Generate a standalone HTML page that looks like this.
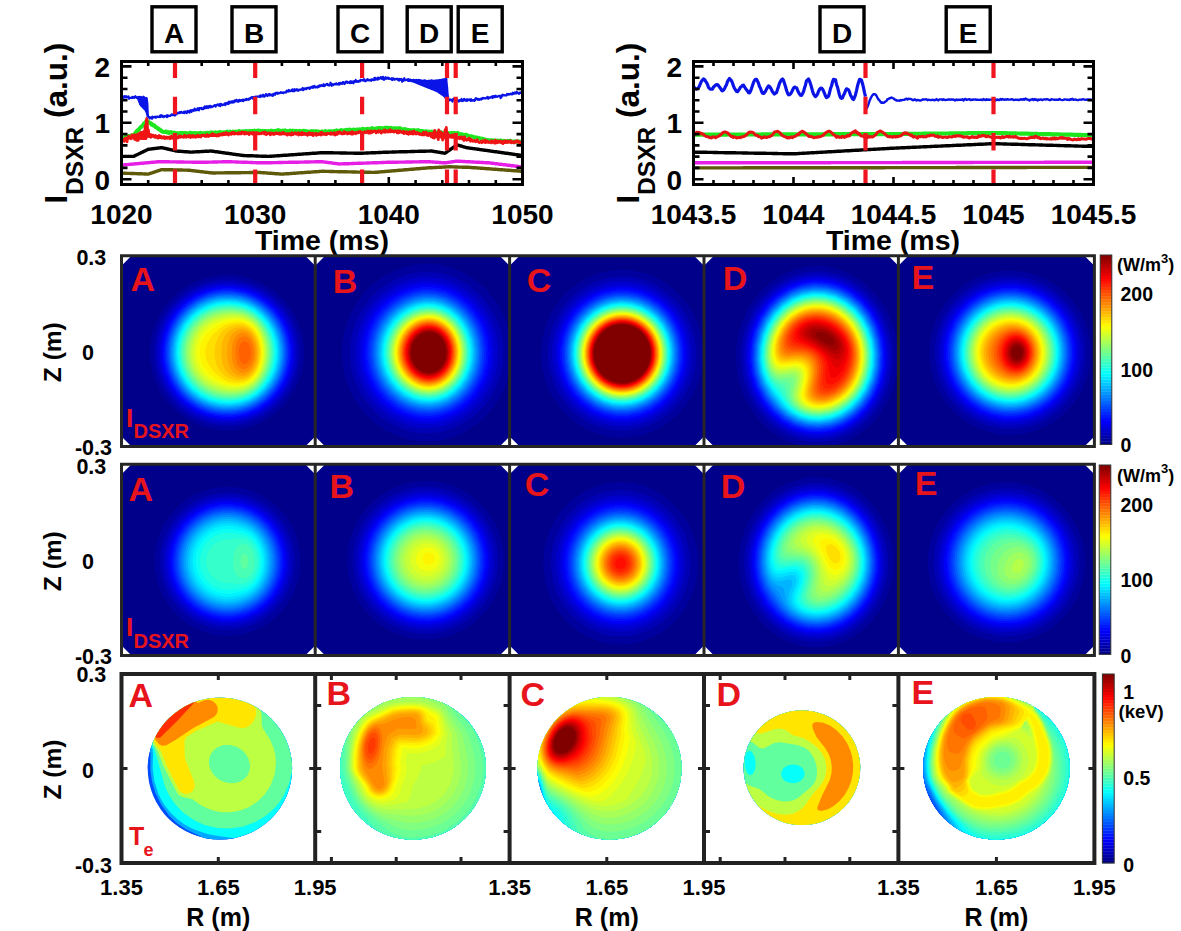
<!DOCTYPE html><html><head><meta charset="utf-8"><style>html,body{margin:0;padding:0;background:#fff;overflow:hidden}svg{display:block}text{font-family:"Liberation Sans",sans-serif;font-weight:bold}</style></head><body>
<svg width="1181" height="931" viewBox="0 0 1181 931">
<defs><clipPath id="c1"><rect x="123" y="63" width="398" height="120"/></clipPath><clipPath id="c2"><rect x="695" y="63" width="397" height="120"/></clipPath></defs>
<rect width="1181" height="931" fill="#fff"/>
<g clip-path="url(#c1)">
<polyline points="121.5,173.2 122.2,173.2 122.8,173.3 123.5,173.3 124.2,173.3 124.8,173.3 125.5,173.3 126.2,173.3 126.8,173.4 127.5,173.4 128.2,173.4 128.9,173.4 129.5,173.4 130.2,173.4 130.9,173.5 131.5,173.5 132.2,173.5 132.9,173.5 133.5,173.5 134.2,173.5 134.9,173.6 135.5,173.6 136.2,173.6 136.9,173.6 137.5,173.7 138.2,173.7 138.9,173.7 139.5,173.8 140.2,173.8 140.9,173.8 141.5,173.8 142.2,173.9 142.9,173.9 143.6,173.9 144.2,174.0 144.9,174.0 145.6,174.0 146.2,174.0 146.9,174.1 147.6,174.1 148.2,174.1 148.9,173.9 149.6,173.7 150.2,173.4 150.9,173.2 151.6,173.0 152.2,172.8 152.9,172.5 153.6,172.3 154.2,172.1 154.9,171.9 155.6,171.6 156.3,171.4 156.9,171.2 157.6,171.0 158.3,170.7 158.9,170.5 159.6,170.3 160.3,170.1 160.9,169.8 161.6,169.6 162.3,169.6 162.9,169.6 163.6,169.7 164.3,169.7 164.9,169.7 165.6,169.7 166.3,169.7 166.9,169.7 167.6,169.7 168.3,169.8 169.0,169.8 169.6,169.8 170.3,169.8 171.0,169.8 171.6,169.8 172.3,169.8 173.0,169.9 173.6,169.9 174.3,169.9 175.0,169.9 175.6,169.9 176.3,169.9 177.0,169.9 177.6,170.0 178.3,170.0 179.0,170.0 179.6,170.0 180.3,170.0 181.0,170.0 181.6,170.0 182.3,170.0 183.0,170.1 183.7,170.1 184.3,170.1 185.0,170.1 185.7,170.1 186.3,170.1 187.0,170.1 187.7,170.2 188.3,170.2 189.0,170.3 189.7,170.3 190.3,170.4 191.0,170.5 191.7,170.6 192.3,170.6 193.0,170.7 193.7,170.8 194.3,170.9 195.0,171.0 195.7,171.0 196.4,171.1 197.0,171.2 197.7,171.3 198.4,171.4 199.0,171.4 199.7,171.5 200.4,171.6 201.0,171.7 201.7,171.7 202.4,171.8 203.0,171.9 203.7,172.0 204.4,172.1 205.0,172.1 205.7,172.2 206.4,172.3 207.0,172.4 207.7,172.4 208.4,172.5 209.1,172.6 209.7,172.7 210.4,172.8 211.1,172.8 211.7,172.9 212.4,173.0 213.1,173.0 213.7,173.0 214.4,173.0 215.1,173.0 215.7,173.0 216.4,172.9 217.1,172.9 217.7,172.9 218.4,172.9 219.1,172.9 219.7,172.9 220.4,172.9 221.1,172.9 221.7,172.9 222.4,172.9 223.1,172.9 223.8,172.9 224.4,172.9 225.1,172.8 225.8,172.8 226.4,172.8 227.1,172.8 227.8,172.8 228.4,172.8 229.1,172.8 229.8,172.8 230.4,172.8 231.1,172.8 231.8,172.8 232.4,172.8 233.1,172.7 233.8,172.7 234.4,172.7 235.1,172.7 235.8,172.7 236.5,172.7 237.1,172.7 237.8,172.7 238.5,172.7 239.1,172.7 239.8,172.7 240.5,172.7 241.1,172.6 241.8,172.6 242.5,172.6 243.1,172.6 243.8,172.6 244.5,172.6 245.1,172.6 245.8,172.6 246.5,172.6 247.1,172.6 247.8,172.6 248.5,172.6 249.2,172.6 249.8,172.5 250.5,172.5 251.2,172.5 251.8,172.5 252.5,172.5 253.2,172.5 253.8,172.5 254.5,172.5 255.2,172.5 255.8,172.5 256.5,172.5 257.2,172.5 257.8,172.4 258.5,172.4 259.2,172.4 259.8,172.5 260.5,172.5 261.2,172.6 261.8,172.6 262.5,172.7 263.2,172.7 263.9,172.8 264.5,172.8 265.2,172.9 265.9,172.9 266.5,173.0 267.2,173.0 267.9,173.1 268.5,173.1 269.2,173.2 269.9,173.2 270.5,173.3 271.2,173.3 271.9,173.4 272.5,173.4 273.2,173.5 273.9,173.5 274.5,173.6 275.2,173.6 275.9,173.7 276.6,173.7 277.2,173.8 277.9,173.8 278.6,173.9 279.2,173.9 279.9,174.0 280.6,174.0 281.2,174.1 281.9,174.1 282.6,174.1 283.2,174.0 283.9,174.0 284.6,173.9 285.2,173.9 285.9,173.8 286.6,173.8 287.2,173.7 287.9,173.7 288.6,173.7 289.3,173.6 289.9,173.6 290.6,173.5 291.3,173.5 291.9,173.4 292.6,173.4 293.3,173.3 293.9,173.3 294.6,173.2 295.3,173.2 295.9,173.1 296.6,173.1 297.3,173.0 297.9,173.0 298.6,172.9 299.3,172.9 299.9,172.9 300.6,172.8 301.3,172.8 301.9,172.7 302.6,172.7 303.3,172.6 304.0,172.6 304.6,172.5 305.3,172.5 306.0,172.4 306.6,172.4 307.3,172.3 308.0,172.3 308.6,172.2 309.3,172.2 310.0,172.2 310.6,172.1 311.3,172.1 312.0,172.0 312.6,172.0 313.3,171.9 314.0,171.9 314.6,171.8 315.3,171.8 316.0,171.7 316.7,171.7 317.3,171.6 318.0,171.6 318.7,171.5 319.3,171.5 320.0,171.4 320.7,171.4 321.3,171.4 322.0,171.3 322.7,171.3 323.3,171.3 324.0,171.3 324.7,171.4 325.3,171.4 326.0,171.4 326.7,171.4 327.3,171.4 328.0,171.4 328.7,171.4 329.4,171.5 330.0,171.5 330.7,171.5 331.4,171.5 332.0,171.5 332.7,171.5 333.4,171.5 334.0,171.6 334.7,171.6 335.4,171.6 336.0,171.6 336.7,171.6 337.4,171.6 338.0,171.7 338.7,171.7 339.4,171.7 340.0,171.7 340.7,171.7 341.4,171.7 342.0,171.7 342.7,171.8 343.4,171.8 344.1,171.8 344.7,171.8 345.4,171.8 346.1,171.8 346.7,171.8 347.4,171.9 348.1,171.9 348.7,171.9 349.4,171.9 350.1,171.9 350.7,171.9 351.4,171.9 352.1,172.0 352.7,172.0 353.4,172.0 354.1,172.0 354.7,172.0 355.4,172.0 356.1,172.0 356.8,172.1 357.4,172.1 358.1,172.1 358.8,172.1 359.4,172.1 360.1,172.1 360.8,172.1 361.4,172.2 362.1,172.2 362.8,172.2 363.4,172.2 364.1,172.2 364.8,172.2 365.4,172.2 366.1,172.3 366.8,172.3 367.4,172.3 368.1,172.3 368.8,172.3 369.5,172.3 370.1,172.3 370.8,172.4 371.5,172.4 372.1,172.4 372.8,172.4 373.5,172.4 374.1,172.4 374.8,172.4 375.5,172.3 376.1,172.3 376.8,172.2 377.5,172.2 378.1,172.1 378.8,172.0 379.5,172.0 380.1,171.9 380.8,171.9 381.5,171.8 382.1,171.8 382.8,171.7 383.5,171.6 384.2,171.6 384.8,171.5 385.5,171.5 386.2,171.4 386.8,171.4 387.5,171.3 388.2,171.2 388.8,171.2 389.5,171.1 390.2,171.1 390.8,171.0 391.5,171.0 392.2,170.9 392.8,170.9 393.5,170.8 394.2,170.7 394.8,170.7 395.5,170.6 396.2,170.6 396.9,170.5 397.5,170.5 398.2,170.4 398.9,170.3 399.5,170.3 400.2,170.2 400.9,170.2 401.5,170.1 402.2,170.1 402.9,170.0 403.5,170.0 404.2,169.9 404.9,169.8 405.5,169.8 406.2,169.7 406.9,169.7 407.5,169.6 408.2,169.6 408.9,169.5 409.6,169.4 410.2,169.4 410.9,169.3 411.6,169.3 412.2,169.2 412.9,169.2 413.6,169.1 414.2,169.0 414.9,169.0 415.6,168.9 416.2,168.9 416.9,168.8 417.6,168.8 418.2,168.7 418.9,168.7 419.6,168.6 420.2,168.5 420.9,168.5 421.6,168.4 422.2,168.4 422.9,168.3 423.6,168.3 424.3,168.2 424.9,168.1 425.6,168.1 426.3,168.0 426.9,168.0 427.6,167.9 428.3,167.9 428.9,167.8 429.6,167.8 430.3,167.8 430.9,167.7 431.6,167.7 432.3,167.7 432.9,167.6 433.6,167.6 434.3,167.6 434.9,167.5 435.6,167.5 436.3,167.5 437.0,167.4 437.6,167.4 438.3,167.4 439.0,167.3 439.6,167.3 440.3,167.3 441.0,167.2 441.6,167.2 442.3,167.1 443.0,167.1 443.6,167.1 444.3,167.0 445.0,167.0 445.6,167.0 446.3,166.9 447.0,166.9 447.6,166.9 448.3,166.8 449.0,166.8 449.7,166.8 450.3,166.8 451.0,166.8 451.7,166.9 452.3,166.9 453.0,166.9 453.7,166.9 454.3,166.9 455.0,167.0 455.7,167.0 456.3,167.0 457.0,167.0 457.7,167.0 458.3,167.1 459.0,167.1 459.7,167.1 460.3,167.1 461.0,167.1 461.7,167.1 462.3,167.2 463.0,167.2 463.7,167.2 464.4,167.2 465.0,167.2 465.7,167.3 466.4,167.3 467.0,167.3 467.7,167.3 468.4,167.3 469.0,167.4 469.7,167.4 470.4,167.5 471.0,167.5 471.7,167.6 472.4,167.6 473.0,167.7 473.7,167.7 474.4,167.8 475.0,167.8 475.7,167.8 476.4,167.9 477.1,167.9 477.7,168.0 478.4,168.0 479.1,168.1 479.7,168.1 480.4,168.2 481.1,168.2 481.7,168.3 482.4,168.3 483.1,168.4 483.7,168.4 484.4,168.5 485.1,168.5 485.7,168.6 486.4,168.6 487.1,168.7 487.7,168.7 488.4,168.8 489.1,168.8 489.8,168.9 490.4,168.9 491.1,169.0 491.8,169.0 492.4,169.1 493.1,169.1 493.8,169.2 494.4,169.2 495.1,169.3 495.8,169.3 496.4,169.4 497.1,169.4 497.8,169.5 498.4,169.5 499.1,169.6 499.8,169.6 500.4,169.7 501.1,169.7 501.8,169.8 502.4,169.8 503.1,169.9 503.8,169.9 504.5,170.0 505.1,170.0 505.8,170.1 506.5,170.1 507.1,170.2 507.8,170.2 508.5,170.3 509.1,170.3 509.8,170.4 510.5,170.4 511.1,170.5 511.8,170.5 512.5,170.6 513.1,170.6 513.8,170.7 514.5,170.7 515.1,170.8 515.8,170.8 516.5,170.9 517.2,170.9 517.8,171.0 518.5,171.0 519.2,171.1 519.8,171.1 520.5,171.2 521.2,171.2 521.8,171.3 522.5,171.3" fill="none" stroke="#5f5a0a" stroke-width="3.4" stroke-linejoin="round" />
<polyline points="121.5,165.1 122.2,165.0 122.8,165.0 123.5,164.9 124.2,164.9 124.8,164.8 125.5,164.7 126.2,164.7 126.8,164.6 127.5,164.6 128.2,164.5 128.9,164.4 129.5,164.4 130.2,164.3 130.9,164.3 131.5,164.2 132.2,164.1 132.9,164.1 133.5,164.0 134.2,164.0 134.9,163.9 135.5,163.8 136.2,163.8 136.9,163.7 137.5,163.6 138.2,163.6 138.9,163.5 139.5,163.5 140.2,163.4 140.9,163.3 141.5,163.3 142.2,163.2 142.9,163.2 143.6,163.1 144.2,163.0 144.9,163.0 145.6,162.9 146.2,162.9 146.9,162.8 147.6,162.7 148.2,162.7 148.9,162.6 149.6,162.6 150.2,162.5 150.9,162.4 151.6,162.4 152.2,162.3 152.9,162.3 153.6,162.2 154.2,162.1 154.9,162.1 155.6,162.0 156.3,162.0 156.9,161.9 157.6,161.8 158.3,161.8 158.9,161.7 159.6,161.7 160.3,161.7 160.9,161.7 161.6,161.8 162.3,161.8 162.9,161.8 163.6,161.8 164.3,161.8 164.9,161.8 165.6,161.8 166.3,161.8 166.9,161.8 167.6,161.8 168.3,161.8 169.0,161.8 169.6,161.9 170.3,161.9 171.0,161.9 171.6,161.9 172.3,161.9 173.0,161.9 173.6,161.9 174.3,161.9 175.0,161.9 175.6,161.9 176.3,161.9 177.0,162.0 177.6,162.0 178.3,162.0 179.0,162.0 179.6,162.0 180.3,162.0 181.0,162.0 181.6,162.0 182.3,162.0 183.0,162.0 183.7,162.0 184.3,162.1 185.0,162.1 185.7,162.1 186.3,162.1 187.0,162.1 187.7,162.1 188.3,162.1 189.0,162.1 189.7,162.1 190.3,162.1 191.0,162.1 191.7,162.1 192.3,162.2 193.0,162.2 193.7,162.2 194.3,162.2 195.0,162.2 195.7,162.2 196.4,162.2 197.0,162.2 197.7,162.2 198.4,162.2 199.0,162.2 199.7,162.3 200.4,162.3 201.0,162.3 201.7,162.3 202.4,162.3 203.0,162.3 203.7,162.2 204.4,162.2 205.0,162.2 205.7,162.2 206.4,162.2 207.0,162.2 207.7,162.2 208.4,162.1 209.1,162.1 209.7,162.1 210.4,162.1 211.1,162.1 211.7,162.1 212.4,162.1 213.1,162.0 213.7,162.0 214.4,162.0 215.1,162.0 215.7,162.0 216.4,162.0 217.1,162.0 217.7,161.9 218.4,161.9 219.1,161.9 219.7,161.9 220.4,161.9 221.1,161.9 221.7,161.9 222.4,161.8 223.1,161.8 223.8,161.8 224.4,161.8 225.1,161.8 225.8,161.8 226.4,161.8 227.1,161.7 227.8,161.7 228.4,161.7 229.1,161.7 229.8,161.8 230.4,161.8 231.1,161.8 231.8,161.8 232.4,161.9 233.1,161.9 233.8,161.9 234.4,161.9 235.1,161.9 235.8,162.0 236.5,162.0 237.1,162.0 237.8,162.0 238.5,162.1 239.1,162.1 239.8,162.1 240.5,162.1 241.1,162.1 241.8,162.2 242.5,162.2 243.1,162.2 243.8,162.2 244.5,162.3 245.1,162.3 245.8,162.3 246.5,162.3 247.1,162.3 247.8,162.4 248.5,162.4 249.2,162.4 249.8,162.4 250.5,162.5 251.2,162.5 251.8,162.5 252.5,162.5 253.2,162.6 253.8,162.6 254.5,162.6 255.2,162.6 255.8,162.6 256.5,162.7 257.2,162.7 257.8,162.7 258.5,162.7 259.2,162.8 259.8,162.8 260.5,162.8 261.2,162.8 261.8,162.8 262.5,162.8 263.2,162.8 263.9,162.8 264.5,162.8 265.2,162.8 265.9,162.8 266.5,162.8 267.2,162.7 267.9,162.7 268.5,162.7 269.2,162.7 269.9,162.7 270.5,162.7 271.2,162.7 271.9,162.7 272.5,162.6 273.2,162.6 273.9,162.6 274.5,162.6 275.2,162.6 275.9,162.6 276.6,162.6 277.2,162.6 277.9,162.5 278.6,162.5 279.2,162.5 279.9,162.5 280.6,162.5 281.2,162.5 281.9,162.5 282.6,162.5 283.2,162.4 283.9,162.4 284.6,162.4 285.2,162.4 285.9,162.4 286.6,162.4 287.2,162.4 287.9,162.4 288.6,162.3 289.3,162.3 289.9,162.3 290.6,162.3 291.3,162.3 291.9,162.3 292.6,162.3 293.3,162.3 293.9,162.2 294.6,162.2 295.3,162.2 295.9,162.2 296.6,162.2 297.3,162.2 297.9,162.2 298.6,162.2 299.3,162.1 299.9,162.1 300.6,162.1 301.3,162.1 301.9,162.1 302.6,162.1 303.3,162.1 304.0,162.1 304.6,162.0 305.3,162.0 306.0,162.0 306.6,162.0 307.3,162.0 308.0,162.0 308.6,162.0 309.3,162.0 310.0,161.9 310.6,161.9 311.3,161.9 312.0,161.9 312.6,161.9 313.3,161.9 314.0,161.9 314.6,161.9 315.3,161.8 316.0,161.8 316.7,161.8 317.3,161.8 318.0,161.8 318.7,161.8 319.3,161.8 320.0,161.8 320.7,161.7 321.3,161.7 322.0,161.7 322.7,161.8 323.3,161.9 324.0,162.0 324.7,162.1 325.3,162.1 326.0,162.2 326.7,162.3 327.3,162.4 328.0,162.5 328.7,162.6 329.4,162.7 330.0,162.8 330.7,162.8 331.4,162.9 332.0,163.0 332.7,163.1 333.4,163.2 334.0,163.3 334.7,163.4 335.4,163.5 336.0,163.5 336.7,163.6 337.4,163.7 338.0,163.8 338.7,163.9 339.4,164.0 340.0,163.9 340.7,163.9 341.4,163.9 342.0,163.9 342.7,163.9 343.4,163.8 344.1,163.8 344.7,163.8 345.4,163.8 346.1,163.7 346.7,163.7 347.4,163.7 348.1,163.7 348.7,163.7 349.4,163.6 350.1,163.6 350.7,163.6 351.4,163.6 352.1,163.5 352.7,163.5 353.4,163.5 354.1,163.5 354.7,163.4 355.4,163.4 356.1,163.4 356.8,163.4 357.4,163.4 358.1,163.3 358.8,163.3 359.4,163.3 360.1,163.3 360.8,163.2 361.4,163.2 362.1,163.2 362.8,163.2 363.4,163.1 364.1,163.1 364.8,163.1 365.4,163.1 366.1,163.1 366.8,163.0 367.4,163.0 368.1,163.0 368.8,163.0 369.5,162.9 370.1,162.9 370.8,162.9 371.5,162.9 372.1,162.9 372.8,162.8 373.5,162.8 374.1,162.8 374.8,162.8 375.5,162.7 376.1,162.7 376.8,162.7 377.5,162.7 378.1,162.6 378.8,162.6 379.5,162.6 380.1,162.6 380.8,162.6 381.5,162.5 382.1,162.5 382.8,162.5 383.5,162.5 384.2,162.4 384.8,162.4 385.5,162.4 386.2,162.4 386.8,162.3 387.5,162.3 388.2,162.3 388.8,162.3 389.5,162.3 390.2,162.3 390.8,162.3 391.5,162.2 392.2,162.2 392.8,162.2 393.5,162.2 394.2,162.2 394.8,162.2 395.5,162.2 396.2,162.2 396.9,162.2 397.5,162.2 398.2,162.1 398.9,162.1 399.5,162.1 400.2,162.1 400.9,162.1 401.5,162.1 402.2,162.1 402.9,162.1 403.5,162.1 404.2,162.1 404.9,162.1 405.5,162.0 406.2,162.0 406.9,162.0 407.5,162.0 408.2,162.0 408.9,162.0 409.6,162.0 410.2,162.0 410.9,162.0 411.6,162.0 412.2,162.0 412.9,161.9 413.6,161.9 414.2,161.9 414.9,161.9 415.6,161.9 416.2,161.9 416.9,161.9 417.6,161.9 418.2,161.9 418.9,161.9 419.6,161.8 420.2,161.8 420.9,161.8 421.6,161.8 422.2,161.8 422.9,161.8 423.6,161.8 424.3,161.8 424.9,161.8 425.6,161.8 426.3,161.8 426.9,161.7 427.6,161.7 428.3,161.7 428.9,161.7 429.6,161.8 430.3,161.8 430.9,161.9 431.6,161.9 432.3,162.0 432.9,162.0 433.6,162.0 434.3,162.1 434.9,162.1 435.6,162.2 436.3,162.2 437.0,162.3 437.6,162.3 438.3,162.4 439.0,162.4 439.6,162.5 440.3,162.5 441.0,162.6 441.6,162.6 442.3,162.7 443.0,162.7 443.6,162.7 444.3,162.8 445.0,162.8 445.6,162.8 446.3,162.7 447.0,162.6 447.6,162.5 448.3,162.4 449.0,162.3 449.7,162.2 450.3,162.1 451.0,162.0 451.7,161.9 452.3,161.8 453.0,161.7 453.7,161.6 454.3,161.5 455.0,161.4 455.7,161.3 456.3,161.2 457.0,161.2 457.7,161.2 458.3,161.2 459.0,161.3 459.7,161.3 460.3,161.3 461.0,161.4 461.7,161.4 462.3,161.4 463.0,161.5 463.7,161.5 464.4,161.5 465.0,161.6 465.7,161.6 466.4,161.6 467.0,161.7 467.7,161.7 468.4,161.8 469.0,161.8 469.7,161.8 470.4,161.9 471.0,161.9 471.7,161.9 472.4,162.0 473.0,162.0 473.7,162.0 474.4,162.1 475.0,162.1 475.7,162.1 476.4,162.2 477.1,162.2 477.7,162.2 478.4,162.3 479.1,162.3 479.7,162.4 480.4,162.4 481.1,162.4 481.7,162.5 482.4,162.5 483.1,162.5 483.7,162.6 484.4,162.6 485.1,162.6 485.7,162.7 486.4,162.7 487.1,162.7 487.7,162.8 488.4,162.8 489.1,162.8 489.8,162.9 490.4,163.0 491.1,163.1 491.8,163.2 492.4,163.3 493.1,163.3 493.8,163.4 494.4,163.5 495.1,163.6 495.8,163.7 496.4,163.8 497.1,163.8 497.8,163.9 498.4,164.0 499.1,164.1 499.8,164.2 500.4,164.3 501.1,164.3 501.8,164.4 502.4,164.5 503.1,164.6 503.8,164.7 504.5,164.8 505.1,164.8 505.8,164.9 506.5,165.0 507.1,165.1 507.8,165.2 508.5,165.3 509.1,165.3 509.8,165.4 510.5,165.5 511.1,165.6 511.8,165.7 512.5,165.8 513.1,165.8 513.8,165.9 514.5,166.0 515.1,166.1 515.8,166.2 516.5,166.3 517.2,166.3 517.8,166.4 518.5,166.5 519.2,166.6 519.8,166.7 520.5,166.8 521.2,166.9 521.8,166.9 522.5,167.0" fill="none" stroke="#e61ee6" stroke-width="3.4" stroke-linejoin="round" />
<polyline points="121.5,156.4 122.2,156.4 122.8,156.4 123.5,156.4 124.2,156.4 124.8,156.4 125.5,156.4 126.2,156.4 126.8,156.4 127.5,156.4 128.2,156.4 128.9,156.4 129.5,156.4 130.2,156.4 130.9,156.4 131.5,156.4 132.2,156.4 132.9,156.4 133.5,156.4 134.2,156.1 134.9,155.8 135.5,155.4 136.2,155.1 136.9,154.8 137.5,154.5 138.2,154.2 138.9,153.8 139.5,153.5 140.2,153.2 140.9,152.9 141.5,152.5 142.2,152.2 142.9,151.9 143.6,151.6 144.2,151.2 144.9,150.9 145.6,150.6 146.2,150.3 146.9,150.0 147.6,149.6 148.2,149.3 148.9,149.2 149.6,149.1 150.2,149.1 150.9,149.0 151.6,148.9 152.2,148.8 152.9,148.7 153.6,148.6 154.2,148.5 154.9,148.5 155.6,148.4 156.3,148.3 156.9,148.2 157.6,148.1 158.3,148.0 158.9,148.0 159.6,147.9 160.3,147.8 160.9,147.7 161.6,147.6 162.3,147.8 162.9,147.9 163.6,148.1 164.3,148.2 164.9,148.4 165.6,148.5 166.3,148.7 166.9,148.8 167.6,149.0 168.3,149.2 169.0,149.3 169.6,149.5 170.3,149.6 171.0,149.8 171.6,149.9 172.3,150.1 173.0,150.2 173.6,150.4 174.3,150.5 175.0,150.7 175.6,150.8 176.3,151.0 177.0,151.1 177.6,151.1 178.3,151.2 179.0,151.2 179.6,151.3 180.3,151.3 181.0,151.4 181.6,151.4 182.3,151.5 183.0,151.5 183.7,151.6 184.3,151.6 185.0,151.7 185.7,151.7 186.3,151.8 187.0,151.8 187.7,151.9 188.3,151.9 189.0,152.0 189.7,152.0 190.3,152.1 191.0,152.1 191.7,152.1 192.3,152.1 193.0,152.0 193.7,152.0 194.3,151.9 195.0,151.9 195.7,151.9 196.4,151.8 197.0,151.8 197.7,151.8 198.4,151.7 199.0,151.7 199.7,151.6 200.4,151.6 201.0,151.6 201.7,151.5 202.4,151.5 203.0,151.5 203.7,151.4 204.4,151.4 205.0,151.3 205.7,151.3 206.4,151.3 207.0,151.2 207.7,151.2 208.4,151.2 209.1,151.1 209.7,151.1 210.4,151.0 211.1,151.0 211.7,151.1 212.4,151.2 213.1,151.3 213.7,151.4 214.4,151.5 215.1,151.6 215.7,151.7 216.4,151.8 217.1,151.8 217.7,151.9 218.4,152.0 219.1,152.1 219.7,152.2 220.4,152.3 221.1,152.4 221.7,152.5 222.4,152.6 223.1,152.7 223.8,152.8 224.4,152.9 225.1,153.0 225.8,153.1 226.4,153.2 227.1,153.3 227.8,153.3 228.4,153.4 229.1,153.5 229.8,153.6 230.4,153.7 231.1,153.8 231.8,153.9 232.4,154.0 233.1,154.1 233.8,154.2 234.4,154.3 235.1,154.4 235.8,154.5 236.5,154.6 237.1,154.7 237.8,154.8 238.5,154.9 239.1,154.9 239.8,155.0 240.5,155.1 241.1,155.2 241.8,155.3 242.5,155.4 243.1,155.5 243.8,155.5 244.5,155.6 245.1,155.6 245.8,155.6 246.5,155.6 247.1,155.7 247.8,155.7 248.5,155.7 249.2,155.7 249.8,155.7 250.5,155.8 251.2,155.8 251.8,155.8 252.5,155.8 253.2,155.9 253.8,155.9 254.5,155.9 255.2,155.9 255.8,156.0 256.5,156.0 257.2,156.0 257.8,156.0 258.5,156.1 259.2,156.1 259.8,156.1 260.5,156.1 261.2,156.2 261.8,156.2 262.5,156.2 263.2,156.2 263.9,156.2 264.5,156.3 265.2,156.3 265.9,156.3 266.5,156.3 267.2,156.4 267.9,156.4 268.5,156.4 269.2,156.4 269.9,156.3 270.5,156.3 271.2,156.2 271.9,156.2 272.5,156.1 273.2,156.1 273.9,156.0 274.5,156.0 275.2,155.9 275.9,155.9 276.6,155.9 277.2,155.8 277.9,155.8 278.6,155.7 279.2,155.7 279.9,155.6 280.6,155.6 281.2,155.5 281.9,155.5 282.6,155.4 283.2,155.4 283.9,155.3 284.6,155.3 285.2,155.3 285.9,155.2 286.6,155.2 287.2,155.1 287.9,155.1 288.6,155.0 289.3,155.0 289.9,154.9 290.6,154.9 291.3,154.8 291.9,154.8 292.6,154.7 293.3,154.7 293.9,154.6 294.6,154.6 295.3,154.6 295.9,154.5 296.6,154.5 297.3,154.4 297.9,154.4 298.6,154.3 299.3,154.3 299.9,154.2 300.6,154.2 301.3,154.1 301.9,154.1 302.6,154.0 303.3,154.0 304.0,153.9 304.6,153.9 305.3,153.9 306.0,153.8 306.6,153.8 307.3,153.7 308.0,153.7 308.6,153.6 309.3,153.6 310.0,153.5 310.6,153.5 311.3,153.4 312.0,153.4 312.6,153.3 313.3,153.3 314.0,153.3 314.6,153.2 315.3,153.2 316.0,153.1 316.7,153.1 317.3,153.0 318.0,153.0 318.7,152.9 319.3,152.9 320.0,152.8 320.7,152.8 321.3,152.7 322.0,152.7 322.7,152.7 323.3,152.7 324.0,152.7 324.7,152.7 325.3,152.7 326.0,152.8 326.7,152.8 327.3,152.8 328.0,152.8 328.7,152.8 329.4,152.8 330.0,152.8 330.7,152.8 331.4,152.8 332.0,152.8 332.7,152.8 333.4,152.9 334.0,152.9 334.7,152.9 335.4,152.9 336.0,152.9 336.7,152.9 337.4,152.9 338.0,152.9 338.7,152.9 339.4,152.9 340.0,153.0 340.7,153.0 341.4,153.0 342.0,153.0 342.7,153.0 343.4,153.0 344.1,153.0 344.7,153.0 345.4,153.0 346.1,153.0 346.7,153.1 347.4,153.1 348.1,153.1 348.7,153.1 349.4,153.1 350.1,153.1 350.7,153.1 351.4,153.1 352.1,153.1 352.7,153.1 353.4,153.1 354.1,153.2 354.7,153.2 355.4,153.2 356.1,153.2 356.8,153.2 357.4,153.2 358.1,153.2 358.8,153.2 359.4,153.2 360.1,153.2 360.8,153.3 361.4,153.2 362.1,153.2 362.8,153.2 363.4,153.1 364.1,153.1 364.8,153.1 365.4,153.1 366.1,153.0 366.8,153.0 367.4,153.0 368.1,153.0 368.8,152.9 369.5,152.9 370.1,152.9 370.8,152.9 371.5,152.8 372.1,152.8 372.8,152.8 373.5,152.7 374.1,152.7 374.8,152.7 375.5,152.7 376.1,152.6 376.8,152.6 377.5,152.6 378.1,152.6 378.8,152.5 379.5,152.5 380.1,152.5 380.8,152.5 381.5,152.4 382.1,152.4 382.8,152.4 383.5,152.3 384.2,152.3 384.8,152.3 385.5,152.3 386.2,152.2 386.8,152.2 387.5,152.2 388.2,152.2 388.8,152.1 389.5,152.1 390.2,152.1 390.8,152.1 391.5,152.1 392.2,152.0 392.8,152.0 393.5,152.0 394.2,152.0 394.8,152.0 395.5,152.0 396.2,151.9 396.9,151.9 397.5,151.9 398.2,151.9 398.9,151.9 399.5,151.8 400.2,151.8 400.9,151.8 401.5,151.8 402.2,151.8 402.9,151.8 403.5,151.7 404.2,151.7 404.9,151.7 405.5,151.7 406.2,151.7 406.9,151.7 407.5,151.6 408.2,151.6 408.9,151.6 409.6,151.6 410.2,151.6 410.9,151.5 411.6,151.5 412.2,151.5 412.9,151.5 413.6,151.5 414.2,151.5 414.9,151.4 415.6,151.4 416.2,151.4 416.9,151.4 417.6,151.4 418.2,151.4 418.9,151.3 419.6,151.3 420.2,151.3 420.9,151.3 421.6,151.3 422.2,151.2 422.9,151.2 423.6,151.2 424.3,151.2 424.9,151.2 425.6,151.2 426.3,151.1 426.9,151.1 427.6,151.1 428.3,151.1 428.9,151.1 429.6,151.1 430.3,151.0 430.9,151.0 431.6,151.0 432.3,151.1 432.9,151.2 433.6,151.3 434.3,151.5 434.9,151.6 435.6,151.7 436.3,151.8 437.0,151.9 437.6,152.0 438.3,152.1 439.0,152.2 439.6,152.4 440.3,152.5 441.0,152.6 441.6,152.7 442.3,152.8 443.0,152.9 443.6,153.0 444.3,153.1 445.0,153.3 445.6,152.8 446.3,152.3 447.0,151.8 447.6,151.4 448.3,150.9 449.0,150.4 449.7,150.0 450.3,149.5 451.0,149.0 451.7,148.6 452.3,148.1 453.0,147.6 453.7,147.1 454.3,146.7 455.0,146.2 455.7,145.7 456.3,145.3 457.0,144.8 457.7,145.0 458.3,145.2 459.0,145.4 459.7,145.6 460.3,145.8 461.0,146.0 461.7,146.2 462.3,146.4 463.0,146.6 463.7,146.8 464.4,147.0 465.0,147.2 465.7,147.4 466.4,147.6 467.0,147.7 467.7,147.8 468.4,147.9 469.0,148.0 469.7,148.1 470.4,148.2 471.0,148.3 471.7,148.4 472.4,148.5 473.0,148.6 473.7,148.6 474.4,148.7 475.0,148.8 475.7,148.9 476.4,149.0 477.1,149.1 477.7,149.2 478.4,149.3 479.1,149.4 479.7,149.5 480.4,149.6 481.1,149.7 481.7,149.8 482.4,149.9 483.1,150.0 483.7,150.1 484.4,150.2 485.1,150.2 485.7,150.3 486.4,150.4 487.1,150.5 487.7,150.6 488.4,150.7 489.1,150.8 489.8,150.9 490.4,151.0 491.1,151.1 491.8,151.2 492.4,151.3 493.1,151.4 493.8,151.5 494.4,151.6 495.1,151.7 495.8,151.8 496.4,151.8 497.1,151.9 497.8,152.0 498.4,152.1 499.1,152.2 499.8,152.3 500.4,152.4 501.1,152.5 501.8,152.6 502.4,152.7 503.1,152.8 503.8,152.9 504.5,153.0 505.1,153.1 505.8,153.2 506.5,153.3 507.1,153.3 507.8,153.4 508.5,153.5 509.1,153.6 509.8,153.7 510.5,153.8 511.1,153.9 511.8,154.0 512.5,154.1 513.1,154.2 513.8,154.3 514.5,154.4 515.1,154.5 515.8,154.6 516.5,154.7 517.2,154.8 517.8,154.9 518.5,154.9 519.2,155.0 519.8,155.1 520.5,155.2 521.2,155.3 521.8,155.4 522.5,155.5" fill="none" stroke="#000" stroke-width="3.4" stroke-linejoin="round" />
<polyline points="121.5,137.7 122.2,137.4 122.8,137.5 123.5,137.6 124.2,137.3 124.8,137.3 125.5,136.8 126.2,136.2 126.8,136.7 127.5,136.6 128.2,136.1 128.9,136.0 129.5,135.9 130.2,136.1 130.9,135.7 131.5,135.3 132.2,135.8 132.9,135.4 133.5,135.2 134.2,134.3 134.9,133.8 135.5,132.5 136.2,132.2 136.9,131.0 137.5,130.4 138.2,129.8 138.9,129.9 139.5,128.5 140.2,127.7 140.9,127.0 141.5,126.8 142.2,125.8 142.9,125.3 143.6,124.5 144.2,123.2 144.9,123.2 145.6,122.2 146.2,121.2 146.9,121.0 147.6,121.3 148.2,121.7 148.9,122.2 149.6,123.1 150.2,123.1 150.9,123.2 151.6,124.6 152.2,124.3 152.9,125.0 153.6,125.7 154.2,125.3 154.9,126.2 155.6,127.3 156.3,127.3 156.9,127.6 157.6,128.4 158.3,128.5 158.9,129.3 159.6,129.5 160.3,129.7 160.9,130.9 161.6,131.0 162.3,131.7 162.9,131.5 163.6,132.1 164.3,131.9 164.9,131.9 165.6,131.6 166.3,131.6 166.9,132.5 167.6,132.4 168.3,132.0 169.0,133.0 169.6,132.6 170.3,132.5 171.0,132.1 171.6,132.4 172.3,132.8 173.0,132.9 173.6,133.0 174.3,132.5 175.0,133.2 175.6,133.3 176.3,133.1 177.0,133.3 177.6,133.3 178.3,133.6 179.0,133.2 179.6,133.4 180.3,132.8 181.0,133.0 181.6,133.2 182.3,133.0 183.0,133.3 183.7,132.9 184.3,133.2 185.0,133.0 185.7,133.7 186.3,133.1 187.0,133.8 187.7,133.9 188.3,133.3 189.0,133.5 189.7,133.2 190.3,132.5 191.0,133.5 191.7,133.4 192.3,133.2 193.0,133.1 193.7,133.3 194.3,133.3 195.0,133.0 195.7,133.1 196.4,133.6 197.0,133.3 197.7,133.2 198.4,133.6 199.0,133.1 199.7,133.5 200.4,132.9 201.0,133.2 201.7,133.2 202.4,133.4 203.0,133.3 203.7,133.9 204.4,133.6 205.0,133.0 205.7,133.8 206.4,132.8 207.0,133.6 207.7,132.8 208.4,133.3 209.1,132.7 209.7,132.9 210.4,133.4 211.1,132.4 211.7,132.3 212.4,132.8 213.1,132.8 213.7,132.8 214.4,133.0 215.1,132.3 215.7,132.8 216.4,132.6 217.1,132.8 217.7,132.7 218.4,132.9 219.1,132.0 219.7,132.5 220.4,132.1 221.1,132.4 221.7,132.6 222.4,132.4 223.1,132.5 223.8,132.2 224.4,132.3 225.1,132.3 225.8,132.6 226.4,132.4 227.1,131.5 227.8,132.3 228.4,132.4 229.1,131.9 229.8,131.5 230.4,132.4 231.1,131.9 231.8,132.1 232.4,132.4 233.1,131.5 233.8,131.8 234.4,131.7 235.1,131.9 235.8,131.5 236.5,131.8 237.1,131.6 237.8,131.9 238.5,131.9 239.1,131.0 239.8,131.6 240.5,131.4 241.1,131.5 241.8,131.6 242.5,131.6 243.1,131.2 243.8,131.5 244.5,131.4 245.1,131.4 245.8,131.0 246.5,131.1 247.1,131.2 247.8,131.5 248.5,131.8 249.2,131.0 249.8,131.0 250.5,131.3 251.2,131.1 251.8,131.0 252.5,131.0 253.2,130.9 253.8,131.4 254.5,130.7 255.2,131.6 255.8,130.9 256.5,131.0 257.2,130.9 257.8,130.5 258.5,130.6 259.2,131.5 259.8,131.7 260.5,130.8 261.2,131.4 261.8,131.1 262.5,130.8 263.2,131.6 263.9,131.7 264.5,130.9 265.2,131.0 265.9,131.1 266.5,131.0 267.2,131.3 267.9,131.5 268.5,131.0 269.2,131.3 269.9,131.5 270.5,130.7 271.2,130.9 271.9,130.7 272.5,131.2 273.2,131.1 273.9,131.2 274.5,131.1 275.2,130.8 275.9,131.1 276.6,130.7 277.2,130.7 277.9,130.1 278.6,131.2 279.2,130.4 279.9,130.8 280.6,130.7 281.2,131.2 281.9,130.9 282.6,130.5 283.2,130.8 283.9,130.7 284.6,130.9 285.2,130.4 285.9,130.8 286.6,131.6 287.2,131.1 287.9,131.5 288.6,132.0 289.3,131.1 289.9,130.5 290.6,130.9 291.3,131.4 291.9,131.3 292.6,130.6 293.3,131.0 293.9,131.0 294.6,131.1 295.3,131.1 295.9,130.8 296.6,130.9 297.3,131.1 297.9,131.5 298.6,131.0 299.3,131.4 299.9,130.8 300.6,131.7 301.3,131.3 301.9,131.3 302.6,131.7 303.3,130.7 304.0,130.8 304.6,131.5 305.3,131.1 306.0,131.2 306.6,132.3 307.3,131.3 308.0,131.4 308.6,131.4 309.3,131.8 310.0,131.6 310.6,131.6 311.3,131.1 312.0,131.4 312.6,131.6 313.3,131.1 314.0,131.8 314.6,131.7 315.3,132.3 316.0,131.1 316.7,131.3 317.3,131.4 318.0,131.5 318.7,131.7 319.3,131.7 320.0,131.9 320.7,131.9 321.3,131.8 322.0,131.3 322.7,131.6 323.3,131.8 324.0,131.9 324.7,131.9 325.3,131.1 326.0,131.4 326.7,131.5 327.3,131.6 328.0,131.8 328.7,131.4 329.4,131.1 330.0,131.5 330.7,131.4 331.4,131.3 332.0,131.2 332.7,131.7 333.4,131.2 334.0,131.4 334.7,130.8 335.4,131.3 336.0,130.8 336.7,130.4 337.4,131.0 338.0,131.1 338.7,130.8 339.4,130.8 340.0,131.1 340.7,130.5 341.4,130.0 342.0,130.7 342.7,130.6 343.4,130.9 344.1,130.4 344.7,130.9 345.4,130.8 346.1,129.9 346.7,130.6 347.4,129.9 348.1,129.7 348.7,130.1 349.4,130.0 350.1,129.5 350.7,130.2 351.4,130.3 352.1,130.5 352.7,130.0 353.4,129.4 354.1,129.6 354.7,130.2 355.4,130.1 356.1,129.9 356.8,129.6 357.4,129.8 358.1,129.6 358.8,129.5 359.4,129.7 360.1,129.5 360.8,129.4 361.4,129.5 362.1,129.2 362.8,128.7 363.4,129.1 364.1,129.3 364.8,129.8 365.4,129.1 366.1,129.8 366.8,129.6 367.4,128.8 368.1,128.8 368.8,129.1 369.5,129.5 370.1,129.0 370.8,129.1 371.5,128.6 372.1,128.0 372.8,128.7 373.5,129.0 374.1,129.1 374.8,128.7 375.5,128.7 376.1,129.0 376.8,128.5 377.5,128.9 378.1,128.1 378.8,128.0 379.5,128.0 380.1,128.5 380.8,128.1 381.5,128.3 382.1,128.3 382.8,128.3 383.5,128.6 384.2,128.6 384.8,127.8 385.5,128.1 386.2,127.9 386.8,127.6 387.5,128.5 388.2,128.2 388.8,127.9 389.5,127.9 390.2,128.3 390.8,127.8 391.5,128.2 392.2,128.7 392.8,128.7 393.5,128.2 394.2,128.3 394.8,129.2 395.5,128.2 396.2,128.5 396.9,128.3 397.5,128.9 398.2,129.0 398.9,129.3 399.5,128.1 400.2,129.1 400.9,128.6 401.5,129.4 402.2,129.2 402.9,129.9 403.5,129.5 404.2,129.1 404.9,129.9 405.5,129.2 406.2,129.5 406.9,130.0 407.5,129.9 408.2,130.0 408.9,129.9 409.6,130.1 410.2,130.3 410.9,130.2 411.6,130.5 412.2,130.6 412.9,130.3 413.6,130.0 414.2,130.9 414.9,130.4 415.6,130.7 416.2,130.9 416.9,130.3 417.6,130.9 418.2,130.2 418.9,131.1 419.6,130.7 420.2,131.0 420.9,131.2 421.6,130.9 422.2,131.2 422.9,131.0 423.6,131.3 424.3,131.7 424.9,131.4 425.6,131.4 426.3,131.2 426.9,131.9 427.6,131.6 428.3,132.3 428.9,131.5 429.6,132.2 430.3,132.5 430.9,131.9 431.6,131.6 432.3,132.6 432.9,132.5 433.6,132.4 434.3,132.6 434.9,132.2 435.6,132.6 436.3,132.7 437.0,132.3 437.6,132.8 438.3,132.5 439.0,133.0 439.6,133.1 440.3,133.4 441.0,132.2 441.6,133.0 442.3,132.9 443.0,133.1 443.6,133.1 444.3,133.2 445.0,132.6 445.6,133.6 446.3,133.8 447.0,133.6 447.6,133.7 448.3,133.0 449.0,133.0 449.7,133.6 450.3,133.7 451.0,133.4 451.7,132.8 452.3,134.2 453.0,133.1 453.7,133.6 454.3,132.9 455.0,133.6 455.7,133.3 456.3,133.7 457.0,133.6 457.7,132.9 458.3,133.3 459.0,133.8 459.7,134.1 460.3,134.6 461.0,134.2 461.7,134.3 462.3,134.4 463.0,134.6 463.7,135.1 464.4,134.9 465.0,135.0 465.7,134.7 466.4,134.7 467.0,135.5 467.7,135.8 468.4,135.8 469.0,136.1 469.7,136.3 470.4,136.2 471.0,136.7 471.7,136.3 472.4,136.6 473.0,136.7 473.7,137.0 474.4,137.3 475.0,137.5 475.7,137.4 476.4,137.7 477.1,137.6 477.7,137.8 478.4,138.4 479.1,138.1 479.7,138.7 480.4,138.6 481.1,138.6 481.7,139.4 482.4,138.8 483.1,138.9 483.7,139.2 484.4,139.4 485.1,139.5 485.7,139.9 486.4,139.8 487.1,140.0 487.7,140.0 488.4,140.5 489.1,140.2 489.8,140.3 490.4,140.4 491.1,140.5 491.8,140.2 492.4,141.0 493.1,140.3 493.8,140.4 494.4,140.5 495.1,140.5 495.8,140.8 496.4,140.7 497.1,140.5 497.8,140.6 498.4,140.7 499.1,141.3 499.8,140.6 500.4,140.5 501.1,140.6 501.8,140.8 502.4,141.5 503.1,140.7 503.8,141.1 504.5,141.9 505.1,141.0 505.8,141.6 506.5,141.6 507.1,141.4 507.8,140.8 508.5,141.4 509.1,141.2 509.8,140.7 510.5,140.8 511.1,141.4 511.8,141.5 512.5,141.9 513.1,141.7 513.8,141.4 514.5,141.4 515.1,141.6 515.8,141.3 516.5,141.9 517.2,141.7 517.8,141.5 518.5,141.6 519.2,141.4 519.8,141.7 520.5,142.0 521.2,141.8 521.8,142.3 522.5,142.5" fill="none" stroke="#1ee61e" stroke-width="4" stroke-linejoin="round" />
<polyline points="121.5,139.3 121.9,139.7 122.3,139.4 122.7,140.8 123.1,139.7 123.5,139.9 123.9,140.1 124.3,141.3 124.7,139.5 125.1,138.2 125.5,138.7 125.9,139.6 126.3,138.9 126.7,138.0 127.1,141.9 127.5,138.9 127.9,138.0 128.3,137.7 128.7,136.3 129.1,136.9 129.5,137.9 129.9,137.9 130.3,137.1 130.7,138.9 131.1,138.2 131.5,136.6 131.9,134.9 132.3,138.1 132.7,137.9 133.1,137.4 133.5,135.4 133.9,137.7 134.3,134.8 134.7,139.3 135.1,137.8 135.5,137.7 135.9,135.5 136.3,134.7 136.7,140.4 137.1,139.0 137.5,135.9 137.9,138.3 138.3,140.4 138.7,133.6 139.1,134.9 139.5,134.8 139.9,137.4 140.3,132.9 140.7,136.5 141.1,132.3 141.5,138.5 142.0,138.3 142.4,134.7 142.8,137.6 143.2,132.7 143.6,133.9 144.0,137.7 144.4,133.2 144.8,133.2 145.2,126.0 145.6,129.5 146.0,126.8 146.4,120.5 146.8,118.5 147.2,122.1 147.6,130.6 148.0,132.1 148.4,130.0 148.8,134.7 149.2,136.7 149.6,134.7 150.0,134.3 150.4,136.3 150.8,137.3 151.2,137.0 151.6,134.8 152.0,136.5 152.4,135.9 152.8,135.7 153.2,135.3 153.6,136.4 154.0,135.7 154.4,137.1 154.8,136.6 155.2,137.3 155.6,135.5 156.0,136.6 156.4,137.3 156.8,137.0 157.2,137.0 157.6,136.4 158.0,138.2 158.4,137.8 158.8,137.4 159.2,135.5 159.6,136.7 160.0,137.5 160.4,137.0 160.8,136.3 161.2,137.8 161.6,138.0 162.0,137.0 162.4,137.4 162.8,137.3 163.2,138.0 163.6,136.6 164.0,136.7 164.4,137.3 164.8,137.2 165.2,138.7 165.6,137.2 166.0,137.6 166.4,137.3 166.8,137.1 167.2,137.7 167.6,138.4 168.0,137.2 168.4,137.8 168.8,137.6 169.2,137.7 169.6,137.6 170.0,138.7 170.4,136.6 170.8,137.2 171.2,136.7 171.6,136.1 172.0,137.2 172.4,138.3 172.8,137.7 173.2,137.9 173.6,137.5 174.0,137.1 174.4,138.3 174.8,136.9 175.2,138.0 175.6,136.9 176.0,137.1 176.4,137.2 176.8,137.1 177.2,137.3 177.6,137.3 178.0,137.9 178.4,137.0 178.8,135.9 179.2,135.8 179.6,136.1 180.0,136.5 180.4,137.2 180.8,136.0 181.2,136.8 181.6,136.8 182.1,136.9 182.5,136.7 182.9,137.0 183.3,136.8 183.7,137.3 184.1,136.9 184.5,135.3 184.9,136.7 185.3,136.8 185.7,136.3 186.1,136.2 186.5,137.2 186.9,136.7 187.3,136.0 187.7,136.3 188.1,136.4 188.5,135.6 188.9,136.8 189.3,136.4 189.7,136.7 190.1,135.5 190.5,137.5 190.9,136.7 191.3,136.6 191.7,135.9 192.1,135.9 192.5,135.5 192.9,137.2 193.3,135.8 193.7,136.4 194.1,136.6 194.5,135.9 194.9,136.7 195.3,137.3 195.7,136.3 196.1,137.0 196.5,136.5 196.9,135.8 197.3,135.9 197.7,135.1 198.1,136.1 198.5,136.9 198.9,136.4 199.3,136.5 199.7,136.6 200.1,135.7 200.5,136.3 200.9,137.0 201.3,135.4 201.7,135.9 202.1,135.6 202.5,135.7 202.9,135.4 203.3,135.7 203.7,135.0 204.1,135.4 204.5,135.4 204.9,135.4 205.3,136.5 205.7,135.7 206.1,135.7 206.5,135.4 206.9,136.3 207.3,134.5 207.7,135.4 208.1,136.1 208.5,136.4 208.9,135.5 209.3,135.4 209.7,135.7 210.1,135.2 210.5,135.6 210.9,134.9 211.3,135.6 211.7,135.2 212.1,134.6 212.5,133.6 212.9,135.7 213.3,135.3 213.7,135.5 214.1,134.5 214.5,135.6 214.9,135.2 215.3,134.9 215.7,135.5 216.1,135.4 216.5,135.1 216.9,136.0 217.3,135.6 217.7,135.0 218.1,134.6 218.5,134.8 218.9,135.7 219.3,134.9 219.7,134.1 220.1,134.2 220.5,134.6 220.9,135.0 221.3,134.1 221.7,134.8 222.2,135.1 222.6,134.9 223.0,133.5 223.4,134.2 223.8,133.6 224.2,134.6 224.6,133.7 225.0,134.6 225.4,134.3 225.8,132.7 226.2,133.7 226.6,134.4 227.0,134.1 227.4,133.9 227.8,133.3 228.2,134.3 228.6,135.0 229.0,134.1 229.4,133.9 229.8,133.8 230.2,133.1 230.6,133.6 231.0,133.3 231.4,134.4 231.8,133.2 232.2,132.5 232.6,133.2 233.0,133.5 233.4,133.5 233.8,132.5 234.2,134.1 234.6,133.6 235.0,133.3 235.4,133.1 235.8,133.7 236.2,133.3 236.6,133.6 237.0,133.3 237.4,133.4 237.8,134.0 238.2,133.3 238.6,132.7 239.0,133.8 239.4,133.4 239.8,132.8 240.2,133.9 240.6,133.1 241.0,133.9 241.4,132.6 241.8,131.9 242.2,132.1 242.6,133.4 243.0,132.8 243.4,133.2 243.8,133.2 244.2,132.4 244.6,134.1 245.0,132.7 245.4,133.3 245.8,132.5 246.2,133.2 246.6,133.7 247.0,133.1 247.4,132.9 247.8,133.3 248.2,133.0 248.6,133.6 249.0,134.6 249.4,132.8 249.8,132.9 250.2,133.3 250.6,133.3 251.0,132.7 251.4,133.6 251.8,133.8 252.2,133.5 252.6,132.7 253.0,134.2 253.4,132.7 253.8,133.8 254.2,134.1 254.6,132.6 255.0,133.5 255.4,134.2 255.8,133.6 256.2,132.8 256.6,132.7 257.0,133.7 257.4,133.2 257.8,133.0 258.2,133.8 258.6,133.2 259.0,133.5 259.4,133.8 259.8,133.7 260.2,133.4 260.6,133.4 261.0,133.8 261.4,133.7 261.8,132.8 262.3,133.3 262.7,132.9 263.1,132.7 263.5,133.1 263.9,132.1 264.3,134.0 264.7,133.0 265.1,133.7 265.5,132.4 265.9,132.5 266.3,134.7 266.7,134.1 267.1,133.1 267.5,133.0 267.9,133.1 268.3,133.6 268.7,133.3 269.1,133.1 269.5,133.6 269.9,132.9 270.3,134.9 270.7,133.2 271.1,134.2 271.5,133.0 271.9,133.7 272.3,134.1 272.7,133.3 273.1,134.1 273.5,134.1 273.9,134.5 274.3,133.6 274.7,133.3 275.1,133.0 275.5,133.7 275.9,133.0 276.3,133.6 276.7,133.7 277.1,133.3 277.5,133.0 277.9,133.8 278.3,133.8 278.7,133.7 279.1,133.6 279.5,134.2 279.9,133.0 280.3,133.9 280.7,133.4 281.1,134.2 281.5,133.4 281.9,133.4 282.3,133.9 282.7,132.4 283.1,133.5 283.5,132.6 283.9,133.1 284.3,134.1 284.7,133.9 285.1,133.4 285.5,133.7 285.9,133.7 286.3,133.9 286.7,134.8 287.1,133.9 287.5,135.1 287.9,133.5 288.3,134.2 288.7,134.2 289.1,133.9 289.5,133.6 289.9,134.6 290.3,134.8 290.7,134.4 291.1,135.0 291.5,134.4 291.9,132.8 292.3,134.4 292.7,133.4 293.1,134.6 293.5,133.6 293.9,134.0 294.3,133.8 294.7,133.4 295.1,132.7 295.5,133.7 295.9,133.7 296.3,134.4 296.7,133.5 297.1,134.0 297.5,133.3 297.9,133.9 298.3,132.8 298.7,135.1 299.1,134.0 299.5,133.3 299.9,134.1 300.3,134.4 300.7,134.0 301.1,134.7 301.5,133.8 301.9,132.4 302.4,133.2 302.8,134.6 303.2,134.4 303.6,134.1 304.0,133.3 304.4,134.4 304.8,134.3 305.2,133.4 305.6,133.4 306.0,134.2 306.4,134.6 306.8,134.9 307.2,134.4 307.6,135.3 308.0,133.5 308.4,134.3 308.8,133.6 309.2,132.8 309.6,133.2 310.0,134.7 310.4,133.4 310.8,133.2 311.2,134.4 311.6,134.6 312.0,134.0 312.4,135.0 312.8,133.1 313.2,135.5 313.6,134.7 314.0,134.2 314.4,134.1 314.8,133.9 315.2,133.8 315.6,134.1 316.0,133.3 316.4,135.4 316.8,134.0 317.2,134.5 317.6,134.0 318.0,133.9 318.4,134.6 318.8,134.5 319.2,133.6 319.6,133.8 320.0,134.5 320.4,132.8 320.8,132.6 321.2,135.0 321.6,133.9 322.0,132.5 322.4,133.6 322.8,133.9 323.2,134.2 323.6,134.4 324.0,134.1 324.4,134.3 324.8,133.5 325.2,134.2 325.6,134.2 326.0,134.7 326.4,133.9 326.8,134.4 327.2,134.0 327.6,133.2 328.0,133.6 328.4,133.5 328.8,133.6 329.2,133.7 329.6,133.8 330.0,133.9 330.4,133.2 330.8,134.4 331.2,132.8 331.6,133.6 332.0,134.1 332.4,133.9 332.8,134.0 333.2,133.5 333.6,134.0 334.0,132.8 334.4,134.0 334.8,135.0 335.2,134.0 335.6,134.8 336.0,133.5 336.4,132.8 336.8,133.0 337.2,134.3 337.6,133.9 338.0,132.3 338.4,133.2 338.8,133.4 339.2,132.7 339.6,131.7 340.0,132.5 340.4,133.2 340.8,133.0 341.2,132.9 341.6,133.6 342.0,133.9 342.5,133.2 342.9,133.8 343.3,133.2 343.7,133.1 344.1,131.6 344.5,133.7 344.9,133.2 345.3,133.2 345.7,132.8 346.1,132.4 346.5,133.3 346.9,133.5 347.3,134.0 347.7,133.6 348.1,132.6 348.5,132.9 348.9,133.6 349.3,133.1 349.7,132.9 350.1,132.5 350.5,133.2 350.9,133.0 351.3,134.0 351.7,133.5 352.1,131.7 352.5,134.2 352.9,133.0 353.3,132.6 353.7,133.0 354.1,133.2 354.5,132.7 354.9,132.7 355.3,132.7 355.7,133.8 356.1,132.7 356.5,133.1 356.9,132.9 357.3,132.4 357.7,132.1 358.1,131.9 358.5,132.8 358.9,131.9 359.3,131.7 359.7,131.7 360.1,131.5 360.5,132.5 360.9,132.5 361.3,131.9 361.7,133.3 362.1,132.2 362.5,132.7 362.9,132.6 363.3,133.4 363.7,132.9 364.1,132.3 364.5,131.7 364.9,131.6 365.3,132.3 365.7,132.3 366.1,132.7 366.5,131.9 366.9,132.3 367.3,131.7 367.7,131.0 368.1,132.1 368.5,133.1 368.9,132.6 369.3,133.0 369.7,132.8 370.1,131.2 370.5,131.8 370.9,133.0 371.3,131.5 371.7,131.1 372.1,132.2 372.5,132.3 372.9,132.1 373.3,131.7 373.7,131.4 374.1,131.1 374.5,131.0 374.9,131.0 375.3,130.9 375.7,131.3 376.1,132.8 376.5,131.8 376.9,131.5 377.3,131.9 377.7,131.1 378.1,131.9 378.5,132.3 378.9,130.7 379.3,131.2 379.7,131.4 380.1,131.0 380.5,130.9 380.9,131.3 381.3,133.1 381.7,132.0 382.1,131.8 382.6,132.1 383.0,131.3 383.4,130.7 383.8,131.7 384.2,132.2 384.6,130.0 385.0,131.7 385.4,132.2 385.8,131.2 386.2,131.0 386.6,131.8 387.0,130.8 387.4,131.6 387.8,131.9 388.2,131.2 388.6,130.8 389.0,131.8 389.4,131.2 389.8,131.5 390.2,129.6 390.6,131.9 391.0,130.6 391.4,131.6 391.8,131.6 392.2,131.1 392.6,131.0 393.0,130.8 393.4,131.4 393.8,132.1 394.2,132.1 394.6,131.4 395.0,131.4 395.4,130.9 395.8,131.5 396.2,131.1 396.6,130.9 397.0,131.8 397.4,132.9 397.8,132.7 398.2,132.9 398.6,131.0 399.0,132.6 399.4,131.2 399.8,131.7 400.2,131.0 400.6,131.5 401.0,132.2 401.4,132.3 401.8,132.2 402.2,132.1 402.6,132.6 403.0,132.3 403.4,131.3 403.8,133.5 404.2,132.2 404.6,133.0 405.0,132.3 405.4,131.9 405.8,132.5 406.2,132.0 406.6,133.6 407.0,131.8 407.4,133.0 407.8,132.2 408.2,132.5 408.6,134.4 409.0,133.2 409.4,132.6 409.8,131.7 410.2,132.6 410.6,132.7 411.0,133.8 411.4,131.9 411.8,131.7 412.2,132.9 412.6,133.1 413.0,134.1 413.4,132.4 413.8,131.2 414.2,132.6 414.6,132.3 415.0,132.8 415.4,133.8 415.8,132.3 416.2,134.0 416.6,133.4 417.0,133.1 417.4,132.7 417.8,133.0 418.2,133.1 418.6,133.9 419.0,134.3 419.4,133.4 419.8,133.9 420.2,134.4 420.6,134.4 421.0,133.9 421.4,134.8 421.8,134.5 422.2,134.7 422.7,133.5 423.1,133.4 423.5,132.2 423.9,134.9 424.3,134.3 424.7,133.0 425.1,134.0 425.5,134.1 425.9,132.2 426.3,134.2 426.7,135.1 427.1,135.3 427.5,133.6 427.9,133.7 428.3,135.6 428.7,135.2 429.1,133.5 429.5,133.4 429.9,135.0 430.3,133.4 430.7,133.5 431.1,136.7 431.5,134.8 431.9,133.8 432.3,135.2 432.7,137.6 433.1,134.9 433.5,133.4 433.9,132.1 434.3,138.1 434.7,130.4 435.1,136.5 435.5,133.1 435.9,132.7 436.3,133.1 436.7,134.6 437.1,136.9 437.5,133.8 437.9,136.2 438.3,139.6 438.7,129.8 439.1,133.7 439.5,131.7 439.9,136.9 440.3,132.3 440.7,132.1 441.1,132.2 441.5,135.3 441.9,137.8 442.3,135.7 442.7,140.0 443.1,139.0 443.5,135.3 443.9,137.6 444.3,135.8 444.7,135.3 445.1,129.8 445.5,129.6 445.9,130.9 446.3,127.4 446.7,132.5 447.1,133.3 447.5,132.9 447.9,137.0 448.3,136.2 448.7,137.2 449.1,136.1 449.5,135.1 449.9,136.8 450.3,136.2 450.7,137.0 451.1,137.2 451.5,137.3 451.9,135.6 452.3,135.0 452.7,136.4 453.1,137.2 453.5,136.3 453.9,137.1 454.3,136.4 454.7,136.8 455.1,136.8 455.5,136.7 455.9,137.5 456.3,137.5 456.7,138.4 457.1,137.6 457.5,138.3 457.9,137.5 458.3,138.1 458.7,137.5 459.1,137.3 459.5,138.7 459.9,138.3 460.3,138.5 460.7,137.5 461.1,136.9 461.5,137.6 461.9,138.5 462.3,137.3 462.8,139.4 463.2,137.5 463.6,139.0 464.0,140.5 464.4,137.0 464.8,137.8 465.2,139.6 465.6,138.9 466.0,139.2 466.4,139.1 466.8,140.2 467.2,139.8 467.6,139.1 468.0,139.4 468.4,138.8 468.8,139.6 469.2,138.2 469.6,140.3 470.0,139.8 470.4,141.2 470.8,140.9 471.2,139.3 471.6,140.9 472.0,140.0 472.4,140.5 472.8,141.2 473.2,140.8 473.6,141.0 474.0,141.1 474.4,140.4 474.8,140.5 475.2,141.4 475.6,141.7 476.0,141.0 476.4,141.3 476.8,140.7 477.2,139.8 477.6,141.0 478.0,141.6 478.4,141.8 478.8,142.3 479.2,142.4 479.6,142.6 480.0,142.2 480.4,142.2 480.8,141.5 481.2,142.2 481.6,142.1 482.0,142.7 482.4,140.9 482.8,141.7 483.2,140.9 483.6,141.5 484.0,141.0 484.4,142.1 484.8,141.5 485.2,140.3 485.6,142.7 486.0,141.2 486.4,140.9 486.8,141.7 487.2,141.5 487.6,141.2 488.0,142.4 488.4,141.7 488.8,142.5 489.2,142.4 489.6,142.4 490.0,142.1 490.4,141.9 490.8,141.7 491.2,142.9 491.6,140.7 492.0,141.3 492.4,141.5 492.8,142.2 493.2,142.0 493.6,141.6 494.0,141.7 494.4,143.0 494.8,141.5 495.2,140.2 495.6,143.1 496.0,141.4 496.4,141.7 496.8,142.0 497.2,141.1 497.6,142.7 498.0,141.9 498.4,141.1 498.8,142.1 499.2,142.2 499.6,141.9 500.0,142.2 500.4,141.0 500.8,142.5 501.2,141.4 501.6,142.7 502.0,141.6 502.4,142.0 502.9,143.6 503.3,142.0 503.7,142.6 504.1,142.2 504.5,141.0 504.9,142.7 505.3,142.6 505.7,141.1 506.1,141.9 506.5,141.0 506.9,141.8 507.3,142.5 507.7,142.0 508.1,141.2 508.5,141.4 508.9,142.0 509.3,141.9 509.7,142.0 510.1,142.3 510.5,140.8 510.9,142.0 511.3,142.7 511.7,142.3 512.1,141.5 512.5,141.6 512.9,142.1 513.3,142.4 513.7,142.0 514.1,143.0 514.5,142.7 514.9,141.5 515.3,142.3 515.7,141.8 516.1,141.3 516.5,141.6 516.9,142.0 517.3,140.7 517.7,141.6 518.1,142.2 518.5,141.5 518.9,141.7 519.3,142.5 519.7,141.9 520.1,142.1 520.5,143.1 520.9,142.1 521.3,142.1 521.7,142.2 522.1,142.9 522.5,142.2" fill="none" stroke="#f01414" stroke-width="2.8" stroke-linejoin="round" />
<polyline points="427.6,133.5 427.9,134.7 428.1,133.5 428.4,134.8 428.7,133.5 428.9,134.9 429.2,133.5 429.5,135.0 429.7,133.5 430.0,135.2 430.3,133.4 430.5,135.3 430.8,133.4 431.1,135.4 431.3,133.4 431.6,135.5 431.9,133.4 432.1,135.6 432.4,133.4 432.7,135.7 432.9,133.4 433.2,135.8 433.5,133.3 433.7,135.9 434.0,133.3 434.3,136.1 434.5,133.3 434.8,136.2 435.1,133.3 435.3,136.3 435.6,133.3 435.9,136.4 436.2,133.3 436.4,136.5 436.7,133.2 437.0,136.6 437.2,133.2 437.5,136.7 437.8,133.3 438.0,136.8 438.3,133.3 438.6,136.9 438.8,133.3 439.1,137.0 439.4,133.3 439.6,137.0 439.9,133.3 440.2,137.1 440.4,133.3 440.7,137.2 441.0,133.3 441.2,137.3 441.5,133.3 441.8,137.4 442.0,133.3 442.3,137.5 442.6,133.3 442.8,137.6 443.1,133.4 443.4,137.6 443.6,133.4 443.9,137.7 444.2,133.4 444.4,137.8 444.7,133.4 445.0,137.9 445.2,133.5 445.5,137.7 445.8,133.8 446.0,137.6 446.3,134.1 446.6,137.4 446.8,134.3 447.1,137.1 447.4,134.5" fill="none" stroke="#f01414" stroke-width="1.6" stroke-linejoin="round" />
<polyline points="134.9,136.3 135.1,138.6 135.4,136.0 135.7,138.6 135.9,135.7 136.2,138.7 136.5,135.3 136.7,138.7 137.0,135.0 137.3,138.7 137.5,134.7 137.8,138.8 138.1,134.4 138.3,138.8 138.6,134.0 138.9,138.8 139.1,133.7 139.4,138.8 139.7,133.4 139.9,138.9 140.2,133.0 140.5,138.9 140.7,132.7 141.0,138.9 141.3,132.4 141.5,139.0 141.8,132.0 142.1,139.0 142.4,131.7 142.6,139.1 142.9,131.3 143.2,139.1 143.4,131.0 143.7,139.1 144.0,130.7 144.2,139.2 144.5,130.3 144.8,139.2 145.0,130.0 145.3,139.3 145.6,129.6 145.8,139.3 146.1,129.3 146.4,139.1 146.6,129.8 146.9,138.0 147.2,130.6 147.4,137.1 147.7,131.5 148.0,136.2" fill="none" stroke="#f01414" stroke-width="1.6" stroke-linejoin="round" />
<polyline points="121.5,96.9 122.0,96.8 122.6,97.7 123.1,96.5 123.6,97.8 124.2,97.1 124.7,96.1 125.2,97.5 125.8,97.4 126.3,96.3 126.8,97.3 127.4,97.3 127.9,96.9 128.5,96.4 129.0,98.7 129.5,97.7 130.1,97.9 130.6,97.9 131.1,97.8 131.7,97.8 132.2,97.0 132.7,97.9 133.3,97.2 133.8,97.0 134.3,97.8 134.9,97.2 135.4,96.2 135.9,97.1 136.5,97.8 137.0,97.4 137.5,98.1 138.1,97.3 138.6,97.0 139.1,98.2 139.7,97.8 140.2,97.0 140.7,98.2 141.3,97.7 141.8,98.6 142.4,98.6 142.9,98.4 143.4,96.7 144.0,98.5 144.5,98.6 145.0,98.7 145.6,98.5 146.1,98.0 146.6,98.4 147.2,102.6 147.7,114.8 148.2,116.7 148.8,117.4 149.3,117.2 149.8,118.5 150.4,117.5 150.9,117.4 151.4,117.5 152.0,118.7 152.5,116.6 153.0,117.4 153.6,117.4 154.1,117.2 154.6,117.1 155.2,116.6 155.7,117.7 156.3,117.4 156.8,116.5 157.3,116.6 157.9,116.9 158.4,116.9 158.9,117.1 159.5,116.5 160.0,115.6 160.5,117.0 161.1,115.2 161.6,115.6 162.1,116.5 162.7,115.6 163.2,117.0 163.7,117.1 164.3,116.8 164.8,116.1 165.3,116.0 165.9,116.1 166.4,115.6 166.9,117.1 167.5,115.2 168.0,116.5 168.6,115.9 169.1,115.6 169.6,116.0 170.2,116.0 170.7,115.6 171.2,114.9 171.8,114.3 172.3,114.3 172.8,115.2 173.4,114.9 173.9,114.9 174.4,113.9 175.0,115.5 175.5,113.1 176.0,114.2 176.6,114.3 177.1,113.4 177.6,112.8 178.2,113.2 178.7,112.6 179.2,113.1 179.8,112.2 180.3,112.1 180.8,112.9 181.4,111.8 181.9,112.5 182.5,112.5 183.0,113.0 183.5,112.5 184.1,111.7 184.6,113.0 185.1,111.5 185.7,111.6 186.2,111.6 186.7,113.1 187.3,111.6 187.8,111.0 188.3,111.8 188.9,111.1 189.4,112.7 189.9,110.5 190.5,111.3 191.0,110.2 191.5,111.9 192.1,110.1 192.6,110.6 193.1,109.8 193.7,110.8 194.2,110.5 194.7,108.5 195.3,110.4 195.8,110.2 196.4,109.8 196.9,110.2 197.4,108.6 198.0,108.1 198.5,109.7 199.0,110.3 199.6,108.2 200.1,108.1 200.6,108.2 201.2,107.9 201.7,109.1 202.2,108.5 202.8,109.2 203.3,109.2 203.8,107.4 204.4,108.4 204.9,106.3 205.4,107.7 206.0,108.1 206.5,107.0 207.0,106.2 207.6,107.0 208.1,108.0 208.7,106.8 209.2,106.0 209.7,107.2 210.3,107.3 210.8,106.0 211.3,106.4 211.9,107.2 212.4,106.6 212.9,106.7 213.5,105.9 214.0,105.9 214.5,105.1 215.1,105.3 215.6,106.7 216.1,105.3 216.7,104.8 217.2,105.0 217.7,104.5 218.3,105.5 218.8,105.6 219.3,104.2 219.9,105.5 220.4,106.1 220.9,103.8 221.5,104.9 222.0,104.5 222.6,105.1 223.1,105.0 223.6,104.8 224.2,104.1 224.7,103.5 225.2,105.2 225.8,103.0 226.3,104.2 226.8,104.0 227.4,102.7 227.9,103.1 228.4,104.0 229.0,101.6 229.5,103.3 230.0,102.5 230.6,102.4 231.1,101.5 231.6,102.6 232.2,101.5 232.7,102.6 233.2,101.2 233.8,102.4 234.3,102.0 234.8,100.4 235.4,101.3 235.9,101.3 236.5,99.8 237.0,101.0 237.5,101.6 238.1,100.5 238.6,101.7 239.1,100.0 239.7,99.8 240.2,100.9 240.7,100.8 241.3,100.2 241.8,100.2 242.3,100.8 242.9,99.6 243.4,101.2 243.9,100.0 244.5,99.9 245.0,99.7 245.5,99.2 246.1,100.1 246.6,98.8 247.1,99.2 247.7,99.4 248.2,99.8 248.8,99.6 249.3,98.4 249.8,99.2 250.4,98.4 250.9,97.6 251.4,97.5 252.0,97.0 252.5,98.2 253.0,98.6 253.6,97.1 254.1,97.4 254.6,96.8 255.2,97.5 255.7,96.6 256.2,96.7 256.8,96.7 257.3,96.7 257.8,96.7 258.4,96.7 258.9,96.6 259.4,96.0 260.0,97.0 260.5,95.3 261.0,96.5 261.6,95.7 262.1,96.3 262.7,96.3 263.2,94.7 263.7,96.2 264.3,96.7 264.8,96.2 265.3,95.9 265.9,94.1 266.4,95.3 266.9,94.7 267.5,96.0 268.0,94.9 268.5,94.6 269.1,93.8 269.6,95.4 270.1,94.4 270.7,94.5 271.2,95.3 271.7,94.5 272.3,94.6 272.8,95.9 273.3,93.8 273.9,93.8 274.4,94.3 274.9,94.9 275.5,92.8 276.0,93.6 276.6,93.0 277.1,92.6 277.6,93.8 278.2,92.8 278.7,93.4 279.2,93.2 279.8,93.1 280.3,93.0 280.8,92.1 281.4,92.7 281.9,92.8 282.4,92.8 283.0,92.3 283.5,93.0 284.0,92.7 284.6,92.3 285.1,92.5 285.6,92.1 286.2,92.4 286.7,90.5 287.2,90.9 287.8,91.4 288.3,91.6 288.9,90.0 289.4,91.2 289.9,91.3 290.5,91.0 291.0,90.9 291.5,90.0 292.1,90.9 292.6,89.4 293.1,91.3 293.7,90.1 294.2,91.2 294.7,89.2 295.3,90.6 295.8,90.3 296.3,89.5 296.9,89.2 297.4,90.7 297.9,90.1 298.5,90.7 299.0,89.6 299.5,89.6 300.1,89.7 300.6,89.8 301.1,89.5 301.7,89.7 302.2,88.7 302.8,88.0 303.3,90.2 303.8,88.9 304.4,89.0 304.9,88.3 305.4,89.2 306.0,88.5 306.5,89.0 307.0,87.8 307.6,88.1 308.1,88.2 308.6,87.7 309.2,88.0 309.7,88.8 310.2,87.3 310.8,87.4 311.3,87.6 311.8,86.7 312.4,86.5 312.9,87.9 313.4,87.6 314.0,86.0 314.5,85.9 315.0,87.3 315.6,87.5 316.1,87.1 316.7,86.9 317.2,87.5 317.7,86.3 318.3,87.1 318.8,87.0 319.3,85.4 319.9,86.4 320.4,85.9 320.9,85.3 321.5,85.1 322.0,85.8 322.5,85.5 323.1,86.0 323.6,84.2 324.1,84.9 324.7,86.0 325.2,85.2 325.7,84.6 326.3,84.7 326.8,83.8 327.3,84.0 327.9,85.2 328.4,84.9 329.0,85.6 329.5,84.5 330.0,84.5 330.6,82.7 331.1,84.4 331.6,85.8 332.2,84.8 332.7,84.2 333.2,85.1 333.8,84.7 334.3,84.3 334.8,83.8 335.4,84.1 335.9,84.5 336.4,83.3 337.0,84.1 337.5,84.0 338.0,84.6 338.6,84.1 339.1,83.0 339.6,84.5 340.2,83.4 340.7,82.8 341.2,83.5 341.8,83.0 342.3,83.9 342.9,82.1 343.4,82.2 343.9,82.7 344.5,84.0 345.0,83.5 345.5,82.0 346.1,81.5 346.6,82.4 347.1,81.7 347.7,82.9 348.2,82.5 348.7,82.3 349.3,82.0 349.8,83.2 350.3,81.5 350.9,81.2 351.4,82.8 351.9,82.8 352.5,81.6 353.0,82.2 353.5,83.3 354.1,81.1 354.6,81.5 355.1,81.9 355.7,80.0 356.2,81.3 356.8,81.8 357.3,81.2 357.8,81.9 358.4,81.7 358.9,80.8 359.4,81.4 360.0,81.3 360.5,79.8 361.0,80.2 361.6,80.2 362.1,80.3 362.6,80.3 363.2,79.6 363.7,80.5 364.2,79.2 364.8,81.0 365.3,80.5 365.8,81.2 366.4,80.4 366.9,79.8 367.4,79.1 368.0,80.4 368.5,79.9 369.1,80.1 369.6,80.3 370.1,80.5 370.7,79.6 371.2,80.8 371.7,79.4 372.3,79.4 372.8,79.8 373.3,80.0 373.9,80.2 374.4,77.9 374.9,80.0 375.5,78.0 376.0,78.6 376.5,79.2 377.1,79.6 377.6,78.1 378.1,77.6 378.7,79.3 379.2,78.8 379.7,77.8 380.3,78.2 380.8,77.1 381.3,78.7 381.9,77.9 382.4,79.1 383.0,76.9 383.5,78.8 384.0,79.9 384.6,78.5 385.1,78.6 385.6,77.2 386.2,78.8 386.7,78.6 387.2,78.2 387.8,77.6 388.3,78.8 388.8,78.0 389.4,78.4 389.9,79.0 390.4,78.8 391.0,78.9 391.5,79.6 392.0,78.2 392.6,80.0 393.1,78.3 393.6,78.5 394.2,79.2 394.7,79.7 395.2,79.4 395.8,79.0 396.3,78.8 396.9,79.2 397.4,78.7 397.9,79.8 398.5,79.3 399.0,80.6 399.5,79.0 400.1,79.5 400.6,79.9 401.1,78.9 401.7,79.2 402.2,81.7 402.7,79.8 403.3,80.8 403.8,79.2 404.3,78.2 404.9,80.3 405.4,79.9 405.9,80.2 406.5,79.8 407.0,79.7 407.5,79.3 408.1,80.9 408.6,79.2 409.2,80.9 409.7,80.1 410.2,79.6 410.8,79.9 411.3,81.1 411.8,81.0 412.4,80.8 412.9,80.6 413.4,79.8 414.0,81.5 414.5,80.4 415.0,80.3 415.6,80.4 416.1,80.5 416.6,79.8 417.2,80.6 417.7,80.3 418.2,80.6 418.8,79.8 419.3,82.3 419.8,80.2 420.4,81.3 420.9,81.4 421.4,81.9 422.0,82.5 422.5,81.5 423.1,81.8 423.6,81.0 424.1,82.4 424.7,80.5 425.2,81.3 425.7,81.7 426.3,82.0 426.8,82.1 427.3,82.4 427.9,82.0 428.4,81.6 428.9,81.7 429.5,82.6 430.0,81.8 430.5,82.2 431.1,81.5 431.6,80.4 432.1,81.2 432.7,81.8 433.2,82.7 433.7,82.6 434.3,82.8 434.8,81.1 435.3,82.1 435.9,81.6 436.4,82.0 437.0,81.6 437.5,80.7 438.0,82.1 438.6,81.9 439.1,82.2 439.6,81.0 440.2,82.3 440.7,82.4 441.2,82.6 441.8,82.6 442.3,81.3 442.8,79.9 443.4,82.3 443.9,81.0 444.4,81.5 445.0,82.4 445.5,81.8 446.0,81.8 446.6,84.5 447.1,87.5 447.6,95.0 448.2,98.2 448.7,99.5 449.3,100.3 449.8,99.9 450.3,99.5 450.9,100.1 451.4,100.0 451.9,99.8 452.5,101.6 453.0,99.2 453.5,98.7 454.1,99.6 454.6,99.6 455.1,101.2 455.7,100.3 456.2,100.8 456.7,100.6 457.3,99.6 457.8,100.8 458.3,100.3 458.9,101.5 459.4,100.3 459.9,100.2 460.5,100.7 461.0,100.7 461.5,99.0 462.1,101.1 462.6,101.0 463.2,100.8 463.7,99.4 464.2,98.8 464.8,100.0 465.3,100.7 465.8,100.5 466.4,99.5 466.9,100.9 467.4,99.3 468.0,99.3 468.5,100.2 469.0,99.8 469.6,99.7 470.1,99.2 470.6,101.0 471.2,99.4 471.7,100.5 472.2,100.7 472.8,100.0 473.3,100.1 473.8,100.6 474.4,100.9 474.9,100.4 475.4,98.7 476.0,98.2 476.5,99.1 477.1,98.6 477.6,99.7 478.1,99.3 478.7,99.0 479.2,99.8 479.7,99.7 480.3,98.8 480.8,99.0 481.3,99.5 481.9,98.4 482.4,98.8 482.9,97.8 483.5,98.4 484.0,98.5 484.5,98.2 485.1,98.3 485.6,98.5 486.1,98.3 486.7,97.4 487.2,97.4 487.7,96.9 488.3,98.8 488.8,97.8 489.4,97.8 489.9,97.3 490.4,97.6 491.0,97.6 491.5,96.6 492.0,97.0 492.6,97.8 493.1,96.0 493.6,96.2 494.2,97.1 494.7,96.1 495.2,97.1 495.8,95.7 496.3,96.6 496.8,96.9 497.4,96.5 497.9,96.7 498.4,96.0 499.0,95.9 499.5,95.9 500.0,96.2 500.6,98.2 501.1,95.6 501.6,96.9 502.2,95.3 502.7,94.7 503.3,95.2 503.8,95.5 504.3,95.3 504.9,95.2 505.4,95.4 505.9,95.3 506.5,95.5 507.0,94.0 507.5,94.7 508.1,93.9 508.6,94.7 509.1,94.4 509.7,94.5 510.2,93.9 510.7,93.6 511.3,93.9 511.8,94.5 512.3,94.5 512.9,92.7 513.4,93.9 513.9,93.9 514.5,92.6 515.0,92.8 515.5,93.1 516.1,93.6 516.6,91.7 517.2,92.9 517.7,92.7 518.2,93.1 518.8,93.9 519.3,93.7 519.8,92.5 520.4,92.4 520.9,92.8 521.4,93.3 522.0,93.4 522.5,92.6" fill="none" stroke="#0a14e6" stroke-width="2.2" stroke-linejoin="round" />
<polyline points="137.5,96.9 137.8,98.7 138.1,96.9 138.3,100.0 138.6,96.9 138.9,101.4 139.1,97.0 139.4,102.7 139.7,97.0 139.9,104.1 140.2,97.1 140.5,105.0 140.7,97.1 141.0,105.6 141.3,97.2 141.5,106.2 141.8,97.2 142.1,106.7 142.4,97.3 142.6,107.3 142.9,97.3 143.2,107.9 143.4,97.4 143.7,108.4 144.0,97.4 144.2,109.0 144.5,97.5 144.8,109.5 145.0,97.8 145.3,110.1 145.6,98.0 145.8,111.2 146.1,98.2 146.4,112.8 146.6,98.4 146.9,114.3 147.2,102.9 147.4,117.0" fill="none" stroke="#0a14e6" stroke-width="1.8" stroke-linejoin="round" />
<polyline points="410.2,79.9 410.5,80.6 410.8,80.0 411.0,80.8 411.3,80.0 411.6,81.0 411.8,80.0 412.1,81.3 412.4,80.0 412.6,81.5 412.9,80.1 413.2,81.7 413.4,80.1 413.7,81.9 414.0,80.1 414.2,82.1 414.5,80.2 414.8,82.3 415.0,80.2 415.3,82.5 415.6,80.2 415.8,82.8 416.1,80.2 416.4,83.0 416.6,80.3 416.9,83.2 417.2,80.3 417.4,83.4 417.7,80.3 418.0,83.6 418.2,80.3 418.5,83.8 418.8,80.4 419.0,84.0 419.3,80.4 419.6,84.3 419.8,80.4 420.1,84.5 420.4,80.4 420.6,84.7 420.9,80.5 421.2,84.9 421.4,80.5 421.7,85.1 422.0,80.5 422.2,85.3 422.5,80.6 422.8,85.5 423.1,80.6 423.3,85.8 423.6,80.6 423.9,86.0 424.1,80.6 424.4,86.2 424.7,80.7 424.9,86.4 425.2,80.7 425.5,86.6 425.7,80.7 426.0,86.8 426.3,80.7 426.5,87.1 426.8,80.8 427.1,87.3 427.3,80.8 427.6,87.5 427.9,80.8 428.1,87.7 428.4,80.7 428.7,87.9 428.9,80.7 429.2,88.1 429.5,80.7 429.7,88.3 430.0,80.7 430.3,88.5 430.5,80.7 430.8,88.8 431.1,80.7 431.3,89.0 431.6,80.7 431.9,89.2 432.1,80.6 432.4,89.4 432.7,80.6 432.9,89.6 433.2,80.6 433.5,89.8 433.7,80.6 434.0,90.0 434.3,80.6 434.5,90.3 434.8,80.6 435.1,90.5 435.3,80.5 435.6,90.7 435.9,80.5 436.2,90.9 436.4,80.5 436.7,91.1 437.0,80.5 437.2,91.4 437.5,80.4 437.8,91.8 438.0,80.3 438.3,92.1 438.6,80.2 438.8,92.5 439.1,80.1 439.4,92.9 439.6,80.0 439.9,93.2 440.2,79.9 440.4,93.6 440.7,79.8 441.0,94.0 441.2,79.7 441.5,94.4 441.8,79.6 442.0,94.7 442.3,79.5 442.6,95.1 442.8,79.4 443.1,95.5 443.4,79.3 443.6,95.8 443.9,79.2 444.2,96.2 444.4,79.1 444.7,96.9 445.0,79.0 445.2,97.8 445.5,79.0 445.8,98.7 446.0,78.9 446.3,99.5 446.6,78.8 446.8,100.4" fill="none" stroke="#0a14e6" stroke-width="1.8" stroke-linejoin="round" />
</g>
<path d="M121.5 61.5v7.5M121.5 184.5v-7.5M148.2 61.5v4.5M148.2 184.5v-4.5M175.0 61.5v4.5M175.0 184.5v-4.5M201.7 61.5v4.5M201.7 184.5v-4.5M228.4 61.5v4.5M228.4 184.5v-4.5M255.2 61.5v7.5M255.2 184.5v-7.5M281.9 61.5v4.5M281.9 184.5v-4.5M308.6 61.5v4.5M308.6 184.5v-4.5M335.4 61.5v4.5M335.4 184.5v-4.5M362.1 61.5v4.5M362.1 184.5v-4.5M388.8 61.5v7.5M388.8 184.5v-7.5M415.6 61.5v4.5M415.6 184.5v-4.5M442.3 61.5v4.5M442.3 184.5v-4.5M469.0 61.5v4.5M469.0 184.5v-4.5M495.8 61.5v4.5M495.8 184.5v-4.5M522.5 61.5v7.5M522.5 184.5v-7.5M121.5 179.2h10M522.5 179.2h-10M121.5 167.9h6M522.5 167.9h-6M121.5 156.6h6M522.5 156.6h-6M121.5 145.4h6M522.5 145.4h-6M121.5 134.1h6M522.5 134.1h-6M121.5 122.8h10M522.5 122.8h-10M121.5 111.5h6M522.5 111.5h-6M121.5 100.2h6M522.5 100.2h-6M121.5 89.0h6M522.5 89.0h-6M121.5 77.7h6M522.5 77.7h-6M121.5 66.4h10M522.5 66.4h-10" stroke="#000" stroke-width="2.6" fill="none"/>
<path d="M175.0 60.5V184.0" stroke="#f0141e" stroke-width="4.2" stroke-dasharray="17.5 18.8" fill="none"/>
<path d="M255.2 60.5V184.0" stroke="#f0141e" stroke-width="4.2" stroke-dasharray="17.5 18.8" fill="none"/>
<path d="M362.1 60.5V184.0" stroke="#f0141e" stroke-width="4.2" stroke-dasharray="17.5 18.8" fill="none"/>
<path d="M447.0 60.5V184.0" stroke="#f0141e" stroke-width="4.2" stroke-dasharray="17.5 18.8" fill="none"/>
<path d="M455.7 60.5V184.0" stroke="#f0141e" stroke-width="4.2" stroke-dasharray="17.5 18.8" fill="none"/>
<rect x="121.5" y="61.5" width="401.0" height="123.0" fill="none" stroke="#000" stroke-width="3"/>
<text x="121.5" y="224" font-size="28" text-anchor="middle" fill="#000" >1020</text>
<text x="255.2" y="224" font-size="28" text-anchor="middle" fill="#000" >1030</text>
<text x="388.8" y="224" font-size="28" text-anchor="middle" fill="#000" >1040</text>
<text x="522.5" y="224" font-size="28" text-anchor="middle" fill="#000" >1050</text>
<text x="110" y="189.7" font-size="28" text-anchor="end" fill="#000" >0</text>
<text x="110" y="133.3" font-size="28" text-anchor="end" fill="#000" >1</text>
<text x="110" y="76.9" font-size="28" text-anchor="end" fill="#000" >2</text>
<text x="322" y="250" font-size="28.5" text-anchor="middle" fill="#000" >Time (ms)</text>
<g transform="translate(66.5 203.5) rotate(-90)"><text x="0" y="0" font-size="31">I<tspan font-size="24.5" dy="16.5">DSXR</tspan><tspan font-size="31.5" dy="-16.5"> (a.u.)</tspan></text></g>
<rect x="152.0" y="6.8" width="44" height="45" fill="none" stroke="#000" stroke-width="3.4"/>
<text x="174" y="42.5" font-size="28" text-anchor="middle" fill="#000" >A</text>
<rect x="232.0" y="6.8" width="44" height="45" fill="none" stroke="#000" stroke-width="3.4"/>
<text x="254" y="42.5" font-size="28" text-anchor="middle" fill="#000" >B</text>
<rect x="338.0" y="6.8" width="44" height="45" fill="none" stroke="#000" stroke-width="3.4"/>
<text x="360" y="42.5" font-size="28" text-anchor="middle" fill="#000" >C</text>
<rect x="407.2" y="6.8" width="44" height="45" fill="none" stroke="#000" stroke-width="3.4"/>
<text x="429.2" y="42.5" font-size="28" text-anchor="middle" fill="#000" >D</text>
<rect x="458.2" y="6.8" width="44" height="45" fill="none" stroke="#000" stroke-width="3.4"/>
<text x="480.2" y="42.5" font-size="28" text-anchor="middle" fill="#000" >E</text>
<g clip-path="url(#c2)">
<polyline points="693.5,167.9 694.5,167.9 695.5,167.9 696.5,167.9 697.5,167.9 698.5,167.9 699.5,167.9 700.5,167.9 701.5,167.9 702.5,167.9 703.5,167.9 704.5,167.9 705.5,167.9 706.5,167.9 707.5,167.9 708.5,167.9 709.5,167.9 710.5,167.9 711.5,167.9 712.5,167.9 713.5,167.9 714.5,167.9 715.5,167.9 716.5,167.9 717.5,167.9 718.5,167.9 719.5,167.9 720.5,167.9 721.5,167.9 722.5,167.9 723.5,167.9 724.5,167.9 725.5,167.9 726.5,167.9 727.5,167.9 728.5,167.9 729.5,167.9 730.5,167.9 731.5,167.9 732.5,167.9 733.5,167.9 734.5,167.9 735.5,167.9 736.5,167.9 737.5,167.9 738.5,167.9 739.5,167.9 740.5,167.9 741.5,167.9 742.5,167.9 743.5,167.8 744.5,167.8 745.5,167.8 746.5,167.8 747.5,167.8 748.5,167.8 749.5,167.8 750.5,167.8 751.5,167.8 752.5,167.8 753.5,167.8 754.5,167.8 755.5,167.8 756.5,167.8 757.5,167.8 758.5,167.8 759.5,167.8 760.5,167.8 761.5,167.8 762.5,167.8 763.5,167.8 764.5,167.8 765.5,167.8 766.5,167.8 767.5,167.8 768.5,167.8 769.5,167.8 770.5,167.8 771.5,167.8 772.5,167.8 773.5,167.8 774.5,167.8 775.5,167.8 776.5,167.8 777.5,167.8 778.5,167.8 779.5,167.8 780.5,167.8 781.5,167.8 782.5,167.8 783.5,167.8 784.5,167.8 785.5,167.8 786.5,167.8 787.5,167.8 788.5,167.8 789.5,167.8 790.5,167.8 791.5,167.8 792.5,167.8 793.5,167.8 794.5,167.8 795.5,167.8 796.5,167.8 797.5,167.8 798.5,167.8 799.5,167.8 800.5,167.8 801.5,167.8 802.5,167.8 803.5,167.8 804.5,167.8 805.5,167.8 806.5,167.8 807.5,167.8 808.5,167.8 809.5,167.8 810.5,167.8 811.5,167.8 812.5,167.8 813.5,167.8 814.5,167.7 815.5,167.7 816.5,167.7 817.5,167.7 818.5,167.7 819.5,167.7 820.5,167.7 821.5,167.7 822.5,167.7 823.5,167.7 824.5,167.7 825.5,167.7 826.5,167.7 827.5,167.7 828.5,167.7 829.5,167.7 830.5,167.7 831.5,167.7 832.5,167.7 833.5,167.7 834.5,167.7 835.5,167.7 836.5,167.7 837.5,167.7 838.5,167.7 839.5,167.7 840.5,167.7 841.5,167.7 842.5,167.7 843.5,167.7 844.5,167.7 845.5,167.7 846.5,167.7 847.5,167.7 848.5,167.7 849.5,167.7 850.5,167.7 851.5,167.7 852.5,167.7 853.5,167.7 854.5,167.7 855.5,167.7 856.5,167.7 857.5,167.7 858.5,167.7 859.5,167.7 860.5,167.7 861.5,167.7 862.5,167.7 863.5,167.7 864.5,167.7 865.5,167.7 866.5,167.7 867.5,167.7 868.5,167.7 869.5,167.7 870.5,167.7 871.5,167.7 872.5,167.7 873.5,167.7 874.5,167.7 875.5,167.7 876.5,167.7 877.5,167.7 878.5,167.7 879.5,167.7 880.5,167.7 881.5,167.7 882.5,167.7 883.5,167.7 884.5,167.7 885.5,167.6 886.5,167.6 887.5,167.6 888.5,167.6 889.5,167.6 890.5,167.6 891.5,167.6 892.5,167.6 893.5,167.6 894.5,167.6 895.5,167.6 896.5,167.6 897.5,167.6 898.5,167.6 899.5,167.6 900.5,167.6 901.5,167.6 902.5,167.6 903.5,167.6 904.5,167.6 905.5,167.6 906.5,167.6 907.5,167.6 908.5,167.6 909.5,167.6 910.5,167.6 911.5,167.6 912.5,167.6 913.5,167.6 914.5,167.6 915.5,167.6 916.5,167.6 917.5,167.6 918.5,167.6 919.5,167.6 920.5,167.6 921.5,167.6 922.5,167.6 923.5,167.6 924.5,167.6 925.5,167.6 926.5,167.6 927.5,167.6 928.5,167.6 929.5,167.6 930.5,167.6 931.5,167.6 932.5,167.6 933.5,167.6 934.5,167.6 935.5,167.6 936.5,167.6 937.5,167.6 938.5,167.6 939.5,167.6 940.5,167.6 941.5,167.6 942.5,167.6 943.5,167.6 944.5,167.6 945.5,167.6 946.5,167.6 947.5,167.6 948.5,167.6 949.5,167.6 950.5,167.6 951.5,167.6 952.5,167.6 953.5,167.6 954.5,167.6 955.5,167.6 956.5,167.5 957.5,167.5 958.5,167.5 959.5,167.5 960.5,167.5 961.5,167.5 962.5,167.5 963.5,167.5 964.5,167.5 965.5,167.5 966.5,167.5 967.5,167.5 968.5,167.5 969.5,167.5 970.5,167.5 971.5,167.5 972.5,167.5 973.5,167.5 974.5,167.5 975.5,167.5 976.5,167.5 977.5,167.5 978.5,167.5 979.5,167.5 980.5,167.5 981.5,167.5 982.5,167.5 983.5,167.5 984.5,167.5 985.5,167.5 986.5,167.5 987.5,167.5 988.5,167.5 989.5,167.5 990.5,167.5 991.5,167.5 992.5,167.5 993.5,167.5 994.5,167.5 995.5,167.5 996.5,167.5 997.5,167.5 998.5,167.5 999.5,167.5 1000.5,167.5 1001.5,167.5 1002.5,167.5 1003.5,167.5 1004.5,167.5 1005.5,167.5 1006.5,167.5 1007.5,167.5 1008.5,167.5 1009.5,167.5 1010.5,167.5 1011.5,167.5 1012.5,167.5 1013.5,167.5 1014.5,167.5 1015.5,167.5 1016.5,167.5 1017.5,167.5 1018.5,167.5 1019.5,167.5 1020.5,167.5 1021.5,167.5 1022.5,167.5 1023.5,167.5 1024.5,167.5 1025.5,167.5 1026.5,167.5 1027.5,167.4 1028.5,167.4 1029.5,167.4 1030.5,167.4 1031.5,167.4 1032.5,167.4 1033.5,167.4 1034.5,167.4 1035.5,167.4 1036.5,167.4 1037.5,167.4 1038.5,167.4 1039.5,167.4 1040.5,167.4 1041.5,167.4 1042.5,167.4 1043.5,167.4 1044.5,167.4 1045.5,167.4 1046.5,167.4 1047.5,167.4 1048.5,167.4 1049.5,167.4 1050.5,167.4 1051.5,167.4 1052.5,167.4 1053.5,167.4 1054.5,167.4 1055.5,167.4 1056.5,167.4 1057.5,167.4 1058.5,167.4 1059.5,167.4 1060.5,167.4 1061.5,167.4 1062.5,167.4 1063.5,167.4 1064.5,167.4 1065.5,167.4 1066.5,167.4 1067.5,167.4 1068.5,167.4 1069.5,167.4 1070.5,167.4 1071.5,167.4 1072.5,167.4 1073.5,167.4 1074.5,167.4 1075.5,167.4 1076.5,167.4 1077.5,167.4 1078.5,167.4 1079.5,167.4 1080.5,167.4 1081.5,167.4 1082.5,167.4 1083.5,167.4 1084.5,167.4 1085.5,167.4 1086.5,167.4 1087.5,167.4 1088.5,167.4 1089.5,167.4 1090.5,167.4 1091.5,167.4 1092.5,167.4 1093.5,167.4" fill="none" stroke="#5f5a0a" stroke-width="3.4" stroke-linejoin="round" />
<polyline points="693.5,162.8 694.5,162.8 695.5,162.8 696.5,162.8 697.5,162.8 698.5,162.8 699.5,162.8 700.5,162.8 701.5,162.8 702.5,162.8 703.5,162.8 704.5,162.8 705.5,162.8 706.5,162.8 707.5,162.8 708.5,162.8 709.5,162.8 710.5,162.8 711.5,162.8 712.5,162.8 713.5,162.8 714.5,162.8 715.5,162.8 716.5,162.8 717.5,162.8 718.5,162.8 719.5,162.8 720.5,162.8 721.5,162.8 722.5,162.8 723.5,162.8 724.5,162.8 725.5,162.8 726.5,162.8 727.5,162.8 728.5,162.8 729.5,162.8 730.5,162.8 731.5,162.8 732.5,162.8 733.5,162.8 734.5,162.8 735.5,162.8 736.5,162.8 737.5,162.8 738.5,162.8 739.5,162.8 740.5,162.8 741.5,162.8 742.5,162.8 743.5,162.8 744.5,162.8 745.5,162.8 746.5,162.8 747.5,162.8 748.5,162.8 749.5,162.8 750.5,162.8 751.5,162.8 752.5,162.8 753.5,162.8 754.5,162.8 755.5,162.8 756.5,162.8 757.5,162.8 758.5,162.8 759.5,162.8 760.5,162.7 761.5,162.7 762.5,162.7 763.5,162.7 764.5,162.7 765.5,162.7 766.5,162.7 767.5,162.7 768.5,162.7 769.5,162.7 770.5,162.7 771.5,162.7 772.5,162.7 773.5,162.7 774.5,162.7 775.5,162.7 776.5,162.7 777.5,162.7 778.5,162.7 779.5,162.7 780.5,162.7 781.5,162.7 782.5,162.7 783.5,162.7 784.5,162.7 785.5,162.7 786.5,162.7 787.5,162.7 788.5,162.7 789.5,162.7 790.5,162.7 791.5,162.7 792.5,162.7 793.5,162.7 794.5,162.7 795.5,162.7 796.5,162.7 797.5,162.7 798.5,162.7 799.5,162.7 800.5,162.7 801.5,162.7 802.5,162.7 803.5,162.7 804.5,162.7 805.5,162.7 806.5,162.7 807.5,162.7 808.5,162.7 809.5,162.7 810.5,162.7 811.5,162.7 812.5,162.7 813.5,162.7 814.5,162.7 815.5,162.7 816.5,162.7 817.5,162.7 818.5,162.7 819.5,162.7 820.5,162.7 821.5,162.7 822.5,162.7 823.5,162.7 824.5,162.7 825.5,162.7 826.5,162.7 827.5,162.7 828.5,162.7 829.5,162.7 830.5,162.7 831.5,162.6 832.5,162.6 833.5,162.6 834.5,162.6 835.5,162.6 836.5,162.6 837.5,162.6 838.5,162.6 839.5,162.6 840.5,162.6 841.5,162.6 842.5,162.6 843.5,162.6 844.5,162.6 845.5,162.6 846.5,162.6 847.5,162.6 848.5,162.6 849.5,162.6 850.5,162.6 851.5,162.6 852.5,162.6 853.5,162.6 854.5,162.6 855.5,162.6 856.5,162.6 857.5,162.6 858.5,162.6 859.5,162.6 860.5,162.6 861.5,162.6 862.5,162.6 863.5,162.6 864.5,162.6 865.5,162.6 866.5,162.6 867.5,162.6 868.5,162.6 869.5,162.6 870.5,162.6 871.5,162.6 872.5,162.6 873.5,162.6 874.5,162.6 875.5,162.6 876.5,162.6 877.5,162.6 878.5,162.6 879.5,162.6 880.5,162.6 881.5,162.6 882.5,162.6 883.5,162.6 884.5,162.6 885.5,162.6 886.5,162.6 887.5,162.6 888.5,162.6 889.5,162.6 890.5,162.6 891.5,162.6 892.5,162.6 893.5,162.6 894.5,162.6 895.5,162.6 896.5,162.6 897.5,162.6 898.5,162.6 899.5,162.6 900.5,162.6 901.5,162.6 902.5,162.5 903.5,162.5 904.5,162.5 905.5,162.5 906.5,162.5 907.5,162.5 908.5,162.5 909.5,162.5 910.5,162.5 911.5,162.5 912.5,162.5 913.5,162.5 914.5,162.5 915.5,162.5 916.5,162.5 917.5,162.5 918.5,162.5 919.5,162.5 920.5,162.5 921.5,162.5 922.5,162.5 923.5,162.5 924.5,162.5 925.5,162.5 926.5,162.5 927.5,162.5 928.5,162.5 929.5,162.5 930.5,162.5 931.5,162.5 932.5,162.5 933.5,162.5 934.5,162.5 935.5,162.5 936.5,162.5 937.5,162.5 938.5,162.5 939.5,162.5 940.5,162.5 941.5,162.5 942.5,162.5 943.5,162.5 944.5,162.5 945.5,162.5 946.5,162.5 947.5,162.5 948.5,162.5 949.5,162.5 950.5,162.5 951.5,162.5 952.5,162.5 953.5,162.5 954.5,162.5 955.5,162.5 956.5,162.5 957.5,162.5 958.5,162.5 959.5,162.5 960.5,162.5 961.5,162.5 962.5,162.5 963.5,162.5 964.5,162.5 965.5,162.5 966.5,162.5 967.5,162.5 968.5,162.5 969.5,162.5 970.5,162.5 971.5,162.5 972.5,162.5 973.5,162.4 974.5,162.4 975.5,162.4 976.5,162.4 977.5,162.4 978.5,162.4 979.5,162.4 980.5,162.4 981.5,162.4 982.5,162.4 983.5,162.4 984.5,162.4 985.5,162.4 986.5,162.4 987.5,162.4 988.5,162.4 989.5,162.4 990.5,162.4 991.5,162.4 992.5,162.4 993.5,162.4 994.5,162.4 995.5,162.4 996.5,162.4 997.5,162.4 998.5,162.4 999.5,162.4 1000.5,162.4 1001.5,162.4 1002.5,162.4 1003.5,162.4 1004.5,162.4 1005.5,162.4 1006.5,162.4 1007.5,162.4 1008.5,162.4 1009.5,162.4 1010.5,162.4 1011.5,162.4 1012.5,162.4 1013.5,162.4 1014.5,162.4 1015.5,162.4 1016.5,162.4 1017.5,162.4 1018.5,162.4 1019.5,162.4 1020.5,162.4 1021.5,162.4 1022.5,162.4 1023.5,162.4 1024.5,162.4 1025.5,162.4 1026.5,162.4 1027.5,162.4 1028.5,162.4 1029.5,162.4 1030.5,162.4 1031.5,162.4 1032.5,162.4 1033.5,162.4 1034.5,162.4 1035.5,162.4 1036.5,162.4 1037.5,162.4 1038.5,162.4 1039.5,162.4 1040.5,162.4 1041.5,162.4 1042.5,162.4 1043.5,162.4 1044.5,162.3 1045.5,162.3 1046.5,162.3 1047.5,162.3 1048.5,162.3 1049.5,162.3 1050.5,162.3 1051.5,162.3 1052.5,162.3 1053.5,162.3 1054.5,162.3 1055.5,162.3 1056.5,162.3 1057.5,162.3 1058.5,162.3 1059.5,162.3 1060.5,162.3 1061.5,162.3 1062.5,162.3 1063.5,162.3 1064.5,162.3 1065.5,162.3 1066.5,162.3 1067.5,162.3 1068.5,162.3 1069.5,162.3 1070.5,162.3 1071.5,162.3 1072.5,162.3 1073.5,162.3 1074.5,162.3 1075.5,162.3 1076.5,162.3 1077.5,162.3 1078.5,162.3 1079.5,162.3 1080.5,162.3 1081.5,162.3 1082.5,162.3 1083.5,162.3 1084.5,162.3 1085.5,162.3 1086.5,162.3 1087.5,162.3 1088.5,162.3 1089.5,162.3 1090.5,162.3 1091.5,162.3 1092.5,162.3 1093.5,162.3" fill="none" stroke="#e61ee6" stroke-width="3.4" stroke-linejoin="round" />
<polyline points="693.5,152.1 694.5,152.1 695.5,152.2 696.5,152.2 697.5,152.2 698.5,152.2 699.5,152.2 700.5,152.2 701.5,152.3 702.5,152.3 703.5,152.3 704.5,152.3 705.5,152.3 706.5,152.3 707.5,152.4 708.5,152.4 709.5,152.4 710.5,152.4 711.5,152.4 712.5,152.4 713.5,152.5 714.5,152.5 715.5,152.5 716.5,152.5 717.5,152.5 718.5,152.6 719.5,152.6 720.5,152.6 721.5,152.6 722.5,152.6 723.5,152.6 724.5,152.7 725.5,152.7 726.5,152.7 727.5,152.7 728.5,152.7 729.5,152.7 730.5,152.8 731.5,152.8 732.5,152.8 733.5,152.8 734.5,152.8 735.5,152.8 736.5,152.9 737.5,152.9 738.5,152.9 739.5,152.9 740.5,152.9 741.5,152.9 742.5,153.0 743.5,153.0 744.5,153.0 745.5,153.0 746.5,153.0 747.5,153.0 748.5,153.1 749.5,153.1 750.5,153.1 751.5,153.1 752.5,153.1 753.5,153.1 754.5,153.2 755.5,153.2 756.5,153.2 757.5,153.2 758.5,153.2 759.5,153.2 760.5,153.3 761.5,153.3 762.5,153.3 763.5,153.3 764.5,153.3 765.5,153.3 766.5,153.4 767.5,153.4 768.5,153.4 769.5,153.4 770.5,153.4 771.5,153.4 772.5,153.5 773.5,153.5 774.5,153.5 775.5,153.5 776.5,153.5 777.5,153.5 778.5,153.6 779.5,153.6 780.5,153.6 781.5,153.6 782.5,153.6 783.5,153.7 784.5,153.7 785.5,153.7 786.5,153.7 787.5,153.7 788.5,153.7 789.5,153.8 790.5,153.8 791.5,153.8 792.5,153.8 793.5,153.8 794.5,153.8 795.5,153.7 796.5,153.7 797.5,153.6 798.5,153.5 799.5,153.5 800.5,153.4 801.5,153.4 802.5,153.3 803.5,153.3 804.5,153.2 805.5,153.1 806.5,153.1 807.5,153.0 808.5,153.0 809.5,152.9 810.5,152.9 811.5,152.8 812.5,152.7 813.5,152.7 814.5,152.6 815.5,152.6 816.5,152.5 817.5,152.5 818.5,152.4 819.5,152.4 820.5,152.3 821.5,152.2 822.5,152.2 823.5,152.1 824.5,152.1 825.5,152.0 826.5,152.0 827.5,151.9 828.5,151.8 829.5,151.8 830.5,151.7 831.5,151.7 832.5,151.6 833.5,151.6 834.5,151.5 835.5,151.5 836.5,151.4 837.5,151.3 838.5,151.3 839.5,151.2 840.5,151.2 841.5,151.1 842.5,151.1 843.5,151.0 844.5,150.9 845.5,150.9 846.5,150.8 847.5,150.8 848.5,150.7 849.5,150.7 850.5,150.6 851.5,150.5 852.5,150.5 853.5,150.4 854.5,150.4 855.5,150.3 856.5,150.3 857.5,150.2 858.5,150.2 859.5,150.1 860.5,150.0 861.5,150.0 862.5,149.9 863.5,149.9 864.5,149.8 865.5,149.8 866.5,149.7 867.5,149.6 868.5,149.6 869.5,149.5 870.5,149.5 871.5,149.4 872.5,149.4 873.5,149.3 874.5,149.3 875.5,149.2 876.5,149.1 877.5,149.1 878.5,149.0 879.5,149.0 880.5,148.9 881.5,148.9 882.5,148.8 883.5,148.7 884.5,148.7 885.5,148.6 886.5,148.6 887.5,148.5 888.5,148.5 889.5,148.4 890.5,148.3 891.5,148.3 892.5,148.2 893.5,148.2 894.5,148.1 895.5,148.1 896.5,148.0 897.5,148.0 898.5,148.0 899.5,147.9 900.5,147.9 901.5,147.8 902.5,147.8 903.5,147.7 904.5,147.7 905.5,147.6 906.5,147.6 907.5,147.5 908.5,147.5 909.5,147.5 910.5,147.4 911.5,147.4 912.5,147.3 913.5,147.3 914.5,147.2 915.5,147.2 916.5,147.1 917.5,147.1 918.5,147.1 919.5,147.0 920.5,147.0 921.5,146.9 922.5,146.9 923.5,146.8 924.5,146.8 925.5,146.7 926.5,146.7 927.5,146.6 928.5,146.6 929.5,146.6 930.5,146.5 931.5,146.5 932.5,146.4 933.5,146.4 934.5,146.3 935.5,146.3 936.5,146.2 937.5,146.2 938.5,146.1 939.5,146.1 940.5,146.1 941.5,146.0 942.5,146.0 943.5,145.9 944.5,145.9 945.5,145.8 946.5,145.8 947.5,145.7 948.5,145.7 949.5,145.7 950.5,145.6 951.5,145.6 952.5,145.5 953.5,145.5 954.5,145.4 955.5,145.4 956.5,145.3 957.5,145.3 958.5,145.2 959.5,145.2 960.5,145.2 961.5,145.1 962.5,145.1 963.5,145.0 964.5,145.0 965.5,144.9 966.5,144.9 967.5,144.8 968.5,144.8 969.5,144.8 970.5,144.7 971.5,144.7 972.5,144.6 973.5,144.6 974.5,144.5 975.5,144.5 976.5,144.4 977.5,144.4 978.5,144.3 979.5,144.3 980.5,144.3 981.5,144.2 982.5,144.2 983.5,144.1 984.5,144.1 985.5,144.0 986.5,144.0 987.5,143.9 988.5,143.9 989.5,143.8 990.5,143.8 991.5,143.8 992.5,143.7 993.5,143.7 994.5,143.7 995.5,143.7 996.5,143.8 997.5,143.8 998.5,143.8 999.5,143.8 1000.5,143.9 1001.5,143.9 1002.5,143.9 1003.5,144.0 1004.5,144.0 1005.5,144.0 1006.5,144.0 1007.5,144.1 1008.5,144.1 1009.5,144.1 1010.5,144.1 1011.5,144.2 1012.5,144.2 1013.5,144.2 1014.5,144.3 1015.5,144.3 1016.5,144.3 1017.5,144.3 1018.5,144.4 1019.5,144.4 1020.5,144.4 1021.5,144.5 1022.5,144.5 1023.5,144.5 1024.5,144.5 1025.5,144.6 1026.5,144.6 1027.5,144.6 1028.5,144.7 1029.5,144.7 1030.5,144.7 1031.5,144.7 1032.5,144.8 1033.5,144.8 1034.5,144.8 1035.5,144.9 1036.5,144.9 1037.5,144.9 1038.5,144.9 1039.5,145.0 1040.5,145.0 1041.5,145.0 1042.5,145.0 1043.5,145.1 1044.5,145.1 1045.5,145.1 1046.5,145.2 1047.5,145.2 1048.5,145.2 1049.5,145.2 1050.5,145.3 1051.5,145.3 1052.5,145.3 1053.5,145.4 1054.5,145.4 1055.5,145.4 1056.5,145.4 1057.5,145.5 1058.5,145.5 1059.5,145.5 1060.5,145.6 1061.5,145.6 1062.5,145.6 1063.5,145.6 1064.5,145.7 1065.5,145.7 1066.5,145.7 1067.5,145.8 1068.5,145.8 1069.5,145.8 1070.5,145.8 1071.5,145.9 1072.5,145.9 1073.5,145.9 1074.5,146.0 1075.5,146.0 1076.5,146.0 1077.5,146.0 1078.5,146.1 1079.5,146.1 1080.5,146.1 1081.5,146.1 1082.5,146.2 1083.5,146.2 1084.5,146.2 1085.5,146.3 1086.5,146.3 1087.5,146.3 1088.5,146.3 1089.5,146.4 1090.5,146.4 1091.5,146.4 1092.5,146.5 1093.5,146.5" fill="none" stroke="#000" stroke-width="3.4" stroke-linejoin="round" />
<polyline points="693.5,134.6 694.5,134.6 695.5,134.6 696.5,134.6 697.5,134.6 698.5,134.6 699.5,134.6 700.5,134.6 701.5,134.6 702.5,134.6 703.5,134.6 704.5,134.6 705.5,134.6 706.5,134.6 707.5,134.6 708.5,134.6 709.5,134.6 710.5,134.6 711.5,134.6 712.5,134.6 713.5,134.6 714.5,134.6 715.5,134.6 716.5,134.6 717.5,134.6 718.5,134.6 719.5,134.6 720.5,134.6 721.5,134.6 722.5,134.6 723.5,134.6 724.5,134.6 725.5,134.6 726.5,134.6 727.5,134.5 728.5,134.5 729.5,134.5 730.5,134.5 731.5,134.5 732.5,134.5 733.5,134.5 734.5,134.5 735.5,134.5 736.5,134.5 737.5,134.5 738.5,134.5 739.5,134.5 740.5,134.5 741.5,134.5 742.5,134.5 743.5,134.5 744.5,134.5 745.5,134.5 746.5,134.5 747.5,134.5 748.5,134.5 749.5,134.5 750.5,134.5 751.5,134.5 752.5,134.5 753.5,134.5 754.5,134.5 755.5,134.5 756.5,134.5 757.5,134.5 758.5,134.5 759.5,134.5 760.5,134.5 761.5,134.5 762.5,134.4 763.5,134.4 764.5,134.4 765.5,134.4 766.5,134.4 767.5,134.4 768.5,134.4 769.5,134.4 770.5,134.4 771.5,134.4 772.5,134.4 773.5,134.4 774.5,134.4 775.5,134.4 776.5,134.4 777.5,134.4 778.5,134.4 779.5,134.4 780.5,134.4 781.5,134.4 782.5,134.4 783.5,134.4 784.5,134.4 785.5,134.4 786.5,134.4 787.5,134.4 788.5,134.4 789.5,134.4 790.5,134.4 791.5,134.4 792.5,134.4 793.5,134.4 794.5,134.4 795.5,134.4 796.5,134.4 797.5,134.4 798.5,134.3 799.5,134.3 800.5,134.3 801.5,134.3 802.5,134.3 803.5,134.3 804.5,134.3 805.5,134.3 806.5,134.3 807.5,134.3 808.5,134.3 809.5,134.3 810.5,134.3 811.5,134.3 812.5,134.3 813.5,134.3 814.5,134.3 815.5,134.3 816.5,134.3 817.5,134.3 818.5,134.3 819.5,134.3 820.5,134.3 821.5,134.3 822.5,134.3 823.5,134.3 824.5,134.3 825.5,134.3 826.5,134.3 827.5,134.3 828.5,134.3 829.5,134.3 830.5,134.3 831.5,134.3 832.5,134.3 833.5,134.2 834.5,134.2 835.5,134.2 836.5,134.2 837.5,134.2 838.5,134.2 839.5,134.2 840.5,134.2 841.5,134.2 842.5,134.2 843.5,134.2 844.5,134.2 845.5,134.2 846.5,134.2 847.5,134.2 848.5,134.2 849.5,134.2 850.5,134.2 851.5,134.2 852.5,134.2 853.5,134.2 854.5,134.2 855.5,134.2 856.5,134.2 857.5,134.2 858.5,134.2 859.5,134.2 860.5,134.2 861.5,134.2 862.5,134.2 863.5,134.2 864.5,134.2 865.5,134.2 866.5,134.2 867.5,134.2 868.5,134.2 869.5,134.1 870.5,134.1 871.5,134.1 872.5,134.1 873.5,134.1 874.5,134.1 875.5,134.1 876.5,134.1 877.5,134.1 878.5,134.1 879.5,134.1 880.5,134.1 881.5,134.1 882.5,134.1 883.5,134.1 884.5,134.1 885.5,134.1 886.5,134.1 887.5,134.1 888.5,134.1 889.5,134.1 890.5,134.1 891.5,134.1 892.5,134.1 893.5,134.1 894.5,134.1 895.5,134.1 896.5,134.0 897.5,134.0 898.5,134.0 899.5,134.0 900.5,134.0 901.5,134.0 902.5,134.0 903.5,134.0 904.5,134.0 905.5,133.9 906.5,133.9 907.5,133.9 908.5,133.9 909.5,133.9 910.5,133.9 911.5,133.9 912.5,133.9 913.5,133.9 914.5,133.8 915.5,133.8 916.5,133.8 917.5,133.8 918.5,133.8 919.5,133.8 920.5,133.8 921.5,133.8 922.5,133.8 923.5,133.7 924.5,133.7 925.5,133.7 926.5,133.7 927.5,133.7 928.5,133.7 929.5,133.7 930.5,133.7 931.5,133.7 932.5,133.6 933.5,133.6 934.5,133.6 935.5,133.6 936.5,133.6 937.5,133.6 938.5,133.6 939.5,133.6 940.5,133.5 941.5,133.5 942.5,133.5 943.5,133.5 944.5,133.5 945.5,133.5 946.5,133.5 947.5,133.5 948.5,133.5 949.5,133.4 950.5,133.4 951.5,133.4 952.5,133.4 953.5,133.4 954.5,133.4 955.5,133.4 956.5,133.4 957.5,133.4 958.5,133.3 959.5,133.3 960.5,133.3 961.5,133.3 962.5,133.3 963.5,133.3 964.5,133.3 965.5,133.3 966.5,133.3 967.5,133.2 968.5,133.2 969.5,133.2 970.5,133.2 971.5,133.2 972.5,133.2 973.5,133.2 974.5,133.2 975.5,133.2 976.5,133.1 977.5,133.1 978.5,133.1 979.5,133.1 980.5,133.1 981.5,133.1 982.5,133.1 983.5,133.1 984.5,133.1 985.5,133.0 986.5,133.0 987.5,133.0 988.5,133.0 989.5,133.0 990.5,133.0 991.5,133.0 992.5,133.0 993.5,133.0 994.5,133.0 995.5,133.0 996.5,133.0 997.5,133.0 998.5,133.1 999.5,133.1 1000.5,133.1 1001.5,133.1 1002.5,133.2 1003.5,133.2 1004.5,133.2 1005.5,133.2 1006.5,133.2 1007.5,133.3 1008.5,133.3 1009.5,133.3 1010.5,133.3 1011.5,133.4 1012.5,133.4 1013.5,133.4 1014.5,133.4 1015.5,133.4 1016.5,133.5 1017.5,133.5 1018.5,133.5 1019.5,133.5 1020.5,133.6 1021.5,133.6 1022.5,133.6 1023.5,133.6 1024.5,133.7 1025.5,133.7 1026.5,133.7 1027.5,133.7 1028.5,133.7 1029.5,133.8 1030.5,133.8 1031.5,133.8 1032.5,133.8 1033.5,133.9 1034.5,133.9 1035.5,133.9 1036.5,133.9 1037.5,133.9 1038.5,134.0 1039.5,134.0 1040.5,134.0 1041.5,134.0 1042.5,134.1 1043.5,134.1 1044.5,134.1 1045.5,134.1 1046.5,134.1 1047.5,134.2 1048.5,134.2 1049.5,134.2 1050.5,134.2 1051.5,134.3 1052.5,134.3 1053.5,134.3 1054.5,134.3 1055.5,134.4 1056.5,134.4 1057.5,134.4 1058.5,134.4 1059.5,134.4 1060.5,134.5 1061.5,134.5 1062.5,134.5 1063.5,134.5 1064.5,134.6 1065.5,134.6 1066.5,134.6 1067.5,134.6 1068.5,134.6 1069.5,134.7 1070.5,134.7 1071.5,134.7 1072.5,134.7 1073.5,134.8 1074.5,134.8 1075.5,134.8 1076.5,134.8 1077.5,134.8 1078.5,134.9 1079.5,134.9 1080.5,134.9 1081.5,134.9 1082.5,135.0 1083.5,135.0 1084.5,135.0 1085.5,135.0 1086.5,135.1 1087.5,135.1 1088.5,135.1 1089.5,135.1 1090.5,135.1 1091.5,135.2 1092.5,135.2 1093.5,135.2" fill="none" stroke="#1ee61e" stroke-width="4.2" stroke-linejoin="round" />
<polyline points="693.5,136.4 694.5,134.7 695.5,133.7 696.5,132.2 697.5,132.2 698.5,132.4 699.5,132.5 700.5,133.8 701.5,133.3 702.5,134.0 703.5,134.4 704.5,135.4 705.5,136.0 706.5,136.6 707.5,136.8 708.5,136.7 709.5,137.7 710.5,137.6 711.5,137.9 712.5,136.8 713.5,136.9 714.5,137.0 715.5,137.7 716.5,137.0 717.5,136.8 718.5,136.2 719.5,135.7 720.5,134.6 721.5,134.1 722.5,132.8 723.5,132.3 724.5,132.1 725.5,132.0 726.5,132.6 727.5,132.8 728.5,134.0 729.5,134.7 730.5,135.8 731.5,136.8 732.5,136.3 733.5,137.4 734.5,136.9 735.5,137.1 736.5,138.0 737.5,137.7 738.5,137.5 739.5,137.6 740.5,137.7 741.5,136.8 742.5,137.0 743.5,136.5 744.5,136.3 745.5,135.4 746.5,135.0 747.5,133.8 748.5,132.7 749.5,132.2 750.5,132.0 751.5,132.3 752.5,132.3 753.5,132.9 754.5,134.0 755.5,135.1 756.5,135.4 757.5,135.2 758.5,136.8 759.5,136.8 760.5,136.9 761.5,138.2 762.5,137.2 763.5,137.5 764.5,136.7 765.5,137.3 766.5,137.5 767.5,137.1 768.5,136.8 769.5,136.7 770.5,136.0 771.5,135.8 772.5,134.6 773.5,133.3 774.5,131.9 775.5,131.8 776.5,131.6 777.5,131.3 778.5,131.9 779.5,132.4 780.5,133.5 781.5,134.8 782.5,135.5 783.5,136.1 784.5,136.5 785.5,136.8 786.5,137.3 787.5,138.0 788.5,137.4 789.5,138.0 790.5,137.1 791.5,137.1 792.5,137.7 793.5,136.7 794.5,136.4 795.5,136.3 796.5,135.2 797.5,134.4 798.5,134.8 799.5,133.0 800.5,132.3 801.5,131.7 802.5,131.2 803.5,132.0 804.5,132.4 805.5,133.3 806.5,134.2 807.5,134.8 808.5,136.1 809.5,136.6 810.5,136.3 811.5,136.8 812.5,136.8 813.5,137.8 814.5,137.4 815.5,137.3 816.5,137.1 817.5,137.3 818.5,136.6 819.5,136.9 820.5,136.6 821.5,136.2 822.5,135.4 823.5,135.2 824.5,133.7 825.5,133.0 826.5,132.3 827.5,131.7 828.5,131.3 829.5,131.2 830.5,131.8 831.5,132.8 832.5,133.5 833.5,134.7 834.5,135.0 835.5,136.1 836.5,137.3 837.5,136.2 838.5,136.9 839.5,137.4 840.5,137.1 841.5,137.4 842.5,136.2 843.5,136.8 844.5,137.5 845.5,136.5 846.5,136.7 847.5,135.4 848.5,136.0 849.5,135.7 850.5,133.9 851.5,133.1 852.5,132.3 853.5,132.4 854.5,131.1 855.5,130.8 856.5,132.8 857.5,132.4 858.5,134.1 859.5,133.8 860.5,135.3 861.5,136.1 862.5,136.0 863.5,136.5 864.5,137.1 865.5,136.6 866.5,137.2 867.5,137.7 868.5,136.1 869.5,137.0 870.5,137.1 871.5,136.5 872.5,137.0 873.5,136.5 874.5,135.6 875.5,134.8 876.5,133.6 877.5,132.2 878.5,132.0 879.5,131.1 880.5,130.9 881.5,131.8 882.5,131.9 883.5,133.2 884.5,133.4 885.5,134.5 886.5,135.4 887.5,136.5 888.5,136.4 889.5,136.9 890.5,136.5 891.5,136.9 892.5,137.2 893.5,136.5 894.5,136.6 895.5,137.1 896.5,136.3 897.5,136.8 898.5,136.5 899.5,136.0 900.5,135.9 901.5,135.2 902.5,134.5 903.5,133.3 904.5,132.8 905.5,133.4 906.5,132.7 907.5,133.7 908.5,134.1 909.5,134.5 910.5,135.4 911.5,135.0 912.5,136.3 913.5,137.1 914.5,136.3 915.5,137.1 916.5,137.1 917.5,138.2 918.5,136.6 919.5,136.7 920.5,136.7 921.5,136.6 922.5,136.3 923.5,137.0 924.5,136.5 925.5,137.0 926.5,136.6 927.5,135.7 928.5,135.7 929.5,136.0 930.5,135.1 931.5,135.2 932.5,135.4 933.5,135.1 934.5,135.7 935.5,136.4 936.5,136.6 937.5,135.8 938.5,137.3 939.5,136.8 940.5,136.8 941.5,136.8 942.5,137.6 943.5,137.3 944.5,137.1 945.5,136.9 946.5,137.4 947.5,137.6 948.5,136.8 949.5,136.7 950.5,136.9 951.5,137.1 952.5,136.6 953.5,136.5 954.5,135.9 955.5,136.5 956.5,135.8 957.5,135.8 958.5,136.1 959.5,135.7 960.5,136.0 961.5,136.4 962.5,136.4 963.5,137.3 964.5,137.0 965.5,136.9 966.5,137.1 967.5,136.8 968.5,137.8 969.5,137.9 970.5,137.2 971.5,137.2 972.5,136.5 973.5,137.1 974.5,137.6 975.5,136.9 976.5,137.5 977.5,137.6 978.5,135.9 979.5,136.5 980.5,136.2 981.5,136.0 982.5,135.3 983.5,135.8 984.5,135.5 985.5,136.5 986.5,136.8 987.5,135.9 988.5,136.2 989.5,136.8 990.5,137.1 991.5,137.2 992.5,137.6 993.5,136.8 994.5,137.2 995.5,137.3 996.5,137.4 997.5,137.1 998.5,137.4 999.5,137.3 1000.5,138.0 1001.5,137.3 1002.5,136.6 1003.5,137.6 1004.5,137.3 1005.5,136.7 1006.5,136.5 1007.5,136.4 1008.5,137.1 1009.5,136.2 1010.5,136.9 1011.5,136.9 1012.5,136.6 1013.5,137.2 1014.5,137.0 1015.5,136.3 1016.5,137.4 1017.5,137.6 1018.5,138.3 1019.5,138.3 1020.5,138.5 1021.5,138.3 1022.5,138.5 1023.5,138.4 1024.5,138.2 1025.5,138.6 1026.5,138.7 1027.5,138.7 1028.5,137.9 1029.5,138.0 1030.5,137.4 1031.5,137.3 1032.5,137.6 1033.5,137.0 1034.5,137.7 1035.5,136.2 1036.5,136.7 1037.5,137.4 1038.5,138.0 1039.5,137.6 1040.5,138.7 1041.5,138.5 1042.5,138.0 1043.5,138.4 1044.5,138.7 1045.5,138.2 1046.5,139.1 1047.5,138.6 1048.5,138.9 1049.5,139.1 1050.5,138.6 1051.5,139.1 1052.5,138.0 1053.5,138.9 1054.5,137.9 1055.5,139.0 1056.5,138.2 1057.5,138.8 1058.5,138.6 1059.5,137.9 1060.5,137.6 1061.5,138.3 1062.5,137.4 1063.5,138.3 1064.5,138.1 1065.5,138.3 1066.5,138.4 1067.5,139.5 1068.5,138.3 1069.5,138.8 1070.5,139.3 1071.5,139.6 1072.5,139.9 1073.5,139.8 1074.5,139.1 1075.5,139.4 1076.5,139.8 1077.5,139.5 1078.5,138.7 1079.5,139.4 1080.5,139.5 1081.5,138.6 1082.5,138.9 1083.5,138.9 1084.5,139.0 1085.5,139.2 1086.5,139.0 1087.5,138.7 1088.5,138.6 1089.5,138.5 1090.5,138.6 1091.5,139.0 1092.5,139.2 1093.5,139.8" fill="none" stroke="#e61414" stroke-width="3.0" stroke-linejoin="round" />
<polyline points="693.5,86.8 694.5,87.6 695.5,88.8 696.5,89.1 697.5,88.6 698.5,87.7 699.5,85.9 700.5,83.4 701.5,81.3 702.5,80.0 703.5,78.9 704.5,79.5 705.5,81.0 706.5,82.6 707.5,84.3 708.5,87.4 709.5,88.4 710.5,89.2 711.5,89.2 712.5,89.2 713.5,87.0 714.5,86.2 715.5,85.2 716.5,84.6 717.5,84.6 718.5,85.7 719.5,87.2 720.5,88.3 721.5,90.2 722.5,90.9 723.5,90.0 724.5,88.7 725.5,86.5 726.5,84.7 727.5,81.6 728.5,79.9 729.5,78.5 730.5,79.8 731.5,80.7 732.5,83.1 733.5,86.2 734.5,88.4 735.5,89.9 736.5,91.5 737.5,91.7 738.5,90.3 739.5,88.8 740.5,87.2 741.5,86.4 742.5,85.4 743.5,85.2 744.5,86.8 745.5,88.5 746.5,89.7 747.5,91.0 748.5,92.7 749.5,92.9 750.5,91.1 751.5,88.6 752.5,85.5 753.5,82.4 754.5,80.4 755.5,79.4 756.5,79.3 757.5,81.1 758.5,83.2 759.5,86.4 760.5,88.3 761.5,91.3 762.5,93.3 763.5,93.5 764.5,92.5 765.5,91.2 766.5,89.1 767.5,87.4 768.5,86.0 769.5,86.5 770.5,87.7 771.5,89.7 772.5,91.7 773.5,93.0 774.5,94.0 775.5,93.3 776.5,92.5 777.5,89.4 778.5,86.5 779.5,83.3 780.5,81.4 781.5,79.7 782.5,79.0 783.5,80.3 784.5,83.4 785.5,86.5 786.5,90.3 787.5,93.0 788.5,94.8 789.5,94.6 790.5,93.9 791.5,92.4 792.5,90.3 793.5,88.1 794.5,87.1 795.5,87.5 796.5,87.7 797.5,90.1 798.5,92.4 799.5,93.9 800.5,95.3 801.5,95.5 802.5,93.8 803.5,91.6 804.5,88.0 805.5,84.9 806.5,80.7 807.5,80.0 808.5,79.0 809.5,81.0 810.5,83.9 811.5,87.3 812.5,90.9 813.5,93.9 814.5,95.5 815.5,96.5 816.5,95.5 817.5,94.1 818.5,91.3 819.5,89.4 820.5,88.3 821.5,88.0 822.5,89.1 823.5,91.0 824.5,93.4 825.5,96.0 826.5,97.5 827.5,97.0 828.5,96.3 829.5,93.0 830.5,88.5 831.5,86.0 832.5,81.9 833.5,79.3 834.5,79.7 835.5,79.8 836.5,84.5 837.5,87.1 838.5,91.2 839.5,95.0 840.5,97.7 841.5,98.3 842.5,97.9 843.5,95.3 844.5,93.4 845.5,90.7 846.5,88.8 847.5,89.2 848.5,89.9 849.5,91.9 850.5,95.1 851.5,96.8 852.5,98.7 853.5,99.5 854.5,97.5 855.5,94.7 856.5,90.6 857.5,86.0 858.5,82.4 859.5,79.4 860.5,79.4 861.5,80.2 862.5,83.7 863.5,87.6 864.5,92.6 865.5,96.6" fill="none" stroke="#0a14e6" stroke-width="3.2" stroke-linejoin="round" />
<polyline points="866.5,108.9 867.5,106.7 868.5,104.1 869.5,101.0 870.5,98.6 871.5,96.7 872.5,95.2 873.5,94.1 874.5,94.2 875.5,94.4 876.5,95.8 877.5,97.9 878.5,99.5 879.5,100.3 880.5,101.8 881.5,102.8 882.5,102.5 883.5,102.9 884.5,102.3 885.5,101.5 886.5,101.0 887.5,99.2 888.5,99.1 889.5,98.3 890.5,98.1 891.5,97.5 892.5,98.0 893.5,98.4 894.5,99.5 895.5,99.6 896.5,100.6 897.5,100.4 898.5,100.6 899.5,100.8 900.5,100.0 901.5,100.4 902.5,100.0 903.5,99.9 904.5,99.7 905.5,99.0 906.5,98.8 907.5,99.5 908.5,98.7 909.5,98.9 910.5,98.9 911.5,99.3 912.5,100.1 913.5,100.2 914.5,99.3 915.5,99.9 916.5,100.5 917.5,99.9 918.5,100.1 919.5,100.5 920.5,100.5 921.5,100.2 922.5,99.5 923.5,99.5 924.5,99.5 925.5,99.4 926.5,99.3 927.5,100.2 928.5,99.7 929.5,99.9 930.5,100.1 931.5,100.0 932.5,99.8 933.5,99.9 934.5,100.3 935.5,99.9 936.5,99.1 937.5,100.1 938.5,100.2 939.5,99.5 940.5,99.4 941.5,99.4 942.5,100.0 943.5,99.3 944.5,99.9 945.5,100.0 946.5,99.9 947.5,99.7 948.5,99.5 949.5,99.5 950.5,99.7 951.5,99.4 952.5,99.7 953.5,99.4 954.5,100.2 955.5,100.2 956.5,99.4 957.5,100.1 958.5,99.8 959.5,99.7 960.5,99.8 961.5,99.8 962.5,99.2 963.5,100.5 964.5,99.4 965.5,98.9 966.5,99.7 967.5,99.7 968.5,99.4 969.5,99.1 970.5,100.1 971.5,99.6 972.5,99.7 973.5,99.5 974.5,99.6 975.5,99.4 976.5,99.8 977.5,99.7 978.5,99.9 979.5,99.9 980.5,99.7 981.5,99.7 982.5,100.1 983.5,99.1 984.5,99.7 985.5,100.1 986.5,99.3 987.5,99.9 988.5,99.5 989.5,99.7 990.5,99.6 991.5,99.6 992.5,99.9 993.5,99.7 994.5,99.0 995.5,100.4 996.5,99.7 997.5,99.5 998.5,100.0 999.5,100.1 1000.5,98.9 1001.5,99.8 1002.5,99.0 1003.5,99.5 1004.5,99.7 1005.5,99.5 1006.5,99.5 1007.5,99.3 1008.5,99.5 1009.5,99.6 1010.5,99.6 1011.5,99.2 1012.5,99.4 1013.5,100.0 1014.5,99.9 1015.5,99.6 1016.5,99.9 1017.5,99.8 1018.5,100.0 1019.5,99.8 1020.5,99.5 1021.5,99.3 1022.5,99.7 1023.5,99.0 1024.5,99.7 1025.5,98.6 1026.5,99.3 1027.5,99.5 1028.5,99.8 1029.5,100.6 1030.5,99.7 1031.5,99.6 1032.5,99.0 1033.5,100.1 1034.5,99.0 1035.5,99.8 1036.5,99.4 1037.5,100.5 1038.5,99.6 1039.5,99.8 1040.5,99.4 1041.5,99.6 1042.5,100.1 1043.5,99.4 1044.5,99.4 1045.5,99.5 1046.5,99.3 1047.5,99.3 1048.5,99.7 1049.5,100.1 1050.5,100.1 1051.5,99.2 1052.5,99.4 1053.5,99.6 1054.5,99.8 1055.5,99.7 1056.5,99.7 1057.5,99.8 1058.5,99.9 1059.5,98.9 1060.5,99.6 1061.5,99.9 1062.5,100.1 1063.5,99.9 1064.5,99.4 1065.5,99.4 1066.5,99.7 1067.5,99.7 1068.5,99.8 1069.5,100.1 1070.5,99.2 1071.5,99.5 1072.5,98.8 1073.5,99.9 1074.5,99.7 1075.5,99.4 1076.5,99.8 1077.5,100.1 1078.5,100.0 1079.5,99.6 1080.5,99.6 1081.5,99.7 1082.5,99.3 1083.5,99.3 1084.5,99.6 1085.5,99.7 1086.5,99.8 1087.5,99.5 1088.5,99.4 1089.5,99.7 1090.5,99.5 1091.5,99.8 1092.5,100.2 1093.5,100.0" fill="none" stroke="#0a14e6" stroke-width="2.4" stroke-linejoin="round" />
</g>
<path d="M693.5 61.5v7.5M693.5 184.5v-7.5M713.5 61.5v4.5M713.5 184.5v-4.5M733.5 61.5v4.5M733.5 184.5v-4.5M753.5 61.5v4.5M753.5 184.5v-4.5M773.5 61.5v4.5M773.5 184.5v-4.5M793.5 61.5v7.5M793.5 184.5v-7.5M813.5 61.5v4.5M813.5 184.5v-4.5M833.5 61.5v4.5M833.5 184.5v-4.5M853.5 61.5v4.5M853.5 184.5v-4.5M873.5 61.5v4.5M873.5 184.5v-4.5M893.5 61.5v7.5M893.5 184.5v-7.5M913.5 61.5v4.5M913.5 184.5v-4.5M933.5 61.5v4.5M933.5 184.5v-4.5M953.5 61.5v4.5M953.5 184.5v-4.5M973.5 61.5v4.5M973.5 184.5v-4.5M993.5 61.5v7.5M993.5 184.5v-7.5M1013.5 61.5v4.5M1013.5 184.5v-4.5M1033.5 61.5v4.5M1033.5 184.5v-4.5M1053.5 61.5v4.5M1053.5 184.5v-4.5M1073.5 61.5v4.5M1073.5 184.5v-4.5M1093.5 61.5v7.5M1093.5 184.5v-7.5M693.5 179.2h10M1093.5 179.2h-10M693.5 167.9h6M1093.5 167.9h-6M693.5 156.6h6M1093.5 156.6h-6M693.5 145.4h6M1093.5 145.4h-6M693.5 134.1h6M1093.5 134.1h-6M693.5 122.8h10M1093.5 122.8h-10M693.5 111.5h6M1093.5 111.5h-6M693.5 100.2h6M1093.5 100.2h-6M693.5 89.0h6M1093.5 89.0h-6M693.5 77.7h6M1093.5 77.7h-6M693.5 66.4h10M1093.5 66.4h-10" stroke="#000" stroke-width="2.6" fill="none"/>
<path d="M865.5 60.5V184.0" stroke="#f0141e" stroke-width="4.2" stroke-dasharray="17.5 18.8" fill="none"/>
<path d="M993.5 60.5V184.0" stroke="#f0141e" stroke-width="4.2" stroke-dasharray="17.5 18.8" fill="none"/>
<rect x="693.5" y="61.5" width="400.0" height="123.0" fill="none" stroke="#000" stroke-width="3"/>
<text x="693.5" y="224" font-size="28" text-anchor="middle" fill="#000" >1043.5</text>
<text x="793.5" y="224" font-size="28" text-anchor="middle" fill="#000" >1044</text>
<text x="893.5" y="224" font-size="28" text-anchor="middle" fill="#000" >1044.5</text>
<text x="993.5" y="224" font-size="28" text-anchor="middle" fill="#000" >1045</text>
<text x="1093.5" y="224" font-size="28" text-anchor="middle" fill="#000" >1045.5</text>
<text x="682" y="189.7" font-size="28" text-anchor="end" fill="#000" >0</text>
<text x="682" y="133.3" font-size="28" text-anchor="end" fill="#000" >1</text>
<text x="682" y="76.9" font-size="28" text-anchor="end" fill="#000" >2</text>
<text x="893" y="250" font-size="28.5" text-anchor="middle" fill="#000" >Time (ms)</text>
<g transform="translate(638.5 203.5) rotate(-90)"><text x="0" y="0" font-size="31">I<tspan font-size="24.5" dy="16.5">DSXR</tspan><tspan font-size="31.5" dy="-16.5"> (a.u.)</tspan></text></g>
<rect x="820.0" y="6.8" width="44" height="45" fill="none" stroke="#000" stroke-width="3.4"/>
<text x="842" y="42.5" font-size="28" text-anchor="middle" fill="#000" >D</text>
<rect x="946.2" y="6.8" width="44" height="45" fill="none" stroke="#000" stroke-width="3.4"/>
<text x="968.2" y="42.5" font-size="28" text-anchor="middle" fill="#000" >E</text>
<defs><filter id="bl" x="-5%" y="-5%" width="110%" height="110%"><feGaussianBlur stdDeviation="0.6"/></filter><clipPath id="cp00"><path d="M131.5 255.7L305.2 255.7L315.2 265.7L315.2 436.5L305.2 446.5L131.5 446.5L121.5 436.5L121.5 265.7z"/></clipPath><clipPath id="cp01"><path d="M325.2 255.7L499.6 255.7L509.6 265.7L509.6 436.5L499.6 446.5L325.2 446.5L315.2 436.5L315.2 265.7z"/></clipPath><clipPath id="cp02"><path d="M519.6 255.7L694.0 255.7L704.0 265.7L704.0 436.5L694.0 446.5L519.6 446.5L509.6 436.5L509.6 265.7z"/></clipPath><clipPath id="cp03"><path d="M714.0 255.7L888.4 255.7L898.4 265.7L898.4 436.5L888.4 446.5L714.0 446.5L704.0 436.5L704.0 265.7z"/></clipPath><clipPath id="cp04"><path d="M908.4 255.7L1084.4 255.7L1094.4 265.7L1094.4 436.5L1084.4 446.5L908.4 446.5L898.4 436.5L898.4 265.7z"/></clipPath><clipPath id="cp10"><path d="M131.5 464.3L305.2 464.3L315.2 474.3L315.2 645.6L305.2 655.6L131.5 655.6L121.5 645.6L121.5 474.3z"/></clipPath><clipPath id="cp11"><path d="M325.2 464.3L499.6 464.3L509.6 474.3L509.6 645.6L499.6 655.6L325.2 655.6L315.2 645.6L315.2 474.3z"/></clipPath><clipPath id="cp12"><path d="M519.6 464.3L694.0 464.3L704.0 474.3L704.0 645.6L694.0 655.6L519.6 655.6L509.6 645.6L509.6 474.3z"/></clipPath><clipPath id="cp13"><path d="M714.0 464.3L888.4 464.3L898.4 474.3L898.4 645.6L888.4 655.6L714.0 655.6L704.0 645.6L704.0 474.3z"/></clipPath><clipPath id="cp14"><path d="M908.4 464.3L1084.4 464.3L1094.4 474.3L1094.4 645.6L1084.4 655.6L908.4 655.6L898.4 645.6L898.4 474.3z"/></clipPath><clipPath id="ct0"><ellipse cx="219.9" cy="768.6" rx="72.2" ry="70.9"/></clipPath><clipPath id="ct1"><ellipse cx="413.0" cy="768.3" rx="72.9" ry="71.4"/></clipPath><clipPath id="ct2"><ellipse cx="609.5" cy="768.3" rx="72" ry="71.4"/></clipPath><clipPath id="ct3"><ellipse cx="801.9" cy="767.8" rx="58.3" ry="57.3"/></clipPath><clipPath id="ct4"><ellipse cx="996.4" cy="768.3" rx="73.4" ry="71.4"/></clipPath></defs>
<g clip-path="url(#cp00)">
<g filter="url(#bl)">
<rect x="118.5" y="252.7" width="199.7" height="196.8" fill="#00008a"/>
<path fill="#00009f" fill-rule="evenodd" d="M218.3 275.5l7 -.5l8 .2l7 .9l8 1.9l7 2.4l8 3.7l12 8l6 5.4l4.6 5.2l4.6 5.9l4.2 7l3.3 7l2.6 7l2 8l1 7l.4 7l-.3 8l-1.1 8l-1.7 7l-2.4 7l-3.7 8l-7.9 11.9l-5.3 6l-5.3 5l-6 4.5l-6 3.7l-7 3.5l-7 2.6l-8 2.1l-7 1.1l-8 .4l-8 -.4l-6.9 -1l-8 -2l-8 -3l-6 -2.9l-12 -8.1l-10.5 -10.5l-5.2 -6.9l-3.5 -6l-3.3 -7l-2.8 -8l-2.7 -14l-.4 -7l.3 -8l.9 -7l1.9 -8l2.9 -8l2.7 -6l4.2 -7l4.3 -6l10.2 -10.4l7 -5.3l6 -3.6l7 -3.4l7 -2.5z"/>
<path fill="#0000b5" fill-rule="evenodd" d="M220.3 279.5l14 .1l14 2.8l13 5.5l6 3.6l6 4.4l5.1 4.8l5.4 5.9l7.8 12l5.2 13l1.9 8l.9 7l-.2 14l-2.9 14l-5.4 13l-3.5 6l-4.5 5.9l-4.8 5.4l-6 5.4l-12 7.8l-13 5.2l-7 1.7l-7 .9l-14 -.1l-13.9 -2.9l-13 -5.5l-6 -3.7l-6 -4.5l-9.5 -9.7l-8 -11.9l-3.3 -7l-2.5 -7l-2.6 -14l0 -14l2.7 -14l2.5 -7l3.3 -7l3.6 -6l4.4 -6l4.6 -4.9l5.8 -5.3l6 -4.4l6 -3.5l13 -5.3z"/>
<path fill="#0000ca" fill-rule="evenodd" d="M219.3 282.5l7 -.4l7 .3l7 .9l7 1.8l12 4.9l6 3.6l6 4.4l9.6 9.6l4.4 6l3.6 6l4.9 12l1.8 7l1.1 7l0 14l-1 7l-1.8 7l-5.5 13l-7.3 11l-9.8 9.8l-11 7.4l-12 5.2l-7 1.8l-7 1.2l-14 0l-6.9 -1l-7 -1.8l-12 -5l-6 -3.6l-6 -4.4l-9.5 -9.6l-4.4 -6l-3.5 -6l-5.2 -13l-2.5 -13l-.1 -13l1 -7l1.7 -7l5.2 -13l3.6 -6l4.4 -6l9.3 -9.4l6 -4.4l6 -3.6l12 -5z"/>
<path fill="#0000df" fill-rule="evenodd" d="M221.3 284.6l13 .1l13 2.8l7 2.6l6 3l10.6 7.6l9.5 9.9l7 11l2.6 6l2.4 7l2.2 13l-.3 13l-2.8 13l-2.6 7l-3 6l-7.6 10.8l-10 9.5l-11 7l-7 3l-6 1.9l-12 2.1l-13 -.3l-12.9 -2.8l-12 -5.2l-11 -7.6l-9.2 -9.4l-7.2 -11l-3.1 -7l-2 -6l-2.4 -13l.1 -13l2.6 -13l2.6 -7l2.9 -6l7.5 -11l9.2 -9.1l11 -7.3l6 -2.8l7 -2.4z"/>
<path fill="#0000f4" fill-rule="evenodd" d="M220.3 286.6l13 0l13 2.5l12 5.1l10.9 7.5l8.8 8.9l7.2 11l4.9 12l2.5 13l-.1 13l-2.6 13l-5.1 12l-6.6 10l-8.9 9.1l-11 7.5l-12 5.1l-13 2.5l-13 0l-12.9 -2.7l-12 -5.1l-10 -6.8l-9 -8.9l-7.2 -10.7l-5 -12l-2.7 -13l-.1 -13l2.5 -13l4.9 -12l7.2 -11l8.8 -8.9l10.6 -7.3l12 -5.1z"/>
<path fill="#000bff" fill-rule="evenodd" d="M218.3 288.6l13 -.5l12 2l12 4.4l11 7l9.5 9.1l6.9 10l5.3 12l2.7 12l.3 13l-2 12l-4.6 12l-6.8 11l-9.3 9.7l-10 7l-11 4.9l-12 2.7l-13 .4l-11.9 -2.1l-12 -4.6l-11 -7l-9 -8.6l-7.3 -10.4l-5.2 -12l-2.6 -12l-.3 -13l2.1 -12l4.6 -12l6.1 -10l8.6 -9.3l10 -7.4l12 -5.5z"/>
<path fill="#0020ff" fill-rule="evenodd" d="M223.3 289.6l13 .6l12 3l11 5.3l9.5 7.1l8.2 9l6.6 11l4.2 12l1.8 12l-.7 13l-3.1 12l-5.3 11l-7.2 9.7l-9.1 8.2l-10.9 6.6l-11 3.9l-12 1.8l-12 -.5l-11.9 -2.9l-11 -5.2l-10 -7.3l-8.5 -9.3l-6.1 -10l-4.4 -12l-1.9 -12l.5 -13l3 -12l5 -11l7.3 -10l9.1 -8.4l10 -6.2l12 -4.5z"/>
<path fill="#0035ff" fill-rule="evenodd" d="M218.3 291.6l12 -.6l12 1.9l11 4l10 6l9.4 8.7l7.2 10l5 11l2.8 12l.4 12l-2 12l-4.5 12l-6.3 10l-8 8.6l-10 7.2l-10 4.6l-12 2.9l-12 .4l-11.9 -1.9l-11 -4.1l-10 -6.1l-9 -8.3l-6.8 -9.3l-5.2 -11l-3 -12l-.5 -12l1.8 -12l4.3 -12l6.1 -10l8.3 -9.1l10 -7.3l11 -5z"/>
<path fill="#004aff" fill-rule="evenodd" d="M221.3 292.6l12 0l11 2.2l11 4.6l9.3 6.2l8 8l6.9 10l4.6 11l2.4 12l.1 12l-2.1 11l-4.4 11l-6.5 10l-8.3 8.6l-10 6.8l-10 4.3l-12 2.5l-12 0l-10.9 -2.1l-11 -4.4l-10.1 -6.8l-8.1 -7.9l-6.8 -10l-4.6 -11l-2.4 -12l.1 -12l2.1 -11l4.4 -11l6.5 -10l7.9 -8l10 -6.9l11 -4.7z"/>
<path fill="#0060ff" fill-rule="evenodd" d="M225.3 293.7l12 .8l11 3l10 5.1l8.8 7l7.7 9l5.7 10l3.6 11l1.4 11l-.8 12l-2.9 11l-4.9 10l-6.7 9l-7.9 7.4l-10 6.1l-11 4l-12 1.6l-11.9 -.7l-11 -3l-10 -5l-9 -6.8l-7.7 -8.6l-5.8 -10l-3.8 -11l-1.6 -12l.8 -12l3 -11l4.9 -10l7.2 -9.4l9 -7.9l10 -5.6l11 -3.7z"/>
<path fill="#0075ff" fill-rule="evenodd" d="M217.4 295.7l10.9 -.8l11 1.2l10 3.1l10 5.6l9 7.7l7 9.1l5.1 10l3 11l.9 11l-1.2 11l-3.5 11l-5.4 10l-7.6 9l-8.7 6.9l-9.6 5.1l-11 3.1l-12 .8l-10.9 -1.4l-10 -3.3l-10 -5.6l-8.9 -7.6l-6.9 -9l-5 -10l-3.1 -11l-.8 -11l1.3 -11l3.5 -11l5.5 -10l7.4 -8.7l9 -7.1l10 -5z"/>
<path fill="#008aff" fill-rule="evenodd" d="M219.3 296.6l11 -.4l11 1.6l10 3.6l9 5.5l8.3 7.7l6.5 9l4.7 10l2.7 11l.5 11l-1.6 11l-3.5 10l-5.9 10l-7.7 8.5l-9 6.7l-9 4.3l-11 2.6l-11 .5l-10.9 -1.6l-10 -3.6l-10 -6l-8.1 -7.4l-6.5 -9l-4.7 -10l-2.6 -11l-.5 -11l1.7 -11l3.7 -10.3l5.8 -9.7l7.3 -8l8.9 -6.6l10 -4.7z"/>
<path fill="#009fff" fill-rule="evenodd" d="M220.3 297.7l11 -.3l11 1.9l9 3.4l9 5.7l7.6 7.2l6.4 9l4.6 10l2.5 11l.4 11l-1.9 11l-3.8 10l-5.6 9l-7.3 8l-8.9 6.5l-9 4.1l-10 2.4l-11 .4l-10.9 -1.7l-10 -3.6l-9 -5.5l-8 -7.2l-6.2 -8.4l-4.8 -10l-2.7 -11l-.5 -11l1.7 -11l3.7 -10l5.8 -9.5l7.9 -8.5l8.4 -6l9.7 -4.3z"/>
<path fill="#00b5ff" fill-rule="evenodd" d="M222.3 298.7l11 .1l10 1.9l9.4 3.9l8.6 6l7.6 8l5.8 9l3.9 10l1.9 10l-.1 11l-2 10l-4.2 10l-5.9 9l-7 7.2l-9 6.1l-9 3.8l-10 1.9l-11 .1l-9.9 -1.9l-10 -3.9l-9 -5.9l-7.5 -7.4l-6.1 -9l-4.2 -10l-2 -10l-.1 -11l1.9 -10l4 -10l6 -9.2l7.7 -7.8l9.1 -6l10.2 -4z"/>
<path fill="#00caff" fill-rule="evenodd" d="M226.3 299.7l10 .6l10 2.6l9 4.6l7.6 6.1l6.8 8l5.1 9l3.4 10l1.3 11l-.7 10l-2.7 10l-4.8 9.8l-6.2 8.2l-7.8 6.9l-8 4.7l-10 3.3l-10 1.2l-10 -.6l-10.2 -2.6l-9.7 -4.7l-8 -6.1l-7.1 -8.1l-5.2 -9l-3.3 -10l-1.3 -10l.7 -11l2.8 -10l5.1 -10l6.3 -7.9l8 -6.8l9 -4.9l10 -3.2z"/>
<path fill="#00dfff" fill-rule="evenodd" d="M216.4 302.0l9.9 -1.2l10 .7l9 2.2l9 4.4l8 6.4l6.1 7.1l5.2 9l3.4 10l1.3 10l-.5 10l-2.5 10l-4.2 9l-6.6 9l-7.2 6.6l-8 4.8l-9 3.1l-10 1.4l-11 -.6l-9.9 -2.5l-9 -4.4l-8 -6l-7 -7.9l-5 -8.6l-3.4 -9.9l-1.3 -10l.7 -11l2.8 -10l4.6 -9l6.3 -8l7.3 -6.2l9 -5.2z"/>
<path fill="#00f4ff" fill-rule="evenodd" d="M217.4 303.0l9.9 -1l10 .8l9 2.5l8 4.1l7.6 6.2l6.4 7.9l4.9 9.1l2.8 9l1.2 10l-.7 10l-2.5 9l-4.2 9l-5.8 8l-7.6 7l-8.1 4.7l-9 2.9l-10 1.2l-11 -.8l-8.9 -2.5l-9 -4.5l-8 -6.2l-6.6 -7.8l-5 -9l-2.8 -9l-1.2 -10l.8 -10l2.9 -10l4.7 -9l6.6 -8l7.6 -6.2l9 -4.7z"/>
<path fill="#0bfff4" fill-rule="evenodd" d="M218.3 304.0l10 -.8l9 .7l9 2.5l8 4.2l7 5.9l5.8 7.1l4.9 9l2.8 9l1.3 10l-.8 10l-2.5 9l-4.3 9l-6 8l-6.5 6l-7.7 4.5l-9 3l-10 1.1l-10 -.7l-8.9 -2.3l-9 -4.4l-8 -6.1l-6.2 -7.1l-4.8 -8.4l-3.2 -9.6l-1.2 -10l.8 -10l2.6 -9l4.6 -9l6.4 -7.9l7.3 -6.1l8.7 -4.6z"/>
<path fill="#20ffdf" fill-rule="evenodd" d="M219.3 305.1l10 -.8l9 1l8.1 2.3l7.9 4.3l7 6.1l5.8 7.6l4.1 8l2.7 9l1 9l-.8 10l-2.5 9l-4.4 9l-5.9 7.8l-7 6.1l-7.4 4.1l-8.6 2.5l-10 1l-10 -1l-8.9 -2.6l-8 -4.1l-8 -6.5l-6 -7.2l-4.4 -8.1l-2.8 -9l-1 -9l.9 -10l2.6 -9l4.8 -9l5.9 -7.2l8 -6.4l8.6 -4.4z"/>
<path fill="#35ffca" fill-rule="evenodd" d="M222.3 305.9l9 -.3l9 1.3l8 2.8l7 4.3l6 5.6l5.7 8l4.1 9l2.1 9l.5 10l-1.4 9l-3.1 9l-4.6 8l-6 7l-6.3 4.9l-8 3.9l-8 1.9l-9 .5l-9.9 -1.2l-9 -2.9l-8 -4.5l-7 -6l-5.9 -7.6l-4.1 -8.5l-2.4 -9.5l-.4 -10l1.4 -9l3.4 -9l5 -7.9l6.8 -7.1l7.2 -4.9l9 -3.9z"/>
<path fill="#4affb5" fill-rule="evenodd" d="M215.4 308.6l8.9 -1.6l9 -.1l8 1.4l8 3.1l6.4 4.2l5.9 6l5.3 8l3.3 8l2 9l.3 9l-1.4 9l-3.1 9l-4.7 8l-6 6.8l-7 5.1l-7 3l-9 1.9l-10 0l-8.9 -1.6l-8.6 -3.2l-7.4 -4.8l-6.6 -6.2l-5.4 -7.8l-3.5 -8.2l-1.9 -9l-.1 -9l1.8 -9l3.7 -9l5 -7.3l6.9 -6.7l7.9 -5z"/>
<path fill="#60ff9f" fill-rule="evenodd" d="M217.4 309.5l8.9 -1.4l9 .3l8 1.7l7 3.1l6.1 4.4l5.4 6l4.4 7l3.1 8l1.9 9l.1 9l-1.6 9l-3 8l-4.7 8l-5.7 6.3l-6.6 4.7l-7.4 3l-9 1.6l-9 -.1l-8.9 -1.7l-9 -3.6l-7.7 -5.2l-5.8 -6l-4.6 -7l-3.3 -8l-1.7 -9l.1 -9l2 -9l3.5 -8l5.5 -7.5l7 -6.4l7 -4.1z"/>
<path fill="#75ff8a" fill-rule="evenodd" d="M220.3 310.2l9 -.9l8 .6l7 1.7l7 3.5l6 4.8l5 6.2l4.1 7.5l2.6 8l1.2 8l-.3 9l-2 9l-3.4 8l-4.6 7l-5.6 5.6l-7 4.3l-7 2.4l-9 1.2l-9 -.6l-8.9 -2.2l-8 -3.7l-7 -5.2l-6 -6.8l-4 -7l-2.8 -8l-1.1 -9l.8 -9l2.3 -8l4.2 -8l5.6 -6.6l6.6 -5.4l7.8 -4z"/>
<path fill="#8aff75" fill-rule="evenodd" d="M215.4 313.0l7.9 -1.8l9 -.5l8 1l7 2.5l6 3.6l5 4.8l4.9 7l3.1 7l2.1 8l.7 9l-1 9l-2.4 8l-4.2 8l-4.8 6l-5.4 4.4l-7 3.5l-8 1.9l-9 .2l-9 -1.4l-7.9 -2.7l-7 -4l-6.7 -5.9l-5.1 -7l-3.2 -6.9l-2 -8.1l-.4 -8l1.4 -8.6l3 -7.9l4 -6.5l6 -6.4l7 -4.8z"/>
<path fill="#9fff60" fill-rule="evenodd" d="M218.3 313.8l8 -1.5l8 -.1l7 1.1l7 2.7l5.4 3.6l4.9 5l4.4 7l2.8 7l1.8 8l.3 9l-1.2 8l-2.6 8l-3.9 7l-4.9 5.8l-5.5 4.2l-6.5 2.9l-8 1.6l-9 0l-8.9 -1.8l-8 -3l-7 -4.6l-5.3 -5.1l-4.7 -6.9l-3 -7.1l-1.6 -8l0 -8l1.7 -8l3.5 -8l4.4 -6.1l6.3 -5.9l6.7 -4z"/>
<path fill="#b5ff4a" fill-rule="evenodd" d="M227.3 313.8l7 -.2l7 1l6 2.2l6 3.9l4.7 4.9l3.8 6l2.9 7l1.8 8l.3 8l-1 8l-2.5 8l-3.7 7l-4.3 5.2l-5 4.1l-6 2.9l-7 1.7l-8 .3l-9 -1.4l-7.9 -2.7l-7 -3.9l-6 -5.2l-4.5 -6l-3.3 -7l-2 -8l-.1 -8l1.5 -8l3.4 -7.9l4.3 -6.1l5.3 -5l6.4 -4l7.9 -3.1z"/>
<path fill="#caff35" fill-rule="evenodd" d="M223.3 316.1l7 -.9l7 .2l6 1.2l6 2.7l5 3.9l4.5 5.4l3.2 6l2.4 7l1.2 8l-.1 8l-1.6 8l-2.6 6.8l-3.8 6.2l-4.7 5l-5.5 3.6l-6 2.1l-7 1l-8 -.5l-8.9 -2.2l-7.1 -3l-6 -4l-5.7 -6l-3.7 -6l-2.5 -7l-1.1 -7l.5 -8l1.9 -7l3.7 -7.1l4.9 -5.9l6.1 -4.7l6.6 -3.3z"/>
<path fill="#dfff20" fill-rule="evenodd" d="M223.3 318.1l7 -1.2l6 -.1l6 1l6 2.4l5 3.7l4 4.6l3 5.1l2.7 7l1.3 7l.2 8l-1.2 8l-2.4 7l-3.4 6l-4.2 4.9l-5 3.7l-6 2.4l-7 1l-8 -.5l-8 -2l-7.9 -3.5l-5.9 -4l-4.8 -5l-3.3 -5.1l-2.7 -6.9l-1.2 -8l.6 -7l2 -7l3.3 -6l4.1 -5l5.9 -4.6l6.4 -3.4z"/>
<path fill="#f4ff0b" fill-rule="evenodd" d="M231.3 318.7l6 -.1l6 1.1l5 2.1l5 3.8l4 5l2.7 5l2.1 6l1.2 7l.1 7l-1.1 7l-2 6.5l-3 5.7l-3.8 4.8l-4.2 3.4l-5 2.4l-6 1.3l-8 -.1l-7 -1.5l-8.4 -3.5l-6.4 -4l-4.3 -4l-3.8 -5.3l-2.9 -6.7l-1.2 -6l.1 -6.3l1.5 -6.7l2.5 -5.5l4 -5.5l5.7 -5l6.3 -3.5l7.9 -3.1z"/>
<path fill="#fff400" fill-rule="evenodd" d="M232.3 320.6l6 -.1l5 .8l5 2.2l4 3l3.6 4.1l2.8 5l2.2 6l1.1 6l.3 7l-.7 6l-1.6 6l-2.7 6l-3.7 5l-4.3 3.7l-5 2.5l-5 1l-7 0l-6 -1.2l-7.1 -3l-6.4 -4l-4.8 -4l-4 -5l-2.6 -5.4l-1.5 -6.6l0 -6l1.3 -6l2.3 -5l3.8 -5l5.8 -5l6.5 -4l6.7 -2.7z"/>
<path fill="#ffdf00" fill-rule="evenodd" d="M235.3 322.5l5 .1l4.6 1l4.4 2.3l3.2 2.7l3.2 4l2.6 5.1l1.8 5.9l.9 6l-.1 7l-1 6l-2 6l-2.6 4.7l-3 3.7l-4 3.2l-4 1.8l-5 .9l-6 -.2l-5 -1.2l-5 -2.2l-5.3 -3.7l-5.1 -5l-3.8 -5l-2.7 -5.9l-1.1 -5.1l.2 -5l1.6 -6l2.8 -5l4.1 -5l5.5 -5l4.8 -3l5 -2z"/>
<path fill="#ffca00" fill-rule="evenodd" d="M239.3 324.6l4 .5l4 1.5l4 2.9l2.7 3.1l2.4 4l1.9 5l1.1 5l.5 6l-.4 6l-1.1 5l-1.9 5l-2.4 4l-2.8 3.3l-4 2.9l-4 1.5l-4 .5l-5 -.5l-5.1 -1.7l-4.9 -3l-3.1 -3l-2.8 -4l-2.2 -5l-1.1 -5l-.5 -6l.5 -6l1.2 -5l2.2 -5l2.8 -4l3.2 -3l4.8 -2.8l5 -1.7z"/>
<path fill="#ffb500" fill-rule="evenodd" d="M240.3 327.0l4 .5l3 1.2l3 2.1l3 3.4l2 3.4l1.9 5l1.1 5l.3 5l-.3 5l-1 5l-1.9 5l-2.1 3.6l-3 3.4l-3 2.1l-3 1.2l-4 .5l-4 -.6l-4 -1.5l-3.9 -2.7l-2.7 -3l-2.2 -4l-1.3 -4l-1 -10l1 -10l1.3 -4l2.3 -4l2.8 -3l3.7 -2.5l4 -1.5z"/>
<path fill="#ff9f00" fill-rule="evenodd" d="M241.3 329.6l3 .3l3 1.2l3 2.2l2 2.4l3.4 6.9l1.5 9l-.9 9l-3 7.6l-2 2.8l-3 2.7l-3 1.5l-3 .6l-3 -.3l-3 -1.1l-2.7 -1.8l-2.7 -3l-1.6 -3l-1.3 -4l-1 -9l.8 -10l2.6 -7l2.4 -3l2.4 -2l3.1 -1.5z"/>
<path fill="#ff8a00" fill-rule="evenodd" d="M242.3 332.6l2 .1l3 1.1l4 3.8l3 6.1l1.3 7.9l-.7 8l-2.6 6.6l-4 4.7l-2 1.2l-3 .7l-2.5 -.2l-2.3 -1l-3.8 -4l-2.3 -6l-.8 -8l.5 -8l2.1 -7l3.1 -4l2 -1.2z"/>
<path fill="#ff7500" fill-rule="evenodd" d="M243.3 336.2l4 1.1l3.2 3.3l2.5 6l.7 6l-.7 6l-2.4 6l-3.3 3.5l-4 1.1l-3 -1.1l-3 -3.7l-1.6 -4.8l-.6 -7l.7 -7l1.5 -4.6l2.6 -3.4z"/>
<path fill="#ff6000" fill-rule="evenodd" d="M244.3 341.2l3 1.2l1.7 2.2l1.3 3.3l.6 4.7l-.6 5l-1.2 3l-1.8 2.4l-3 1.2l-2 -.7l-2 -2.5l-1.1 -3.4l-.5 -5l.5 -5l1.1 -3.2l2 -2.5z"/>
</g>
</g>
<g clip-path="url(#cp01)">
<g filter="url(#bl)">
<rect x="312.2" y="252.7" width="200.4" height="196.8" fill="#00008a"/>
<path fill="#00009f" fill-rule="evenodd" d="M419.4 264.2l8 -.4l7 .3l8.1 1.2l7 1.8l8 2.8l7 3.4l7 4.1l6 4.4l6 5.2l5.4 5.7l4.8 6l4.7 6.9l6.8 14l2.7 8l1.7 7.4l0 35.4l-2.9 11.2l-3.5 9l-4.1 8l-5.2 7.9l-5.7 7l-6.7 6.7l-7 5.6l-8 5.2l-8 4l-8 2.9l-8 2.1l-9.1 1.3l-8 .2l-8 -.6l-9 -1.6l-8 -2.4l-7 -2.8l-8.1 -4.1l-7 -4.6l-6 -4.9l-6 -5.8l-5.3 -6.2l-4.9 -7l-4.5 -7.9l-3.5 -8l-2.6 -8l-1.9 -8l-1.2 -9l-.3 -8l.4 -9l1.4 -9l1.9 -8l3.2 -9l3.8 -8l4.1 -6.9l5.1 -7l5.3 -6.1l6 -5.6l7 -5.4l7 -4.3l8.1 -3.9l8 -3l8 -2z"/>
<path fill="#0000b5" fill-rule="evenodd" d="M421.4 272.2l8 -.2l7 .5l7.1 1.3l7 2.1l7 2.9l7 3.8l6 4l6.2 5.1l5.8 5.9l4.9 6l7.8 13l3 7l2.5 8l1.6 8l.9 8l-.4 15l-1.4 8l-2.1 8l-6 14l-4.3 6.9l-4.5 6l-5 5.5l-6 5.4l-6 4.5l-7 4.1l-7 3.3l-7 2.4l-7 1.6l-8.1 .9l-14 -.5l-8 -1.6l-7 -2.1l-7 -3l-7 -3.8l-6.1 -4l-6.7 -5.7l-9.7 -11l-4 -5.9l-4.2 -8l-5 -14l-1.7 -8l-.8 -8l-.1 -8l.7 -8l1.2 -7l2.2 -8l2.6 -7l4 -8l8.4 -11.9l5.1 -5.6l6 -5.3l12.1 -7.9l7 -3.3l7 -2.5l8 -2z"/>
<path fill="#0000ca" fill-rule="evenodd" d="M423.4 277.2l7 -.1l7.1 .7l7 1.5l6 2l7 3.1l6 3.5l11 8.7l9.6 11l6.9 12l2.9 7l2.1 7l1.4 7l.8 8l-.5 14l-1.4 8l-2 7l-3.2 8l-3.1 6l-7.7 10.9l-4.8 5.3l-6 5.3l-6 4.3l-6 3.5l-7 3.1l-6 1.9l-7 1.5l-7.1 .7l-7 0l-7 -.8l-7 -1.6l-7 -2.3l-7 -3.2l-6 -3.5l-11.1 -8.7l-5.1 -5.5l-4.6 -5.9l-6.7 -12l-2.7 -7l-2 -7l-2 -14l0 -7l.7 -8l3.3 -14l5.8 -13l3.8 -6l4.6 -5.9l9.9 -9.7l12.1 -7.9l7 -3.2l7 -2.3l7 -1.6z"/>
<path fill="#0000df" fill-rule="evenodd" d="M422.4 281.1l13 .3l12.1 2.9l12 5.6l6 4l5.6 4.8l9 9.9l7.2 12l4.8 13l2.3 14l-.4 14l-3.1 14l-5.6 13l-7.4 10.9l-10.1 10l-11.3 7.6l-12 4.8l-6 1.5l-7.1 .8l-13 -.5l-13 -3.3l-12 -5.8l-11.1 -8.2l-8.9 -9.8l-7.3 -12l-4.7 -13l-2.3 -14l.4 -14l1.2 -7l1.9 -7l5.2 -12l3.6 -6l4.5 -6l9.4 -9.2l11.1 -7.4l6 -2.9l7 -2.5z"/>
<path fill="#0000f4" fill-rule="evenodd" d="M423.4 284.1l12 .4l12.1 3l6 2.6l6 3.4l10 7.9l8.9 10.2l6.4 11l4.6 13l1.9 13l-.4 13l-2.9 13l-2.7 7l-3 6l-7.7 11l-9.1 8.8l-11 7.2l-12 4.7l-12.1 1.9l-7 -.1l-6 -.8l-12 -3.3l-12 -6.1l-10.1 -7.9l-8.2 -9.4l-6.5 -11l-4.5 -13l-2 -13l.5 -13l3 -13l5.2 -12l7.6 -11l4.6 -4.9l5.4 -4.7l11 -7l12 -4.7z"/>
<path fill="#000bff" fill-rule="evenodd" d="M427.4 286.6l12.1 1.3l11 3.7l11 6.5l9 8l7.5 9.5l6.1 12l3.7 13l1 12l-1 12l-3.6 13l-6.1 12l-7.6 9.6l-9 8l-11 6.4l-11 3.7l-12.1 1.3l-12 -1.4l-12 -3.9l-11 -6.3l-9.7 -8.4l-7.7 -10l-5.6 -11l-3.5 -12l-1.2 -13l1.2 -13l3.6 -12l5.6 -11l7.8 -10l9.5 -8.2l11 -6.4l12 -4z"/>
<path fill="#0020ff" fill-rule="evenodd" d="M423.4 289.1l11 .3l11.1 2.6l11 5.4l9.4 7.2l7.9 9l6.5 11l4 11l2.1 13l-.5 13l-2.7 12l-4.9 11l-6.7 10l-9.1 8.9l-10 6.6l-11 4.3l-11.1 1.8l-12 -.8l-11 -3l-11 -5.6l-9.3 -7.3l-7.9 -8.9l-6.4 -11l-3.8 -11l-1.9 -12l.4 -12l2.7 -12l4.7 -11l6.7 -10l8.8 -8.7l10 -6.7l11 -4.7z"/>
<path fill="#0035ff" fill-rule="evenodd" d="M424.4 291.1l11 .5l11.1 3l10 5.2l9 7.3l7.9 9.5l5.6 10l3.7 11l1.7 12l-.5 12l-2.9 12l-5 11l-6.3 9l-8.2 8.1l-10 6.6l-10 4l-11.1 1.8l-11 -.6l-11 -3l-11 -5.6l-9 -7l-8 -9.3l-5.7 -10l-3.8 -11l-1.7 -12l.6 -12l2.9 -12l5.2 -11l6.4 -8.9l8.1 -7.7l10 -6.5l11 -4.4z"/>
<path fill="#004aff" fill-rule="evenodd" d="M424.4 293.0l11 .5l10.1 2.7l10 5.1l8 6.5l7.7 8.8l5.7 10l3.9 11l1.7 12l-.5 12l-2.6 11l-4.4 10l-6.8 10l-8.2 7.9l-9.5 6.3l-10 3.8l-10.1 1.6l-10 -.5l-11 -2.9l-10 -4.9l-9.6 -7.3l-7.1 -8l-5.9 -10l-3.9 -11l-1.8 -12l.5 -11l2.5 -11l4.9 -11l6.3 -9.1l8.1 -7.9l10 -6.5l10 -4.1z"/>
<path fill="#0060ff" fill-rule="evenodd" d="M427.4 294.6l10.1 1l10 3.2l9 5.3l8.5 7.5l6.8 9l5 10l3.1 11l1 11l-1 11l-3.1 11l-5 10l-6.3 8.4l-8 7.4l-9 5.4l-10 3.5l-10.1 1.2l-11 -1.1l-10 -3.3l-9.9 -5.6l-8.1 -6.9l-6.6 -8l-5.4 -10l-3.4 -11l-1.2 -11l.9 -11l3 -11l4.9 -10l6.9 -9l8.9 -7.7l9 -5.3l10 -3.6z"/>
<path fill="#0075ff" fill-rule="evenodd" d="M425.4 296.3l10 .5l10.1 2.9l9 4.9l8 6.7l6.8 8.3l5.4 10l3.2 10l1.4 11l-.7 11l-2.4 10l-4.4 10l-6.3 9l-8 7.8l-9 5.7l-9 3.3l-10.1 1.5l-10 -.8l-10 -2.9l-10 -5.3l-8 -6.6l-7.1 -8.4l-5.1 -9.3l-3.3 -10l-1.4 -11l.7 -11l2.5 -10l4.6 -10l6.1 -8.3l8 -7.7l9 -5.7l10 -3.9z"/>
<path fill="#008aff" fill-rule="evenodd" d="M423.4 298.0l10 0l9.1 2.1l9 4.3l8.2 6.2l7.1 8l5.3 9l3.7 10l1.9 11l-.3 11l-2.1 10l-4.1 10l-5.7 8.7l-7 7.3l-9 6.3l-9 3.7l-9.1 1.7l-10 -.4l-10 -2.6l-9 -4.3l-8.5 -6.4l-7.2 -8l-5.3 -9l-3.7 -10l-1.6 -10l.3 -11l2.3 -10l4.3 -10l5.4 -8l7 -7.1l9 -6.3l9 -4z"/>
<path fill="#009fff" fill-rule="evenodd" d="M425.4 299.2l10 .5l9.1 2.7l8 4.3l8 6.6l6.7 8.3l4.8 9l3.1 10l1.3 10l-.5 10l-2.4 10l-4.5 10l-5.5 8l-7.1 7l-8.9 5.8l-9 3.3l-9.1 1.3l-10 -.9l-9 -2.7l-9 -4.8l-8 -6.6l-6.3 -7.4l-5 -9l-3.3 -10l-1.3 -10l.6 -10l2.4 -10l4.2 -9l5.7 -8l7 -7l9 -5.9l9 -3.7z"/>
<path fill="#00b5ff" fill-rule="evenodd" d="M426.4 300.5l9 .6l9.1 2.7l8 4.5l7.5 6.3l6.3 8l4.7 9l2.8 9l1.3 10l-.6 10l-2.4 10l-4 9l-5.6 8.1l-7 6.9l-8 5.3l-9 3.4l-9.1 1.3l-9 -.7l-10 -3l-9 -5l-7 -5.8l-6.3 -7.5l-5 -9l-2.9 -9l-1.3 -10l.6 -10l2.5 -10l4.3 -9l5.8 -8l7.5 -7l8.8 -5.4l9 -3.3z"/>
<path fill="#00caff" fill-rule="evenodd" d="M424.4 301.9l9 .2l8.1 1.9l8 3.8l8 6.1l6.6 7.7l5.1 9l3.1 9l1.5 10l-.4 10l-2.3 10l-3.9 9l-5.4 8l-6.3 6.4l-8 5.5l-8 3.2l-9.1 1.6l-9 -.5l-9 -2.5l-8 -4l-8 -6.1l-6.7 -7.6l-4.7 -8l-3.2 -9l-1.5 -10l.4 -10l2 -9l4 -9l5.4 -8l7.1 -7l8.2 -5.4l8 -3.4z"/>
<path fill="#00dfff" fill-rule="evenodd" d="M425.4 303.1l9 .3l8.1 2.2l8 4.2l7 5.8l5.9 7l4.5 8l3.2 9l1.5 10l-.4 10l-2 9l-3.8 9l-5.3 8l-6.6 6.7l-7 4.8l-8 3.4l-9.1 1.6l-8 -.4l-9 -2.3l-8 -3.9l-8 -6.1l-6.8 -7.8l-4.6 -8l-3.1 -9l-1.4 -9l.4 -10l2.2 -9l3.5 -8l5.4 -8l6.4 -6.5l8 -5.5l9 -3.8z"/>
<path fill="#00f4ff" fill-rule="evenodd" d="M425.4 304.3l8 .2l8.1 2l8 4l7 5.7l6.2 7.4l4.4 8l3 9l1.3 9l-.3 10l-2.1 9l-3.3 8l-5.2 8l-6.9 7l-7.1 4.7l-8 3.2l-8.1 1.4l-9 -.6l-8 -2.2l-8 -4l-7.1 -5.5l-6.2 -7l-4.8 -8l-3.2 -9l-1.3 -9l.3 -9l1.9 -9l3.4 -8l5.3 -8l6.7 -6.7l8 -5.5l8 -3.4z"/>
<path fill="#0bfff4" fill-rule="evenodd" d="M426.4 305.3l8 .5l8.1 2.3l7 3.7l7 5.9l5.6 6.9l4.3 8l2.8 9l1.2 9l-.4 9l-2.1 9l-4 9l-4.9 7l-6.5 6.4l-7 4.6l-8 3l-8.1 1.2l-9 -.8l-8 -2.6l-8 -4.4l-6.5 -5.4l-5.8 -7l-4.4 -8l-2.6 -8l-1.2 -9l.5 -9l2.2 -9l3.7 -8l5.1 -7.1l6 -6l8 -5.3l8 -3.3z"/>
<path fill="#20ffdf" fill-rule="evenodd" d="M426.4 306.4l8 .5l8.1 2.3l7 3.9l6.4 5.5l5.6 7l4.1 8l2.6 8l1.2 9l-.5 9l-2.1 9l-3.6 8l-4.7 7l-6 6.1l-7 4.7l-8 3.1l-8.1 1.2l-8 -.7l-8 -2.3l-8 -4.4l-6.9 -5.7l-5.7 -7l-3.8 -7l-2.7 -8l-1.3 -9l.5 -9l2 -8l3.6 -8l5.3 -7.6l6.6 -6.4l7.4 -4.7l8 -3.1z"/>
<path fill="#35ffca" fill-rule="evenodd" d="M427.4 307.4l8 .7l7.1 2.3l7 4l6 5.3l5.4 6.9l4.1 8l2.3 8l1.1 9l-.7 9l-2 8l-3.6 8l-4.9 7l-6.7 6.3l-7 4.3l-7.1 2.5l-8 .9l-8 -.9l-8 -2.7l-7 -4l-6.4 -5.4l-5.5 -7l-3.7 -7l-2.6 -8l-1.1 -9l.7 -9l2.2 -8l3.9 -8l5.3 -7l6.2 -5.6l7 -4.4l8 -3z"/>
<path fill="#4affb5" fill-rule="evenodd" d="M427.4 308.5l8 .7l7.1 2.3l7 4.1l5.6 5l5.3 7l3.5 7l2.4 8l1.1 9l-.7 9l-2.1 8l-3.7 8l-5 7l-5.4 5.1l-7 4.4l-7.1 2.5l-8 1l-8 -.9l-7 -2.4l-7 -3.9l-6.8 -5.8l-5.2 -6.6l-3.9 -7.4l-2.4 -8l-.9 -8l.7 -9l2.3 -8l3.4 -7l5.1 -7l6.5 -6l7.2 -4.3l7 -2.6z"/>
<path fill="#60ff9f" fill-rule="evenodd" d="M427.4 309.5l7 .5l7.1 2.1l7 4l6 5.3l5 6.6l3.8 7.6l2.3 8l.8 8l-.6 9l-2.2 8l-3.2 7l-4.9 6.9l-6 5.7l-6 3.8l-7.1 2.6l-7 .9l-8 -.7l-7 -2.1l-7 -3.9l-6.4 -5.2l-5.6 -7l-3.7 -7l-2.5 -8l-.9 -8l.5 -8l2.1 -8l3.5 -7.3l5 -6.9l6 -5.6l7 -4.4l7 -2.7z"/>
<path fill="#75ff8a" fill-rule="evenodd" d="M427.4 310.5l7 .5l7.1 2.2l6.1 3.4l5.9 5.1l5 6.5l3.8 7.4l2.3 8l.9 8l-.5 8l-2 8l-3.1 7l-4.8 7l-5.6 5.4l-6 3.9l-7.1 2.7l-7 1l-8 -.8l-7 -2.2l-7 -4l-6 -5l-4.8 -6l-3.8 -7l-2.6 -8l-.9 -8l.6 -8l2.1 -8l3.4 -7l5 -6.8l6 -5.5l7 -4.3l7 -2.5z"/>
<path fill="#8aff75" fill-rule="evenodd" d="M427.4 311.4l7 .6l7.1 2.2l6 3.5l5.6 4.9l4.6 6l3.6 7l2.4 8l.9 8l-.5 8l-2.1 8l-3.1 7l-4.4 6.3l-5 4.9l-6 4l-7.1 2.8l-7 1l-7 -.6l-7 -2.1l-7 -3.8l-6 -5l-5.3 -6.5l-3.7 -7l-2.2 -7l-.9 -8l.6 -8l1.8 -7l3.2 -7l5.1 -7l5.4 -5.1l7 -4.4l7 -2.6z"/>
<path fill="#9fff60" fill-rule="evenodd" d="M426.4 312.4l7 .3l7.1 2.1l6 3.3l5.4 4.5l4.8 6l3.7 7l2.2 7l1.1 8l-.4 8l-1.5 7l-2.9 7l-4.5 7l-4.9 5l-6 4.2l-7.1 2.8l-7 1l-7 -.5l-7 -2.2l-6.1 -3.3l-6.1 -5l-4.8 -5.9l-3.5 -6.1l-2.4 -7l-1.2 -8l.4 -8l1.7 -7l3.1 -7l4 -6l5.9 -5.8l6 -4.1l7 -3z"/>
<path fill="#b5ff4a" fill-rule="evenodd" d="M426.4 313.4l7 .3l6.1 1.6l6.2 3.3l5.8 4.9l4.8 6.1l3.1 6l2.3 7l1.1 8l-.3 8l-1.6 7l-2.9 7l-4.5 6.7l-5 5l-6 4l-6.1 2.3l-7 1.1l-7 -.6l-6 -1.8l-6 -3.1l-6 -4.8l-5 -5.8l-3.4 -6l-2.5 -7l-1.2 -8l.4 -8l1.7 -7l3.2 -7l4.2 -6l5.6 -5.5l6 -3.9l6 -2.5z"/>
<path fill="#caff35" fill-rule="evenodd" d="M427.4 314.2l7 .6l6.1 1.9l6 3.5l4.9 4.4l4.5 6l3 6l2.2 7l.9 8l-.4 7l-1.6 7l-3 7l-4 6l-5 5l-5.5 3.7l-6.1 2.4l-7 1.1l-7 -.6l-6 -1.9l-6 -3.2l-6 -5l-4.5 -5.5l-3.8 -7l-2.1 -7l-.8 -7l.5 -7l1.7 -7l3.3 -7l4.3 -6l5.4 -5.1l6 -3.8l6 -2.3z"/>
<path fill="#dfff20" fill-rule="evenodd" d="M427.4 315.1l6 .4l6.1 1.7l6 3.4l5 4.3l4.4 5.7l3.1 6l2.2 7l1 8l-.4 7l-1.7 7l-3.1 7l-4.1 6l-5.3 5l-5.1 3.2l-6.1 2.2l-6 .9l-7 -.7l-6 -1.9l-6 -3.3l-5.2 -4.4l-4.8 -6l-3.3 -6l-2.2 -7l-.8 -7l.5 -7l1.8 -7l2.7 -6l4.3 -6l5.1 -5l5.9 -3.9l6 -2.4z"/>
<path fill="#f4ff0b" fill-rule="evenodd" d="M426.4 316.1l6 .1l6.1 1.6l6 3.1l5 4.2l4.4 5.5l3.3 6l2.2 7l.9 7l-.2 7l-1.5 7l-3 7l-4 6l-5.1 5l-5 3.3l-6.1 2.2l-6 .9l-6 -.5l-6 -1.7l-6 -3.2l-5 -4.1l-4.3 -4.9l-3.7 -6.5l-2.3 -6.5l-1 -7l.3 -7l1.6 -7l2.6 -6l4.1 -6l4.9 -5l5.8 -3.9l6 -2.5z"/>
<path fill="#fff400" fill-rule="evenodd" d="M426.4 317.0l6 .1l6.1 1.6l5.6 2.9l4.8 4l4.1 5l3.3 6l2.3 7l.9 7l-.2 7l-1.6 7l-2.4 6l-3.9 6l-4.9 4.9l-5 3.4l-6.1 2.3l-6 .9l-6 -.5l-6 -1.8l-5.9 -3.2l-4.8 -4l-4.2 -5l-3.4 -6l-2 -6l-1.1 -7l.3 -7l1.3 -6l2.5 -6l3.9 -6l4.8 -5l5.6 -3.9l6 -2.6z"/>
<path fill="#ffdf00" fill-rule="evenodd" d="M426.4 317.8l6 .2l6.1 1.6l5 2.6l5 4.2l4.2 5.2l3.1 6l2 6l1 7l-.3 7l-1.3 6l-2.3 6l-3.8 6l-4.6 4.9l-5 3.4l-5.1 2.2l-6 1.1l-6 -.3l-6 -1.6l-6 -3.2l-5 -4.1l-4 -4.7l-3.3 -5.7l-2.1 -6l-1.1 -7l.3 -7l1.4 -6l2.5 -6l4 -6l4.3 -4.3l5.2 -3.7l5.8 -2.6z"/>
<path fill="#ffca00" fill-rule="evenodd" d="M428.4 318.6l6 .6l5.1 1.8l5 2.9l4.9 4.7l3.6 5l2.8 6l1.6 6l.6 7l-.6 7l-1.7 6l-2.8 6l-3.6 5l-4.8 4.4l-5 3l-5.1 1.7l-6 .7l-6 -.8l-6 -2.2l-5 -3.1l-5 -4.6l-3.7 -5.1l-2.9 -6l-1.6 -6l-.5 -6l.7 -7l1.8 -6l3.1 -6l3.9 -5l5.2 -4.6l5 -2.9l5 -1.7z"/>
<path fill="#ffb500" fill-rule="evenodd" d="M427.4 319.5l6 .4l5.1 1.5l5 2.8l4.9 4.4l3.7 5l2.9 6l1.6 6l.6 6l-.4 7l-1.5 6l-2.8 6l-3 4.5l-4 4.1l-5 3.4l-5.1 2l-6 .9l-6 -.5l-5 -1.6l-5.2 -2.8l-4.8 -4l-4.1 -5l-3.2 -6l-1.8 -6l-.7 -6l.4 -6l1.4 -6l2.7 -6l3.4 -5l4.9 -4.8l5 -3.2l5 -2.1z"/>
<path fill="#ff9f00" fill-rule="evenodd" d="M427.4 320.3l6 .4l5.1 1.6l5 2.9l4 3.6l3.7 4.8l2.9 6l1.7 6l.7 6l-.4 6l-1.3 6l-2.6 6l-3.3 5l-4 4l-4.4 3l-5.1 2.1l-6 1l-6 -.6l-5 -1.6l-5 -2.8l-4.8 -4.1l-3.9 -5l-2.6 -5l-1.9 -6l-.7 -6l.3 -6l1.5 -6l2.8 -6l3.3 -4.7l4 -4l5 -3.4l5 -2.1z"/>
<path fill="#ff8a00" fill-rule="evenodd" d="M427.4 321.2l6 .4l5.1 1.6l5 3l3.7 3.4l3.7 5l2.4 5l1.8 6l.6 6l-.3 6l-1.4 6l-2.5 5.7l-3 4.5l-4 4.1l-5 3.3l-5.1 1.9l-5 .7l-6 -.6l-4.9 -1.6l-5.1 -3l-4 -3.4l-3.7 -4.6l-2.7 -5l-1.9 -6l-.8 -6l.4 -6l1.5 -6l2.3 -5l3.4 -5l4 -4l4.5 -3.1l5 -2.2z"/>
<path fill="#ff7500" fill-rule="evenodd" d="M427.4 322.0l5 .3l5.1 1.4l5 2.8l4 3.5l3.5 4.6l2.5 5l1.8 6l.7 6l-.4 6l-1.4 6l-2.2 5l-3.3 5l-4.1 4l-4.1 2.7l-5.1 1.9l-5 .7l-5 -.3l-5 -1.5l-5 -2.8l-4.4 -3.7l-3.9 -5l-2.6 -5l-1.6 -5l-.7 -6l.4 -6l1.2 -5l2.1 -5l3.5 -5.2l4 -4.1l5 -3.4l5 -2z"/>
<path fill="#ff6000" fill-rule="evenodd" d="M426.4 323.0l5 0l5 1.2l5.1 2.6l4 3.3l3.6 4.5l2.6 5l1.6 5l.9 6l-.2 6l-1 5l-1.8 5l-3 5l-3.7 4.2l-4 3l-5.1 2.3l-5 .9l-5 -.1l-5 -1.4l-5 -2.5l-4.2 -3.4l-3.4 -4l-2.9 -5l-1.8 -5l-1 -6l.2 -6l1 -5l2 -5l3.2 -5l3.6 -4l4.3 -3.2l5 -2.3z"/>
<path fill="#ff4a00" fill-rule="evenodd" d="M426.4 323.8l5 0l5 1.3l4.1 2l4.4 3.5l3.3 4l2.7 5l1.7 5l.8 6l-.2 6l-1 5l-1.9 5l-3 5l-3.8 4l-4 2.8l-4.1 1.8l-5 1l-5 -.2l-5 -1.4l-5 -2.6l-4 -3.4l-3.3 -4l-2.8 -5l-1.6 -5l-.8 -5l.2 -6l1.1 -5l2.1 -5l3.1 -4.8l4 -4.2l4 -2.8l4 -1.8z"/>
<path fill="#ff3500" fill-rule="evenodd" d="M428.4 324.5l5 .5l4.1 1.4l4 2.3l4 3.7l3 4.2l2.4 5l1.3 5l.5 5l-.3 6l-1.3 5l-2.2 5l-2.6 4l-3.8 3.8l-4 2.6l-4.1 1.6l-5 .8l-5 -.4l-4.3 -1.4l-4.7 -2.7l-3.8 -3.3l-3.2 -4.1l-2.6 -4.9l-1.5 -5l-.6 -5l.4 -6l1.3 -5l2.4 -5l2.8 -4l3.8 -3.7l4 -2.7l5 -2z"/>
<path fill="#ff2000" fill-rule="evenodd" d="M428.4 325.4l5 .5l4.1 1.4l4 2.4l3.1 2.9l3 4l2.5 5l1.4 5l.5 5l-.4 6l-1.3 5l-2.2 5l-2.6 3.7l-3.3 3.3l-3.7 2.5l-4.1 1.6l-5 .8l-5 -.4l-4 -1.3l-4 -2.2l-4 -3.4l-3 -3.7l-2.6 -4.9l-1.6 -5l-.6 -5l.2 -5l1.2 -5l2.2 -5l3.2 -4.6l4 -3.8l4 -2.5l4 -1.6z"/>
<path fill="#ff0b00" fill-rule="evenodd" d="M427.4 326.3l4 .1l4.7 1.2l3.8 2l3.6 3l3.2 4l2.6 5l1.4 5l.6 5l-.3 5l-1.1 5l-2.2 5l-2.6 4l-3.6 3.5l-3.8 2.5l-4.3 1.5l-4 .6l-5 -.5l-4 -1.3l-4 -2.3l-3.4 -3l-3.2 -4l-2.1 -4l-1.6 -5l-.7 -5l.3 -5l1.2 -5l1.7 -4l2.8 -4.3l3 -3.2l4 -2.9l4 -1.9z"/>
<path fill="#f40000" fill-rule="evenodd" d="M427.4 327.1l5 .3l4 1.2l3.5 2l3.5 3l3 4l2 4l1.5 5l.6 5l-.3 5l-1.1 5l-1.7 4l-2.9 4.5l-3 3l-4 2.7l-4.1 1.5l-4 .5l-5 -.5l-4 -1.4l-3.9 -2.3l-3.1 -2.8l-3 -3.9l-2.2 -4.3l-1.3 -4l-.6 -5l.2 -5l1.3 -5l1.7 -4l2.7 -4l3.2 -3.3l4 -2.7l4 -1.7z"/>
<path fill="#df0000" fill-rule="evenodd" d="M427.4 328.0l4 .1l4 1.1l4.1 2.1l3 2.5l3 3.8l2.1 4l1.6 5l.6 5l-.3 5l-1.2 5l-1.8 4.1l-2.7 3.9l-3 3l-3.3 2.2l-4.1 1.6l-4 .5l-4 -.3l-4 -1.2l-4 -2.2l-3 -2.6l-3 -3.7l-2.3 -4.3l-1.3 -4l-.7 -5l.3 -5l.9 -4l1.7 -4l2.5 -4l2.9 -3.1l4 -3l4 -1.7z"/>
<path fill="#ca0000" fill-rule="evenodd" d="M427.4 328.9l4 .1l4 1.1l4.1 2.2l3 2.7l2.7 3.6l2 4l1.2 4l.6 5l-.3 5l-.9 4l-1.6 4l-2.6 4l-2.9 3l-3.2 2.2l-4.1 1.7l-4 .6l-4 -.4l-4 -1.2l-3.3 -1.9l-3.5 -3l-2.4 -3l-2.2 -4l-1.3 -4l-.7 -5l.3 -5l.9 -4l1.7 -4l2.5 -3.8l3 -3.1l3 -2.2l4 -1.8z"/>
<path fill="#b50000" fill-rule="evenodd" d="M427.4 329.8l4 .1l4 1.1l3.1 1.7l3.4 2.9l2.6 3.3l1.8 3.7l1.3 4l.6 5l-.3 5l-.9 4l-3.7 7l-2.8 3.1l-3 2.1l-4.1 1.7l-4 .7l-4 -.4l-3.8 -1.2l-3.2 -1.9l-3 -2.5l-2.8 -3.6l-2.1 -4l-1.7 -8l1 -8l1.6 -4l2.5 -4l2.8 -3l3.7 -2.6l3.1 -1.4z"/>
<path fill="#9f0000" fill-rule="evenodd" d="M427.4 330.7l4 .1l3.1 .8l3.8 2l3.2 2.7l2.4 3.3l2 4l1.6 8l-1 8l-1.6 4l-2.4 3.8l-3 3l-3.1 2l-3 1.2l-4 .7l-4 -.4l-3 -1l-3 -1.6l-3.3 -2.7l-2.7 -3.4l-1.9 -3.6l-1.3 -4l-.5 -4l1 -8l1.6 -4l2.1 -3.2l3 -3.2l3 -2.2l3 -1.4z"/>
<path fill="#8a0000" fill-rule="evenodd" d="M428.4 331.6l4 .4l3 1l3.1 1.8l3 2.8l3.5 6l1.7 8l-1.1 8l-1.6 4l-2 3l-2.5 2.7l-3.1 2.1l-3 1.3l-4 .6l-4 -.4l-3 -1l-3 -1.7l-3 -2.6l-2.4 -3l-2 -4l-1.1 -4l-.3 -4l1 -7l1.7 -4l2.1 -3.1l2.9 -2.9l3.1 -2.1l3 -1.3z"/>
<path fill="#800000" fill-rule="evenodd" d="M428.4 332.5l6.2 1.1l2.9 1.6l3 2.6l2.1 2.8l1.9 3.8l1.4 7.2l-.2 4l-.9 4l-3.3 6.3l-2.6 2.7l-2.9 2l-3.6 1.4l-3 .4l-4 -.4l-3 -1.1l-3 -1.8l-2.7 -2.5l-3.7 -6l-1.2 -4l-.4 -4l1.2 -7l1.8 -4l2 -2.9l5 -4.1l3 -1.4z"/>
</g>
</g>
<g clip-path="url(#cp02)">
<g filter="url(#bl)">
<rect x="506.6" y="252.7" width="200.4" height="196.8" fill="#00008a"/>
<path fill="#00009f" fill-rule="evenodd" d="M613.8 270.2l8 -.4l8 .4l7.1 1l8 2l8 2.9l7 3.4l7 4.4l6 4.6l6 5.6l5.8 6.6l4.9 6.9l4 7l3.2 7l2.7 8l1.9 8l1.1 8l.4 9l-.5 8l-1.2 8l-1.9 8l-2.9 8l-3.2 7l-4.1 6.9l-5 7l-5.4 6l-5.8 5.4l-7 5.3l-6 3.7l-7 3.4l-7 2.6l-8 2.1l-8.1 1.2l-8 .4l-8 -.4l-8 -1.3l-7 -1.8l-8 -3l-6 -3l-7.1 -4.3l-6.9 -5.3l-5.3 -5l-5.4 -6l-5 -7l-4.1 -6.9l-3.6 -8l-2.5 -7l-1.9 -8l-1.2 -8l-.5 -8l.3 -8l1 -8l1.8 -8l2.7 -8l3 -7l4.5 -8l4.9 -6.9l5.2 -6.1l6 -5.7l6 -4.6l7.1 -4.5l7 -3.5l8 -3l8 -2z"/>
<path fill="#0000b5" fill-rule="evenodd" d="M621.8 276.7l7 .3l7.1 1l8 2.1l6 2.2l6 2.8l7 4.3l11.1 9.3l5.3 5.9l4.3 6l6.8 13l4.2 14l1.2 8l.5 8l-.4 8l-1.2 8l-4.2 14l-6.8 13l-4.3 5.9l-5.2 6l-5.3 4.9l-6 4.6l-6 3.7l-7 3.4l-13 4.1l-7.1 1.1l-8 .4l-14 -1.4l-8 -2.1l-6 -2.3l-6 -2.9l-7.1 -4.4l-6 -4.6l-5 -4.8l-4.9 -5.7l-4.3 -5.9l-4 -7l-3.1 -7l-4.1 -14l-1.1 -8l-.3 -7l.4 -7l1.1 -8l4 -14l6.6 -13l4.1 -6l5.6 -6.4l5 -4.8l6 -4.6l6.1 -3.8l7 -3.5l7 -2.6l7 -1.8l7 -1.1z"/>
<path fill="#0000ca" fill-rule="evenodd" d="M615.8 281.3l7 -.3l7 .4l13.1 2.9l7 2.7l6 3l11 7.9l5 4.8l5.1 5.9l7.4 12l5 13l2.4 14l-.1 14l-2.9 14l-5.3 13l-7.9 11.9l-9.7 9.9l-11 7.5l-6 3l-7 2.5l-7 1.8l-7.1 1l-7 .2l-7 -.5l-13 -2.9l-7 -2.8l-6 -3.1l-11.1 -8l-5 -4.9l-4.7 -5.6l-6.8 -11l-5.1 -13l-1.9 -8l-.9 -7l.3 -14l2.8 -14l5.4 -13l3.5 -6l4.5 -6l4.9 -5.4l5 -4.5l11.1 -7.5l12 -5.1l7 -1.8z"/>
<path fill="#0000df" fill-rule="evenodd" d="M616.8 284.4l7 -.1l7 .5l13.1 3.2l11 5.2l11 8l8.7 9.4l4 6l3.3 6l4.8 13l2.1 13l-.4 14l-2.8 13l-5.1 12l-3.6 6l-4.6 5.9l-9.4 9.2l-11 7.2l-12 4.8l-13.1 2.3l-12 -.2l-13 -2.9l-12 -5.4l-11.1 -8l-9.2 -9.9l-4.1 -6l-3.2 -6l-4.7 -13l-2.1 -13l.3 -13l2.7 -13l4.9 -12l3.5 -6l4.4 -6l9.5 -9.5l11.1 -7.3l12 -4.9z"/>
<path fill="#0000f4" fill-rule="evenodd" d="M614.8 287.3l13 -.2l12.1 2.4l12 5l10 6.7l9.4 9.4l7.3 11l4.9 12l2.6 13l.1 13l-2.4 13l-4.6 12l-6.9 11l-9.4 9.8l-10 7l-11 4.9l-6 1.7l-7.1 1.2l-13 0l-12 -2.4l-11 -4.6l-11.1 -7.4l-9 -9.2l-7.2 -11l-4.8 -12l-2.6 -13l-.1 -13l2.4 -13l4.7 -12l7 -11l8.6 -9.1l10.1 -7.2l12 -5.4z"/>
<path fill="#000bff" fill-rule="evenodd" d="M616.8 289.3l12 .2l12.1 2.6l11 4.9l10 7l8.2 8.6l7.1 11l4.6 12l2.3 13l-.3 13l-2.5 12l-5.1 12l-6.7 10l-8.6 8.6l-10 6.8l-12 4.9l-12.1 2.2l-12 -.2l-12 -2.8l-11 -5l-10.1 -7.2l-8.6 -9.3l-6.7 -11l-4.3 -12l-2 -12l.3 -13l2.6 -12l5.1 -12l6.8 -10l8.9 -8.8l10 -6.6l11 -4.6z"/>
<path fill="#0020ff" fill-rule="evenodd" d="M615.8 291.3l12 0l11.1 2.2l11 4.6l10 6.7l8.6 8.8l6.5 10l4.6 11l2.6 13l0 12l-2.6 13l-4.4 11l-6.5 10l-7.8 8.1l-10 7.1l-11 4.8l-12.1 2.5l-12 0l-11 -2.3l-11 -4.7l-10 -7l-8.3 -8.5l-6.5 -10l-4.7 -12l-2.3 -12l0 -12l2.3 -12l4.9 -12l6.5 -10l8.1 -8.3l10 -7l10 -4.3z"/>
<path fill="#0035ff" fill-rule="evenodd" d="M614.8 293.2l12 -.3l11.1 2.1l11 4.5l9.3 6.1l8.1 8l6.8 10l4.7 11l2.6 12l.2 12l-2.1 12l-4.2 11l-6.2 10l-8.2 8.7l-9 6.5l-11 5l-11.1 2.5l-12 .1l-11 -2.1l-10 -4.1l-10 -6.6l-8.1 -8l-6.8 -10l-4.6 -11l-2.4 -11l-.3 -12l1.9 -12l4 -11l6 -10l8.2 -9l9.1 -6.7l10 -4.8z"/>
<path fill="#004aff" fill-rule="evenodd" d="M617.8 294.5l11 .2l11.1 2.5l10 4.6l9.4 6.8l8.2 9l6 10l3.9 11l1.7 11l-.3 12l-2.5 11l-4.8 11l-6.2 9l-8.1 7.9l-9.3 6.2l-11 4.4l-11.1 1.9l-11 -.4l-11 -2.6l-10 -4.7l-9.2 -6.7l-7.3 -8l-6.2 -10l-4.1 -11l-1.9 -12l.4 -12l2.5 -11l4.2 -10l6.8 -10l8.2 -8l9.6 -6.2l10 -3.9z"/>
<path fill="#0060ff" fill-rule="evenodd" d="M614.8 296.2l11 -.3l11.1 1.9l10 4l9.1 5.8l8.2 8l6.2 9l4.7 11l2.4 11l.2 12l-1.9 11l-4.3 11l-5.6 9l-7.3 8l-8.7 6.4l-10 4.6l-11.1 2.6l-11 .3l-10 -1.8l-10 -3.8l-9.8 -6.4l-8.1 -7.9l-6.2 -9l-4.3 -10l-2.6 -11l-.3 -12l1.7 -11l4.1 -11l5.4 -9l7.1 -8l9 -6.8l10 -4.9z"/>
<path fill="#0075ff" fill-rule="evenodd" d="M616.8 297.3l11 .1l10.1 2.1l10 4.3l9 6.3l7.2 7.5l6.4 10l3.9 10l2 11l-.1 11l-2.2 11l-4 10l-6.2 9.4l-8 8.1l-9 6l-10 4.1l-10.1 1.9l-11 -.1l-10 -2.3l-10 -4.4l-9 -6.5l-7.7 -8.2l-5.5 -9l-3.8 -10l-2 -11l.1 -11l2.2 -11l4.1 -10l5.9 -9l7.7 -7.9l9 -6.1l10 -4.3z"/>
<path fill="#008aff" fill-rule="evenodd" d="M617.8 298.5l11 .3l10.1 2.3l9 4.1l9 6.6l7.2 7.8l5.5 9l3.8 10l1.9 11l-.2 10l-2.2 11l-4.2 10l-6 9l-7.8 7.8l-9 5.9l-10 3.9l-10.1 1.8l-10 -.3l-11 -2.6l-9 -4.2l-8.6 -6.3l-7.3 -8l-5.4 -9l-3.7 -10l-1.9 -11l.3 -11l2.2 -10l4.2 -10l6 -9l7.2 -7.1l9 -6.1l10 -4.1z"/>
<path fill="#009fff" fill-rule="evenodd" d="M618.8 299.6l10 .3l10.1 2.5l10 4.8l8 6.1l7.3 8.3l5.1 9l3.4 10l1.5 10l-.5 11l-2.3 10l-4.5 10l-6 8.3l-7 6.8l-9 5.8l-10 3.8l-10.1 1.5l-10 -.4l-10 -2.6l-10 -4.9l-8 -6.3l-6.9 -8l-5.1 -9l-3.4 -10l-1.4 -10l.5 -11l2.4 -10l4.6 -10l5.6 -8l7.3 -7l8.4 -5.4l10 -3.9z"/>
<path fill="#00b5ff" fill-rule="evenodd" d="M620.8 300.6l10 .8l10.1 2.9l9 4.8l7.8 6.5l6.5 8l4.8 9l3.1 10l1.1 10l-.9 11l-2.8 10l-4.5 9l-6.1 8l-7 6.3l-9 5.3l-10 3.4l-10.1 1.2l-10 -.9l-9 -2.6l-9 -4.7l-8 -6.5l-7 -8.5l-4.7 -9l-3 -10l-1.1 -10l.7 -10l2.7 -10l4.9 -10l6.2 -8l7.3 -6.4l9 -5.2l9 -3.1z"/>
<path fill="#00caff" fill-rule="evenodd" d="M621.8 301.6l10.1 1l9 2.8l9 5l7.4 6.2l6.4 8l4.6 9l3 10l.9 10l-.9 10l-2.9 10l-4.6 9l-6.3 8l-7.6 6.4l-9 5l-9 2.8l-10.1 1l-10 -1.1l-9 -3l-9 -5.1l-7.1 -6l-6.3 -8l-4.6 -9l-2.9 -10l-.9 -10l.9 -10l3 -10l4.6 -9l6.3 -7.8l8 -6.7l8 -4.4l9 -3z"/>
<path fill="#00dfff" fill-rule="evenodd" d="M621.8 302.6l10.1 1.1l9 2.8l8 4.4l8 6.7l5.6 7l4.8 9l3 10l.9 10l-.9 10l-2.9 10l-4.8 9l-5.7 7.1l-7 6.1l-9 5.1l-9 2.8l-10.1 1.1l-10 -1.2l-9 -2.9l-8 -4.6l-7.7 -6.5l-6.2 -8l-4.5 -9l-2.5 -9l-.9 -10l.9 -10l2.6 -9l4.6 -9l6.2 -8l7.5 -6.3l8 -4.6l9 -2.9z"/>
<path fill="#00f4ff" fill-rule="evenodd" d="M620.8 303.6l10 .8l9.1 2.7l8 4.3l7.7 6.2l5.8 7l4.9 9l2.8 9l1.2 10l-.7 10l-2.5 9l-4.3 9l-6.1 8l-7.8 6.8l-8 4.5l-9 2.9l-9.1 1l-10 -.9l-9 -2.8l-8 -4.4l-7.4 -6.1l-6.4 -8l-4.2 -8l-2.8 -9l-1.1 -10l.8 -10l2.4 -9l4.4 -9l6.2 -8l7.1 -6.2l8 -4.6l9 -3z"/>
<path fill="#0bfff4" fill-rule="evenodd" d="M619.8 304.6l9 .4l9.1 2.3l8 3.9l8 6.1l6.4 7.3l4.6 8l3.1 9l1.4 10l-.6 10l-2.2 9l-4.2 9l-5.5 7.4l-7 6.5l-8 4.9l-9 3.2l-9.1 1.2l-9 -.5l-9 -2.4l-8.6 -4.3l-7.4 -6l-6 -7l-4.6 -8l-3 -9l-1.4 -10l.6 -10l2.3 -9l3.7 -8l5.7 -8l6.7 -6.3l8 -5l9 -3.4z"/>
<path fill="#20ffdf" fill-rule="evenodd" d="M618.8 305.5l9 .3l9.1 2.1l9 4.3l7 5.3l6.3 7.1l4.7 8l3.2 9l1.4 9l-.4 10l-2.1 9l-3.5 8l-5.5 8l-6.1 6l-8 5.3l-9 3.5l-9.1 1.5l-9 -.4l-9 -2.2l-8 -3.8l-7.8 -5.9l-6.2 -7l-4.6 -8l-3.2 -9l-1.3 -9l.4 -10l2.2 -9l4.1 -9l4.9 -7l6.5 -6.2l8 -5.1l8 -3.2z"/>
<path fill="#35ffca" fill-rule="evenodd" d="M617.8 306.5l9 0l8.1 1.7l8 3.3l8 5.4l6.5 6.7l5.1 8l3.5 9l1.6 9l-.2 10l-1.9 9l-3.4 8l-5.2 7.8l-6.1 6.2l-7.9 5.3l-8 3.3l-9.1 1.8l-9 -.2l-8 -1.7l-9 -4l-7 -5l-6.2 -6.5l-5 -8l-3.4 -9l-1.6 -9l.1 -9l1.8 -9l3.7 -9l4.6 -7l6 -6.3l8 -5.5l8 -3.5z"/>
<path fill="#4affb5" fill-rule="evenodd" d="M616.8 307.4l9 -.1l9.1 1.7l8 3.4l7 4.7l6.5 6.5l5.2 8l3.3 8l1.8 9l.1 9l-1.6 9l-3 8l-4.9 8l-6.4 6.8l-7 5l-8 3.7l-9.1 1.9l-9 .1l-9 -1.9l-8 -3.5l-7 -4.9l-6.1 -6.2l-5.2 -8l-3.2 -8l-1.8 -9l-.1 -9l1.6 -9l3.1 -8l4.9 -8l5.8 -6.2l7 -5.1l8 -3.8z"/>
<path fill="#60ff9f" fill-rule="evenodd" d="M616.8 308.2l9 -.1l8.1 1.5l8 3.2l7.4 4.8l6.6 6.7l4.8 7.3l3.3 8l1.9 9l.1 9l-1.6 9l-3.1 8l-5 8l-6.4 6.7l-7 4.8l-8 3.4l-8.1 1.7l-9 .1l-8 -1.6l-8 -3.4l-7.1 -4.7l-6 -6l-5.3 -8l-3.3 -8l-1.8 -9l-.1 -9l1.7 -9l3.1 -8l4.8 -7.6l6 -6.4l7 -5l8 -3.6z"/>
<path fill="#75ff8a" fill-rule="evenodd" d="M615.8 309.2l9 -.4l8.1 1.3l8 3l7.1 4.5l6.3 6l5 7l3.6 8l2.1 9l.3 9l-1.2 8l-2.7 8l-4.5 8l-6 6.7l-7 5.3l-8 3.8l-8.1 1.9l-9 .3l-8 -1.4l-8 -3.2l-7 -4.5l-6.1 -5.9l-4.9 -7l-3.6 -8l-2.1 -9l-.2 -9l1.2 -8l2.8 -8l4.6 -8l5.3 -6l7 -5.5l8 -3.9z"/>
<path fill="#8aff75" fill-rule="evenodd" d="M618.8 309.6l9 .3l8.1 1.9l7 3.3l7 5.1l5.9 6.4l4.3 7l3 8l1.5 9l-.3 9l-1.8 8l-3.4 8l-4.7 7l-6.5 6.3l-7 4.5l-8 3.1l-8.1 1.4l-9 -.4l-8 -2.1l-7 -3.4l-7 -5.3l-5.5 -6.1l-4.3 -7l-2.9 -8l-1.5 -9l.3 -9l1.8 -8l3.5 -8l4.8 -7l5.8 -5.7l7 -4.6l8 -3.3z"/>
<path fill="#9fff60" fill-rule="evenodd" d="M617.8 310.4l8 0l8.1 1.5l8 3.4l7 5l6 6.3l4.3 7l3.1 8l1.5 8l-.1 9l-1.6 8l-3.3 8l-4.5 7l-5.9 6l-6.5 4.5l-8 3.4l-8.1 1.5l-9 -.1l-8 -1.9l-7 -3.3l-7 -5l-5.6 -6.1l-4.3 -7l-3.1 -8l-1.4 -8l.1 -9l1.7 -8l3.3 -8l4.3 -6.5l6 -6.2l7 -4.8l7 -3z"/>
<path fill="#b5ff4a" fill-rule="evenodd" d="M616.8 311.3l8 -.3l8.1 1.4l7 2.7l7.1 4.5l6.2 6l4.7 7l3.4 8l1.7 8l.1 9l-1.4 8l-3.1 8l-4.5 7l-5.6 6l-6.6 4.6l-7 3.2l-8.1 1.8l-8 .1l-8 -1.5l-7 -2.8l-7 -4.6l-5.9 -5.8l-4.7 -7l-3.4 -8l-1.6 -8l-.2 -8l1.3 -8l2.9 -8l4.3 -7l5.4 -6l6.9 -5.1l7 -3.3z"/>
<path fill="#caff35" fill-rule="evenodd" d="M621.8 311.6l8 .8l7.1 2.1l7 3.7l6.5 5.4l5.5 6.9l3.6 7.1l2.3 8l.8 8l-.7 8l-2.3 8l-3.7 7.3l-5.3 6.7l-6.7 5.6l-7 3.7l-7.1 2.1l-8 .8l-8 -.9l-7 -2.3l-7 -3.8l-6.2 -5.2l-5.5 -7l-3.5 -7l-2.3 -8l-.7 -8l.8 -8l2.3 -8l3.5 -7l5.6 -7l6 -5l7 -3.8l7 -2.3z"/>
<path fill="#dfff20" fill-rule="evenodd" d="M618.8 312.5l8 .1l7.1 1.6l7 3l7 5l5.1 5.4l4.4 7l3.1 8l1.3 8l-.2 8l-1.7 8l-2.9 7l-4.6 7l-5.5 5.5l-7 4.6l-7 2.8l-8.1 1.5l-8 -.3l-7 -1.6l-7 -3.2l-7 -5.2l-5.5 -6.1l-4.1 -7l-2.5 -7l-1.3 -8l.2 -8l1.7 -8l3 -7l4.7 -7l5.8 -5.7l6 -3.9l7 -3z"/>
<path fill="#f4ff0b" fill-rule="evenodd" d="M616.8 313.4l8 -.3l7.1 1.2l7 2.6l7 4.5l5.4 5.2l4.9 7l3 7l1.8 8l.2 8l-1.4 8l-2.5 7l-4.2 7l-5.2 5.7l-6 4.5l-7 3.4l-8.1 1.9l-8 .1l-7 -1.2l-7 -2.8l-7 -4.6l-5.1 -5l-4.8 -7l-2.9 -7l-1.8 -8l-.1 -8l1.3 -8l2.6 -7l4.3 -7l5.5 -5.9l6 -4.4l7 -3.2z"/>
<path fill="#fff400" fill-rule="evenodd" d="M615.8 314.2l8 -.5l7 1l7.1 2.5l7 4.2l5.6 5.2l4.4 6.1l3.2 6.9l2.1 8l.4 8l-1.2 8l-2.4 7l-4 7l-5.1 5.8l-6 4.6l-7 3.5l-7.1 1.8l-8 .3l-7 -1.1l-7 -2.5l-7 -4.4l-5.2 -5l-4.4 -6l-3.2 -7l-2 -8l-.4 -8l1 -7l2.2 -7l4 -7.2l5 -5.9l6 -4.8l7 -3.6z"/>
<path fill="#ffdf00" fill-rule="evenodd" d="M618.8 314.5l8 .2l7.1 1.6l7 3.2l5.6 4.1l5.4 5.8l3.8 6.2l2.7 7l1.5 8l-.2 8l-1.5 7l-2.9 7l-4.4 6.7l-5.3 5.3l-6.7 4.4l-7 2.7l-7.1 1.3l-8 -.3l-7 -1.8l-6 -2.7l-6.4 -4.6l-5.4 -6l-3.6 -6l-2.7 -7l-1.4 -8l.2 -8l1.6 -7l2.9 -7l3.9 -6l5.9 -5.9l6 -4l7 -2.9z"/>
<path fill="#ffca00" fill-rule="evenodd" d="M616.8 315.4l8 -.3l7.1 1.2l7 2.8l6 4l5.6 5.5l4 6l3 7l1.5 7l.2 8l-1.1 7l-2.5 7l-4.2 7l-4.5 5l-6 4.5l-7 3.3l-7.1 1.7l-7 .2l-7 -1.1l-7 -2.7l-6.2 -3.9l-5.2 -5l-4.6 -6.7l-3.2 -7.3l-1.5 -7l-.1 -8l1.1 -7l2.6 -7l3.5 -6l4.6 -5.3l6 -4.7l7 -3.4z"/>
<path fill="#ffb500" fill-rule="evenodd" d="M615.8 316.2l7 -.6l7 .9l7.1 2.4l6.4 3.7l5.5 5l4.4 6l3.3 7l1.8 7l.4 8l-1 7l-2.3 7l-3.5 6.2l-5 5.9l-6 4.7l-6 3l-7.1 1.9l-7 .4l-7 -.9l-7 -2.5l-6.1 -3.7l-5.5 -5l-4.3 -6l-3.3 -7l-1.7 -7l-.4 -8l1 -7l2.4 -7l3.4 -6l4.5 -5.4l6 -4.8l6 -3.2z"/>
<path fill="#ff9f00" fill-rule="evenodd" d="M617.8 316.5l7 -.1l7.1 1.3l7 2.9l5.9 4l4.9 5l3.9 6l2.9 7l1.4 7l0 8l-1.3 7l-2.9 7l-3.8 5.9l-5 5.2l-6 4.1l-6 2.6l-7.1 1.5l-7 .1l-7 -1.4l-6.9 -3l-5.7 -4l-4.8 -5l-3.9 -6l-2.9 -7l-1.3 -7l-.1 -7l1.2 -7l2.6 -7l3.8 -6l5 -5.4l6 -4.3l6 -2.7z"/>
<path fill="#ff8a00" fill-rule="evenodd" d="M616.8 317.3l7 -.4l7 1.1l6.1 2.2l6 3.7l5.1 4.7l4.4 6l3.2 7l1.6 7l.3 7l-1 7l-2.4 7l-3.5 6l-4.7 5.4l-6 4.5l-6 2.9l-7.1 1.8l-7 .2l-7 -1.2l-6 -2.3l-6 -3.8l-5 -4.8l-4.1 -5.7l-3.1 -7l-1.6 -7l-.3 -7l1.1 -7l2.4 -7l3.6 -6l4.3 -5l5.7 -4.4l6 -3z"/>
<path fill="#ff7500" fill-rule="evenodd" d="M619.8 317.6l7 .3l6.1 1.4l7 3.3l5.3 4l4.5 5l3.6 6l2.5 7l1.1 7l-.3 7l-1.6 7l-3.1 6.8l-4 5.6l-5 4.7l-6 3.8l-6.1 2.2l-7 1.1l-7 -.3l-6 -1.6l-6 -2.8l-6 -4.5l-4.4 -5l-3.6 -6l-2.5 -7l-1 -7l.3 -7l1.7 -7l2.6 -6l4.2 -6l4.7 -4.5l6 -3.9l6 -2.4z"/>
<path fill="#ff6000" fill-rule="evenodd" d="M617.8 318.4l7 -.2l6 1.1l6.1 2.3l6.2 4l5.1 5l3.9 6l2.5 6l1.5 7l.1 7l-1.2 7l-2.3 6l-3.8 6.3l-4.4 4.7l-5.6 4.1l-6 2.8l-7.1 1.6l-7 0l-6 -1.2l-6 -2.4l-6 -4l-4.9 -4.9l-3.9 -6l-2.5 -6l-1.4 -7l-.1 -7l1.3 -7l2.3 -6l3.7 -6l4.6 -5l5.5 -4l6.4 -2.8z"/>
<path fill="#ff4a00" fill-rule="evenodd" d="M615.8 319.3l7 -.6l6 .7l6.1 1.9l6 3.4l5 4.3l4.4 5.6l3 6l1.9 7l.5 7l-.8 7l-1.9 6l-3.2 6l-4.9 5.8l-5 4l-6 3.1l-6.1 1.7l-7 .4l-6 -.8l-6 -2l-6 -3.5l-5 -4.4l-4 -5.3l-3 -6l-1.9 -7l-.4 -7l.9 -7l1.9 -6l3.2 -6l4.3 -5.1l5 -4.1l6 -3.3z"/>
<path fill="#ff3500" fill-rule="evenodd" d="M618.8 319.5l7 .1l6.1 1.3l6 2.6l5 3.5l4.6 4.6l3.8 6l2.4 6l1.3 7l0 7l-1.2 6l-2.4 6l-3.8 6l-4.7 4.8l-5 3.5l-6 2.6l-7.1 1.5l-7 -.2l-6 -1.4l-6 -2.8l-5 -3.6l-4.2 -4.4l-3.8 -6l-2.4 -6l-1.3 -7l.2 -7l1.2 -6l2.4 -6l3.8 -6l5 -5l5.1 -3.4l6 -2.5z"/>
<path fill="#ff2000" fill-rule="evenodd" d="M616.8 320.4l7 -.4l6 .9l6.1 2.2l5 3l4.9 4.5l3.8 5l2.9 6l1.7 7l.4 7l-.9 6l-2 6l-3.3 6l-4.3 5l-5.2 4l-6 3l-6.1 1.5l-7 .3l-6 -1l-6 -2.4l-5 -3.1l-5 -4.8l-3.9 -5.5l-2.6 -6l-1.4 -6l-.2 -7l.8 -6l2.1 -6l3.4 -6l3.8 -4.5l5 -4l6 -3.1z"/>
<path fill="#ff0b00" fill-rule="evenodd" d="M619.8 320.6l6 .1l6.1 1.4l6 2.7l5.1 3.8l4.5 5l3 5l2.3 6l1.2 7l-.3 7l-1.4 6l-2.7 6l-3.5 5l-4.2 4.2l-6 3.8l-6.1 2.3l-6 .9l-6 -.2l-6 -1.5l-6 -2.9l-5 -3.8l-4 -4.5l-3.2 -5.3l-2.3 -6l-1.1 -7l.3 -7l1.5 -6l2.7 -6l3.6 -5l4.5 -4.3l5 -3.3l6 -2.3z"/>
<path fill="#f40000" fill-rule="evenodd" d="M617.8 321.4l6 -.2l6 .9l6.1 2.3l5 3.2l5 4.8l3.5 5.2l2.5 6l1.3 6l.2 7l-1.1 6l-2.3 6l-3.1 5.1l-4 4.4l-5 3.8l-6 2.8l-6.1 1.4l-6 .1l-6 -1.1l-6 -2.4l-5 -3.3l-4.8 -4.8l-3.3 -5l-2.5 -6l-1.3 -6l0 -7l1.1 -6l2.3 -6l3.1 -5l4.4 -4.7l5 -3.7l5 -2.3z"/>
<path fill="#df0000" fill-rule="evenodd" d="M615.8 322.4l6 -.7l6 .5l6.1 1.9l5 2.7l4.6 3.8l4 5l3.1 6l1.8 6l.5 6l-.5 6l-1.7 6l-3 6l-4 5l-4.8 4l-5 2.7l-6.1 1.9l-6 .5l-6 -.7l-6 -1.9l-5 -2.9l-4.3 -3.6l-4 -5l-3 -6l-1.7 -6l-.5 -7l.8 -6l1.9 -6l2.7 -5l4 -5l4.1 -3.4l5 -2.9z"/>
<path fill="#ca0000" fill-rule="evenodd" d="M618.8 322.4l6 0l6 1.2l5.1 2.1l5 3.3l4.5 4.6l3.2 5l2.5 6l1.1 6l0 6l-1.1 6l-2.3 6l-3.3 5l-4.6 4.8l-4.8 3.2l-5.3 2.2l-6 1.2l-6 0l-6 -1.4l-5 -2.2l-5 -3.5l-4.1 -4.3l-3.3 -5l-2.3 -6l-1.1 -6l0 -6l1.1 -6l2.5 -6l3.2 -4.9l4 -4.2l5 -3.5l5 -2.2z"/>
<path fill="#b50000" fill-rule="evenodd" d="M616.8 323.3l6 -.4l5 .5l6.1 2l5 2.8l4 3.4l4 5.1l2.9 5.9l1.6 6l.4 6l-.7 6l-2 6l-2.8 5l-3.4 4.2l-5 4.1l-5 2.6l-6.1 1.7l-6 .3l-6 -.9l-5 -1.8l-5 -3l-4.6 -4.2l-3.4 -4.8l-2.5 -5.2l-1.5 -6l-.4 -6l.8 -6l2 -6l2.8 -5l3.8 -4.4l4.4 -3.6l5.6 -2.8z"/>
<path fill="#9f0000" fill-rule="evenodd" d="M619.8 323.5l6 .2l5 1.1l5.1 2.2l5.1 3.6l3.7 4l3.2 5l2.3 6l1 6l-.2 6l-1.3 6l-2.2 5l-3.4 5l-4.2 4.1l-5 3.2l-5.1 2l-6 1l-6 -.2l-5 -1.3l-5 -2.3l-5 -3.7l-4 -4.5l-3 -5.2l-1.8 -5.1l-1 -6l.2 -6l1.4 -6l2.2 -5l3.5 -5l4.1 -4l4.4 -2.8l5 -2.1z"/>
<path fill="#8a0000" fill-rule="evenodd" d="M617.8 324.3l6 -.3l5 .8l5.1 1.8l5 3l4.3 4l3.5 5l2.3 5l1.4 6l.2 6l-.9 6l-1.8 5l-3 5l-3.5 4l-4.5 3.5l-5 2.5l-6.1 1.6l-6 .1l-5 -.9l-5 -1.9l-5 -3.1l-4 -3.9l-3.4 -4.9l-2.3 -5l-1.3 -6l-.2 -6l1 -6l1.8 -5l3 -5l3.6 -4l4.8 -3.6l5 -2.4z"/>
<path fill="#800000" fill-rule="evenodd" d="M620.8 324.6l6 .4l5.1 1.4l5 2.5l4 3.2l3.9 4.5l2.8 5l1.7 5l.8 6l-.4 6l-1.2 5l-2.3 5l-3.6 5l-3.7 3.5l-5 3.1l-5.1 1.8l-6 .8l-6 -.5l-5 -1.5l-5 -2.7l-4 -3.3l-3.6 -4.2l-2.7 -5l-1.6 -5l-.8 -6l.4 -6l1.3 -5l2.3 -5l3.7 -5l4 -3.6l5 -3l5 -1.7z"/>
</g>
</g>
<g clip-path="url(#cp03)">
<g filter="url(#bl)">
<rect x="701.0" y="252.7" width="200.4" height="196.8" fill="#00008a"/>
<path fill="#00009f" fill-rule="evenodd" d="M810.2 266.4l8 -.4l7 .5l8.1 1.4l8 2.3l7 2.9l7 3.7l7 4.8l6.1 5.1l5.9 6l5.6 7l5.2 7.9l3.6 7l3.4 8l2.7 9l2.8 16l.4 8l-.3 9l-1 8l-1.8 9l-2.8 9l-3.3 8l-8 13.9l-4.6 6l-5.9 6.4l-6 5.4l-7 5l-8 4.5l-7 3l-7 2.2l-7.3 1.5l-22 0l-10.8 -2.5l-8 -3l-6 -3l-8.1 -5.1l-6 -4.8l-6 -5.8l-5.7 -6.8l-4.8 -7l-4 -7l-4 -8.9l-3 -9l-2 -9l-1.1 -8l-.5 -9l.3 -9l1.2 -9l1.9 -9l2.9 -9l3.4 -8l3.8 -7l5.3 -7.9l5.3 -6.5l6 -6l7 -5.7l7.1 -4.5l7 -3.6l8 -3l8 -2z"/>
<path fill="#0000b5" fill-rule="evenodd" d="M815.2 271.5l8 .3l7.1 1l7 1.8l7 2.6l6 2.9l7 4.4l6 4.7l6 5.8l5.7 6.7l4.1 5.9l4 7l3.5 8l4.4 15l1.3 8l.6 9l-.1 8l-1 9l-1.9 9l-2.1 7l-3.2 8l-3.6 6.9l-4.4 7l-4.7 6l-5.6 6l-6 5.2l-6 4.2l-7 3.9l-7 3l-7 2.1l-7 1.4l-8.1 .6l-7 -.2l-7 -1l-7 -1.7l-8 -3l-6 -3l-7.1 -4.5l-6 -4.8l-5.3 -5.2l-5.1 -6l-4.9 -7l-7.1 -13.9l-3.1 -9l-1.9 -8l-1.6 -16l.2 -9l.9 -8l1.7 -8l2.4 -8l6.2 -14l4.4 -7l5.3 -6.9l5.9 -6.2l6 -5.2l6.1 -4.1l7 -3.9l7 -2.9l7 -2.1l7 -1.3z"/>
<path fill="#0000ca" fill-rule="evenodd" d="M812.2 274.9l7 -.1l7.1 .6l7 1.4l7 2.2l7 3.1l7 4.2l11 9l5.8 6.4l4.4 5.9l4.1 7l3.4 7l4.8 15l1.4 8l.7 8l0 8l-.7 8l-3.2 15l-2.9 8l-3.3 7l-4.2 6.9l-4.4 6l-5.3 6l-5.6 5.1l-6 4.5l-6 3.6l-7 3.3l-6 2l-8 1.8l-7.1 .8l-7 -.1l-7 -.7l-7 -1.6l-7 -2.4l-6 -2.8l-7 -4.3l-11 -9.2l-5.3 -6l-4.4 -6l-7.1 -12.9l-2.7 -7l-2.3 -8l-1.5 -8l-.8 -8l.6 -16l3.1 -15l2.8 -8l3.2 -7l4.1 -7l4.2 -5.9l5.2 -6l5.8 -5.5l6.1 -4.6l6 -3.6l6 -3l7 -2.5l7 -1.7z"/>
<path fill="#0000df" fill-rule="evenodd" d="M813.2 277.3l7 0l7.1 .7l7 1.6l7 2.4l12 6.5l6 4.5l5.1 4.7l5.3 5.9l4.3 6l6.9 13l3 8l1.8 7l1.4 8l.6 8l-.7 15l-3.4 15l-5.9 14l-4.2 6.9l-4.4 6l-5.5 6l-5.3 4.7l-6 4.4l-6 3.5l-6 2.7l-7 2.3l-7 1.4l-7.1 .7l-7 -.2l-7 -.9l-7 -1.8l-6 -2.2l-6 -2.9l-6 -3.7l-6.1 -4.7l-5 -4.7l-5.6 -6.6l-4.2 -6l-6.7 -12.9l-4.3 -14l-2 -15l.6 -15l1.4 -8l2.2 -8l5.9 -14l7.9 -12l9.8 -10.2l6.1 -4.6l6 -3.7l6 -2.9l7 -2.4l7 -1.7z"/>
<path fill="#0000f4" fill-rule="evenodd" d="M813.2 279.3l7 0l7.1 .8l6 1.3l7 2.4l6 2.8l6 3.5l6 4.6l5 4.6l5.6 6.3l4.2 6l6.7 13l4.3 14l1.8 15l-.7 15l-3.5 15l-2.7 7l-3.4 7l-8.2 11.9l-5.1 5.6l-5 4.5l-6 4.3l-6 3.5l-6 2.6l-7 2.3l-13.1 1.8l-13 -.9l-6 -1.4l-7 -2.4l-6 -2.9l-6 -3.7l-5.5 -4.3l-5.3 -5l-8.7 -11l-7 -12.9l-4.6 -14l-2 -15l.6 -15l3 -14l5.7 -14l4.1 -7l4.4 -6l5.2 -5.8l5 -4.5l11.1 -7.5l6 -2.8l7 -2.4l6 -1.4z"/>
<path fill="#000bff" fill-rule="evenodd" d="M813.2 281.1l7 -.1l6.1 .7l7 1.5l6 2l6 2.8l6 3.5l6 4.5l5 4.7l8.9 10.9l6.9 13l2.8 8l1.8 7l1.6 14l-.7 15l-1.6 8l-2 7l-5.7 13l-8 11.7l-4.8 5.2l-5.2 4.7l-6 4.3l-6 3.5l-12 4.5l-7.1 1.4l-6 .5l-7 -.2l-6 -.7l-12 -3.6l-6 -2.8l-6 -3.7l-10.4 -8.9l-5.2 -6l-4.2 -6l-6.8 -12.9l-4.1 -13l-1.9 -15l.9 -15l3.2 -14l5.6 -13l7.9 -12l4.9 -5.4l5.1 -4.6l11 -7.4l12 -4.8l6 -1.5z"/>
<path fill="#0020ff" fill-rule="evenodd" d="M815.2 282.5l12.1 .9l7 1.7l6 2.2l6 2.9l6 3.8l10 8.8l8.5 10.8l6.1 12l4.3 14l1.8 15l-.8 14l-3.3 14l-5.7 13l-3.6 5.9l-4.5 6l-9.8 9.6l-6 4.3l-6 3.3l-12 4.4l-6.1 1.2l-7 .6l-6 -.2l-7 -1l-12 -3.9l-11 -6.3l-10.1 -9l-8.5 -11l-6.8 -12.9l-4.2 -14l-1.6 -14l.9 -14l1.5 -8l2.1 -7l5.9 -13l7.7 -11l5 -5.3l5.1 -4.4l11 -7l12 -4.5l6 -1.2z"/>
<path fill="#0035ff" fill-rule="evenodd" d="M813.2 284.1l7 -.1l6.1 .7l12 3.3l6 2.7l6 3.6l10 8.4l4.5 4.9l4.4 6l6.3 12l4.4 14l1.8 14l-.7 14l-3.1 14l-5.6 13l-3.6 5.9l-4.4 5.9l-4.7 5.1l-5.3 4.7l-11 7l-12 4.5l-12.1 1.7l-12 -.8l-12 -3.5l-11 -5.9l-10.1 -8.7l-9 -11.2l-6.9 -12.7l-4.1 -13l-1.8 -14l.7 -14l3.2 -14l5.6 -13l7.3 -10.9l9.1 -9.2l11 -7.5l6 -2.8l6 -2.1z"/>
<path fill="#004aff" fill-rule="evenodd" d="M814.2 285.3l12.1 .7l12 3.4l11 5.8l10.3 8.4l8.1 10l4.2 7l2.8 6l4 13l1.8 14l-.7 14l-3.2 14l-5.7 13l-7.5 10.9l-9.1 9.1l-11 7.2l-6 2.6l-6 1.9l-12.1 1.8l-12 -.8l-6 -1.4l-6 -2.2l-10 -5.5l-10.2 -8.7l-8.8 -10.9l-6.6 -12l-4.3 -13l-1.8 -14l.7 -14l3.3 -14l5.1 -12l7.5 -11.2l9.1 -9.1l11 -7.4l6 -2.7l6 -2z"/>
<path fill="#0060ff" fill-rule="evenodd" d="M815.2 286.5l12.1 .9l12 3.7l11 6.2l9.6 8.3l7.8 10l6.2 12l3.9 13l1.7 14l-.9 14l-3.2 13l-5.8 13l-7.3 10.4l-9 8.8l-11 7.1l-6 2.6l-6 1.8l-12.1 1.6l-12 -1.1l-11 -3.4l-10.2 -5.9l-9.9 -8.8l-8.6 -11.1l-6.4 -12l-3.8 -12l-1.7 -14l.9 -14l3.1 -13l5.3 -12l7.5 -11l9.2 -8.9l10.6 -6.9l6 -2.7l6 -1.9z"/>
<path fill="#0075ff" fill-rule="evenodd" d="M816.2 287.7l12.1 1.1l6 1.6l6 2.4l11 6.6l8.9 8.2l8.1 11l5.6 12l3.4 13l1.1 13l-1 13l-3.4 13l-5.6 12l-8 10.9l-9.1 8.5l-11 6.6l-11 3.8l-12.1 1.3l-11 -1.1l-11 -3.5l-10 -5.9l-9.4 -8.7l-9.1 -11.9l-6.2 -12l-3.7 -13l-1.2 -13l1.1 -13l3.4 -13l5.6 -12l7.4 -10.3l9.1 -8.5l11 -6.8l11 -3.8z"/>
<path fill="#008aff" fill-rule="evenodd" d="M813.2 288.9l12 .5l11.1 2.9l11 5.6l10 8.2l8 9.8l6.3 11.7l4.1 13l1.7 13l-.6 13l-2.9 13l-5 12l-7.3 10.9l-8.9 9l-10.4 6.9l-11 4.3l-12.1 1.9l-11 -.7l-11 -3.2l-10 -5.5l-8.8 -7.7l-9.3 -11.5l-6.5 -11.4l-4.1 -12l-1.8 -13l.5 -13l3 -13l5 -12l6.9 -10.5l9.1 -9.1l10 -6.7l11 -4.5z"/>
<path fill="#009fff" fill-rule="evenodd" d="M813.2 290.0l12 .5l11.1 2.9l11 5.8l9.1 7.4l8.2 10l6 11l4.1 13l1.7 13l-.6 13l-2.9 13l-5.1 12l-6.7 9.9l-8.8 9l-10 6.7l-11 4.4l-6.1 1.3l-6 .6l-11 -.7l-10 -2.9l-10 -5.4l-8.1 -7l-9.8 -11.9l-6.5 -11l-4.3 -12l-1.9 -13l.6 -13l3 -13l5.1 -12l6.7 -10l8.2 -8.3l10 -6.8l11 -4.6z"/>
<path fill="#00b5ff" fill-rule="evenodd" d="M813.2 291.0l12 .5l11.1 3l10 5.2l9.7 7.9l8.1 10l5.9 11l3.8 12l1.7 13l-.6 13l-3 13l-5.2 12l-6.8 9.9l-8.6 8.5l-10 6.6l-11 4.2l-11.1 1.7l-11 -.8l-10 -2.9l-9 -5l-8 -6.9l-10.1 -12.4l-6.5 -10.9l-4.1 -11l-1.9 -13l.6 -13l2.6 -12l5.1 -12l6.6 -10l8.7 -8.8l9 -6.2l11 -4.6z"/>
<path fill="#00caff" fill-rule="evenodd" d="M813.2 292.0l11 .4l11.1 2.8l10.6 5.5l9.4 7.6l7.7 9.3l6 11l3.9 12l1.7 13l-.6 13l-2.7 12l-5.1 12l-6.7 9.9l-8.2 8.3l-10 6.7l-11 4.3l-11.1 1.6l-10 -.6l-10 -2.7l-9 -4.9l-7.7 -6.7l-10.4 -12.9l-6.8 -11l-4 -11l-1.8 -12l.4 -12l2.6 -12l4.9 -12l6.5 -10l8.3 -8.6l10 -6.8l10 -4.1z"/>
<path fill="#00dfff" fill-rule="evenodd" d="M813.2 293.0l11 .4l11.1 2.9l10 5.1l9.1 7.2l7.5 9l6.1 11l4 12l1.7 12l-.5 13l-2.5 12l-5 12l-6.4 9.6l-8 8.4l-10 6.8l-10 4.1l-11.1 1.9l-10 -.4l-9 -2.3l-8.5 -4.2l-7.5 -6l-12.1 -14.8l-7 -11l-3.8 -10.1l-1.9 -12l.4 -12l2.6 -12l4.5 -11l6.4 -10l7.9 -8.3l10 -7l10 -4.2z"/>
<path fill="#00f4ff" fill-rule="evenodd" d="M813.2 294.0l11 .4l11.1 2.9l10 5.2l8.8 7.1l7.4 9l5.5 10l4.1 12l1.7 12l-.4 13l-2.7 12l-4.5 11l-6.5 10l-8.4 8.6l-9 6.1l-10 4.2l-11.1 1.9l-10 -.4l-9 -2.4l-8.1 -4.1l-7.2 -6l-13.8 -17.5l-5 -7.8l-4 -10.4l-1.8 -11.2l.4 -12l2.6 -12l4.6 -11l6.5 -10l7.8 -8l9 -6.2l10 -4.3z"/>
<path fill="#0bfff4" fill-rule="evenodd" d="M813.2 295.0l11 .3l10.1 2.6l10 5l9 7.3l7.8 9.4l5.4 10l3.7 11l1.8 12l-.4 12l-2.5 12l-4.4 11l-6.4 10l-8 8.4l-9 6.2l-10 4.3l-11.1 2l-9 -.4l-9 -2.2l-8 -3.9l-6.6 -5.5l-15.5 -19.9l-4.5 -7l-3.8 -10l-1.6 -11l.5 -12l2.6 -11l4.6 -11l6.2 -9.5l8.1 -8.1l9 -6.1l10 -4.1z"/>
<path fill="#20ffdf" fill-rule="evenodd" d="M813.2 295.9l11 .4l10.1 2.6l10 5.1l8.2 6.6l7.5 9l5.6 10l3.7 11l1.8 12l-.3 12l-2.5 12l-4.6 11l-6.4 9.8l-8 8.2l-9 6.1l-10 4.1l-10.1 1.7l-9 -.3l-8 -2l-7.7 -3.7l-6.2 -5l-4.1 -5l-6 -9l-8.1 -9.6l-3 -4.8l-3.6 -9.5l-1.4 -10l.5 -12l2.6 -11l4.7 -11l6 -9l7.3 -7.5l9 -6.2l10 -4.1z"/>
<path fill="#35ffca" fill-rule="evenodd" d="M813.2 296.8l11 .4l10.1 2.7l9.2 4.7l8.7 7l7.5 9l5.4 10l3.6 11l1.6 11l-.4 12l-2.2 11l-4.4 11l-6.4 10l-7.6 7.9l-9 6.2l-10 4.1l-10.1 1.7l-8 -.2l-8 -1.8l-7 -3.2l-6.1 -4.8l-4.1 -5l-6.6 -10.9l-7.3 -7.6l-4 -5.6l-3.5 -8.8l-1.7 -10l.4 -11l2.4 -11l4.4 -10.6l6.1 -9.4l7 -7.3l9 -6.3l10 -4.3z"/>
<path fill="#4affb5" fill-rule="evenodd" d="M815.2 297.7l10 .7l10.1 2.9l9 4.9l8.7 7.4l6.9 9l5.1 10l3.3 11l1.3 11l-.8 12l-2.6 11l-4.4 10l-6.5 9.5l-7.5 7.4l-8.5 5.7l-10 3.9l-10.1 1.5l-8 -.4l-7 -1.7l-7 -3.5l-5.3 -4.5l-4.3 -6l-4.6 -9.9l-1.6 -2l-8.3 -7l-4 -5.7l-3 -8.3l-1.3 -10l.7 -11l2.8 -11l4.5 -10l6.4 -9l7.1 -7l8.9 -5.7l10 -3.8z"/>
<path fill="#60ff9f" fill-rule="evenodd" d="M815.2 298.6l10 .7l10.1 3l9 5l8 6.9l6.6 8.4l5.2 10l3.4 11l1.3 11l-.8 12l-2.7 10.8l-4.5 10.2l-6.1 9l-7.4 7.2l-9 5.9l-9 3.5l-10.1 1.5l-8 -.5l-6.5 -1.7l-6.2 -3l-4.9 -4l-2.4 -3l-2.1 -3.9l-3.4 -12l-2.3 -2l-8.3 -4.4l-3 -3.1l-2 -3l-3 -7.5l-1.5 -10l.6 -10l2.6 -11l4.5 -10l6.1 -9l7.8 -7.5l8.6 -5.5l9.4 -3.5z"/>
<path fill="#75ff8a" fill-rule="evenodd" d="M815.2 299.5l10 .8l9.1 2.6l9 4.8l8.2 6.9l6.8 8.7l4.9 9.3l3.4 11l1.3 11l-.6 11l-2.6 11l-4.3 10l-6.1 9l-7 7.1l-9 6l-9 3.5l-10.1 1.5l-7 -.3l-7 -1.8l-6.1 -3.1l-4.6 -4l-2.7 -4l-1.5 -3.9l-.5 -4l.3 -7l-.7 -3l-2.2 -1.5l-9 -1.6l-5.1 -3.6l-2.9 -4.3l-1.7 -4l-1.3 -5l-.6 -6l.5 -10.4l2.6 -10.6l4.5 -10l6 -8.5l7.7 -7.5l8.3 -5.2l9 -3.4z"/>
<path fill="#8aff75" fill-rule="evenodd" d="M814.2 300.5l10 .5l9.1 2.5l9 4.7l8 6.5l7 8.6l5 9.3l3.2 10l1.6 11l-.5 11l-2.4 11l-4.2 10l-5.7 8.6l-7.1 7.3l-8.8 6l-9.1 3.7l-9.1 1.5l-7 -.2l-7 -1.6l-5 -2.4l-4.9 -4l-2.7 -4l-1.5 -4.9l.1 -4l1.4 -8l-.5 -4l-.9 -1.2l-2 -1l-11 0l-3.1 -1.2l-2 -1.6l-2.4 -3l-2 -4l-1.5 -5l-.7 -6l.4 -10l2.7 -11l4.5 -9.8l5.8 -8.2l7.2 -7l8.1 -5.1l9 -3.5z"/>
<path fill="#9fff60" fill-rule="evenodd" d="M814.2 301.5l10 .5l9.1 2.5l9 4.8l7.7 6.3l6.5 8l4.9 9l3.3 10l1.5 11l-.4 11l-2.5 10.8l-4 9.5l-5.6 8.7l-7.4 7.5l-8 5.5l-9 3.6l-9.1 1.6l-7 -.3l-6 -1.4l-5 -2.3l-4.1 -3.3l-2.8 -4l-1.3 -4.9l.2 -4l2.1 -10l-.1 -3l-.8 -2l-1.2 -1.2l-2 -.9l-12 .8l-3 -.8l-2.1 -1.3l-3 -3.5l-1.9 -4.1l-1.3 -5l-.5 -5l.4 -9l2.4 -10l3.9 -9l6.1 -9l7 -6.9l8 -5.2l9 -3.5z"/>
<path fill="#b5ff4a" fill-rule="evenodd" d="M813.2 302.5l10 .3l9.1 2.3l8.9 4.5l7.1 5.7l6.4 7.3l5.3 9l3.6 10l1.7 10l-.1 10l-1.9 11l-3.8 10l-5.4 9l-6.8 7.5l-8 5.8l-9 4l-9.1 1.8l-7 -.1l-6 -1.3l-5 -2.3l-4 -3.3l-2.6 -4.2l-.8 -3.9l.3 -4l2.5 -11l-.1 -3l-1 -3l-2.3 -2l-2 -.6l-3 -.1l-9 1.3l-3 -.5l-2.1 -1l-3 -3.1l-1.6 -3l-1.3 -4l-.8 -5l.2 -9l2.2 -10l4.3 -10l5.4 -8l6.7 -6.7l7.7 -5.3l8.3 -3.4z"/>
<path fill="#caff35" fill-rule="evenodd" d="M813.2 303.4l9 .2l9.1 2.2l8.1 3.8l8 6l6.2 7l5.4 9l3.7 10l1.7 10l-.1 10.6l-1.9 10.4l-3.9 10l-5.2 8.5l-6.8 7.5l-7.2 5.2l-9 4.1l-9.1 1.8l-6 -.1l-5.6 -1.1l-4.7 -2l-3.9 -3l-2.7 -4l-.8 -3.9l.3 -4l2.7 -12l-.1 -4l-1.2 -2.9l-2 -1.9l-3 -1l-4 .1l-8 1.3l-3 -.3l-2 -.8l-2.9 -2.5l-1.8 -3l-1.4 -4l-.7 -5l.3 -9l2.4 -10l4 -9l5.1 -7.4l6.4 -6.6l7.6 -5l8 -3.4z"/>
<path fill="#dfff20" fill-rule="evenodd" d="M813.2 304.4l9 .2l9.1 2.2l8 3.9l7.8 5.9l6.2 7.2l5.2 8.8l3.3 9l1.8 10l-.2 11l-2 10l-3.9 10l-4.9 8l-6.4 7l-7.9 5.7l-8 3.6l-9.1 1.7l-7 -.2l-6 -1.6l-4 -2.3l-3.6 -4l-1.2 -2.9l-.2 -4l2.7 -12l.5 -5l-.8 -4l-1.4 -2.3l-2.4 -1.7l-3.6 -.8l-12 1.4l-4 -.7l-2.6 -1.9l-2.1 -3l-1.4 -4l-.8 -5l.5 -9l2.3 -9l4.1 -8.9l5 -7.3l6 -6l7 -4.8l8 -3.4z"/>
<path fill="#f4ff0b" fill-rule="evenodd" d="M813.2 305.4l9 .2l8.5 2l8.3 4l7.3 5.6l6 6.8l5.2 8.6l3.4 9l1.8 10l-.1 10l-1.8 10l-3.5 9.3l-5 8.4l-6 6.8l-7 5.4l-8 3.9l-9.1 2.1l-7 -.1l-6 -1.5l-4 -2.4l-3.3 -4l-.9 -2.9l-.2 -3l2.9 -13l.4 -5l-.7 -4l-1.9 -3l-2.3 -1.7l-4 -.9l-12 1.3l-3 -.2l-2 -.8l-2.1 -1.7l-1.9 -3l-1.7 -7l.3 -9l2.3 -9l4.1 -8.8l5 -7.2l6 -5.8l7 -4.6l8 -3.3z"/>
<path fill="#fff400" fill-rule="evenodd" d="M812.2 306.5l9 0l9.1 2.1l8 3.8l7 5.2l6.3 7l4.9 8l3.5 9l1.7 9l.1 10l-1.5 9.2l-3 8.9l-5 9l-6 7.1l-7.3 5.7l-8.3 4l-8.5 1.9l-6 0l-6 -1.5l-4 -2.4l-2.9 -3.9l-.8 -3l0 -3l2.7 -12l.5 -5l-.7 -5l-1.8 -3.3l-3 -2.2l-3 -.8l-4 -.1l-10 1.2l-4 -.8l-2 -1.4l-1.9 -2.6l-1.8 -7l.3 -8l2.3 -9l3.7 -8l4.8 -7l5.6 -5.6l7 -4.8l7 -2.9z"/>
<path fill="#ffdf00" fill-rule="evenodd" d="M812.2 307.6l9 0l8.1 1.7l8 3.7l7 5.1l6.1 6.5l5.1 8l3.6 9l1.7 9l.2 9l-1.6 10l-3.1 9l-4.4 8l-5.8 7l-6.8 5.5l-8 4.1l-8.1 1.9l-6 .1l-5 -1l-4.7 -2.7l-2.4 -2.9l-.9 -3l-.1 -3l2.7 -13l.5 -6l-1 -5l-2 -3l-3.1 -2.2l-4 -.9l-13 1.1l-4 -.7l-2 -1.4l-1.5 -1.9l-1.9 -6l.1 -8l1.9 -8l3.5 -8l4.7 -7l5.9 -6l6.3 -4.2l7 -3.1z"/>
<path fill="#ffca00" fill-rule="evenodd" d="M812.2 308.6l8 -.1l8.1 1.6l8 3.5l7 4.9l6 6.3l5 7.6l3.5 8.2l2 9l.3 9l-1.5 10l-2.9 9l-4.4 8l-6 7.3l-7 5.6l-7 3.5l-8.1 2l-6 0l-5 -1.3l-3.4 -2.2l-2.2 -2.9l-.8 -3l0 -3l2.6 -13l.5 -5l-.7 -5l-2.1 -4l-2.9 -2.4l-4 -1.3l-5 -.1l-9 .9l-4 -.6l-3.1 -2.5l-1.4 -3l-.7 -3l.1 -7l1.8 -8l3.6 -8l4.7 -6.8l5.1 -5.2l6.9 -4.6l7 -2.9z"/>
<path fill="#ffb500" fill-rule="evenodd" d="M812.2 309.7l8 -.1l8.1 1.7l7 3l7 4.8l6 6.1l5 7.4l3.5 8l2 9l.3 9l-1.3 9l-2.8 9l-4.3 8l-5.4 6.7l-6.2 5.3l-7.4 3.9l-7.5 2.1l-5 .2l-5 -1l-3.9 -2.3l-2.1 -2.9l-.7 -3l0 -3l2.5 -13l.4 -6l-.9 -5l-2.3 -3.8l-3 -2.3l-4 -1.2l-5 -.3l-9 .8l-4 -.6l-3.1 -2.6l-1.8 -5l.1 -7l1.7 -7l3.6 -8l4.5 -6.4l5 -5l6 -4.1l7 -2.9z"/>
<path fill="#ff9f00" fill-rule="evenodd" d="M812.2 310.8l8 0l8.1 1.7l7.1 3.1l6.9 4.9l5.8 6.1l4.6 7l3.4 8l1.7 8l.3 9l-1.3 9l-2.6 8l-4.2 8l-5.5 7l-6 5l-7.2 3.8l-7.1 1.8l-5 .1l-4 -.9l-3.2 -1.8l-2.1 -3l-.7 -3l0 -3l2.5 -13l.3 -6l-.9 -5l-2.3 -4l-3.6 -2.7l-4 -1.3l-5 -.3l-9 .6l-4 -.7l-3 -2.7l-1.5 -4.9l.2 -6l1.8 -7l3.3 -7l4.2 -6l5.1 -5l5.9 -3.8l6 -2.5z"/>
<path fill="#ff8a00" fill-rule="evenodd" d="M809.2 312.5l8 -.7l8 1l7.1 2.5l7 4.2l6 5.5l5 6.5l3.6 7.1l2.4 8l.9 8l-.7 9l-2.4 9l-3.6 8l-4.2 6.1l-6 6l-7 4.4l-7 2.4l-5.1 .4l-4 -.6l-3.3 -1.7l-2.3 -3l-.6 -3l0 -3l2.4 -13l.2 -6l-.9 -5l-2.5 -4.4l-3.3 -2.6l-4.7 -1.7l-5 -.4l-9 .4l-3 -.4l-3 -2l-1.8 -3.9l-.2 -5l1.5 -7l2.5 -6l3.8 -6l4.2 -4.6l5 -3.8l6 -3z"/>
<path fill="#ff7500" fill-rule="evenodd" d="M808.2 313.9l7 -.9l8 .6l7.1 2.2l7 3.7l6 5l5.1 6.1l4 7l2.7 8l1 8l-.5 8l-2 9l-3.4 8l-4.6 7l-5.3 5.4l-6 4.1l-7 2.6l-5.1 .6l-4 -.7l-3 -1.8l-1.6 -2.2l-.7 -3l0 -3l2.2 -13l.2 -6l-1.3 -6l-2.6 -4l-3.2 -2.5l-5 -1.9l-5 -.5l-9 .1l-3 -.6l-2.4 -1.6l-1.6 -3.3l-.3 -4.7l1.2 -6l2.5 -6l3.6 -5.6l4 -4.3l4 -3.1l5 -2.8z"/>
<path fill="#ff6000" fill-rule="evenodd" d="M808.2 315.1l7 -.9l7 .5l7.1 2l7 3.7l6 4.8l5 5.8l3.9 6.6l2.5 7l1.2 8l-.4 8l-1.7 8l-3 8l-4.3 7l-5.2 5.5l-6 4.3l-6 2.4l-4.1 .6l-4 -.4l-3 -1.6l-1.8 -2.8l-.5 -5l2 -13l.2 -6l-1.4 -6l-2.6 -4l-3.9 -3.1l-5 -1.9l-16 -1.4l-2.6 -1.6l-1.5 -3l-.2 -5l1.1 -5l2.1 -5l3.2 -5l3.6 -4l4.3 -3.3l5 -2.6z"/>
<path fill="#ff4a00" fill-rule="evenodd" d="M808.2 316.4l7 -.9l7 .6l7.1 2l6 3.1l6 4.7l5 5.7l3.6 6l2.6 7l1.2 7l-.3 8l-1.7 8l-2.6 7l-3.8 6.7l-4.5 5.3l-5.5 4.3l-6 2.7l-4.1 .7l-3 -.3l-3 -1.4l-1.4 -2l-.8 -5l1.8 -13l.1 -6l-1.1 -5l-3 -5l-3.6 -3.1l-5 -2.3l-5 -1l-9 -.8l-2.9 -.8l-2.1 -1.8l-1 -2.2l-.2 -4l1.1 -5l2.2 -5l2.7 -4l3.2 -3.4l4 -3l4 -2.1z"/>
<path fill="#ff3500" fill-rule="evenodd" d="M806.2 318.3l6 -1.3l7 0l7.1 1.5l6 2.5l6 4l5 4.8l4.2 5.8l3.2 7l1.5 7l.1 7l-1.3 8l-2.7 8l-3.8 7l-4.1 5l-5.1 4.1l-5 2.4l-3 .6l-3.1 -.1l-2.4 -1l-1.6 -2l-.7 -5l1.4 -12l0 -6l-1.3 -5l-3.1 -5l-4.3 -3.5l-5 -2.4l-15 -3.1l-2 -1.2l-1.6 -2.8l-.3 -3l.7 -4l1.6 -4l2.4 -4l2.7 -3l3.5 -2.9z"/>
<path fill="#ff2000" fill-rule="evenodd" d="M806.2 319.7l6 -1.3l6 -.1l7 1.3l6.1 2.5l6 3.8l5 4.7l4 5.5l3 6.4l1.5 6.1l.2 7l-1.1 7l-2.6 7.9l-3 5.9l-4 5.4l-4.3 3.8l-4.7 2.5l-3 .6l-2.2 -.1l-2 -1l-1.3 -2l-.6 -4l1 -11l-.1 -5l-1.2 -5l-3 -5l-3 -3l-4.5 -3l-5.2 -2.1l-11 -2.9l-3 -2l-1 -2l-.3 -3l.5 -3l2.9 -6l4.9 -5.1z"/>
<path fill="#ff0b00" fill-rule="evenodd" d="M805.2 321.7l6 -1.7l6 -.3l6 .9l6.1 2.1l6 3.5l5 4.3l4 4.9l2.8 5.2l1.7 5l.8 6l-.5 6l-1.7 7l-2.9 7l-3.2 5.2l-4 4.4l-4 2.6l-4 .8l-2 -.8l-1 -1.3l-.8 -3.9l.3 -10l-.5 -5l-1.9 -5l-2.8 -4l-3.2 -3l-4.2 -2.9l-5 -2.4l-10.5 -3.7l-1.6 -1l-1.8 -2l-.6 -2l.1 -3l2 -5l4.4 -4.9z"/>
<path fill="#f40000" fill-rule="evenodd" d="M804.2 324.0l5 -2l5 -.8l6 .3l6.1 1.6l5 2.3l5 3.4l4.1 3.8l3.9 5.4l2.1 4.6l1.2 5l.3 5l-.7 5l-1.9 6l-3 6.2l-3 4.3l-4 3.5l-3 .7l-2 -1.7l-2.4 -14l-2.5 -5l-3.2 -4l-7 -5.6l-15 -7.2l-3 -3l-.7 -3.2l1.1 -4l3 -4z"/>
<path fill="#df0000" fill-rule="evenodd" d="M803.2 327.0l3.6 -2.4l4.4 -1.4l5 -.4l5 .5l5.1 1.5l5 2.3l4 2.8l3.9 3.7l3.1 4l2 4l1.3 4l.5 4l-.5 5l-1.3 4.2l-2 3.8l-3 3.7l-2 1.3l-2 -.2l-2 -2.2l-4.9 -7.6l-5.6 -6l-6.6 -4.9l-11.4 -6.1l-3.6 -2.6l-1.4 -2.4l-.1 -3l1.2 -3z"/>
<path fill="#ca0000" fill-rule="evenodd" d="M804.2 329.3l2 -1.9l3.3 -1.8l3.7 -.9l4 -.2l4 .5l5.1 1.5l7.3 4.1l6 6l3.6 7l.7 4l0 3l-.7 3l-1.9 3.6l-3 2.2l-2 .1l-2 -.8l-13.8 -11.1l-14.5 -9l-2 -2l-1.1 -2l.1 -3z"/>
<path fill="#b50000" fill-rule="evenodd" d="M806.9 330.6l3.7 -3l3.6 -1l3 -.2l7 1.3l6.3 2.9l6 5l3.8 5.8l1 3.2l.2 3l-1.2 4.4l-2 1.9l-2 .5l-3 -.7l-3 -1.6l-21.5 -14.5l-1.7 -2l-.8 -2z"/>
<path fill="#9f0000" fill-rule="evenodd" d="M810.8 331.6l1.4 -1.4l2 -1l5 -.4l5 1l5.8 2.8l4.7 4l2.7 4l1.1 4l-.1 2l-.9 2l-2.2 1.3l-3 -.2l-9.5 -5.1l-7.5 -5l-3.5 -3l-1.5 -3z"/>
<path fill="#8a0000" fill-rule="evenodd" d="M815.7 333.6l1.5 -1.4l3 -.5l3 .5l3.7 1.4l3 2l2.9 3l1.4 3l0 2l-.9 1.3l-2 .5l-5.3 -1.8l-4.9 -3l-3.7 -3l-1.5 -2z"/>
</g>
</g>
<g clip-path="url(#cp04)">
<g filter="url(#bl)">
<rect x="895.4" y="252.7" width="202.0" height="196.8" fill="#00008a"/>
<path fill="#00009f" fill-rule="evenodd" d="M1006.4 270.6l7 0l8 .7l8 1.6l8 2.5l7 3l7 3.8l7 4.8l6 5l5.5 5.7l4.8 5.9l4.6 7l3.6 7l2.9 7l2.4 8l1.7 9l.7 8l-.8 15l-1.8 9l-2.1 7l-2.9 7l-4.2 8l-4.7 6.9l-4.9 6l-5.8 5.8l-6 4.9l-6 4l-7 3.8l-7 3l-8 2.5l-8 1.6l-8 .7l-8 -.1l-8 -.8l-8 -1.7l-7 -2.3l-7 -3l-7 -3.8l-7 -4.8l-6 -5.1l-5.5 -5.7l-4.7 -6l-4.6 -6.9l-3.6 -7l-3.2 -8l-2 -7l-1.6 -8l-.7 -8l.6 -15l1.5 -8l2.3 -8l3.2 -8l3.6 -7l4.6 -7l5.1 -6.2l6 -6.1l6 -4.9l6 -4.1l8 -4.3l14 -5l8 -1.6z"/>
<path fill="#0000b5" fill-rule="evenodd" d="M1002.4 276.5l14 -.1l7 1l8 1.9l7 2.5l7 3.4l12 8.1l10.3 10.3l4.4 6l4.2 7l3.2 7l2.4 7l1.9 8l1 7l.3 8l-.4 7l-1 7l-2 8l-2.5 7l-3.4 7l-8 11.9l-5.4 6l-5 4.6l-12 8.1l-6 3l-8 2.9l-14 2.8l-8 .4l-7 -.4l-14 -2.9l-8 -2.9l-6 -3l-12 -8.2l-10.2 -10.4l-4.5 -5.9l-4.1 -7l-2.8 -6l-2.8 -8l-2.7 -14l-.4 -7l.3 -8l1 -7l1.9 -8l2.8 -8l2.8 -6l7.8 -12l5.3 -5.9l5.4 -5l6.2 -4.7l6 -3.7l7 -3.4l7 -2.5z"/>
<path fill="#0000ca" fill-rule="evenodd" d="M1001.4 280.4l14 -.3l13 2.2l13 5l12 7.5l5.6 4.9l4.7 4.9l4.7 6l3.7 6l5.7 13l3.1 14l.6 8l-.2 7l-2.5 14l-5 13l-7.5 12l-4.9 5.7l-5 4.8l-11 7.9l-6 3.1l-7 2.8l-7 1.9l-7 1.2l-14 .3l-7 -.9l-7 -1.6l-7 -2.5l-7 -3.3l-11 -7.4l-10 -9.9l-7.6 -11.1l-5.7 -13l-3.1 -14l-.3 -14l2.3 -14l4.8 -13l3.9 -7l4.1 -6l9.6 -10.1l6 -4.8l6 -3.7l6 -3.1l7 -2.6z"/>
<path fill="#0000df" fill-rule="evenodd" d="M1000.4 283.4l7 -.6l7 .1l13 2.1l7 2.3l6 2.7l11 6.9l9.4 8.7l8 11l3.2 6l2.8 7l3.1 13l.7 13l-.6 7l-1.4 7l-4.5 13l-7.1 12l-4.6 5.6l-5 5l-11 8.1l-12 5.5l-13 3.2l-7 .6l-7 -.1l-13 -2.2l-7 -2.3l-6 -2.7l-11 -6.9l-9.4 -8.9l-8 -10.9l-3.1 -6l-2.8 -7l-3.1 -13l-.5 -14l.7 -7l1.5 -7l4.3 -12l7.1 -12l9.3 -10.2l11 -8.1l12 -5.7z"/>
<path fill="#0000f4" fill-rule="evenodd" d="M1003.4 285.5l13 0l13 2.6l12 5.1l10 6.7l9 8.9l7.4 10.8l5.2 12l1.8 7l1.1 7l.1 13l-2.3 13l-4.7 12l-3.4 6l-4.4 6l-8.8 9l-11 7.6l-12 5.1l-13 2.6l-13 0l-13 -2.7l-12 -5.1l-10 -6.8l-5 -4.5l-4.7 -5.2l-7.2 -11l-4.9 -12l-2.6 -13l-.3 -7l.4 -7l2.6 -13l4.9 -12l7.3 -11l8.8 -8.9l10.7 -7.4l12 -5.1z"/>
<path fill="#000bff" fill-rule="evenodd" d="M1004.4 287.5l13 .2l12 2.6l11 4.7l11 7.7l8.6 8.9l7.1 11l4.6 12l2.3 12l-.1 13l-2.7 13l-5.1 12l-6.7 10l-9 9l-11 7.3l-12 4.8l-12 2.2l-13 -.2l-12 -2.7l-12 -5.3l-10 -7.1l-8.6 -9l-7 -11l-4.6 -12l-2.2 -12l.1 -13l2.8 -13l5.1 -12l6.8 -10l9 -8.9l10.6 -7.1l11 -4.6z"/>
<path fill="#0020ff" fill-rule="evenodd" d="M1003.4 289.5l13 0l12 2.5l11 4.6l10 6.8l9 9.2l6.6 10l4.5 11l2.5 12l.1 13l-2.2 12l-4.8 12l-6.5 10l-8.7 8.9l-10.5 7.3l-11 4.6l-12 2.5l-12 .1l-12 -2.3l-11 -4.5l-11 -7.4l-9 -9.2l-6.5 -10l-4.5 -11l-2.4 -12l-.1 -13l2.3 -12l4.8 -12l6.6 -10l8.7 -9l10.1 -6.8l11 -4.8z"/>
<path fill="#0035ff" fill-rule="evenodd" d="M1002.4 291.4l12 -.4l12 2.2l11 4.3l10 6.5l8.8 8.6l6.8 10l4.7 11l2.5 11l.4 12l-2 12l-4.4 12l-6.2 10l-8.4 8.9l-9.2 6.7l-11 5.1l-12 2.8l-12 .3l-12 -2.2l-11 -4.4l-9.6 -6.3l-8.4 -8l-7 -9.9l-4.9 -11l-2.7 -12l-.3 -12l1.9 -12l4.5 -12l6.3 -10l8.2 -8.7l10 -7.2l11 -4.9z"/>
<path fill="#004aff" fill-rule="evenodd" d="M1006.4 292.6l12 .5l11 2.7l11 5.3l9 6.7l7.9 8.8l6 10l3.9 11l1.8 12l-.6 12l-2.6 11l-5.1 11l-6.4 9l-8.9 8.3l-10 6.2l-11 4l-11 1.7l-12 -.5l-11 -2.8l-10.4 -5l-9.4 -6.9l-8.1 -9l-5.9 -10l-3.9 -11l-1.7 -11l.4 -12l2.6 -11l4.8 -11l7.1 -10l8.5 -8l10 -6.2l11 -4z"/>
<path fill="#0060ff" fill-rule="evenodd" d="M1003.4 294.4l11 -.2l11 1.9l10 3.9l10 6.4l8 7.7l6.6 9.5l4.8 11l2.4 11l.2 12l-2 11l-4.2 11l-5.8 9.2l-8 8.5l-9 6.5l-11 4.8l-11 2.4l-11 .2l-11 -2l-10 -3.9l-10 -6.5l-8 -7.8l-6.5 -9.4l-4.8 -11l-2.3 -11l-.2 -12l2 -11l4.3 -11l5.7 -9l7.8 -8.4l9 -6.4l11 -5z"/>
<path fill="#0075ff" fill-rule="evenodd" d="M1006.4 295.6l11 .4l11 2.6l10 4.7l9 6.7l7.7 8.6l5.4 9l3.9 11l1.7 11l-.5 11l-2.6 11l-4.5 10l-6.4 9l-8.5 8l-9.2 5.7l-10 3.7l-11 1.8l-11 -.4l-11 -2.7l-10 -4.7l-8.6 -6.4l-7.4 -8l-5.5 -9l-4.1 -11l-1.8 -11l.3 -11l2.4 -11l4.9 -11l6.4 -9l8.4 -7.8l9 -5.6l10 -3.8z"/>
<path fill="#008aff" fill-rule="evenodd" d="M1002.4 297.4l11 -.4l10 1.5l10 3.7l9 5.4l8 7.4l6.4 8.6l4.7 10l2.7 11l.5 11l-1.6 11l-4 11l-5.5 9l-7.3 8l-8.9 6.5l-10 4.6l-10 2.3l-11 .4l-10 -1.6l-10 -3.7l-9.1 -5.5l-7.9 -7.4l-6.3 -8.6l-4.7 -10l-2.7 -11l-.4 -11l1.7 -11l3.5 -10l5.9 -9.7l7 -7.8l9 -6.7l10 -4.6z"/>
<path fill="#009fff" fill-rule="evenodd" d="M1004.4 298.5l11 0l10 2l9 3.7l9 5.9l7.6 7.5l6 9l4.1 10l2.1 10l.1 11l-1.8 10l-3.9 10l-5.7 9l-7.5 7.8l-9 6.3l-10 4.2l-10 2l-11 0l-10 -2.1l-9 -3.7l-9 -6l-7.5 -7.5l-6 -9l-4.1 -10l-2 -10l-.1 -11l1.9 -10l3.9 -10l5.7 -9l7.2 -7.5l9 -6.3l10 -4.2z"/>
<path fill="#00b5ff" fill-rule="evenodd" d="M1007.4 299.6l10 .4l10 2.5l10 4.9l8 6.2l7 8l5.1 9l3.4 10l1.3 10l-.6 10l-2.4 10l-4.7 10l-5.9 8l-7.6 7l-8.6 5.2l-10 3.6l-10 1.5l-10 -.6l-10 -2.5l-9 -4.3l-8 -6l-7.2 -7.9l-5.3 -9l-3.6 -10l-1.4 -10l.5 -11l2.5 -10l4.2 -9l6.3 -8.7l7 -6.6l9 -5.6l10 -3.6z"/>
<path fill="#00caff" fill-rule="evenodd" d="M1002.4 301.3l10 -.5l10 1.5l9.2 3.3l8.8 5.4l7.2 6.6l5.9 8l4.3 9l2.5 10l.6 10l-1.3 10l-3.4 10l-5.2 9l-6.6 7.4l-8 6.1l-9 4.4l-10 2.6l-10 .5l-10 -1.6l-9 -3.3l-8.6 -5.1l-7.4 -6.8l-6 -8.2l-4.2 -9l-2.6 -10l-.5 -11l1.6 -10l3.2 -9l5.3 -9l6.2 -7l8 -6.2l9 -4.4z"/>
<path fill="#00dfff" fill-rule="evenodd" d="M1003.4 302.5l10 -.4l10 1.8l9 3.5l8 5.2l7.3 7l5.5 8l4 9l2 9l.5 10l-1.6 10l-3.2 9l-5.4 9l-6.4 7l-8.2 6l-8.5 4l-10 2.4l-10 .3l-10 -1.8l-9 -3.7l-8 -5.1l-7.3 -7.1l-5.4 -8l-3.9 -9l-2.1 -9l-.3 -10l1.6 -10l3.2 -9l5.2 -8.6l7 -7.6l8 -5.7l9 -4.1z"/>
<path fill="#00f4ff" fill-rule="evenodd" d="M1005.4 303.5l10 .1l9 1.9l9 3.9l7.6 5.2l6.8 7l5.1 8l3.6 9l1.8 9l0 10l-1.7 9l-3.6 9l-5.6 8.6l-7 7.1l-8 5.3l-9 3.6l-9 1.8l-10 -.2l-9 -1.9l-8 -3.4l-8 -5.4l-6.5 -6.5l-5.5 -8.2l-3.7 -8.8l-2 -10l0 -10l1.8 -9l3.6 -9l5.3 -8.2l7 -7.1l8 -5.4l9 -3.7z"/>
<path fill="#0bfff4" fill-rule="evenodd" d="M1007.4 304.5l9 .4l9 2.2l8 3.7l8 5.8l6.4 7l4.8 8l3.2 9l1.5 10l-.6 10l-2.4 9l-3.9 8.2l-5.8 7.8l-6.6 6l-7.6 4.6l-9 3.3l-9 1.4l-9 -.4l-9 -2.3l-8 -3.7l-8 -5.9l-6.3 -7l-4.8 -8l-3.2 -9l-1.3 -9l.4 -10l2.2 -9l4 -8.7l5.3 -7.3l6.7 -6.3l8 -5l9 -3.4z"/>
<path fill="#20ffdf" fill-rule="evenodd" d="M1002.4 306.3l9 -.6l9 1.2l8 2.7l8 4.5l7 6.2l5.6 7.3l4 8l2.4 9l.7 10l-1.2 9l-3.1 9l-4.4 7.6l-6 7l-7 5.4l-8 4.1l-9 2.4l-9 .6l-9 -1.2l-8 -2.8l-8 -4.6l-7 -6.2l-5.5 -7.3l-4 -8l-2.4 -9l-.6 -9l1 -9l2.9 -9l4.5 -8l5.9 -7l7.2 -5.7l8 -4.1z"/>
<path fill="#35ffca" fill-rule="evenodd" d="M1003.4 307.4l9 -.4l8 1.1l8 2.8l8 4.7l6.6 6l5.2 7l3.9 8l2.3 9l.5 9l-1.2 9l-2.7 8l-4.6 8l-6 6.9l-7 5.3l-8 4l-9 2.2l-9 .4l-8 -1.2l-8 -2.8l-8.1 -4.8l-6.5 -6l-5.1 -7l-3.8 -8l-2.3 -9l-.5 -9l1.3 -9l2.8 -8l4.6 -8l5.6 -6.4l7.2 -5.6l7.8 -3.8z"/>
<path fill="#4affb5" fill-rule="evenodd" d="M1004.4 308.5l9 -.3l8 1.4l8 3.1l7 4.4l6.8 6.5l4.8 7l3.5 8l1.9 8.5l.3 8.5l-1.5 9l-3 8l-4.8 7.7l-6 6.4l-7 4.9l-8 3.6l-8 1.8l-9 .1l-8 -1.4l-8 -3.2l-7 -4.4l-6 -5.7l-5 -6.9l-3.6 -7.9l-2.2 -9l-.2 -9l1.2 -8l2.9 -8l4.8 -8l6.1 -6.6l7 -5.1l8 -3.6z"/>
<path fill="#60ff9f" fill-rule="evenodd" d="M1005.4 309.6l8 -.1l8 1.4l8 3.2l7 4.5l6.1 6l4.9 7.4l3.2 7.6l1.8 9l-.1 9l-1.7 8l-3.3 8l-4.7 7l-6 6l-6.2 4.2l-8 3.4l-8 1.7l-8 0l-8 -1.5l-8 -3.2l-7 -4.7l-6 -5.9l-4.7 -7l-3.3 -8l-1.7 -8l0 -9l1.5 -8l3.1 -8l4.5 -7l5.7 -6l6.9 -4.8l8 -3.5z"/>
<path fill="#75ff8a" fill-rule="evenodd" d="M1008.4 310.6l8 .4l8 2.1l7.1 3.5l6.9 5.4l5.6 6.6l3.8 7l2.6 8l.9 8l-.5 8l-2.1 8l-3.3 7l-5.2 7l-5.8 5.2l-7 4.2l-8 2.8l-8 1l-8 -.5l-8 -2.2l-7 -3.5l-6.5 -5l-5.2 -6l-4.1 -7l-2.8 -8l-1.1 -8l.4 -8l2 -8l3.3 -7.3l5 -6.9l6 -5.5l7 -4.3l8 -2.9z"/>
<path fill="#8aff75" fill-rule="evenodd" d="M1003.4 312.4l8 -.6l8 1.1l7 2.4l7 4.1l5.9 5.2l4.5 6l3.5 7l2.2 8l.6 8l-.9 8l-2.6 8l-4 7l-5.2 6.1l-6.3 4.9l-6.7 3.3l-8 2.2l-8 .5l-8 -1.2l-7 -2.5l-7 -4.2l-5.7 -5.1l-4.5 -6l-3.5 -7l-2.2 -8l-.6 -8l1 -8l2.5 -7.5l4 -7.1l5 -5.9l6 -4.8l7 -3.6z"/>
<path fill="#9fff60" fill-rule="evenodd" d="M1004.4 313.5l8 -.4l7 1.1l7 2.5l6.6 3.9l5.5 5l4.9 6.7l3.3 7.3l1.7 7l.5 8l-1.2 8l-2.5 7l-4.1 7l-5.4 6l-6.3 4.6l-7 3.2l-7 1.6l-8 .2l-7 -1.1l-7 -2.6l-6.4 -3.9l-5.5 -5l-4.5 -6l-3.3 -7l-2.1 -8l-.4 -8l1 -7l2.3 -7l4 -7l5.2 -6l6.6 -5l7.1 -3.3z"/>
<path fill="#b5ff4a" fill-rule="evenodd" d="M1006.4 314.6l7 -.1l7 1.2l7 2.8l6.2 4.1l5.8 6l3.9 6l2.8 7l1.3 7l.1 8l-1.4 7l-2.7 7l-4 6.2l-5 5.3l-6 4.2l-7 3.1l-7 1.4l-8 0l-7 -1.4l-7 -2.9l-6 -4.1l-5 -5l-4.5 -6.8l-2.9 -7l-1.3 -7l0 -8l1.4 -7l2.9 -7l3.9 -6l5.5 -5.6l6 -4.1l7 -2.9z"/>
<path fill="#caff35" fill-rule="evenodd" d="M1002.4 316.6l7 -.9l7 .5l7 1.9l6 3.1l6 4.8l4.6 5.6l3.3 6l2.2 7l.9 7l-.5 7l-1.7 7l-3.4 7l-4.4 5.8l-5 4.5l-6 3.5l-7 2.4l-7 .9l-7 -.5l-7 -1.9l-7 -3.6l-6 -5l-4.2 -5.1l-3.3 -6l-2.2 -7l-.9 -7l.6 -7.4l2 -7.1l3.3 -6.5l4.7 -5.9l5 -4.3l6 -3.5z"/>
<path fill="#dfff20" fill-rule="evenodd" d="M1005.4 317.4l7 -.4l7 1.1l6 2.3l6 3.7l5 4.8l4 5.7l2.7 6l1.7 7l.3 7l-1.1 7l-2.5 7l-3.6 6l-4.5 5l-5.3 4l-5.7 2.7l-7 1.8l-7 .2l-7 -1.1l-6 -2.3l-6 -3.6l-5.1 -4.7l-4.3 -6l-2.8 -6l-1.6 -7l-.3 -7l1.1 -7l2.1 -6l3.9 -6.5l5 -5.4l5 -3.6l6 -2.9z"/>
<path fill="#f4ff0b" fill-rule="evenodd" d="M1007.4 318.6l7 0l6 1.2l6 2.6l5 3.4l4.8 4.8l3.3 5l2.6 6l1.5 7l.1 7l-1.3 7l-2.3 6l-3.7 5.9l-4.9 5.1l-5.1 3.4l-6 2.6l-6 1.2l-7 0l-6 -1.1l-6 -2.4l-6 -3.9l-4.9 -4.8l-3.4 -5l-2.7 -6l-1.5 -7l-.1 -7l1.4 -7l2.5 -6l3.7 -5.6l4.2 -4.4l5.8 -4l6 -2.6z"/>
<path fill="#fff400" fill-rule="evenodd" d="M1005.4 320.3l7 -.5l5.9 .8l5.7 2l5.1 3l4.5 4l3.8 5l2.9 6l1.7 6l.5 7l-.7 6l-1.8 6l-3.1 6l-4.1 5l-4.8 4l-5.6 2.9l-6 1.7l-6 .4l-7 -.9l-6 -2.1l-5.3 -3l-4.7 -4.1l-4 -5.1l-3 -5.8l-1.6 -6l-.6 -7l.8 -6l1.9 -6l3.4 -6l4.1 -4.7l5 -3.9l6 -3z"/>
<path fill="#ffdf00" fill-rule="evenodd" d="M1007.4 321.5l6 -.2l6 1l5 2l5 3.2l4.3 4.1l3.4 5l2.6 6l1.3 6l.2 6l-.9 6l-2.1 6l-2.8 5l-4 4.6l-5 3.8l-5 2.4l-6 1.5l-6 .2l-6 -1l-6 -2.3l-5.2 -3.2l-4.4 -4l-3.6 -5l-2.7 -6l-1.4 -6l-.2 -6l1 -6l2.3 -6l3.2 -5l4 -4.3l5 -3.7l6 -2.7z"/>
<path fill="#ffca00" fill-rule="evenodd" d="M1005.4 323.4l6 -.7l6 .6l5 1.5l5 2.8l4 3.4l3.6 4.6l2.6 5l1.8 6l.5 6l-.5 6l-1.7 6l-2.6 5l-3.7 4.8l-4 3.4l-5 2.8l-5 1.5l-5 .6l-6 -.5l-6 -1.8l-5.3 -2.8l-4.7 -3.9l-3.5 -4.1l-2.8 -5l-1.9 -6l-.6 -6l.5 -5l1.7 -6l2.6 -5l4 -4.9l4 -3.4l5 -2.8z"/>
<path fill="#ffb500" fill-rule="evenodd" d="M1008.4 324.5l5 -.3l5 .7l5 1.8l4.6 2.9l3.4 3.3l3.4 4.7l2.2 5l1.4 6l.2 6l-.9 6l-1.8 5l-3 5l-3.5 3.9l-4 3.1l-5 2.3l-5 1.1l-5 .1l-6 -1.1l-5 -2l-5 -3.2l-4 -3.9l-3.1 -4.3l-2.2 -5l-1.2 -5l-.2 -6l.8 -5l1.9 -5.1l3 -4.9l3.8 -4l4.2 -3.1l5 -2.4z"/>
<path fill="#ff9f00" fill-rule="evenodd" d="M1008.4 326.1l5 -.4l5 .7l5 1.8l4 2.6l3.8 3.8l2.7 4l2.1 5l1.2 5l.2 5l-.5 5l-1.5 5l-2.6 5l-3.4 4.2l-4 3.2l-4 2.1l-5 1.3l-5 .2l-5 -.8l-5 -1.8l-5 -3.1l-4 -3.8l-3 -4.1l-2.1 -4.4l-1.2 -5l-.3 -5l.7 -5l1.7 -5l2.4 -4l3.4 -4l4.4 -3.5l5 -2.5z"/>
<path fill="#ff8a00" fill-rule="evenodd" d="M1011.4 327.3l5 .1l4 1l4 1.9l4 3.1l3 3.5l2.6 4.7l1.4 4l.8 5l-.1 5l-1 5l-1.9 5l-2.6 4l-3.2 3.3l-4 2.8l-4 1.6l-4 .8l-5 -.1l-5 -1.3l-4.4 -2.1l-4.1 -3l-3.7 -4l-2.4 -4l-1.6 -4l-.9 -5l.1 -5l1 -4.5l2 -4.5l2.8 -4l4.1 -4l4.1 -2.6l4 -1.6z"/>
<path fill="#ff7500" fill-rule="evenodd" d="M1010.4 329.0l4 -.3l4 .5l4 1.5l4 2.5l3.3 3.4l2.5 4l1.7 4l1 5l.1 5l-.8 5l-1.4 4l-2.2 4l-3.2 3.7l-3 2.3l-4 2l-4 .9l-4 .1l-4 -.7l-4 -1.6l-4.3 -2.7l-3.1 -3l-2.9 -4l-1.8 -4l-1.3 -5l0 -5l.7 -4l1.5 -4l2.4 -4l2.8 -3.2l4 -3.2l4 -2z"/>
<path fill="#ff6000" fill-rule="evenodd" d="M1012.4 330.3l4 0l3 .6l4 1.8l3 2.2l3 3.3l2.1 3.4l1.5 4l.9 5l-.1 5l-.8 4l-1.4 4l-2.5 4l-2.7 2.9l-3 2.2l-4 1.8l-4 .7l-4 -.3l-4 -1.1l-6.4 -4.2l-2.7 -3l-2.4 -4l-1.5 -4l-.7 -4l0 -4l.8 -4l1.5 -4l2.5 -4l2.7 -3l3.2 -2.4l4 -2z"/>
<path fill="#ff4a00" fill-rule="evenodd" d="M1012.4 331.8l4 -.1l3 .6l4 1.8l3 2.4l4.3 6.1l1.4 4l.7 4l-.1 5l-.8 4l-3.5 7l-5 4.7l-3 1.5l-4 .9l-3.9 -.1l-3.1 -.8l-3 -1.4l-3.6 -2.8l-4.3 -6l-1.5 -4l-.7 -4l.8 -8l3.3 -7l5.1 -5l2.9 -1.6z"/>
<path fill="#ff3500" fill-rule="evenodd" d="M1014.4 333.1l6 .9l3 1.6l3 2.5l2 2.6l2 3.9l1.1 4l.3 4l-.3 4l-1.1 4l-3.4 6l-2.6 2.5l-3 1.9l-6 1.3l-6 -1.2l-3 -1.8l-3 -2.7l-3.5 -6l-1.4 -7l.2 -4l.9 -4l3.2 -6l2.6 -2.8l3 -2z"/>
<path fill="#ff2000" fill-rule="evenodd" d="M1015.4 334.5l3 .3l3 1l4.8 3.8l3.4 6l1.2 7l-1.1 7l-3.4 6l-4.9 4l-3 1l-3 .3l-3 -.4l-3 -1.1l-4.6 -3.8l-3.2 -6l-1.1 -7l1.1 -7l3.4 -6l4.4 -3.6l3 -1.1z"/>
<path fill="#ff0b00" fill-rule="evenodd" d="M1014.4 335.9l5 .5l3 1.4l2.2 1.8l3.5 5l1.6 7l-.5 6l-2.8 6.1l-4 3.9l-3 1.4l-3 .5l-5.2 -.9l-4.8 -3.6l-3.1 -5.4l-1.1 -6l.6 -6l2.7 -6l3.9 -3.8z"/>
<path fill="#f40000" fill-rule="evenodd" d="M1015.4 337.2l5 .9l4 2.9l2.9 4.6l1.4 6l-.6 6l-2.7 5.6l-4 3.6l-5 1.4l-5 -1.1l-4 -3.3l-2.4 -4.2l-1.3 -6l.7 -6l2.2 -5l3.8 -3.7z"/>
<path fill="#df0000" fill-rule="evenodd" d="M1016.4 338.6l4 .9l4 3.3l2.5 4.8l.8 5l-.7 5l-2.6 5l-4 3.3l-4 .9l-4.7 -1.2l-3.4 -3l-2.5 -5l-.6 -5l.7 -5l2.5 -5l4 -3.1z"/>
<path fill="#ca0000" fill-rule="evenodd" d="M1015.4 340.1l4 .5l3.2 2l2.8 4l1.2 5l-.4 5l-1.8 4.1l-3 3.1l-4 1.5l-4 -.5l-3.2 -2.2l-2.6 -4l-1 -5l.4 -5l1.8 -4l2.8 -3z"/>
<path fill="#b50000" fill-rule="evenodd" d="M1016.4 341.5l3 .5l3.4 2.6l2.2 4l.6 4l-.6 4l-2 4l-2.6 2.3l-4 1l-3 -.7l-3.1 -2.6l-1.9 -4l-.5 -4l.6 -4l1.9 -3.9l3 -2.5z"/>
<path fill="#9f0000" fill-rule="evenodd" d="M1016.4 343.0l3 .6l2.5 2l1.8 3l.7 4l-.6 4l-1.7 3l-2.7 2.2l-3 .6l-3 -1l-2 -1.9l-1.5 -2.9l-.6 -4l.6 -4l1.5 -2.7l2 -1.9z"/>
<path fill="#8a0000" fill-rule="evenodd" d="M1016.4 344.8l2 .2l2.5 1.6l1.5 2.4l.7 2.6l-.2 3l-1.1 3l-1.8 2l-2.6 1l-3 -.6l-1.7 -1.4l-1.3 -2.2l-.6 -2.8l.1 -3l1.2 -3l2 -2z"/>
<path fill="#800000" fill-rule="evenodd" d="M1016.4 346.8l3 .9l1.5 1.9l.6 2l-.1 2.8l-.9 2.2l-1.1 1.1l-2 .9l-3 -1l-1.4 -2l-.5 -2l0 -2l.9 -2.6l1.2 -1.4z"/>
</g>
</g>
<path d="M121.5 255.7H1094.4V446.5H121.5zM315.2 255.7V446.5M509.6 255.7V446.5M704.0 255.7V446.5M898.4 255.7V446.5" fill="none" stroke="#262626" stroke-width="3"/>
<g clip-path="url(#cp10)">
<g filter="url(#bl)">
<rect x="118.5" y="461.3" width="199.7" height="197.3" fill="#00008a"/>
<path fill="#00009f" fill-rule="evenodd" d="M220.3 487.1l14 0l7 1l7 1.7l8 3l6 2.9l6 3.7l6 4.6l9.2 9.4l4.5 6l3.6 6l3.3 7l2.5 7l2.8 14l.1 14.1l-.8 7l-1.9 8l-5.1 13l-7.6 12l-5.2 6l-5.4 5.1l-6 4.6l-6 3.7l-12 5.3l-7 1.9l-8 1.3l-7 .5l-7 -.3l-5.9 -.8l-8 -1.8l-8 -2.9l-6 -2.8l-7 -4.3l-5 -3.8l-5.1 -4.7l-5.4 -6l-7.8 -12l-5.4 -13l-2.9 -14l-.2 -14.1l2.4 -14l2.7 -8l3.2 -7l7.8 -12l9.7 -10.1l6 -4.7l6 -3.7l6 -3l8 -3l7 -1.8z"/>
<path fill="#0000b5" fill-rule="evenodd" d="M219.3 493.2l13 -.3l13 2.2l12 4.7l6 3.4l6 4.3l5.4 4.9l4.5 5l7.4 11l5 12l2.8 13l.2 13.1l-2.2 13l-4.5 12l-3.2 6l-4.2 6l-9.2 9.9l-11 7.8l-6 3l-7 2.7l-12 2.5l-13 .3l-6.9 -.9l-7 -1.7l-12 -5l-11 -7.3l-9.4 -9.3l-7.4 -11l-5.1 -12l-2.8 -13l-.3 -13.1l.8 -7l1.6 -7l2.4 -7l2.7 -6l7.1 -11l9.4 -9.8l10 -7l12 -5.4z"/>
<path fill="#0000ca" fill-rule="evenodd" d="M225.3 496.4l12 .7l7 1.5l6 2l11 5.6l10 7.9l8 9.3l6.2 11l4.1 12l1.6 13l-.7 12.1l-3.5 13l-5.3 11l-7.5 10l-8.9 8.1l-11 6.7l-12 4.2l-13 1.8l-12.9 -1l-12 -3.5l-11 -5.6l-9.7 -7.7l-8.5 -10l-6 -11l-3.9 -12l-1.5 -12l.9 -13.1l3.1 -12l5.3 -11l7.4 -10l9.9 -8.9l11 -6.5l12 -4.1z"/>
<path fill="#0000df" fill-rule="evenodd" d="M223.3 499.3l12 .3l12 2.9l11 5.1l9.2 6.8l8.3 9l6.2 10l4.5 12l1.9 12l-.4 12.1l-2.8 12l-5 11l-7 10l-8.9 8.4l-10 6.2l-11 4.2l-12 2l-12 -.4l-11.9 -2.9l-11 -5.2l-9 -6.7l-8.8 -9.6l-5.9 -10l-4.1 -11l-2 -12l.4 -12.1l2.7 -12l4.9 -11l7 -10l8.8 -8.4l10 -6.4l12 -4.5z"/>
<path fill="#0000f4" fill-rule="evenodd" d="M219.3 502.1l12 -.5l11 1.9l11 4.1l10 6.3l8.7 8.5l6.3 9l4.5 10l2.8 12l.4 12.1l-2 12l-4.3 11l-6.3 10l-8.1 8.5l-9 6.4l-11 4.9l-11 2.4l-12 .2l-10.9 -2.1l-10 -4l-10 -6.4l-8.2 -7.9l-6.9 -10l-4.7 -11l-2.3 -11l-.3 -12.1l2 -11l4.1 -11l5.5 -9l7.8 -8.7l9 -6.7l11 -5.2z"/>
<path fill="#000bff" fill-rule="evenodd" d="M219.3 504.3l11 -.6l11 1.7l10 3.6l10 6.1l8.8 8.3l6.3 9l4.5 10l2.6 11l.4 12.1l-1.8 11l-4.2 11l-5.6 9l-7.4 8l-8.6 6.4l-10 4.8l-11 2.7l-11 .5l-10.9 -1.8l-11 -4.2l-9 -5.6l-8.2 -7.8l-6.5 -9l-4.5 -10l-2.7 -11l-.4 -12.1l1.8 -11l4.1 -11l5.4 -8.9l7.3 -8.1l8.7 -6.5l10 -4.8z"/>
<path fill="#0020ff" fill-rule="evenodd" d="M220.3 506.1l11 -.3l11 1.9l10 4l8.8 5.7l7.3 7l6.4 9l4.4 10l2.5 11l.3 11.1l-2 11l-3.8 10l-5.6 9l-7.5 8l-8.8 6.3l-10 4.5l-10 2.2l-11 .3l-9.9 -1.7l-10 -3.9l-9.1 -5.7l-7.4 -7l-6.5 -9l-4.5 -10l-2.6 -11l-.3 -11.1l1.9 -11l3.7 -10l5.6 -9l7.4 -8l8.8 -6.4l10 -4.6z"/>
<path fill="#0035ff" fill-rule="evenodd" d="M219.3 508.2l10 -.7l10 1.4l10 3.4l9 5.3l8 7.2l6.3 8.6l4.7 10l2.4 10l.5 11.1l-1.5 10l-3.6 10l-5.3 9l-7.2 8l-8.3 6.2l-9 4.2l-10 2.6l-10 .5l-9.9 -1.4l-10 -3.5l-9 -5.4l-7.9 -7.2l-5.9 -8l-4.8 -10l-2.5 -10l-.5 -11.1l1.5 -10l3.4 -10l5.3 -9l7.1 -8l8.3 -6.2l9 -4.4z"/>
<path fill="#004aff" fill-rule="evenodd" d="M225.3 509.4l10 .5l10 2.7l9 4.4l8 6.2l6.2 7.2l5.3 9l3.3 10l1.4 10l-.6 10.1l-2.6 10l-4.3 9l-6 8l-7.7 7l-8 4.8l-10 3.6l-10 1.3l-10 -.6l-9.9 -2.7l-9 -4.6l-7.5 -5.8l-6.5 -7.4l-5 -8.6l-3.5 -10l-1.3 -10l.5 -10.1l2.5 -10l4.3 -9l5.8 -8l7.7 -7l8.2 -5l9.8 -3.6z"/>
<path fill="#0060ff" fill-rule="evenodd" d="M223.3 511.3l10 .2l9 1.9l9 3.9l8 5.6l7 7.4l5 8.1l3.5 9l1.8 10l-.2 10.1l-2.3 10l-4 9l-5.6 8l-7.2 6.9l-8 4.9l-9 3.4l-9 1.6l-10 -.2l-8.9 -2.1l-9 -4l-7.8 -5.5l-6.6 -7l-5.2 -8l-3.5 -9l-1.9 -10l.2 -10.1l1.9 -9l3.7 -9l5.3 -8l6.9 -7l8 -5.4l9 -3.8z"/>
<path fill="#0075ff" fill-rule="evenodd" d="M222.3 513.2l9 -.1l9 1.6l9 3.5l8 5.2l6.9 7l5.2 8l3.6 9l1.7 9l0 10.1l-1.8 9l-3.7 9l-5.3 8l-6.6 6.7l-7 4.6l-9 3.8l-9 1.8l-10 0l-8.8 -1.9l-8.1 -3.4l-8 -5.4l-6.2 -6.2l-5.4 -8l-3.7 -9l-1.8 -9l0 -10.1l1.7 -9l3.4 -8.4l5 -7.9l6.4 -6.7l7.6 -5.3l9 -4z"/>
<path fill="#008aff" fill-rule="evenodd" d="M221.3 515.2l9 -.4l9 1.5l9 3.4l7.4 4.7l6.2 6l5.4 7.8l3.5 8.2l2 9l.3 9.1l-1.5 9l-3.3 9l-5 8l-6 6.4l-7 4.9l-8 3.6l-9 2.1l-9 .2l-8.9 -1.5l-8 -3.1l-8 -5.1l-6.7 -6.5l-4.8 -7l-3.6 -8l-2.1 -9l-.3 -9.1l1.4 -9l3.4 -9l4.7 -7.6l6 -6.5l7 -5.1l8 -3.8z"/>
<path fill="#009fff" fill-rule="evenodd" d="M220.3 517.2l9 -.5l9 1.3l9 3.2l6.9 4.2l6.1 5.7l5 7.1l3.7 8.2l1.9 8l.5 9.1l-1.4 9l-2.7 8l-4.6 8l-5.4 6.1l-6.6 4.9l-7.4 3.6l-9 2.3l-9 .5l-7.9 -1.1l-8 -2.8l-7.6 -4.5l-6.6 -6l-5.2 -7l-3.7 -8l-2.1 -8l-.5 -9.1l1.1 -8l2.6 -8.1l4.4 -7.9l5.6 -6.6l7 -5.4l7.9 -4z"/>
<path fill="#00b5ff" fill-rule="evenodd" d="M220.3 519.2l8 -.6l8 .9l9 2.9l7 3.9l5.9 5.1l4.6 6l3.9 8l2.2 8l.7 9.1l-.9 8l-2.5 8l-4.3 8l-5 6l-6.6 5.1l-8 3.8l-8 2l-8 .6l-8 -1l-7.9 -2.7l-7 -4.1l-6 -5.2l-5.1 -6.5l-3.9 -7.9l-2.2 -8.1l-.6 -9.1l1.1 -8l2.7 -7.8l4 -7.1l5.2 -6.1l6.8 -5.4l7 -3.5z"/>
<path fill="#00caff" fill-rule="evenodd" d="M221.3 521.2l8 -.4l8 1.1l8 2.7l7 3.9l5.3 4.9l4.4 6l3.2 7l2 8l.5 9.1l-1.1 8l-2.7 8l-4.1 7l-4.5 5.1l-6 4.4l-7.9 3.5l-8.1 2l-8 .3l-7.9 -1.2l-7.9 -3.1l-6.1 -3.9l-5.5 -5.1l-4.5 -6.3l-3.2 -6.7l-2.1 -8l-.4 -8.1l1.2 -8l2.5 -7.2l3.9 -6.8l5.3 -6l6.6 -5l7.2 -3.4z"/>
<path fill="#00dfff" fill-rule="evenodd" d="M222.3 523.4l7 -.3l8 1.2l8 2.6l6.2 3.5l5.4 5l4.1 6l3 7l1.6 7l.3 8.1l-1.2 8l-2.4 7.1l-4 6.9l-5 5.3l-5.5 3.7l-7.5 3l-8 1.8l-8 .1l-6.9 -1.2l-6.8 -2.7l-6.2 -4l-5.2 -5l-4.2 -6l-3.1 -7l-1.6 -7l-.2 -8.1l1.1 -7l2.6 -7l3.6 -6l5 -5.5l6 -4.5l7 -3.3z"/>
<path fill="#00f4ff" fill-rule="evenodd" d="M214.4 528.3l5.9 -1.9l7 -.8l7 .7l8 2l5.1 2.1l4.9 3.2l4 4.1l3.7 5.7l2.7 7l1.2 7l.1 7.1l-1.1 7l-2.6 7l-3 5.1l-4.4 4.9l-5.6 3.8l-7 2.6l-9 1.9l-7 0l-6.7 -1.3l-6.2 -2.6l-6 -4l-5 -5.1l-4 -6.2l-2.7 -7.1l-1.1 -7l.2 -7.1l1.7 -7l3.3 -7l4.6 -5.9l6 -5.1z"/>
<path fill="#0bfff4" fill-rule="evenodd" d="M211.4 533.2l6 -2.8l4.9 -1.2l6 -.4l6.2 .6l7.8 1.8l5.6 2.2l4.4 3.1l4 4.6l2.9 5.3l2.1 6.4l.9 6.6l-.3 7.1l-1.3 6l-2.5 6l-3.3 5l-4.5 4.2l-5 2.7l-7.2 2.1l-7.8 1.2l-7.4 -.2l-5.5 -1.3l-6 -2.8l-5.3 -3.9l-4.4 -5l-3.3 -5.9l-2 -6.1l-.8 -7l.7 -7.1l2.1 -6.4l3.1 -5.6l4.3 -5z"/>
<path fill="#20ffdf" fill-rule="evenodd" d="M210.9 538.4l4.5 -2.7l4.9 -1.9l5 -.9l5 0l10 1.2l5 1.2l4 2.1l4 3.6l3.1 4.4l2.4 6l1.2 6l.1 6.1l-.8 6l-2 5.8l-3 5.1l-3 3.3l-4 2.7l-5 1.7l-11 1.5l-6 .1l-5 -.9l-4.9 -1.9l-4.1 -2.4l-4.4 -4l-3.5 -4.8l-2.3 -5.2l-1.4 -6l0 -6.1l1.3 -6l2.4 -5.5l3.2 -4.5z"/>
<path fill="#35ffca" fill-rule="evenodd" d="M250.3 542.0l3 3.5l2.5 4.9l1.5 5.1l.5 6l-.5 5.6l-1.6 5.4l-2.4 4.6l-3 3.5l-4 2.5l-4 1l-17 -1l-4 -.8l-3.9 -1.7l-6 -4.9l-2.4 -3.2l-1.8 -4l-.9 -4l-.2 -5.1l.7 -4l1.6 -4l2.5 -4l2.9 -3l4.5 -2.9l4 -1.5l17 -1.6l6 .7z"/>
<path fill="#4affb5" fill-rule="evenodd" d="M243.3 543.8l4 1.2l4 4.1l2.4 5.3l.9 7.1l-1 7l-2.3 5.1l-4 4.1l-4 1.1l-4.3 -1.3l-3.5 -4l-1.9 -5l-.6 -7l.8 -8.1l2.1 -5l3.4 -3.5z"/>
<path fill="#60ff9f" fill-rule="evenodd" d="M244.3 553.5l1.8 .9l1.2 1.9l.8 5.2l-.9 5l-1.4 2l-1.5 .6l-1.4 -.6l-1.4 -2l-.9 -5l.7 -5.1l1.2 -2z"/>
</g>
</g>
<g clip-path="url(#cp11)">
<g filter="url(#bl)">
<rect x="312.2" y="461.3" width="200.4" height="197.3" fill="#00008a"/>
<path fill="#00009f" fill-rule="evenodd" d="M419.4 481.3l7 -.3l8 .5l8.1 1.4l7 1.9l8 3.1l6 3l6 3.8l7 5.4l5.6 5.3l5.1 6l4.9 7l3.4 6l3.5 8l2.2 7l1.7 8l.8 7l.3 7.1l-.6 8l-1.3 8l-1.9 7l-3 8l-2.9 6l-4.3 7l-4.6 6l-4.9 5.3l-6 5.4l-7 5.1l-6 3.5l-7 3.2l-7 2.4l-8 1.9l-8.1 1l-8 .2l-8 -.6l-8 -1.5l-7 -2.1l-8 -3.2l-6.1 -3.2l-6 -3.9l-6 -4.8l-10.1 -10.7l-4.3 -6l-4 -7l-3.2 -7l-2.6 -8l-1.6 -7l-1 -8l.2 -15.1l1.1 -7l2.1 -8l2.5 -7l3.4 -7l4.2 -7l4.6 -6l4.7 -5.3l6 -5.4l6 -4.5l7.1 -4.2l7 -3.2l8 -2.8l8 -1.8z"/>
<path fill="#0000b5" fill-rule="evenodd" d="M419.4 487.2l7 -.3l8 .6l7.1 1.2l7 2l6 2.3l7 3.6l11 7.8l9.7 10l7.7 12l5.2 13l1.9 8l.9 7l-.2 14.1l-3 14l-5.5 13l-3.6 6l-4.5 6l-9.6 9.6l-6 4.4l-6 3.6l-7 3.3l-7 2.4l-7 1.7l-7.1 .9l-14 -.2l-7 -1.2l-7 -1.9l-13 -5.7l-6.1 -3.8l-6 -4.7l-5 -4.8l-4.8 -5.6l-7.6 -12l-5 -13l-2.6 -14l-.2 -7.1l.5 -8l3.1 -14l5.1 -12l3.6 -6l4.5 -6l4.5 -5l5.9 -5.4l6 -4.4l6.1 -3.5l13 -5.2l7 -1.7z"/>
<path fill="#0000ca" fill-rule="evenodd" d="M418.4 491.3l13 -.2l7.1 1l7 1.8l12 4.9l11.3 7.6l9.7 9.7l7.5 11.3l5 12l1.8 7l1.1 7l.3 7.1l-.3 7l-2.6 13l-2.2 6l-3.2 7l-7.4 11l-9 9.1l-11 7.6l-6 3l-7 2.5l-13.1 2.7l-13 0l-13 -2.5l-12 -4.8l-6 -3.5l-6.1 -4.4l-9.6 -9.7l-7.4 -11l-2.8 -6l-2.6 -7l-2.5 -13l-.4 -7l.3 -7.1l2.6 -13l4.8 -12l3.4 -6l4.4 -6l4.8 -5.4l5 -4.6l11.1 -7.4l12 -5z"/>
<path fill="#0000df" fill-rule="evenodd" d="M419.4 494.3l12 0l13.1 2.5l12 5l11 7.5l8.9 9.1l7.2 11l4.8 12l2.5 13l-.1 13.1l-2.8 13l-5.1 12l-6.8 10l-8.9 9l-10.7 7.3l-12 5l-13.1 2.5l-13 -.1l-13 -2.8l-12 -5.4l-10.1 -7l-8.2 -8.5l-7.3 -11l-5 -12l-2.5 -13l.1 -13.1l2.4 -12l4.8 -12l7.2 -11l8.8 -9l10.8 -7.4l12 -5.1z"/>
<path fill="#0000f4" fill-rule="evenodd" d="M417.4 497.2l13 -.4l12.1 2.1l12 4.8l10 6.5l8.5 8.2l7.1 10l5 11l3 13l.3 13.1l-2.2 12l-4.1 11l-6.9 11l-8.7 9.2l-10 7.1l-11 4.9l-12.1 2.8l-12 .3l-12 -2l-12 -4.6l-10.1 -6.3l-9 -8.5l-7.6 -10.9l-4.8 -11l-2.7 -12l-.4 -13.1l2.1 -12l4.1 -11l6.8 -11l8.5 -9.2l10.1 -7.2l11 -5z"/>
<path fill="#000bff" fill-rule="evenodd" d="M419.4 499.3l12 -.1l12.1 2.5l11 4.6l10 6.9l8 8.2l6.6 10l4.5 11l2.4 12l0 12.1l-2.5 12l-4.5 11l-6.7 10l-8 8l-9.8 6.8l-11 4.6l-12.1 2.5l-12 -.1l-11 -2.2l-11 -4.5l-10.1 -6.7l-8.4 -8.4l-6.7 -10l-4.5 -11l-2.5 -12l0 -12.1l2.4 -12l4.5 -11l6.6 -10l8.6 -8.7l10.1 -6.7l11 -4.5z"/>
<path fill="#0020ff" fill-rule="evenodd" d="M420.4 501.3l12 .1l11.1 2.5l11 4.8l9 6.4l7.9 8.3l6.4 10l4.2 11l2 11l-.2 12.1l-2.4 11l-4.3 10l-6.7 10l-8.1 8l-9.8 6.5l-11 4.3l-11.1 2.1l-12 -.3l-11 -2.5l-10 -4.4l-9.7 -6.7l-7.7 -8l-6.5 -10l-4.3 -11l-2 -11l.2 -12.1l2.3 -11l4.2 -10l6.7 -10l8 -8l9.8 -6.6l11 -4.4z"/>
<path fill="#0035ff" fill-rule="evenodd" d="M420.4 503.2l11 .1l11.1 2.3l10 4.3l9.5 6.5l7.8 8l6.3 10l3.9 10l2.1 11l-.2 11.1l-2.2 11l-4.8 11l-6.2 9l-8.2 7.9l-9 5.9l-10 4l-11.1 2.1l-11 -.1l-11 -2.4l-10 -4.3l-9 -6.3l-7.7 -7.8l-6 -9l-4.5 -11l-2 -11l0 -11.1l2.3 -11l4.6 -11l6.2 -9l8.1 -8l9 -5.9l10 -4.1z"/>
<path fill="#004aff" fill-rule="evenodd" d="M419.4 505.2l11 -.2l10.1 1.9l10 4l9 5.8l7.9 7.7l6.2 9l4.2 10l2.3 11l.1 11.1l-2.1 11l-4.2 10l-5.9 9l-7.5 7.6l-9 6.1l-10 4.2l-10.1 2.1l-11 0l-10 -1.9l-10 -4l-9 -6l-7.3 -7.1l-6.3 -9l-4.3 -10l-2.4 -11l-.1 -11.1l2.1 -11l4 -10l5.9 -9l7.4 -7.6l9 -6.2l10 -4.3z"/>
<path fill="#0060ff" fill-rule="evenodd" d="M417.4 507.2l11 -.5l10.1 1.5l10 3.6l9 5.6l7.6 7l5.9 8l4.7 10l2.4 10l.5 11.1l-1.5 10l-3.6 10l-5.4 9l-7.3 8l-8.3 6.1l-9 4.3l-10.1 2.5l-10 .6l-10 -1.4l-10 -3.5l-9 -5.4l-8 -7.2l-6 -8l-4.8 -10l-2.5 -10l-.5 -11.1l1.4 -10l3.6 -10l5.3 -9l7.2 -8l8.3 -6.2l9 -4.4z"/>
<path fill="#0075ff" fill-rule="evenodd" d="M422.4 508.4l10 .3l10.1 2.5l9 4.1l8.2 6.1l6.8 7.4l5.3 8.6l3.6 10l1.6 10l-.5 10.1l-2.3 10l-4.7 9.9l-6 8.1l-7 6.4l-9 5.5l-9 3.3l-10.1 1.5l-10 -.4l-10 -2.5l-9 -4.2l-8 -6l-7 -7.6l-5.1 -8.5l-3.5 -9.5l-1.5 -10l.3 -10.1l2.3 -10l4.4 -9.6l6 -8.3l7.1 -6.5l9 -5.6l9 -3.4z"/>
<path fill="#008aff" fill-rule="evenodd" d="M419.4 510.3l10 -.2l10.1 1.8l9 3.7l8 5.2l6.8 6.6l5.6 8l4 9l2.2 10l.1 10.1l-1.8 10l-3.6 9l-5.1 8l-7.2 7.5l-8 5.5l-9 3.9l-9.1 1.9l-10 .2l-10 -1.9l-9 -3.7l-8 -5.4l-7.1 -6.9l-5.4 -8.1l-3.8 -9l-1.9 -9l-.3 -10.1l1.8 -10l3.5 -9l5.1 -8l7.1 -7.5l7.8 -5.5l9.2 -4.1z"/>
<path fill="#009fff" fill-rule="evenodd" d="M417.4 512.2l10 -.6l9 1.2l9.1 3.1l8 4.6l7 6.2l5.9 7.7l4.4 9l2.4 9l.6 10.1l-1.3 9l-3 9l-4.6 8l-5.9 7l-7.6 6l-8.9 4.5l-9.1 2.4l-10 .6l-9 -1.3l-9 -3.1l-8 -4.8l-7 -6.2l-5.5 -7.1l-4.4 -9l-2.4 -9l-.7 -10.1l1.2 -9l3 -9l4.5 -8l5.8 -7l7.5 -6l9 -4.6z"/>
<path fill="#00b5ff" fill-rule="evenodd" d="M421.4 513.3l9 .1l9.1 1.9l8 3.4l8 5.4l6.2 6.3l5.2 8l3.6 9l1.6 9l-.2 9.1l-1.8 9l-3.6 8.4l-5.1 7.6l-5.9 6l-8 5.4l-9 3.7l-9.1 1.7l-9 -.1l-9 -2l-8.5 -3.7l-7.5 -5.3l-6.4 -6.7l-4.7 -7.2l-3.5 -8.8l-1.6 -9l0 -9.1l1.8 -9l3.3 -8.1l5.2 -7.9l6.9 -6.8l7 -4.8l9 -3.7z"/>
<path fill="#00caff" fill-rule="evenodd" d="M419.4 515.2l9 -.4l9.1 1.5l8 3.1l7.8 5l6.3 6l5 7l3.6 8l2.1 9l.2 9.1l-1.5 9l-3 8l-4.5 7.3l-6 6.6l-7 5.2l-8 3.7l-9.1 2.2l-9 .3l-8 -1.4l-8 -2.9l-8 -4.9l-6.5 -6.1l-5.1 -7l-3.7 -8l-2.1 -9l-.4 -9.1l1.5 -9l3.2 -8.6l4.7 -7.4l6.4 -6.8l7 -4.9l8 -3.6z"/>
<path fill="#00dfff" fill-rule="evenodd" d="M423.4 516.4l9 .5l8.1 2.1l7.1 3.4l6.9 5l6 6.7l4.4 7.3l2.8 8l1.3 9l-.5 9.1l-2.1 8l-3.9 8l-5 6.7l-6 5.4l-8 4.8l-8.1 2.7l-8 1.1l-9 -.5l-7.9 -2.2l-7.1 -3.4l-7 -5.3l-5.7 -6.3l-4.4 -7.3l-2.7 -7.7l-1.4 -9l.5 -9.1l2 -8l3.7 -7.8l5 -6.8l6 -5.6l8 -4.8l8 -2.8z"/>
<path fill="#00f4ff" fill-rule="evenodd" d="M420.4 518.3l8 -.3l8 1.4l8.1 3.1l7 4.5l6 5.9l4.5 6.5l3.5 8l1.7 8l.2 8.1l-1.4 8l-3.1 8l-4.4 7l-6 6.3l-6.9 4.7l-7.1 3.1l-8.1 1.8l-8 .1l-8 -1.4l-8 -3.2l-6.8 -4.4l-5.2 -5l-5.1 -7l-3.5 -8l-1.8 -8l-.2 -8.1l1.3 -8l3 -8l4.4 -7l5.9 -6.3l6.7 -4.7l7.3 -3.3z"/>
<path fill="#0bfff4" fill-rule="evenodd" d="M418.4 520.2l8 -.6l8 1l7.1 2.3l7 3.9l6 5.1l5 6.5l3.6 7l2.2 8l.5 8.1l-1 8l-2.3 7.1l-4 7.2l-5 5.9l-6.1 4.8l-6.9 3.6l-8.1 2.3l-8 .6l-8 -1.1l-7.1 -2.4l-6.9 -3.9l-5.8 -5.1l-4.7 -6l-3.6 -7l-2.3 -8l-.6 -8.1l.9 -8l2.2 -7l3.9 -7.1l5 -6l6 -4.9l7 -3.8z"/>
<path fill="#20ffdf" fill-rule="evenodd" d="M422.4 521.4l8 .2l7.1 1.6l7 3.1l6 4.2l5 5.1l4.4 6.8l2.8 7l1.4 8l-.3 8.1l-1.5 7l-3.1 7l-4.1 6l-5.6 5.5l-6 3.9l-7.1 2.8l-8 1.5l-8 -.2l-7 -1.7l-7 -3.2l-6 -4.3l-5.1 -5.3l-3.9 -6.2l-2.8 -6.8l-1.5 -8l.2 -8.1l1.5 -7l3 -7l4.6 -6.6l5.6 -5.4l6.3 -4l7.1 -2.7z"/>
<path fill="#35ffca" fill-rule="evenodd" d="M420.4 523.4l7 -.3l7 1l7.1 2.5l6.1 3.8l5.4 5l4.4 6l3.1 7l1.6 7l.2 8.1l-1.2 7l-2.8 7l-3.8 6l-5 5.2l-6 4.2l-6 2.7l-7.1 1.7l-7 .2l-7 -1.1l-7 -2.6l-6 -3.8l-5 -4.6l-4.4 -5.9l-3.2 -7l-1.7 -7l-.2 -8.1l1.2 -7l2.6 -7l3.7 -5.8l5 -5.4l6 -4.3l6 -2.8z"/>
<path fill="#4affb5" fill-rule="evenodd" d="M420.4 525.2l7 -.3l7 1.1l6.1 2.2l6 3.6l5 4.6l4.4 6l2.7 6l1.7 7l.3 7.1l-1.1 7l-2.2 6l-3.8 6.3l-4.3 4.7l-5.7 4.3l-6 2.9l-7.1 1.7l-7 .3l-7 -1.2l-6 -2.3l-6 -3.7l-5 -4.7l-3.9 -5.3l-2.8 -6l-1.8 -7l-.3 -7.1l1.1 -7l2.1 -6l3.6 -6.1l4.3 -4.9l5.7 -4.4l6 -2.9z"/>
<path fill="#60ff9f" fill-rule="evenodd" d="M419.4 527.4l7 -.6l6 .7l6.1 1.9l6 3.3l5 4.3l4 5.1l3 6l1.8 6.3l.4 7.1l-.7 6l-1.9 6l-3.3 6l-4.3 5l-5 4l-6 3.1l-6.1 1.7l-7 .5l-6 -.8l-6 -2l-6 -3.4l-4.7 -4.1l-3.9 -5l-3.1 -6l-1.7 -6l-.5 -6l.7 -7.1l1.8 -6l3.2 -6l4.2 -5l5 -4.1l6 -3.2z"/>
<path fill="#75ff8a" fill-rule="evenodd" d="M420.4 529.3l6 -.4l6 .7l6.1 2l5 2.9l4.5 3.9l3.9 5l2.9 6l1.6 6l.3 7.1l-1 6l-2.2 5.8l-3 4.9l-4 4.4l-5 3.7l-5.1 2.4l-6 1.6l-6 .4l-6 -.8l-6 -2.2l-5 -3l-4.7 -4.2l-3.3 -4.4l-2.8 -5.6l-1.6 -6l-.4 -6.1l.7 -6l2 -6l3.1 -5.4l4 -4.7l5 -3.8l5 -2.5z"/>
<path fill="#8aff75" fill-rule="evenodd" d="M422.4 531.3l6 -.1l5 1l5.7 2.2l4.6 3l4.1 4l3.3 5l2.1 5l1.2 6l0 6.1l-1 5l-2 5l-3.2 5l-3.9 4l-4.8 3.4l-5.1 2.1l-6 1.3l-6 -.1l-5 -1l-5 -2l-5 -3.4l-4 -4l-3 -4.5l-2.1 -4.8l-1.3 -6l-.1 -6.1l1.3 -6l2.1 -5l3.1 -4.6l4 -4.1l4.9 -3.3l5.1 -2.1z"/>
<path fill="#9fff60" fill-rule="evenodd" d="M420.4 534.1l5 -.5l5 .4l5 1.4l5.1 2.6l4 3.3l3.3 4.1l2.6 5l1.4 5l.4 5.1l-.7 5.7l-1.8 5.3l-2.3 4l-3.5 4l-3.7 3l-4.8 2.5l-5 1.4l-5 .5l-5 -.6l-5 -1.5l-4.2 -2.3l-3.8 -3.1l-3.3 -3.9l-2.7 -5l-1.5 -5l-.5 -5l.4 -5.1l1.4 -5l2.6 -5l3.3 -4l3.5 -3l4.8 -2.7z"/>
<path fill="#b5ff4a" fill-rule="evenodd" d="M424.4 536.4l5 .2l4 1l4.1 1.7l4 2.8l3.1 3.3l2.5 4l1.5 4l.9 5l-.2 5.1l-1 4l-1.8 4.2l-3 4.2l-3 2.9l-4.1 2.5l-4 1.6l-5 .9l-5 -.2l-4 -.9l-4 -1.8l-4 -2.8l-3.3 -3.6l-2.5 -4l-1.4 -4l-.8 -5l.2 -5.1l1 -4l1.8 -4l2.9 -4l3.1 -3l4 -2.5l4 -1.6z"/>
<path fill="#caff35" fill-rule="evenodd" d="M421.4 540.1l4 -.6l4 .2l4 1.1l3.5 1.6l5.6 5l2.4 4l1.3 4l.4 4l-.3 4.1l-1.2 4l-1.6 3.2l-2.1 2.8l-3.4 3l-3.6 2l-4 1.4l-4 .4l-4 -.3l-4 -1.2l-3 -1.5l-3.5 -2.8l-2.5 -3l-2 -3.9l-1 -3.1l-.4 -4l.3 -4.1l2.6 -7l2.5 -3.3l3 -2.7l3.4 -2z"/>
<path fill="#dfff20" fill-rule="evenodd" d="M424.4 543.3l6 .1l6 2.6l4.3 4.4l2.4 6l0 6.1l-.9 3l-1.7 3.3l-2.3 2.7l-2.8 2.1l-6 2.2l-6 -.1l-6 -2.6l-4.4 -4.6l-2.3 -6l.1 -6.1l2.6 -6.1l2.5 -2.9l2.5 -1.9z"/>
<path fill="#f4ff0b" fill-rule="evenodd" d="M425.4 547.4l5 0l4 1.8l3.3 3.2l1.7 4l0 5.1l-1.6 4l-3.4 3.5l-4 1.8l-5 0l-4 -1.6l-3.7 -3.7l-1.6 -4l0 -5.1l1.8 -4l3.5 -3.4z"/>
<path fill="#fff400" fill-rule="evenodd" d="M427.4 552.4l2 0l2.6 1l1.9 2l.8 2l-.1 3.1l-1 2l-2.2 1.8l-2 .6l-3 -.3l-1.9 -1.1l-1.5 -2l-.7 -2.1l.1 -2l1 -2.5l1.5 -1.5z"/>
</g>
</g>
<g clip-path="url(#cp12)">
<g filter="url(#bl)">
<rect x="506.6" y="461.3" width="200.4" height="197.3" fill="#00008a"/>
<path fill="#00009f" fill-rule="evenodd" d="M616.8 482.3l7 -.1l8.1 .8l8 1.7l7 2.3l7 3.1l7 4l6 4.3l5.8 5l9.6 11l4.5 7l3.6 7l3.1 8l2 7l1.5 8l.8 8l-.7 15.1l-1.4 8l-2.3 8l-3.2 8l-3.6 7l-4.6 7l-4.8 6l-5.3 5.5l-6 5l-6 4.2l-7 3.8l-7 3l-7 2.1l-8.1 1.6l-7 .7l-8 -.1l-8 -1l-7 -1.6l-7 -2.3l-7 -3.2l-7.1 -4l-6 -4.4l-5.9 -5.3l-5.5 -6l-4.5 -6l-4.3 -7l-3.4 -7l-3 -8l-1.8 -7l-1.9 -15l.1 -8.1l.8 -8l1.6 -8l2.1 -7l2.8 -7l3.6 -7l4.5 -7l4.8 -6l5 -5.2l6 -5.2l6 -4.2l7.1 -4l7 -3l7 -2.2l8 -1.7z"/>
<path fill="#0000b5" fill-rule="evenodd" d="M616.8 490.2l13 .5l13.1 3.2l7 2.9l6 3.4l11 8.4l5 5.1l4.5 5.7l7 12l2.8 7l2 7l2 14l-.5 14.1l-3.3 14l-5.7 13l-3.8 6l-4.7 6l-4.8 5l-5.5 4.8l-6 4.1l-6 3.3l-12 4.5l-7.1 1.5l-7 .7l-13 -.6l-7 -1.4l-7 -2.3l-12 -6l-11 -8.6l-4.8 -5l-4.7 -6l-6.8 -12l-4.5 -13l-2 -14l.5 -14.1l1.5 -8l2 -7l5.9 -13l7.8 -11l10 -9.7l6.1 -4.2l6 -3.4l7 -3l6 -1.9z"/>
<path fill="#0000ca" fill-rule="evenodd" d="M616.8 495.3l13 .5l12.1 3.1l12 5.9l10 7.7l8.6 9.9l6.9 12l4.1 12l1.9 13l-.6 14.1l-3.2 13l-5.4 12l-7.3 10.3l-5 5.3l-5 4.2l-11 6.8l-11 4.2l-13.1 2.1l-12 -.6l-12 -2.9l-12 -5.8l-10.1 -7.6l-8.8 -10l-6.5 -11l-4.4 -12l-1.4 -7l-.8 -7l.4 -13.1l2.9 -13l5.2 -12l7.5 -11l8.9 -8.9l11.1 -7.3l12 -4.7l7 -1.6z"/>
<path fill="#0000df" fill-rule="evenodd" d="M616.8 499.1l12 .5l12.1 3l11 5.4l9 6.9l8 8.9l6.4 10.6l4.4 12l2.1 13l-.6 13.1l-2.8 12l-5.3 12l-7.1 10l-9.1 8.6l-10 6.3l-11 4.2l-12.1 1.9l-12 -.5l-11 -2.8l-11 -5.3l-10.1 -7.7l-8.4 -9.7l-6.2 -11l-4 -12l-1.7 -12l.7 -13.1l2.9 -12l5 -11l7 -10l8.8 -8.5l10 -6.4l11 -4.4z"/>
<path fill="#0000f4" fill-rule="evenodd" d="M616.8 502.2l11 .4l11.1 2.6l10 4.6l10 7.4l8.2 9.2l5.8 10l4 11l1.9 12l-.4 12.1l-2.8 12l-4.3 10l-6.8 10l-8.6 8.5l-10 6.4l-11 4.2l-11.1 1.8l-11 -.5l-11 -2.7l-11 -5.3l-9.1 -7l-8 -9.2l-5.8 -10.2l-3.8 -11l-1.7 -12l.5 -12.1l2.6 -11l4.8 -11l7 -10l8.5 -8.1l10 -6.4l10 -3.8z"/>
<path fill="#000bff" fill-rule="evenodd" d="M615.8 505.0l11 .2l11.1 2.5l10 4.6l8.4 6.1l7.6 8.1l6.2 9.9l4.1 11l1.9 11l-.2 12.1l-2.3 11l-4.2 10l-6.5 9.9l-8 8l-9 6l-10 4.2l-11.1 2l-11 -.2l-10 -2.3l-10 -4.5l-9 -6.5l-8 -8.6l-5.5 -9l-4.2 -11l-2 -11l.2 -12.1l2.2 -11l4.6 -11l6.1 -9l7.6 -7.8l9 -6.1l10 -4.3z"/>
<path fill="#0020ff" fill-rule="evenodd" d="M616.8 507.3l11 .4l10.1 2.5l10 4.8l8 6.1l7.3 8.3l5.3 9l3.7 10l1.7 11l-.3 11.1l-2.4 11l-4.4 10l-6.2 9l-7.7 7.5l-9 5.8l-10 3.9l-10.1 1.6l-11 -.5l-10 -2.6l-9 -4.3l-8.4 -6.4l-7.2 -8l-5.4 -9l-3.7 -10l-1.8 -11l.2 -11.1l2.4 -11l4.3 -10l6.1 -9l7.5 -7.4l9 -6l10 -3.9z"/>
<path fill="#0035ff" fill-rule="evenodd" d="M618.8 509.3l10 .7l10.1 2.8l9 4.7l8 6.5l6.9 8.4l4.8 9l3.2 10l1.2 10.1l-.7 11l-2.6 10l-4.2 9l-6.6 9l-8 7.2l-9 5.2l-9 3.1l-10.1 1.3l-10 -.8l-9 -2.5l-9 -4.6l-8.5 -6.9l-6.7 -8l-5.3 -10l-3 -10l-1.1 -10l.7 -10.1l2.5 -10l4.8 -10l5.9 -8l7.7 -7.1l9 -5.4l9 -3.2z"/>
<path fill="#004aff" fill-rule="evenodd" d="M618.8 511.3l10 .7l9.1 2.5l9 4.7l7.6 6.2l6 7l5.1 9l3.2 10l1.3 10.1l-.6 10l-2.5 10l-4.2 9l-5.9 8.2l-7.3 6.8l-8.7 5.3l-9 3.2l-10.1 1.3l-10 -.8l-9 -2.6l-8.3 -4.4l-7.7 -6.2l-6.6 -7.8l-4.9 -9l-3.1 -10l-1.1 -10l.7 -10.1l2.6 -10l4.4 -9l5.9 -8l7.1 -6.4l8 -4.9l9 -3.3z"/>
<path fill="#0060ff" fill-rule="evenodd" d="M616.8 513.2l10 .3l9.1 2.2l9 4.3l7 5.3l6.4 7.1l4.9 8l3.4 9l1.7 10l-.2 10.1l-1.9 9l-3.7 9l-5.6 8.5l-7 7l-8 5.3l-9 3.5l-9.1 1.6l-9 -.3l-9 -2l-9 -4.3l-7.2 -5.3l-6.5 -7l-4.9 -8l-3.5 -9l-1.8 -10l.2 -10.1l2.1 -10l3.9 -9l5.4 -8l6.3 -6.3l8 -5.5l9 -3.7z"/>
<path fill="#0075ff" fill-rule="evenodd" d="M615.8 515.0l9 0l9.1 1.8l8 3.4l8 5.6l6.3 6.6l5.1 8l3.6 9l1.7 9l-.1 10.1l-1.7 9l-3.6 9l-5.2 8l-6.1 6.3l-8 5.6l-8 3.4l-9.1 1.8l-9 0l-8 -1.7l-8 -3.3l-8 -5.4l-6.6 -6.7l-5.2 -8l-3.6 -9l-1.7 -9l-.1 -10.1l1.7 -9l3.6 -9l4.9 -7.7l6 -6.4l8 -5.8l8 -3.5z"/>
<path fill="#008aff" fill-rule="evenodd" d="M614.8 516.8l9 -.3l8.1 1.4l8 3.1l8 5.2l6.3 6.2l5.4 8l3.4 8l1.9 9l.2 10.1l-1.6 9l-3 8l-4.9 8l-5.7 6.2l-7 5.3l-8 3.8l-9.1 2.1l-9 .1l-8 -1.5l-8 -3.2l-7.4 -4.8l-6.6 -6.6l-5 -7.4l-3.5 -8l-2 -9l-.3 -9l1.4 -9.1l3.2 -9l4.8 -8l6.4 -6.9l7 -5.1l8 -3.7z"/>
<path fill="#009fff" fill-rule="evenodd" d="M615.8 518.2l9 -.1l8.1 1.7l8 3.4l7 4.9l6 6.3l4.6 7l3.2 8l1.9 9l0 9.1l-1.7 9l-3.1 8l-4.9 7.7l-6 6.3l-7 4.9l-8 3.4l-8.1 1.7l-9 -.1l-8 -1.8l-8 -3.5l-6.5 -4.6l-5.8 -6l-4.6 -7l-3.3 -8l-1.9 -9l-.2 -9.1l1.7 -9l3 -8l4.6 -7.3l6 -6.5l7 -5.1l8 -3.5z"/>
<path fill="#00b5ff" fill-rule="evenodd" d="M614.8 519.8l8 -.3l8 1.2l8.1 3.1l7 4.5l6.2 6.1l4.8 7l3.4 8l1.7 8l.3 9.1l-1.3 8l-2.8 8l-4.3 7.4l-5.9 6.6l-6.1 4.6l-8 3.8l-8.1 2l-8 .2l-8 -1.4l-8 -3.2l-7 -4.7l-5.4 -5.3l-4.9 -7l-3.5 -8l-1.8 -8l-.3 -9l1.2 -8.1l2.7 -8l4.7 -8l5.4 -6l6.9 -5.2l7 -3.4z"/>
<path fill="#00caff" fill-rule="evenodd" d="M615.8 521.1l8 -.2l8.1 1.6l7 2.9l7 4.7l5.2 5.3l4.8 7l3.3 8l1.6 8l.2 8.1l-1.3 8l-3 8l-4.2 7l-5.6 6.1l-7 5.1l-7 3.1l-8.1 1.8l-8 0l-8 -1.6l-7 -3.1l-6.5 -4.4l-5.5 -5.7l-4.3 -6.3l-3.4 -8l-1.7 -8l-.2 -8l1.3 -8.1l2.8 -8l4.5 -7.3l5.1 -5.7l6.9 -5.2l7 -3.2z"/>
<path fill="#00dfff" fill-rule="evenodd" d="M617.8 522.3l8 .2l7.1 1.7l7 3.3l6.6 4.9l5.3 6l4.1 7l2.5 7l1.3 8.1l-.2 8l-1.8 8l-3 7l-4.7 7l-5.1 5.1l-7 4.6l-7.1 2.8l-8 1.4l-8 -.4l-7 -1.8l-7 -3.4l-6 -4.6l-5.2 -5.7l-4.1 -7l-2.9 -8l-1.1 -8l.3 -8.1l1.6 -7l2.9 -7l4.6 -7l5.9 -5.8l6 -3.9l7 -2.9z"/>
<path fill="#00f4ff" fill-rule="evenodd" d="M614.8 523.9l8 -.3l7 1.1l7.1 2.6l6 3.8l5.7 5.3l4.3 6l3.2 7l2 8l.4 8.1l-1.2 8l-2.5 7l-3.9 6.8l-5 5.7l-6 4.6l-7 3.4l-7.1 1.7l-8 .3l-7 -1.2l-7 -2.8l-6 -3.9l-5.8 -5.6l-4.1 -6l-3.1 -7l-1.7 -7l-.4 -8l1.2 -8.1l2.4 -7l4 -7l4.5 -5.3l6 -4.8l7 -3.5z"/>
<path fill="#0bfff4" fill-rule="evenodd" d="M615.8 525.1l7 -.3l7 1.2l7.1 2.8l6 3.9l5.7 5.7l4 6l2.9 7l1.5 7l.2 8.1l-1.2 7l-2.6 7l-4.2 7l-5.3 5.6l-6 4.2l-6 2.7l-7.1 1.6l-7 .1l-7 -1.3l-7 -2.8l-6 -4.1l-5 -5l-4 -6l-3 -7l-1.6 -7l-.2 -8l1.1 -7.1l2.5 -7l4.2 -6.9l5 -5.5l6 -4.4l6 -2.8z"/>
<path fill="#20ffdf" fill-rule="evenodd" d="M616.8 526.2l7 0l7 1.4l6.1 2.6l6 4.1l5 5.1l3.8 6l2.9 7l1.3 7l0 8.1l-1.4 7l-2.9 7l-3.7 5.6l-5 5.2l-6 4.1l-6.1 2.6l-7 1.4l-7 0l-7 -1.6l-6 -2.7l-6 -4.3l-5 -5.3l-3.7 -6l-2.4 -6l-1.4 -7l-.1 -7l1.2 -7.1l2.5 -7l3.9 -6.2l5 -5.4l6 -4.3l6 -2.7z"/>
<path fill="#35ffca" fill-rule="evenodd" d="M618.8 527.3l7 .4l6.1 1.6l6 2.9l5.6 4.2l4.4 5l3.5 6l2.5 7l1 7.1l-.3 7l-1.7 7l-3 6.6l-4 5.6l-5 4.7l-6 3.7l-6.1 2.2l-7 1l-7 -.5l-6 -1.7l-6 -3l-5.8 -4.6l-4.2 -5l-3.3 -6l-2.3 -7l-.9 -7l.4 -7.1l1.8 -7l2.9 -6l4.4 -6l5 -4.5l5.8 -3.5l6.2 -2.2z"/>
<path fill="#4affb5" fill-rule="evenodd" d="M615.8 528.8l7 -.2l6 1l6.1 2.3l5.6 3.5l4.4 4.2l4.2 5.8l2.7 6l1.6 7l.3 7.1l-1.1 7l-2.2 6l-3.5 6l-4.5 5l-5.5 4.1l-6.1 2.8l-6 1.4l-7 .2l-6 -1.1l-6 -2.4l-5 -3.3l-4.9 -4.7l-3.6 -5l-2.8 -6l-1.7 -7l-.3 -7l1 -7.1l2.1 -6l3.5 -6l4.3 -5l5.4 -4.1l6 -2.9z"/>
<path fill="#60ff9f" fill-rule="evenodd" d="M615.8 530.1l7 -.3l6 1l6.1 2.4l4.9 3.2l5.1 5l3.4 5l2.6 6l1.4 6l.3 7.1l-.9 6l-2.1 6l-3.4 6l-4.3 4.9l-5 3.9l-6.1 2.9l-6 1.4l-6 .3l-6 -1l-6 -2.3l-5 -3.1l-5 -4.7l-3.7 -5.3l-2.7 -6l-1.4 -6l-.4 -7l.9 -6.1l1.9 -6l3.4 -6l4 -4.7l5 -4l6 -3.1z"/>
<path fill="#75ff8a" fill-rule="evenodd" d="M616.8 531.1l6 -.2l6 1.1l6.1 2.5l5 3.4l4.3 4.5l3.3 5l2.5 6l1.3 6l0 7.1l-1.1 6l-2.3 6l-3.1 5l-3.9 4.3l-5 3.7l-6.1 2.7l-6 1.4l-6 0l-6 -1.2l-5 -2.1l-5 -3.3l-4.6 -4.5l-3.4 -5l-2.5 -6l-1.3 -6l-.2 -7l1.1 -6.1l2.2 -6l3.1 -5l4.6 -5l5 -3.6l5 -2.3z"/>
<path fill="#8aff75" fill-rule="evenodd" d="M616.8 532.3l6 -.2l6 1.2l5.1 2l5 3.3l4 4l3.3 4.8l2.6 6l1.3 6l.2 6.1l-1 6l-2.2 6l-3 5l-4.2 4.6l-5 3.6l-5.1 2.3l-6 1.4l-6 0l-6 -1.2l-5 -2.2l-5 -3.5l-4 -4.1l-3.2 -4.9l-2.1 -5l-1.4 -6l-.2 -6l.9 -6.1l2.1 -6l3 -5l3.9 -4.4l5 -3.8l5 -2.4z"/>
<path fill="#9fff60" fill-rule="evenodd" d="M618.8 533.3l6 .2l5 1.3l5.1 2.4l5 3.8l3.7 4.4l2.9 5l1.8 5l.9 6.1l-.2 6l-1.4 6l-2.3 5l-3.4 5l-4 3.8l-5 3.2l-5.1 1.9l-6 1l-6 -.4l-5 -1.4l-5 -2.5l-4.5 -3.6l-3.5 -4l-3 -5.2l-2 -5.8l-.8 -6l.3 -6.1l1.2 -5l2.3 -5.1l3.3 -4.9l4.1 -4l4.6 -3l5 -2.1z"/>
<path fill="#b5ff4a" fill-rule="evenodd" d="M619.8 534.4l6 .5l5 1.6l5.1 2.7l3.7 3.2l3.4 4l2.7 5l1.6 5l.8 6.1l-.4 6l-1.3 5l-2.5 5.2l-3.6 4.8l-4.4 3.9l-4 2.3l-5.1 1.8l-6 .7l-6 -.6l-5 -1.7l-5 -2.9l-3.9 -3.5l-3.1 -4l-2.6 -5l-1.5 -5l-.6 -6l.5 -6.1l1.5 -5l2.5 -5l3.2 -4.2l4 -3.6l5 -2.9l5 -1.7z"/>
<path fill="#caff35" fill-rule="evenodd" d="M615.8 536.0l5 -.4l5 .5l5 1.6l5.1 3l4 3.6l3 4.1l2.4 5l1.3 5l.4 6.1l-.6 5l-1.6 5l-2.7 5l-3.2 3.8l-4 3.3l-5.1 2.7l-5 1.4l-5 .3l-5 -.6l-5 -1.8l-4 -2.3l-4 -3.5l-3.3 -4.3l-2.5 -5l-1.4 -5l-.4 -6l.6 -5.1l1.5 -5l2.6 -5l3.3 -4l3.6 -3.1l5 -2.8z"/>
<path fill="#dfff20" fill-rule="evenodd" d="M616.8 537.0l5 -.2l5 .8l5.1 1.9l4 2.6l3.4 3.3l2.9 4l2.2 5l1.2 5l.2 6.1l-.8 5l-1.9 5l-2.4 4l-3.7 4l-4.1 3l-4.1 1.9l-5 1.2l-5 .2l-5 -.9l-4 -1.6l-4.4 -2.8l-3.6 -3.5l-3 -4.3l-1.9 -4.2l-1.3 -5l-.3 -5l.6 -5.1l1.6 -5l2.8 -5l3.5 -3.9l4 -3.1l4 -2z"/>
<path fill="#f4ff0b" fill-rule="evenodd" d="M616.8 538.3l5 -.3l4 .5l5 1.8l4.1 2.5l3.7 3.6l2.8 4l1.8 4l1.3 5l.2 5.1l-.7 5l-1.7 5l-2.4 4l-3 3.5l-4 3.2l-4.1 1.9l-5 1.3l-5 .2l-4 -.7l-5 -1.9l-3.8 -2.5l-3.2 -3.1l-2.8 -3.9l-1.9 -4l-1.3 -5l-.3 -5l.6 -5.1l1.7 -5l2.2 -4l2.8 -3.3l4 -3.3l4 -2.1z"/>
<path fill="#fff400" fill-rule="evenodd" d="M617.8 539.3l5 0l4 .8l4 1.6l4.1 2.6l3 3.1l2.7 4l1.8 4l1 5.1l.1 5l-.7 4l-1.8 5l-2.5 4l-2.8 3l-4.1 3l-4.6 2l-4.2 .8l-5 0l-4 -.9l-4 -1.8l-4 -2.8l-3.1 -3.3l-2.5 -4l-1.6 -4l-.9 -5l.1 -5l.7 -4.1l1.6 -4l2.7 -4.4l3 -3.2l4 -2.8l4 -1.8z"/>
<path fill="#ffdf00" fill-rule="evenodd" d="M619.8 540.4l4 .2l4 1.1l4.1 2l3.5 2.7l2.6 3l2.3 4l1.4 4l.7 5.1l-.3 5l-1.1 4l-2.1 4.4l-2.8 3.6l-3.2 2.8l-4.1 2.2l-4 1.3l-4 .4l-4 -.3l-4.5 -1.4l-3.6 -2l-3.6 -3l-2.4 -3l-2.1 -4l-1.3 -4l-.5 -5l.5 -5.1l1.2 -4l2 -4l2.3 -3l3.4 -3l3.6 -2.1l4 -1.4z"/>
<path fill="#ffca00" fill-rule="evenodd" d="M616.8 542.0l4 -.4l4 .5l4 1.3l3.5 2l3.3 3l2.3 3l1.9 4l1.1 4l.3 4.1l-.3 4l-1.2 4l-2 4l-2.8 3.5l-3.1 2.5l-4 2.1l-4 1.1l-4 .3l-4 -.6l-4 -1.5l-3 -1.8l-2.9 -2.6l-2.4 -3l-2 -4l-1.2 -4l-.3 -4l.3 -4.1l1.1 -4l1.9 -4l2.5 -3.2l3.1 -2.8l3.9 -2.2z"/>
<path fill="#ffb500" fill-rule="evenodd" d="M617.8 543.1l7 .3l4 1.5l3.1 1.8l2.9 2.7l2.2 3l1.9 4l.9 4.1l.2 4l-.6 4l-1.5 4l-2 3.4l-3 3.2l-3.1 2.1l-3 1.4l-4 .9l-7 -.5l-4 -1.5l-3 -2l-3 -3l-2 -3l-1.7 -4l-.8 -4l0 -4l.7 -4.1l1.6 -4l2 -3l5.2 -4.7l3 -1.5z"/>
<path fill="#ff9f00" fill-rule="evenodd" d="M618.8 544.3l4 .1l3 .7l6.1 3.3l2.9 3l1.9 3l1.9 7.1l0 4l-.7 3.6l-3.4 6.4l-2.6 2.7l-3.1 2.1l-3 1.2l-4 .8l-4 -.2l-3 -.8l-6 -3.5l-2.9 -3.3l-1.7 -3l-1.7 -7l.8 -7.1l1.5 -3.4l2 -3l5.4 -4.6z"/>
<path fill="#ff8a00" fill-rule="evenodd" d="M616.8 546.1l3 -.4l4 .3l5.8 2.4l2.5 2l2.4 3l2.5 6l.1 7.1l-2.2 6.1l-2.1 2.9l-3 2.5l-6 2.6l-6 .1l-6 -2.4l-4.9 -4.8l-2.6 -6l-.3 -7l2.1 -6.1l2.1 -3l2.6 -2.4z"/>
<path fill="#ff7500" fill-rule="evenodd" d="M618.8 547.2l6 .5l5.1 2.7l4.2 5l1.8 6.1l-.4 6l-2.9 6l-4.8 4.1l-6 1.8l-6 -.7l-5.3 -3.2l-3.7 -5l-1.6 -6l.7 -6.1l2.9 -5.5l4 -3.6z"/>
<path fill="#ff6000" fill-rule="evenodd" d="M617.8 549.0l6 .1l4.9 2.3l3.6 4l1.9 5.1l0 6l-2.1 5l-4.3 4.3l-5 1.9l-5 -.1l-5 -2.2l-4 -4.4l-2 -5.5l.2 -5l1.9 -5.1l3.9 -4.2z"/>
<path fill="#ff4a00" fill-rule="evenodd" d="M620.8 550.4l5 1.2l3.7 2.8l2.5 4l.9 5.1l-1 5l-2.7 4l-4.4 2.9l-4 .8l-5 -1l-3.8 -2.7l-2.7 -4l-1 -5l.9 -5.1l2.6 -4.1l4 -2.9z"/>
<path fill="#ff3500" fill-rule="evenodd" d="M619.8 552.4l4 .5l4 2.5l2.2 3l1 4.1l-.4 4l-2.1 4l-3.7 2.8l-4 1l-4 -.8l-3.2 -2l-2.7 -4l-.7 -4l.6 -4.1l2 -3.4l3 -2.5z"/>
<path fill="#ff2000" fill-rule="evenodd" d="M617.8 555.1l3 -.5l3.4 .8l2.5 2l1.7 3.1l.4 4l-.9 3l-2.1 2.5l-3 1.7l-3 .3l-3 -1l-2.1 -1.5l-1.9 -3.2l-.4 -3.8l.8 -3.1l1.6 -2.3z"/>
<path fill="#ff0b00" fill-rule="evenodd" d="M618.8 557.9l2 -.3l2 .5l1.8 1.3l1.1 2.1l.2 3l-.8 2l-1.3 1.3l-2 1l-2 .1l-2 -.7l-1.7 -1.7l-.8 -2l0 -2l.6 -2z"/>
</g>
</g>
<g clip-path="url(#cp13)">
<g filter="url(#bl)">
<rect x="701.0" y="461.3" width="200.4" height="197.3" fill="#00008a"/>
<path fill="#00009f" fill-rule="evenodd" d="M814.2 477.2l8 .2l8.1 1.2l8 2.2l6 2.3l7 3.5l7 4.5l6 4.9l5.5 5.4l5.1 6l4.8 7l7.1 14l3 9l1.9 8l1.2 8l.4 8.1l-.3 9l-1 8l-4.1 15l-2.9 7l-4.2 8l-4.6 7l-4.9 6.1l-5 5.2l-6 5.2l-6 4.2l-7 3.9l-7 3l-7 2.2l-8.1 1.5l-8 .6l-8 -.3l-7 -1l-8 -2.1l-7 -2.7l-6 -3l-7.1 -4.5l-6 -4.8l-5.6 -5.5l-5.1 -6l-4.9 -7l-3.9 -7l-3.2 -7l-2.7 -8l-2 -8l-1.2 -8l-.5 -9l.3 -9.1l1 -8l1.5 -7l2.7 -9l2.9 -7l4.3 -8l8.7 -12l10.7 -10.3l6.1 -4.4l7 -4l7 -3l8 -2.5l7 -1.4z"/>
<path fill="#0000b5" fill-rule="evenodd" d="M812.2 483.0l7 0l7.1 .7l7 1.6l7 2.3l7 3.3l6 3.6l6 4.5l5 4.6l5.2 5.8l4.4 6l7 13l3 8l1.9 7l1.5 8l.7 8l-.1 8.1l-.9 8l-3.4 14l-2.7 7l-4.1 8l-8.4 12l-5.1 5.4l-6 5.3l-6 4.2l-6 3.4l-7 2.9l-7 2.2l-13.1 1.7l-13 -.8l-7 -1.6l-7 -2.4l-6 -2.8l-7 -4.3l-10.8 -9.2l-5.3 -6l-4.3 -6l-6.9 -13l-4.5 -14l-1.4 -8l-.7 -8l.1 -8.1l.8 -8l3.3 -14l6 -14l8 -12l5.5 -6l5.1 -4.8l6.1 -4.4l6 -3.6l6 -2.8l7 -2.4l7 -1.6z"/>
<path fill="#0000ca" fill-rule="evenodd" d="M811.2 486.7l13 .3l7.1 1.4l7 2.2l12 6.1l6 4.3l5 4.5l9.2 10.9l4.3 7l3 6l3 8l1.9 7l2 14l0 7.1l-.6 8l-3.3 14l-2.7 7l-3.4 7l-8.2 12l-5.2 5.6l-5 4.4l-11 7.3l-7 3.2l-6 1.9l-13.1 2.1l-13 -.7l-6 -1.3l-7 -2.3l-6 -2.7l-6 -3.5l-6.1 -4.5l-4.8 -4.5l-9 -11l-6.7 -12l-4.8 -14l-2.1 -15l.6 -15.1l3.1 -14l5.3 -13l7.8 -12l9.6 -10.1l11.1 -7.7l6 -3l7 -2.5l6 -1.5z"/>
<path fill="#0000df" fill-rule="evenodd" d="M814.2 489.3l12.1 .8l7 1.7l6 2.1l6 2.9l6 3.8l10 8.6l4.5 5.2l4.3 6l6.6 13l4 13l1.6 14.1l-.9 14l-3.6 14l-6.1 13l-7.8 11l-9.6 9.3l-6 4.2l-6 3.3l-6 2.5l-7 2.1l-12.1 1.4l-7 -.2l-6 -.9l-12 -3.8l-11 -6.2l-10.1 -8.7l-8.6 -11l-6.8 -13l-4.2 -14l-1.4 -14l.2 -8.1l1 -7l3.4 -13l6.1 -13l7.9 -11l9.5 -8.9l11 -7l12 -4.4l6 -1.2z"/>
<path fill="#0000f4" fill-rule="evenodd" d="M811.2 491.7l7 -.1l6 .5l12.1 3.1l6 2.6l6 3.4l10 8.1l8.6 10.1l6.7 12l4.5 13l2.1 14l-.6 14.1l-3 13l-5.6 13l-7.4 11l-9.3 9.4l-11 7.4l-12 4.7l-12.1 1.9l-12 -.5l-12 -3.2l-11 -5.7l-9.8 -8l-9.2 -11l-6.7 -12l-4.1 -12l-2.1 -14l.5 -14.1l2.8 -13l5.4 -13l7.1 -10.9l9.1 -9.4l10 -7l6 -2.9l6 -2.2z"/>
<path fill="#000bff" fill-rule="evenodd" d="M811.2 493.8l12 .2l12.1 3l11 5.3l10.4 8.1l8.6 10l6.8 12l4.4 13l1.9 13l-.4 13.1l-3 13l-5 12l-7.7 11.5l-9 9.2l-10 6.8l-6 2.8l-6 2.1l-12.1 2l-12 -.6l-11 -2.9l-11 -5.7l-9.1 -7.3l-9 -10.9l-6.8 -12l-4.2 -12l-2 -13l.4 -13.1l2.7 -13l4.9 -12l7 -11.1l9.1 -9.5l10 -6.9l11 -4.8z"/>
<path fill="#0020ff" fill-rule="evenodd" d="M811.2 495.6l12 .3l11.1 2.6l11 5.3l10 7.7l8.6 9.9l6.3 11l4.6 13l2 13l-.5 13.1l-2.7 12l-5 12l-7.3 11l-9 9.2l-10 6.8l-11 4.5l-12.1 2.1l-11 -.5l-11 -2.8l-10 -5l-9.2 -7.3l-8.9 -10.5l-7 -11.9l-4.2 -11.6l-2.1 -13l.4 -13.1l2.5 -12l4.8 -12l7 -11l8.6 -9l9.1 -6.5l11 -4.9z"/>
<path fill="#0035ff" fill-rule="evenodd" d="M814.2 497.1l11 .8l11.1 3.2l11 6l9 7.6l7.7 9.7l5.9 11l3.8 12l1.7 13.1l-.9 13l-3.2 12l-5.7 12l-7.2 10l-9.1 8.5l-10 6.1l-11 3.9l-11.1 1.4l-11 -.9l-11 -3.4l-9 -5.1l-8.5 -7.5l-8.6 -11l-6.7 -12l-3.8 -12l-1.3 -12l.9 -13.1l3.1 -12l5 -11l7.1 -10l8.8 -8.4l10 -6.3l11 -4z"/>
<path fill="#004aff" fill-rule="evenodd" d="M811.2 498.9l11 .2l11.1 2.6l11 5.2l9 7l8.3 9.5l6.3 11l4.2 12l1.8 12l-.4 12.1l-2.7 12l-5.1 12l-6.8 10l-8.6 8.7l-9 6.1l-11 4.5l-11.1 1.9l-11 -.5l-10 -2.6l-9 -4.6l-8 -6.5l-9.1 -11l-7.3 -12l-4.1 -11l-1.9 -12l.5 -12.1l2.6 -12l4.5 -11l6.5 -10l8.3 -8.6l9 -6.3l10 -4.3z"/>
<path fill="#0060ff" fill-rule="evenodd" d="M814.2 500.3l11 .8l10.1 2.9l10 5.4l9 7.5l7.6 9.5l5.8 11l3.5 11l1.5 12.1l-.8 12l-3.2 12l-5.3 11l-7.1 9.8l-8 7.6l-10 6.2l-10 3.7l-11.1 1.4l-10 -.7l-9.8 -3l-8.2 -4.5l-7.5 -6.5l-10.6 -14l-6 -10.4l-3.5 -10.6l-1.4 -11l.8 -12.1l3 -12l5.1 -11l6.5 -9l8.4 -8l9.2 -5.8l10 -3.7z"/>
<path fill="#0075ff" fill-rule="evenodd" d="M812.2 501.9l11 .4l10.1 2.5l10 5l9 7.1l7.3 8.5l6.3 11l3.7 11l1.7 12l-.6 12.1l-2.7 11l-5 11l-6.7 9.7l-8 7.8l-9 6l-10 3.9l-11.1 1.8l-10 -.6l-9 -2.5l-8 -4.2l-7 -5.9l-5.6 -7l-11.8 -18l-3.7 -10l-1.4 -10l.4 -11.1l2.4 -11l4.6 -11l6 -9.3l8.1 -8.2l9 -6.1l10 -4.1z"/>
<path fill="#008aff" fill-rule="evenodd" d="M814.2 503.2l11 .9l10.1 3.1l9 4.9l8.6 7.3l7.2 9l5.2 10l3.5 11l1.3 11.1l-.7 11l-2.8 11l-5.1 11l-6.4 9l-8.4 8l-9.4 5.9l-10 3.5l-10.1 1.3l-9 -.6l-9 -2.6l-7 -3.8l-6.4 -5.7l-15.7 -22.2l-2.7 -4.8l-3.2 -9l-1.2 -10l.7 -11.1l2.9 -11l4.6 -10l6.4 -9l7.6 -7.3l9 -5.7l10 -3.7z"/>
<path fill="#009fff" fill-rule="evenodd" d="M811.2 504.9l10 0l10.7 2.5l9.4 4.4l8.7 6.6l7.3 8.3l5.8 9.7l4 11l1.7 11l-.3 11.1l-2.5 11l-4.3 10l-6.4 9.6l-7.2 7.4l-8.8 6.2l-10 4.2l-10.1 1.8l-9 -.3l-8 -1.9l-7 -3.3l-6 -4.7l-4.6 -6l-5.6 -11l-6.9 -7.4l-3 -4.4l-3 -7.2l-1.6 -9l.2 -10.1l2.3 -11l4.1 -10l5.8 -9l7.3 -7.7l8 -5.7l9 -4z"/>
<path fill="#00b5ff" fill-rule="evenodd" d="M813.2 506.1l10 .5l10.1 2.7l9 4.7l8 6.5l7 8.4l5.4 9.5l3.4 10l1.6 11l-.6 11.1l-2.4 10l-4.5 10l-6.9 9.9l-7.3 7.1l-8.7 5.7l-9 3.5l-10.1 1.6l-8 -.4l-7 -1.7l-7 -3.3l-5.4 -4.4l-3 -4l-1.8 -4l-2.2 -12l-1 -1l-5.6 -2.4l-3.1 -2l-4.5 -5.6l-2.6 -7l-1.2 -8l.5 -10.1l2.8 -11l4.1 -9l6 -8.7l7 -6.9l8.3 -5.4l8.7 -3.5z"/>
<path fill="#00caff" fill-rule="evenodd" d="M812.2 507.6l10 .3l9.1 2.2l9 4.3l8 6l7 7.8l5.6 9.2l3.7 10l1.9 11l-.4 11.1l-2.4 10l-4.4 9.9l-6 8.9l-7.1 7.2l-8.9 6l-9 3.7l-9.1 1.5l-8 -.2l-7 -1.6l-6 -2.7l-4.7 -3.7l-3.6 -5l-1.4 -5l.5 -5l3.1 -9l.2 -2l-.8 -2l-1.3 -1l-2 -.1l-9 1.8l-3.1 -.7l-2 -1.2l-2.5 -2.8l-2.2 -4l-1.4 -5l-.7 -5l.3 -9.1l2.2 -10l4.3 -10l5.4 -8l6.7 -6.8l8 -5.5l9 -3.8z"/>
<path fill="#00dfff" fill-rule="evenodd" d="M812.2 509.0l10 .3l9.1 2.2l9 4.5l8 6.2l6.3 7.2l5.4 9l3.7 10l1.6 10l-.3 10.1l-2.3 10l-4.4 10l-6 8.9l-7 7l-8 5.5l-9 3.7l-9.1 1.6l-7 -.1l-7 -1.5l-6 -2.8l-4 -3.3l-2.8 -4l-1.1 -5l.6 -4l4.1 -11l.4 -3l-.7 -3l-1.5 -1.7l-3 -.9l-11 2.5l-3 -.2l-2.1 -.9l-2.8 -2.8l-1.6 -3l-1.2 -4l-.7 -5l.3 -9.1l2.5 -10l4.1 -9l5.5 -7.8l6.2 -6.2l7.8 -5.3l8 -3.3z"/>
<path fill="#00f4ff" fill-rule="evenodd" d="M814.2 510.3l9 .6l9.1 2.5l8 4.2l8 6.4l6.2 7.4l5.1 9l3.1 9l1.5 10l-.5 10.1l-2.3 9l-4.1 9.1l-6.1 8.9l-6.9 6.9l-8 5.4l-9 3.6l-9.1 1.4l-6 -.3l-6 -1.3l-5 -2.3l-4.2 -3.4l-2.4 -4l-.6 -4l.7 -4l4.4 -13l.1 -4l-1 -2.9l-2 -1.9l-3 -1l-4 .3l-9 2.1l-4.1 -.8l-2 -1.6l-2 -3.2l-1.3 -4l-.6 -5.1l.7 -9l2.5 -9l3.9 -8l5.9 -8l6.5 -6l7.5 -4.7l8 -3z"/>
<path fill="#0bfff4" fill-rule="evenodd" d="M812.2 511.9l9 .2l9.1 2.1l8 3.7l8 6l6.7 7.5l4.8 8l3.4 9l1.7 10l-.3 10.1l-2.2 9l-4 9l-5.3 8l-6.8 7l-8 5.6l-8 3.4l-9.1 1.6l-7 -.2l-6 -1.6l-5.1 -2.8l-3.4 -4l-1.1 -3l.1 -4l4.3 -13l.8 -5l-.5 -4l-1.6 -3l-2.5 -1.8l-3 -.7l-4 .2l-9 1.9l-4 -.8l-2.1 -1.6l-1.4 -2.2l-1.8 -7.1l.4 -8l2 -8l3.9 -8.6l5.1 -7.4l5.9 -5.8l7 -4.7l8 -3.4z"/>
<path fill="#20ffdf" fill-rule="evenodd" d="M814.2 513.3l9 .5l8.1 2.3l8 4.1l7 5.6l6 6.9l5.1 8.7l3.1 9l1.3 9l-.5 9.1l-2.2 9l-4.2 9l-5.6 7.9l-7 6.8l-7 4.6l-8 3.3l-8.1 1.4l-6 -.2l-6 -1.6l-4 -2.2l-3.3 -4l-.9 -3l.1 -3l4 -13l1 -6l-.7 -5l-1.8 -3l-2.7 -2l-3.7 -1l-4 .2l-9 1.4l-3.7 -.6l-1.5 -1l-1.9 -2.6l-1.4 -6.5l.4 -7l2.1 -8l3.9 -8l5.2 -7l5.9 -5.5l7.2 -4.5l7.8 -2.9z"/>
<path fill="#35ffca" fill-rule="evenodd" d="M812.2 515.0l9 .1l8.1 1.8l8 3.7l7 5.1l6.2 6.7l5 8l3.2 8l1.8 9l-.1 9.1l-2 9l-3.5 8l-5.2 8l-6.4 6.8l-7 5.1l-8 3.6l-8.1 1.6l-6 -.1l-5 -1.1l-4 -2.2l-3 -3.7l-.7 -3l.1 -3l3.7 -13l.9 -6l-.6 -5l-2.3 -4l-3.1 -2.3l-4 -1l-12 1l-4 -.5l-3 -2.7l-1.6 -5.6l.4 -7l1.9 -7l3.4 -7l4.9 -6.7l5.6 -5.3l6.4 -4.2l7 -2.8z"/>
<path fill="#4affb5" fill-rule="evenodd" d="M814.2 516.4l8 .4l8.1 2.1l7.1 3.5l6.9 5.2l6 6.7l4.3 7.1l3.1 8l1.6 9l-.4 9.1l-1.9 8l-3.7 8l-5 7.3l-6 6.2l-7 5l-8 3.5l-7.1 1.3l-5 -.1l-5 -1.3l-4 -2.7l-1.8 -3.2l-.3 -5l3.5 -13l.7 -6l-.7 -5l-2.4 -4.6l-3 -2.5l-4 -1.4l-4 -.2l-9 .6l-3 -.5l-3 -2.5l-1.5 -5l.4 -6l2.1 -7l3.7 -7l4.8 -6l5.5 -4.8l6 -3.6l7 -2.5z"/>
<path fill="#60ff9f" fill-rule="evenodd" d="M812.2 518.2l8 0l8.1 1.7l7 3l7 4.9l6 6.1l4.3 6.5l3.5 8l1.7 8l.2 8.1l-1.5 8l-3.2 7.9l-4 6.5l-5.8 6.6l-6.2 5.1l-7.4 3.9l-7.7 2l-5 .2l-5 -1.2l-3.2 -2l-1.9 -3l-.4 -5l3.1 -13l.5 -6l-1 -6l-2.2 -4l-2.9 -2.7l-4 -1.8l-5 -.6l-8 .1l-3 -.6l-3 -2.5l-1 -3.5l.2 -5.5l1.8 -6l3.2 -6l3.8 -5l5 -4.6l5.1 -3.4l5.9 -2.6z"/>
<path fill="#75ff8a" fill-rule="evenodd" d="M811.2 520.2l7 -.5l8.1 1.3l7 2.6l7 4.5l6 5.7l4.8 6.6l3.3 7l2 8l.3 8.1l-1.1 7l-2.6 7l-4.1 7l-5.6 6.7l-6 5l-7 3.9l-7.1 2l-4 .2l-4.4 -.8l-2.6 -1.4l-2.1 -2.6l-.6 -5l2.5 -13l.4 -6l-1.1 -6l-2.8 -5l-3.3 -2.9l-4 -1.8l-12 -1.3l-3 -.8l-2.4 -2.3l-.9 -3l.4 -5l1.7 -5l2.8 -5l3.4 -4.3l4 -3.8l5 -3.3l5 -2.3z"/>
<path fill="#8aff75" fill-rule="evenodd" d="M811.2 522.1l7 -.5l7 .9l7.1 2.5l7 4.3l5.6 5.1l4.5 6l3.5 7l2 7l.5 7.1l-.9 7l-2.3 7l-3.9 6.9l-5 6l-6 5.2l-7 3.9l-6.1 1.8l-4 .2l-3.9 -1l-2.1 -1.5l-1.3 -2.5l-.4 -4l1.8 -12l.1 -6l-1.2 -6l-2.6 -5l-3.4 -3.4l-4 -2.2l-14 -3.3l-2 -1.8l-1 -2.4l.2 -4l1.3 -4l2.7 -5l3.4 -4l3.4 -3.1l4.5 -2.9l4.5 -2z"/>
<path fill="#9fff60" fill-rule="evenodd" d="M810.2 524.4l6 -.8l7 .5l7.1 2l6.3 3.3l5.7 4.6l4.7 5.4l3.5 6l2.5 7l.9 7l-.4 6.1l-1.5 6l-2.8 6l-4.2 6l-5.7 5.6l-6 4l-6 2.4l-4.1 .6l-3 -.4l-2.1 -1.2l-1.5 -2l-.7 -4l.9 -11l-.4 -7l-1.6 -6l-2.9 -5.1l-2.9 -3l-3.8 -2.5l-12.5 -4.5l-1.5 -1.3l-.9 -1.7l-.2 -3l.8 -3l2 -4l2.3 -3l3.1 -3l3.9 -2.7z"/>
<path fill="#b5ff4a" fill-rule="evenodd" d="M810.2 526.8l6 -1l7 .3l6.1 1.7l6 2.9l5 3.7l5 5.4l3.5 5.6l2.4 6l1.1 6l-.1 6.1l-1.3 6l-2.6 5.8l-3.6 5.2l-4.4 4.5l-5 3.6l-6 2.6l-3 .5l-3.1 -.4l-2 -1.4l-.8 -1.4l-.8 -3l-1.1 -16l-1.8 -6l-2.7 -5.1l-2.8 -3.2l-3 -2.5l-11.4 -6.3l-1.9 -3l-.1 -2l.9 -3l3.4 -5l5.2 -4z"/>
<path fill="#caff35" fill-rule="evenodd" d="M810.2 529.8l5 -1.4l6 -.2l6.1 1.1l5 2l5 3l4.6 4.1l3.4 4.3l3 5.5l1.7 5.2l.7 5l-.4 5.8l-1.4 5.3l-2.6 5l-3 3.9l-4 3.7l-5 3l-3 1l-3 .3l-2 -.7l-1.5 -1.2l-1.6 -3.5l-3.1 -14.5l-3.4 -8.1l-4.5 -5.8l-9 -7.2l-2.5 -3l-.4 -3l1.9 -4l3.1 -3z"/>
<path fill="#dfff20" fill-rule="evenodd" d="M811.2 533.2l4 -1.6l4 -.6l5 .2l5.1 1.3l5 2.4l4 2.8l3.7 3.7l2.9 4l2.4 5l1.1 4l.4 5l-.5 4.8l-1.4 4.3l-2.2 4l-2.4 3l-4 3.2l-4 1.8l-3 .2l-2.7 -1.2l-1.7 -2l-8 -20.1l-3.7 -5.5l-6.6 -7.5l-1.8 -3l-.3 -2l.5 -2l1.3 -2z"/>
<path fill="#f4ff0b" fill-rule="evenodd" d="M816.2 535.8l3 -1.2l3 -.3l4.1 .3l4 1.1l7 4.1l3 2.9l3 4.1l3 7.6l.4 4l-.4 4.1l-1 3.5l-2 3.7l-2 2.3l-3 2.2l-3 1l-3 -.2l-2.3 -1.5l-2.3 -3l-6.5 -14.1l-7.9 -14l-.3 -2l.5 -2z"/>
<path fill="#fff400" fill-rule="evenodd" d="M822.2 539.1l5.1 -.6l6 2l5 3.8l3.7 5.1l1.9 6l0 5.1l-1.8 5l-1.8 2.2l-2 1.5l-3 .7l-3 -1l-2.5 -2.4l-2.5 -4.1l-7.5 -17l0 -4z"/>
<path fill="#ffdf00" fill-rule="evenodd" d="M827.8 544.4l3.5 -.1l3 1.3l3 2.7l2 3.1l1 3l.1 4l-1.1 3l-2 1.8l-2 .4l-2.6 -1.1l-2.4 -2.8l-1.9 -3.3l-1.9 -5l-.6 -3l.4 -2.3z"/>
</g>
</g>
<g clip-path="url(#cp14)">
<g filter="url(#bl)">
<rect x="895.4" y="461.3" width="202.0" height="197.3" fill="#00008a"/>
<path fill="#00009f" fill-rule="evenodd" d="M1003.4 482.3l8 .1l7 .8l8 1.7l8 2.6l7 3.1l7 4l6 4.3l6 5.2l5.9 6.3l4.6 6l7.2 13l2.7 7l2.3 8l1.9 15l-.1 8.1l-.9 8l-1.8 8l-2.2 7l-3 7l-3.8 7l-4 6l-5 6l-5.8 5.8l-6 4.9l-6 4l-7 3.8l-7 2.9l-8 2.3l-8 1.5l-7 .6l-8 -.1l-8 -.9l-8 -1.8l-7 -2.4l-7 -3.1l-7 -4l-11 -8.6l-5.7 -5.9l-4.8 -6l-3.9 -6l-4.1 -8l-2.8 -7l-2.3 -8l-2 -15l.1 -8.1l.9 -8l1.4 -7l2.5 -8l6.1 -13l4.6 -7l5 -6.1l5 -5.1l6 -5.1l6 -4.1l8 -4.4l7 -2.9l7 -2.1l8 -1.6z"/>
<path fill="#0000b5" fill-rule="evenodd" d="M1003.4 488.3l14 .8l7 1.5l7 2.2l7 3l6 3.3l11 8.4l5 5.1l4.6 5.8l7.1 12l2.9 7l2 7l1.5 8l.6 7l-.8 14.1l-1.4 7l-2.1 7l-6.1 13l-4 6l-4.9 6l-10.4 9.5l-12 7.3l-7 2.9l-7 2.1l-14 2l-8 -.1l-7 -.9l-13 -3.5l-7 -3l-6 -3.4l-11 -8.4l-9.3 -10.5l-7.2 -12l-2.9 -7l-2.1 -7l-1.4 -7l-.8 -8l.8 -14.1l1.3 -7l2.1 -7l6 -13l3.9 -6l4.9 -6l4.9 -5l5.8 -4.8l6 -4l7 -3.8l7 -2.7l7 -2z"/>
<path fill="#0000ca" fill-rule="evenodd" d="M1005.4 492.3l13 1.1l13 3.7l12 6.2l6 4.4l5 4.4l8.6 10.3l6.5 12l4.1 13l1.5 14.1l-1.2 14l-3.8 13l-6.1 12l-8.6 10.9l-10 8.5l-12 6.7l-13 4.2l-13 1.5l-7 -.3l-7 -1l-13 -3.9l-11 -5.8l-6 -4.4l-4.8 -4.4l-4.6 -5l-4.5 -6l-6.4 -12l-4 -13l-1.4 -13l1.2 -14.1l3.7 -13l6 -12l4.3 -6l4.4 -5l10.1 -8.7l12 -6.7l13 -4.2z"/>
<path fill="#0000df" fill-rule="evenodd" d="M998.4 496.1l13 -.3l13 2.3l12 4.9l11 7.2l9 8.8l7.2 10.4l5.2 12l2.8 13l.2 13.1l-2.3 13l-4.7 12l-6.9 11l-8.5 9.2l-11 7.8l-12 5.4l-13 2.8l-13 .1l-13 -2.6l-12 -5.1l-10 -6.8l-9 -8.9l-7.4 -10.9l-5.1 -12l-2.6 -13l-.2 -13.1l2.2 -12l4.5 -12l6.8 -11l8.8 -9.4l11 -7.9l12 -5.3z"/>
<path fill="#0000f4" fill-rule="evenodd" d="M997.4 499.0l13 -.5l12 2l12 4.5l10 6.3l9.6 9.1l7.1 10l4.8 11l2.8 12l.4 13.1l-1.9 12l-4.4 12l-6.8 11l-8.6 9.3l-10 7.1l-11 5l-12 2.9l-12 .3l-12 -1.9l-11 -4.2l-11 -6.8l-9.2 -8.7l-7 -10l-5.4 -12l-2.7 -12l-.3 -13.1l2 -12l4.1 -11l6.7 -11l8.2 -9l9.6 -7.1l11 -5.3z"/>
<path fill="#000bff" fill-rule="evenodd" d="M1000.4 501.2l12 0l11 2.1l11 4.5l10 6.6l8.2 8l6.8 10l4.7 11l2.4 12l.1 12.1l-2.2 12l-4.3 11l-6.7 10.4l-8.3 8.6l-9.7 6.7l-11 4.8l-12 2.5l-12 0l-11 -2.2l-11 -4.5l-10 -6.8l-8.5 -8.5l-6.6 -10l-4.5 -11l-2.4 -12l-.1 -12.1l2.4 -12l4.4 -11l6.6 -10l8.7 -8.8l10 -6.7l11 -4.6z"/>
<path fill="#0020ff" fill-rule="evenodd" d="M1001.4 503.4l12 .2l11 2.4l11 5l9 6.3l7.8 8.1l5.8 9l4.1 10l2.3 12l-.1 12.1l-2.2 11l-4.6 11l-6.7 10l-8.1 8l-9.3 6.2l-11 4.5l-11 2.1l-11 -.1l-11 -2.3l-11 -4.7l-9.5 -6.7l-7.7 -8l-6.4 -10l-4.3 -11l-2 -11l.2 -12.1l2.3 -11l4.7 -11l6.1 -9l8 -8l9.6 -6.5l11 -4.5z"/>
<path fill="#0035ff" fill-rule="evenodd" d="M1004.4 505.3l11 .7l11 3l10 5l8.3 6.4l7.1 8l5.9 10l3.4 10l1.5 11l-.6 11.1l-2.8 11l-4.8 10.3l-7 9.4l-8.1 7.3l-9.9 5.9l-10 3.4l-11 1.6l-11 -.7l-10 -2.7l-10 -4.9l-9 -6.9l-7 -8l-5.7 -9.7l-3.8 -11l-1.4 -11l.6 -11.1l2.8 -11l4.8 -10l6.7 -8.9l8 -7.2l10 -6l10 -3.4z"/>
<path fill="#004aff" fill-rule="evenodd" d="M1006.4 507.4l11 1.1l10 3.1l9 4.8l8.5 7l6.7 8l4.8 9l3.1 10l1.2 11.1l-1 11l-2.9 10l-5.2 10l-6.3 8l-8.1 7l-9.8 5.5l-10 3.2l-11 1.2l-11 -1.2l-10 -3.2l-9 -5l-8 -6.7l-7 -8.7l-4.8 -9.1l-3 -10l-1.1 -11l1 -11.1l3 -10l4.9 -9.4l6.9 -8.6l8.1 -6.8l9 -4.9l10 -3.2z"/>
<path fill="#0060ff" fill-rule="evenodd" d="M1006.4 509.4l10 .9l10 3.1l9 4.7l8 6.5l6.6 7.8l4.8 9l3 10l1 10.1l-1.1 11l-3 10l-4.7 9l-6.4 8l-8.2 6.9l-9 4.9l-10 3.1l-10 1l-10 -1l-10 -3.1l-9 -5l-8 -6.8l-6.4 -8l-4.7 -9l-2.9 -10l-1 -10l.9 -10.1l2.9 -10l4.6 -9l6.6 -8.3l8 -6.7l9 -5l10 -3z"/>
<path fill="#0075ff" fill-rule="evenodd" d="M1004.4 511.4l10 .6l10 2.6l9 4.5l8 6.1l6.3 7.2l4.7 8l3.2 9l1.4 10l-.6 10.1l-2.5 10l-4.2 9l-6.3 8.5l-7.2 6.5l-8.8 5.3l-9 3.2l-10 1.5l-10 -.7l-9 -2.4l-9 -4.4l-8 -6.2l-6.3 -7.3l-5.2 -9l-3.1 -9l-1.4 -10l.6 -10.1l2.4 -9.6l4 -8.6l6 -8.2l7.2 -6.6l8.8 -5.4l9 -3.2z"/>
<path fill="#008aff" fill-rule="evenodd" d="M1003.4 513.4l10 .4l9 2.2l9 4.1l7.4 5.3l6.7 7l5 8l3.3 9l1.3 9l-.3 10.1l-2.1 9l-4 9l-5.6 8l-6.7 6.5l-8.5 5.5l-9.5 3.6l-9 1.4l-10 -.4l-9 -2.4l-8.7 -4.2l-7.3 -5.5l-6.7 -7.5l-4.7 -8l-3.2 -9l-1.4 -9l.3 -10.1l2.2 -9l4 -9l5.5 -7.6l7 -6.6l8 -5l9 -3.4z"/>
<path fill="#009fff" fill-rule="evenodd" d="M1002.4 515.4l9 .1l9 1.8l9 3.8l7.8 5.3l6.2 6.3l5.1 7.7l3.2 8l1.6 9l-.2 10.1l-2 9l-3.7 8.6l-5 7.4l-6 6.2l-8 5.5l-9 3.7l-9 1.7l-9 -.2l-9 -2l-8 -3.5l-7.6 -5.4l-6.4 -6.7l-5 -7.8l-3.4 -8.5l-1.6 -9l0 -9.1l1.9 -9l3.2 -8l5.2 -8l6.7 -6.7l8 -5.3l8 -3.2z"/>
<path fill="#00b5ff" fill-rule="evenodd" d="M1003.4 517.3l9 .3l9 2.1l8 3.6l7.3 5.1l5.8 6l4.9 7.7l3 8.1l1.3 8.2l-.3 9.1l-2.1 9l-3.6 8l-5.3 7.6l-6.7 6.4l-7.3 4.6l-8 3.1l-9 1.6l-9 -.4l-8 -2l-8 -3.8l-7 -5.1l-6 -6.6l-4.6 -7.4l-3 -8l-1.5 -9l.2 -9.1l2.1 -9l3.7 -8l5 -7l6.1 -5.8l7 -4.5l8 -3.2z"/>
<path fill="#00caff" fill-rule="evenodd" d="M1003.4 519.4l9 .2l8 1.9l8 3.5l7 4.8l5.6 5.6l4.4 6.6l3 7.4l1.5 8l-.1 9.1l-1.7 8l-3.7 8.7l-5 7.3l-6 5.9l-7 4.6l-8 3.3l-8 1.5l-8 -.1l-8 -1.7l-8 -3.5l-7.1 -5l-5.9 -6.2l-4.8 -7.8l-3 -8l-1.3 -8l.3 -9.1l1.8 -7.9l3.1 -7.1l4.9 -7.2l6 -5.8l7 -4.5l8 -3.1z"/>
<path fill="#00dfff" fill-rule="evenodd" d="M1005.4 521.4l8 .5l8 2.1l7.3 3.4l6.7 4.8l5 5.4l4.2 6.8l2.6 7l1.1 8l-.4 8.1l-2 8l-3.5 7.6l-5 6.9l-6 5.6l-7 4.4l-8 2.9l-8 1.1l-8 -.5l-8 -2.3l-7 -3.7l-6.3 -5l-5.2 -6l-4 -7l-2.6 -8l-1 -8l.5 -8.1l2.2 -8l3.5 -7l4.9 -6.3l6 -5.3l7 -4l7 -2.3z"/>
<path fill="#00f4ff" fill-rule="evenodd" d="M999.4 524.3l7 -.7l8 .7l8 2.3l7 3.6l6 4.6l4.8 5.6l3.4 6l2.2 7l.8 8.1l-.9 8l-2.5 8l-3.8 7l-5 6l-6 5l-7 3.7l-7 2.1l-8 .7l-7 -.8l-7 -2.3l-6.2 -3.4l-6.1 -5l-4.9 -6l-3.7 -7l-2.2 -7l-.8 -8l.6 -7.1l1.9 -7l3.5 -7l4.9 -6.2l6 -5.1l7 -3.7z"/>
<path fill="#0bfff4" fill-rule="evenodd" d="M1001.4 526.4l7 -.4l7 .8l7 2.2l7 3.7l5.8 4.7l4.2 5.2l3 5.8l2 7l.4 7.1l-1.1 8l-2.5 7l-3.8 6.6l-5 5.7l-6 4.7l-7 3.4l-7 1.7l-7 .3l-7 -1.1l-6 -2.3l-6.6 -4l-5.3 -5l-4.1 -5.5l-3.2 -6.5l-1.9 -7l-.4 -7l.8 -7.1l2.3 -7l3.4 -6l5 -5.8l5.5 -4.2l6.5 -3.2z"/>
<path fill="#20ffdf" fill-rule="evenodd" d="M999.4 529.4l7 -.9l7 .5l7 1.7l6 2.7l5.8 4l4.2 4.4l3.5 5.6l2.2 6l.9 7.1l-.5 7l-2 7l-3 6l-4.1 5.5l-5 4.7l-6 3.7l-7 2.5l-6 .9l-7 -.4l-6.5 -1.9l-5.9 -3l-5.1 -4l-4.5 -5.1l-3.5 -5.9l-2.5 -7l-.9 -7l.3 -6.1l1.6 -6.4l3 -6.3l4 -5.3l5 -4.5l6 -3.4z"/>
<path fill="#35ffca" fill-rule="evenodd" d="M1005.4 531.4l6 .1l7 1.3l6 2.3l5.5 3.3l4.5 4.3l3.3 4.7l2.1 5l1.2 6l0 6.1l-1.4 7l-2.6 6l-4 6l-5.1 5l-5.5 3.5l-6 2.4l-6 1.1l-6 -.2l-6 -1.5l-5.1 -2.3l-5.5 -4l-4.4 -4.7l-3.4 -5.3l-2.3 -6l-1.2 -6l.1 -6.1l1.2 -6l2.5 -6l3.4 -5l4.7 -4.5l5 -3.1l6 -2.3z"/>
<path fill="#4affb5" fill-rule="evenodd" d="M1001.4 535.5l6 -.9l6 .2l6 1.2l6 2.5l4.4 2.9l4 4l2.6 4.1l2 5.5l.7 5.5l-.4 6l-1.6 6l-2.7 5.5l-4 5.3l-4 3.6l-5 3.2l-6 2.2l-6 .8l-5 -.4l-5 -1.4l-5.5 -2.8l-4.5 -3.6l-3.8 -4.4l-2.9 -5l-2 -6l-.7 -5l.3 -6.1l1.2 -5l2.3 -5l3.6 -4.7l4 -3.6l4.6 -2.7z"/>
<path fill="#60ff9f" fill-rule="evenodd" d="M1011.4 538.2l6 .6l5 1.4l4 2l4 3.1l3 3.7l2.2 4.4l1.2 5l.2 5.1l-1.1 6l-2 5l-2.5 4.2l-4 4.5l-4 3.1l-5 2.5l-5 1.3l-5 .3l-5 -.8l-5 -2.1l-4 -2.7l-3.4 -3.3l-2.8 -4l-2.3 -5l-1.3 -5l-.3 -5l.8 -5.1l1.3 -4l2.9 -5l3.1 -3.3l4 -2.9l5 -2.4l5 -1.2z"/>
<path fill="#75ff8a" fill-rule="evenodd" d="M1019.4 542.8l4 1.3l3.9 2.3l3.1 3l2 3l1.6 4l.7 4.1l-.2 5l-1.1 4.4l-2 4.6l-2.8 4l-3.2 3.2l-4 2.8l-4.7 2l-4.3 .8l-4 0l-4 -.9l-4 -1.9l-2.7 -2l-2.8 -3l-2.5 -4l-1.4 -4l-.8 -5l.2 -4l1 -4.4l1.6 -3.7l2.4 -3.4l3 -3l3.7 -2.6l4.3 -1.8l4 -1l5 -.3z"/>
<path fill="#8aff75" fill-rule="evenodd" d="M1021.4 547.4l3 1.3l3 2.1l2.1 2.6l1.5 3l.8 3l.3 4.1l-.6 4l-1.5 4l-4.6 6.5l-6 4.2l-3.7 1.3l-3.3 .4l-4 -.4l-3 -1l-3 -2l-2 -2l-1.8 -3l-1 -3l-.3 -6l2 -7.1l3.9 -6l5.2 -4.3l6 -2.1l4 -.1z"/>
<path fill="#9fff60" fill-rule="evenodd" d="M1022.4 552.6l3.8 2.8l2.2 4.3l.3 5.8l-1.7 5l-3.6 4.9l-4.6 3.1l-5.4 1.1l-4.5 -1.1l-3.3 -3l-1.4 -4l.2 -5l2.3 -6l2.8 -4.1l3.9 -3.1l5 -1.4z"/>
<path fill="#b5ff4a" fill-rule="evenodd" d="M1020.4 559.1l2 1.2l1.2 2.2l.2 2l-.5 3l-1.9 3l-2 1.6l-3 1l-2 -.4l-1.6 -1.2l-.9 -2l-.1 -2l.8 -3l1.8 -3l2 -1.7l2 -.7z"/>
</g>
</g>
<path d="M121.5 464.3H1094.4V655.6H121.5zM315.2 464.3V655.6M509.6 464.3V655.6M704.0 464.3V655.6M898.4 464.3V655.6" fill="none" stroke="#262626" stroke-width="3"/>
<g clip-path="url(#ct0)">
<rect x="118.5" y="671.0" width="199.7" height="194.9" fill="#004dff"/>
<path fill="#004dff" fill-rule="evenodd" d="M155.3 674.0l142.4 0l8.5 7.5l9 9.9l0 143.2l-7.4 8.3l-8.7 8l-8.9 6.6l-8.8 5.4l-109.8 0l-9.2 -5.6l-8.5 -6.4l-8.4 -7.7l-7 -7.8l-9.6 -13.5l-7.4 -14.5l0 -88.8l6 -12.1l7.5 -11.5l9.3 -11zM147.5 766.8l-.8 5.1l.8 10.7l2 8.2l4.9 11.4l4 5.7l2 1.5l0 -1.5l-5.2 -11l-3.4 -9l-1.9 -7z"/>
<path fill="#00a8ff" fill-rule="evenodd" d="M185.6 674.0l81.8 0l7.7 4l7.2 4.5l12.7 10.5l5.6 6l5.5 7l9.1 15.5l0 83l-3.9 7.4l-4.4 7l-5.4 7l-5.3 5.9l-6 5.5l-7 5.5l-13.9 8.3l-9 3.8l-9 2.8l-9 1.9l-10 1.2l-10 0l-8.9 -.8l-10 -1.8l-9 -2.7l-9 -3.6l-8 -4.2l-8 -5.1l-8 -6.4l-7 -6.9l-5.9 -7.1l-5.6 -8.3l-4.4 -8l-3.9 -9l-2.8 -9l-1.9 -9l-1.1 -10l-.1 -9.9l.7 -9l1.9 -10l2.6 -9l3.7 -9l4.1 -8l5.2 -8l6.4 -8l6.8 -7l7.2 -6l8.1 -5.5zM149.5 750.6l-2 2.6l-2.4 7.8l-.9 7.9l.1 8l1.6 10l2 7l3 7l3.3 6l5 7l5.2 5.7l6 5.3l7 5l7.2 4l7.5 3l8.3 1.8l2 0l1 -.5l-1.5 -1.3l-15.5 -7.4l-9 -6l-8 -7.5l-8 -11.1l-6 -12l-3.3 -11l-1.7 -12l.1 -16.9z"/>
<path fill="#05fffa" fill-rule="evenodd" d="M176.4 692.8l21 -7.5l16 -4l5.9 -.5l9 .2l14 1.6l8 2l7 2.5l7 3.3l7 4.1l6.2 4.5l5.7 5l5 5.3l5 6.3l4.7 7.4l3.5 7l2.7 7l2.2 8l1.4 8l.6 8l-.2 7.9l-.9 7.7l-1.6 7.3l-2.5 8l-3.1 7l-3.8 7l-4.8 7l-5.1 6l-6 5.8l-6 4.8l-9 5.6l-10 4.5l-9 2.5l-7 .2l-1.1 -.4l-2.8 -3l-2.8 -1l-16.2 -2.2l-9 -1.8l-9 -2.8l-7.5 -3.2l-7 -4l-6.8 -5l-6.2 -6l-5.5 -6.7l-4 -6.3l-3 -6.1l-4 -12.2l-1.7 -12.7l.3 -14.9l-.5 -5.2l-1.5 -2.8l-3.2 -2l-1.8 -2l-2.9 -10l2.5 -7l3.9 -6l19.5 -21l3.4 -2.9z"/>
<path fill="#61ff9e" fill-rule="evenodd" d="M176.4 696.8l14 -4.5l25 -6l3.9 .1l29 5.7l5 2.1l4.9 3.8l10.1 13.6l10.4 11.4l6.8 11l4.5 12l2.2 13l-.5 12.9l-2.8 12l-5.5 12l-3.9 6l-4 5l-9.2 8.5l-11 6.7l-12 4.4l-13 2l-12.9 -.4l-13 -3.2l-11 -5.1l-10.9 -7.9l-8.3 -9l-5.2 -8l-3.8 -8l-10.5 -36.9l-2.2 -5l-3.8 -5l-2.1 -8l2.1 -6l3.3 -5l19.4 -20.6z"/>
<path fill="#bdff42" fill-rule="evenodd" d="M177.4 699.3l7 -2.4l5 -2.6l7 -.4l17 -4.2l4 -.3l30.9 6.3l4.4 2.3l3.6 3.5l2.7 4.5l1.9 5l.7 5l.2 8l.9 4l7.5 12l3.4 8l1.7 7l.6 8l-1.2 10.9l-3.9 11l-5.8 9l-8 8l-7.8 5l-8.9 3.6l-9 1.7l-10 0l-7.9 -1.6l-7 -2.5l-7 -3.8l-7.3 -5.4l-9.7 -2l-3 -1.7l-2.3 -2.3l-14.2 -27.9l-1.6 -5l-4.3 -10l-6.7 -11l-1.4 -6l1.5 -5l3.1 -4.7l19.9 -21.1zM216.4 748.0l-3 2.5l-2.5 3.5l-1.3 3l-.7 4l.3 4l1.1 3.9l2.1 4l2.4 3l3.5 3l3.5 2l4.5 1.7l4 .6l4 -.1l4 -.9l4 -1.9l3 -2.4l2.4 -3l1.4 -3l.8 -3l.2 -3.9l-1.8 -7l-4.2 -6l-3.6 -3l-3.2 -1.9l-7 -2.1l-7 .1l-4 1.3z"/>
<path fill="#ffe500" fill-rule="evenodd" d="M250.2 701.0l2.1 2l2.6 4l.9 3l.2 4l-.7 3.3l-2 4.2l-2 2.4l-3 2.5l-4 1.5l-4 .1l-22.9 -6.5l-21.7 9.5l-9.3 6l-1.2 2l-.8 3l.4 15l.7 3l8.8 21.9l.5 4l-1.4 4.1l-1.7 1.9l-2.3 1.4l-2.5 .6l-2.5 -.1l-3.8 -1.9l-2.2 -2.9l-12 -24l-5.5 -14l-4.5 -5.4l-4.9 -8.2l-.7 -2.4l.1 -3l2.6 -4.9l10.6 -10.1l12.3 -12.8l12 -8.5l2 -.8l3 .1l5 2l16 -3.7l3 -.2l28.1 5.9z"/>
<path fill="#ff8a00" fill-rule="evenodd" d="M216.0 704.0l1.5 3l.2 4l-1.1 3l-2.6 3l-20.6 10.9l-18 12.1l-9 5.2l-4 .6l-3 -1.2l-6.4 -7.6l-.8 -2l0 -2l.7 -2l1.5 -2.1l24.6 -23.9l10.4 -8.9l3 -.5l2.8 1.4l1.4 2l.8 4.3l7 -3l4 -.5l4.3 1.2z"/>
<path fill="#ff2e00" fill-rule="evenodd" d="M194.4 697.9l.8 2.1l-.8 2.6l-17 18.2l-17 16.7l-2 .6l-2 -.6l-1.9 -1.5l-.7 -3l1.1 -2l28.4 -28l6.7 -6l2.4 -.2z"/>
</g>
<g clip-path="url(#ct1)">
<rect x="312.2" y="671.0" width="200.4" height="194.9" fill="#004dff"/>
<path fill="#0024ff" fill-rule="evenodd" d="M315.2 674.0l194.4 0l0 188.9l-194.4 0z"/>
<path fill="#0038ff" fill-rule="evenodd" d="M315.2 674.0l194.4 0l0 188.9l-194.4 0z"/>
<path fill="#004dff" fill-rule="evenodd" d="M315.2 674.0l194.4 0l0 188.9l-194.4 0z"/>
<path fill="#0061ff" fill-rule="evenodd" d="M315.2 674.0l194.4 0l0 188.9l-194.4 0z"/>
<path fill="#0075ff" fill-rule="evenodd" d="M315.2 674.0l194.4 0l0 188.9l-194.4 0z"/>
<path fill="#008aff" fill-rule="evenodd" d="M315.2 674.0l194.4 0l0 188.9l-194.4 0z"/>
<path fill="#009eff" fill-rule="evenodd" d="M315.2 674.0l194.4 0l0 188.9l-194.4 0z"/>
<path fill="#00b3ff" fill-rule="evenodd" d="M315.2 674.0l194.4 0l0 188.9l-194.4 0z"/>
<path fill="#00c7ff" fill-rule="evenodd" d="M315.2 674.0l194.4 0l0 188.9l-194.4 0z"/>
<path fill="#00dbff" fill-rule="evenodd" d="M315.2 674.0l194.4 0l0 188.9l-194.4 0z"/>
<path fill="#00f0ff" fill-rule="evenodd" d="M315.2 674.0l194.4 0l0 188.9l-194.4 0z"/>
<path fill="#05fffa" fill-rule="evenodd" d="M315.2 674.0l194.4 0l0 188.9l-194.4 0z"/>
<path fill="#1affe5" fill-rule="evenodd" d="M315.2 674.0l194.4 0l0 188.9l-194.4 0z"/>
<path fill="#2effd1" fill-rule="evenodd" d="M315.2 674.0l194.4 0l0 188.9l-194.4 0z"/>
<path fill="#42ffbd" fill-rule="evenodd" d="M315.2 674.0l194.4 0l0 188.9l-194.4 0zM331.2 782.5l-1.1 3.4l3.1 11l3.5 8l7.6 12l9 9.5l.4 -.5l-7.5 -10l-5.9 -10.3l-4.1 -9.7l-2.9 -10zM354.3 826.6l-.4 .3l.4 .3zM355.3 827.8l-.1 .1l.1 .1l.1 -.1z"/>
<path fill="#57ffa8" fill-rule="evenodd" d="M386.3 680.4l11.1 -1.4l14 0l10 .5l6 1.2l6 1.9l10.1 5.1l5 3.8l9 8.5l16.8 21l7.6 12l4.6 12l1.8 7l1.3 8l.4 7l-.3 7.9l-1.1 8l-1.8 7l-2.4 7l-3.3 7l-7.9 12l-5.3 6l-5.4 5l-6 4.6l-7 4.2l-7 3.3l-7.1 2.5l-7 1.8l-8 1.2l-8 .3l-7 -.5l-7 -1.2l-6.8 -2.2l-5.3 -2.5l-5 -3.6l-4 -4.1l-16.5 -19.8l-7.9 -12l-3 -7l-6.2 -17l-1.5 -6.9l-.6 -11l-1 -4l-1.4 -.8l-4 2.1l-2 .1l-4.7 -4.4l-2.4 -5l-1 -5l-.2 -6l10.3 -10.7l7.3 -8.3l3 -7l5.1 -7l6.7 -5.9l9 -5.5l11 -6z"/>
<path fill="#6bff94" fill-rule="evenodd" d="M386.3 685.3l11.1 -1.6l13 -.2l10 .5l10 2.3l6 2.5l6 3.2l6.4 5l5.3 6l7.3 12l7.1 9l6.5 10l3.7 10l3.3 14l.7 7l-.1 6.9l-.7 7l-1.5 7l-4.9 12.9l-3.4 6.1l-4.2 6l-9.4 9.9l-11 7.7l-6 3l-7.1 2.7l-13 2.9l-12 .3l-11 -2.1l-5 -2.1l-5 -2.8l-18.1 -14.4l-9.6 -10.1l-6.2 -10l-7.4 -19l-2 -8.9l.2 -20l-.7 -5l-1.3 -2.1l-6.1 -2l-2.7 -4.9l5.8 -5.9l8.4 -13.1l3.1 -7l5 -6l5.1 -4l10.4 -6.3l8 -4.2z"/>
<path fill="#80ff80" fill-rule="evenodd" d="M388.4 688.4l5 -.9l9 -.7l17 .2l10 2.2l5 2l5.1 2.8l5 4l4.2 5l6.1 12l8.4 11l4.5 7l2.4 7l4.1 15l1.3 13l-1.4 12.9l-3.8 12l-3.1 6l-3.7 5.8l-4.3 5.2l-4.7 4.7l-5 4l-6 3.8l-12.1 5.1l-7 1.8l-7 .8l-7 .1l-6 -.7l-6 -1.5l-6 -2.4l-14.1 -7.6l-11 -8.4l-7.5 -8.7l-3.9 -7l-7.4 -19l-1.6 -6.9l.9 -28l-.4 -4l-1 -2l1.5 -8l2.6 -7l5.3 -10l6.5 -6.7l16 -9.9z"/>
<path fill="#94ff6b" fill-rule="evenodd" d="M390.4 691.1l13 -1.1l15 .3l8.2 1.7l6.8 3l5.5 4l5.6 6.1l3.1 4.9l2.3 5l12.4 19l4.6 21l1.2 10l-.6 11.9l-3 11l-2.8 6l-3 5l-3.9 5l-4.3 4.5l-5 4.1l-5 3.3l-6.1 2.9l-6 2.1l-12 2.1l-6 .1l-7 -.8l-15 -3.8l-7.1 -2.7l-6 -3.1l-8 -6l-6.5 -7.7l-3.3 -6l-8 -20l-1.1 -4.9l-.1 -7l2.1 -27l3.7 -13l4.2 -9l4.7 -6l6.9 -5l12.2 -7z"/>
<path fill="#a8ff57" fill-rule="evenodd" d="M388.4 698.1l5 -.7l26 .9l8 1.8l8 3.5l5.1 3.2l3.9 4.2l12.4 23l4.2 32l-.6 8.9l-2.2 9l-4.7 9.7l-6.7 8.3l-8.3 6.6l-9.1 4.4l-10 2.4l-12 .4l-20.1 -2.1l-6 -1.6l-5 -2l-8 -5.3l-5.9 -6.8l-2.9 -5l-8.3 -19l-1.4 -5l-.2 -3.9l1.1 -19l2 -12l5 -13l5.6 -8.1l3 -3.1z"/>
<path fill="#bdff42" fill-rule="evenodd" d="M436.4 707.7l4.1 2.7l2.2 2.6l9.2 21l0 10l1.8 19l-.1 7.9l-2.1 10.2l-2 4.8l-3 5l-5 6l-7.1 5.5l-7 3.5l-8 2.2l-9 .8l-24.1 .5l-8 -1.6l-7 -3.6l-5 -4.4l-4 -5.6l-3.5 -8.3l-5.8 -11l-2.2 -6.9l.2 -13l1.6 -13l1.8 -8l6.2 -13l3.5 -4l5.2 -3.8l19.1 -8.8l6 -1.7l13 -1l12 .3l7 1.6z"/>
<path fill="#d1ff2e" fill-rule="evenodd" d="M437.5 710.8l2.5 2.2l2.3 4l5.2 17l-1.7 10l-.3 12.2l-6 3.6l-6.1 2.6l-12 3.1l0 2.5l-1.3 3.9l-3.1 7l-4.3 7l-1.8 9l-3.4 7l-15.1 3.1l-8.1 .6l-7 -1.2l-7 -3.8l-3.8 -3.7l-2.8 -4l-2.9 -7l-7 -12l-1.8 -5.9l.1 -13l1.8 -13l2.1 -8l3.9 -8l3.2 -5l4.2 -4l5 -2.7l16.1 -7.7l8 -2.2l12 -.8l11 .4l7 1.8z"/>
<path fill="#e5ff1a" fill-rule="evenodd" d="M436.4 712.4l2.1 1.8l2 3.8l3.3 16l-4.6 11l-6.8 4.3l-7 2.7l-8 1.3l-10 -.2l-.9 .9l-1.1 8l1.3 6l-1.7 8.9l-3.3 9l-1.7 7l-3.6 5.7l-8 2.7l-6.1 .7l-6 -.9l-6 -3.2l-3 -3l-2 -3l-2.5 -6l-7.7 -12l-2 -5.9l.1 -13l1.8 -13l2.9 -9l3.1 -6l3.3 -5l3 -3l4 -2.6l18.1 -8.6l8 -2l11 -.7l11 .4l6 1.7z"/>
<path fill="#faff05" fill-rule="evenodd" d="M435.4 714.3l2.1 2l1 2.7l2 15l-4.4 7l-5.7 3.9l-7 2.7l-7 1.1l-13 -.5l-1 .8l-.8 2l-1.7 12l1.1 5l-1.8 9.9l-5.8 15l-3 3.3l-4.1 2.1l-3 .8l-6 -.1l-3 -.9l-3 -1.8l-4 -4.2l-2.8 -6.2l-7 -10l-2.1 -4l-1.2 -3.9l.1 -13l1.7 -12l2.7 -9l3.2 -6l3.3 -5l3.1 -3.1l4 -2.6l18.1 -8.4l8 -1.9l11 -.7l10 .5l5 1.6z"/>
<path fill="#fff000" fill-rule="evenodd" d="M424.3 710.0l2.6 2l2.5 2.9l4.3 2.1l1.6 2l1.6 8l.5 7l-5 5.9l-4 2.5l-5 2l-7 1.2l-15 -.6l-1 .7l-2.3 5.3l-1.6 13l1 4l-1.6 10.9l-4.6 12l-2.9 3.6l-5.1 2.4l-5 .4l-5 -1.6l-3 -2.2l-2 -2.6l-2.2 -5l-8.5 -12l-2.2 -5.9l0 -12l1.2 -11l3.4 -11l2.6 -5l3.7 -5.4l4 -3.7l22.1 -10.4l9 -1.6l11 -.4l7 .6z"/>
<path fill="#ffdb00" fill-rule="evenodd" d="M422.4 710.7l2.5 2.3l2.5 7.6l5 3.4l1 1.4l1 3.6l0 5l-5.2 5l-7.8 3.3l-6 .8l-14 -.6l-3 1.2l-2.9 6.3l-1.6 14l.9 4l-1.3 11.9l-3.7 10l-3.5 3.8l-4 1.8l-5 .2l-4 -1.6l-3.4 -3.2l-2.4 -5l-7.3 -10l-2.3 -4l-1.3 -3.9l-.1 -12l1.2 -11l3.1 -10l3 -6l3.5 -4.9l4 -3.5l22.1 -10.1l8 -1.3l10 -.5l6 .3z"/>
<path fill="#ffc700" fill-rule="evenodd" d="M420.4 711.4l2.6 2.6l1.4 6l1 2l4.2 4l1.4 2l.5 3l-.5 3l-4.6 3.7l-6 2.4l-5 .6l-15 -.6l-4.1 1.9l-3.4 8l-1.4 14l.7 4l-.6 11.9l-2.6 8l-2.7 3.9l-3.7 2.1l-4.3 .5l-4 -1.3l-3.5 -3.2l-1.9 -4l-7.2 -10l-2.4 -4l-1.3 -3.9l-.2 -12l.9 -10l2.1 -8l3 -7l4.2 -6l4.3 -3.6l20.7 -9.4l6.4 -1.3l9 -.7l8 .3z"/>
<path fill="#ffb200" fill-rule="evenodd" d="M419.4 713.0l2 2.8l2 7.1l4.2 6.1l.3 2l-.9 3l-3.6 2.4l-5 1.5l-19 -.3l-5 2.6l-4 8.8l-1.5 16l.8 3.9l-.1 12l-.6 3l-2.2 5l-3.3 3l-4.2 1.1l-4.2 -1.1l-2.8 -2.2l-1.9 -3.8l-7.1 -10l-2.4 -4l-1.4 -3.9l-.5 -12l.6 -9l1.9 -8l2.8 -7l4 -5.7l4 -3.4l21.1 -9.4l7 -1.4l8 -.6l8 .3z"/>
<path fill="#ff9e00" fill-rule="evenodd" d="M416.4 714.1l1.4 .9l1.3 2l1.6 6l2.5 6l-.5 3l-1.8 2l-4.5 1.1l-17 -.7l-7.4 3.6l-.6 .7l-4 10.3l-1.3 16l1.4 14.9l-.3 4l-1.7 4l-2.2 2.2l-3 1.2l-4 -.5l-3.2 -2.9l-9.8 -15.3l-2 -4.6l-1 -11l.2 -9l1.6 -8l2.8 -7l3.4 -5.1l4 -3.5l3 -1.5l7 -2.2l10.4 -4.7l4.7 -1.4l7 -1l7 -.2z"/>
<path fill="#ff8a00" fill-rule="evenodd" d="M413.4 717.6l2 2.4l1.2 4l0 3l-1.2 1.5l-5 .6l-13 -.7l-9 6.3l-.9 1.3l-3.5 12l-2 18l2.6 17.9l-2.3 4l-2.6 1l-2.4 -.3l-2.1 -1.7l-10.1 -16l-1.4 -2.9l-1 -4l-1.2 -8l.1 -8l1.3 -7l2.6 -7l3.8 -5.4l5 -3.5l3 -.7l7 -.4l8.9 -4l8.2 -2.4l7 -.8z"/>
<path fill="#ff7500" fill-rule="evenodd" d="M377.3 726.9l3.1 2.1l1.8 5l.2 7l-1.4 10l-2.1 8l-2.6 5.4l-4 4.1l-3 .4l-3 -2.5l-2.7 -6.4l-1 -8l.6 -8l2.1 -7.1l3 -5.3l4 -3.7l3 -1z"/>
<path fill="#ff6100" fill-rule="evenodd" d="M375.3 729.4l2.7 1.6l1.7 4l.5 6l-.7 7l-1.8 7l-2.4 4.8l-3 3.1l-3 .6l-2 -1.1l-1 -1.3l-1.7 -4.1l-.8 -6l.5 -6.6l1.9 -6.4l2.1 -4.1l3 -3.2l2 -1.1z"/>
<path fill="#ff4c00" fill-rule="evenodd" d="M374.3 732.4l2 1.1l1.5 3.5l.5 5l-.7 6l-1.3 4.6l-2 3.9l-2.7 2.5l-2.3 .2l-2 -1.7l-1.4 -3.5l-.6 -5l.5 -5l1.5 -4.9l2 -3.5l2.8 -2.6z"/>
<path fill="#ff3800" fill-rule="evenodd" d="M373.3 737.3l1 .5l1.1 2.2l-.1 6.9l-2 5.1l-1 1.1l-2 .7l-1.2 -.8l-1 -2l0 -6l2.2 -5.6l1.4 -1.4z"/>
</g>
<g clip-path="url(#ct2)">
<rect x="506.6" y="671.0" width="200.4" height="194.9" fill="#004dff"/>
<path fill="#0024ff" fill-rule="evenodd" d="M509.6 674.0l194.4 0l0 188.9l-194.4 0z"/>
<path fill="#0038ff" fill-rule="evenodd" d="M509.6 674.0l194.4 0l0 188.9l-194.4 0z"/>
<path fill="#004dff" fill-rule="evenodd" d="M509.6 674.0l194.4 0l0 188.9l-194.4 0zM537.7 793.9l-1 .9l-.4 3.1l.4 3.8l1 1.2l1 -4z"/>
<path fill="#0061ff" fill-rule="evenodd" d="M509.6 674.0l194.4 0l0 188.9l-194.4 0zM537.7 790.6l-1 .3l-.8 2l-.6 6l.6 5l.8 2l1 .9l1.3 -1.9l.7 -6l-.8 -6z"/>
<path fill="#0075ff" fill-rule="evenodd" d="M509.6 674.0l194.4 0l0 188.9l-194.4 0zM537.7 788.3l-1 .2l-1 1.9l-1.2 8.5l1.2 8l1 1.9l1 .7l1 -.3l1 -2l.7 -7.3l-.7 -7.3l-1 -3.1z"/>
<path fill="#008aff" fill-rule="evenodd" d="M509.6 674.0l194.4 0l0 188.9l-194.4 0zM537.7 786.4l-1.3 .5l-1.4 3l-1.1 9l1 9l1.4 3l1.4 1.2l1 -.2l1.4 -2l1 -8l-1 -10l-1.2 -4z"/>
<path fill="#009eff" fill-rule="evenodd" d="M509.6 674.0l194.4 0l0 188.9l-194.4 0zM537.7 784.8l-1 .1l-1 1l-1 2.5l-1.1 5.5l-.3 5l.2 6l1 5l1.2 2.9l2 1.8l2 -.8l1 -1.9l1 -9l-1.2 -12l-1.2 -4z"/>
<path fill="#00b3ff" fill-rule="evenodd" d="M509.6 674.0l194.4 0l0 188.9l-194.4 0zM536.7 783.3l-2 2.9l-1.3 4.7l-.7 6l0 7l.8 6l1.2 3.9l2 2.9l2 .5l2 -1.7l1.1 -2.6l.6 -5l-.1 -7l-.7 -7l-1.3 -6l-1.6 -3.8l-1 -.8z"/>
<path fill="#00c7ff" fill-rule="evenodd" d="M509.6 674.0l194.4 0l0 188.9l-194.4 0zM536.7 781.8l-2 2.5l-1.7 5.6l-.9 7l-.1 8l.7 6l1.4 5l2.6 3.5l2 .6l2 -1.1l2.2 -4l.3 -10l-.9 -10l-1.6 -7.8l-2 -4.4l-1 -.9z"/>
<path fill="#00dbff" fill-rule="evenodd" d="M509.6 674.0l194.4 0l0 188.9l-194.4 0zM536.7 780.4l-2.3 2.5l-2 7l-1.1 9l-.1 8l.9 7l1.5 4.7l2.1 3l3 1.4l2.5 -1.1l2.5 -3l.9 -2l.1 -5l-1.4 -14l-1.9 -10l-2.3 -6l-1.4 -1.4z"/>
<path fill="#00f0ff" fill-rule="evenodd" d="M509.6 674.0l194.4 0l0 188.9l-194.4 0zM536.7 779.0l-1 .6l-1.6 2.3l-2.2 7l-1.4 11l-.3 10l1 7l2 5l1.5 2.1l2 1.7l3 .5l3 -1.2l5 -3.2l.6 -.9l0 -2l-6.9 -33l-2 -5l-1.7 -1.8z"/>
<path fill="#05fffa" fill-rule="evenodd" d="M509.6 674.0l194.4 0l0 188.9l-194.4 0zM536.7 777.7l-2 1.5l-1.5 2.7l-1.8 6l-1.1 6l-1.8 17l.3 5l1 4l1.7 4l2 3l2.2 2l2 .9l3 .2l12 -2.1l1.3 -1l.8 -3l.2 -3l-.6 -3l-1.4 -3l-4.3 -5.5l-2 -3.8l-5.7 -22.7l-2.3 -4.3z"/>
<path fill="#1affe5" fill-rule="evenodd" d="M509.6 674.0l194.4 0l0 188.9l-194.4 0zM535.7 776.6l-2.1 2.5l-2.3 5.8l-6.3 26l-.3 6l1.4 5l2.1 4l3 4l2.4 2.3l3.1 1.8l4 .8l9 -.3l8 -1.7l1.4 -.9l1.3 -6l-.1 -5l-1.1 -4l-3.1 -5l-6.4 -5.8l-2 -2.5l-2 -4.8l-5 -18.3l-2 -3.2l-1 -.8z"/>
<path fill="#2effd1" fill-rule="evenodd" d="M509.6 674.0l194.4 0l0 188.9l-194.4 0zM535.7 775.2l-1.9 1.7l-1.6 3l-5.6 17l-2 3.1l-4.3 4.9l-2.1 4l-1.2 7l1.6 7l2.7 5l3.3 4l6 5l5.1 2.8l5 1.2l9 .3l6 -.8l6 -1.8l3 -1.5l.5 -1.2l.3 -11l-1.6 -7l-2 -4l-3.1 -4l-9.1 -7.2l-2 -2.4l-2 -4.7l-5 -16.5l-2 -3.2l-1 -.7z"/>
<path fill="#42ffbd" fill-rule="evenodd" d="M509.6 674.0l194.4 0l0 188.9l-194.4 0l0 -31.3l5.9 7.3l7.1 5.6l8 4l9.1 2.6l10 .6l10 -1.3l8 -2.8l7.7 -4.7l-2.6 -6l-2.9 -14l-2.8 -7l-2.5 -4l-3.6 -4l-11.3 -8.2l-2 -2.4l-2 -4.4l-4.4 -14l-1.6 -3l-2 -2.1l-2 -.2l-2.5 2.3l-3 6l-2.6 7l-2 3.2l-2 1.4l-9 3.9l-5 4.4z"/>
<path fill="#57ffa8" fill-rule="evenodd" d="M534.3 674.0l97 0l14.5 18l13.6 11l11.5 12.1l5.2 6.9l4.4 7l3.4 7l2.7 7l2 7l1.4 8l.6 8l-.2 7.9l-1 8l-1.6 7l-2.7 8l-3.1 7.1l-4.1 6.9l-5 6.9l-5 5.6l-6 5.5l-7 5.2l-8.4 4.8l-8.6 3.7l-9.1 2.6l-9 1.5l-9 .5l-9 -.7l-8 -1.8l-7 -3.2l-5.2 -4.6l-3.2 -5l-6.6 -15l-5.9 -8l-5.6 -5l-11.6 -7.9l-3 -5.7l-4.7 -13.4l-1.3 -2.4l-2 -2l-2 -.4l-2.1 1.2l-2.5 3.6l-4.5 8l-2 1.3l-3 0l-4.5 -1.3l-4.4 -2l-3.1 -2.1l0 -70.7l4.8 -10.1l5.5 -9l6.8 -9z"/>
<path fill="#6bff94" fill-rule="evenodd" d="M553.7 677.2l5.9 -3.2l46.3 0l6.9 4.3l8.5 6.7l14.6 7.2l10 6.8l5.4 5l7.3 8l7.4 9l4.9 7l6.6 13l2.4 7l1.6 7l1.1 13.9l-1.6 14l-4.1 13l-3 6.2l-4 6.4l-9 10.6l-11.1 8.8l-5.9 3.5l-7 3.1l-7.1 2.3l-8 1.8l-8 .7l-7 -.1l-6 -.8l-6 -1.8l-5.1 -2.7l-4.9 -4.4l-10.8 -15.6l-6.2 -7l-6.1 -5l-11 -6.7l-2 -1.8l-2 -3.2l-5.4 -14.3l-1.6 -2.8l-2 -2l-2 -.6l-2.1 .8l-6 6.6l-2 1l-3 -1.4l-2.9 -3.6l-2.5 -5l-1.5 -4.9l-1 -6l-.4 -7l1.4 -15l3.9 -15l5.7 -13l7.7 -12l9.7 -10.5z"/>
<path fill="#80ff80" fill-rule="evenodd" d="M559.7 683.1l7 -3l7 -1.9l7 -.8l7.1 .3l10 2.5l9.8 4.8l10.2 3.3l10 4.2l9.1 5.1l7.4 6.4l4.9 6l15.3 22l5.8 12l3.6 13l.8 12.9l-1.5 12l-4.1 12l-6.3 11l-8.9 10l-10 7.5l-12 5.7l-13.1 3.1l-7 .6l-6 -.3l-5 -.9l-5 -1.6l-4 -2.1l-4 -3.1l-13 -13.9l-6.6 -6l-7 -5l-10.5 -6.2l-2 -1.8l-2 -3.1l-5.7 -13.9l-3.3 -4.3l-3 -.9l-5.1 2.5l-2 .2l-1.1 -.5l-1.7 -2l-1.6 -3.9l-1.1 -5l-.6 -13l1.8 -13l3.9 -13l5.9 -12l7.6 -10.5l9 -8.8z"/>
<path fill="#94ff6b" fill-rule="evenodd" d="M560.7 689.3l10 -4l10 -1.4l8.1 .6l16 3.5l14 4.3l11 4.9l7.1 4.9l5.9 6.9l7.1 12.8l8.1 13.2l4.3 9l3.6 12l1.1 12l-.5 6.9l-1.4 7l-2.4 7l-2.8 6l-3.9 6l-4.1 5l-5.3 5l-5.7 4.2l-6 3.4l-5.6 2.4l-6.5 2l-6 1.1l-6 .5l-6 -.3l-5 -1l-5 -1.9l-7 -4.3l-19.6 -16.1l-18.5 -11.4l-3 -4.1l-4.9 -11.5l-3.1 -4.9l-3 -2.2l-5.1 -.5l-1.4 -1.3l-1.6 -3.1l-1 -3.9l-.4 -11l2.1 -13l4 -12l5.1 -10l6.6 -9l7.7 -7.6z"/>
<path fill="#a8ff57" fill-rule="evenodd" d="M559.7 695.2l8 -3.8l8 -2l14.1 -.2l9 .9l14 3.2l11 3.9l8.1 4.8l5.7 6l2.7 5l4.6 11.6l7.2 13.4l3.5 8l3.1 11l.8 10l-.4 5.9l-1.1 6l-4.1 11l-3 5l-3.8 5l-4.2 4.3l-5 4l-5 3.1l-6.1 2.8l-6 2l-6 1.2l-6 .4l-5 -.2l-5 -1l-5 -1.8l-6 -3.2l-18.4 -12.6l-19.7 -11.9l-3 -3.9l-7 -14.4l-3 -3.3l-5 -3.4l-1.1 -2.4l-.6 -3.6l-.1 -11l1.8 -10l3.4 -10l5.2 -10l5.4 -7.6l7 -7.1z"/>
<path fill="#bdff42" fill-rule="evenodd" d="M561.7 698.4l8 -3.5l10 -2.2l8.1 -.6l9 .6l14 2.7l10 3.2l8 4.4l5 5l2.9 6l3.9 14l6.6 14l2.6 7l2.1 9l.6 8l-1.4 10.9l-3.8 10l-6.3 9l-8.1 7.2l-8.1 4.5l-9 3l-9 1l-9 -.9l-7 -2.4l-7 -3.5l-31.1 -18l-3 -2.1l-2 -2.3l-7 -13.7l-6.2 -7.7l-1.6 -3l-.9 -6l.6 -8l1.4 -7l2.1 -7l3.1 -7l3.4 -6l4.4 -6l4.6 -5l5.1 -4.4z"/>
<path fill="#d1ff2e" fill-rule="evenodd" d="M566.7 699.1l8 -2.9l9.1 -1.3l9 .1l12 1.5l10 2.3l7 2.6l5.7 3.6l4.1 5l2 5l2.3 14l8.3 22l1.3 6l.4 4.8l-4.3 12.1l-5.3 11l-7.5 11.5l-2.9 3.5l-1.7 1l-10.4 4l-10 1.3l-10 -1.3l-10 -3.8l-28.1 -14.9l-6 -3.9l-3 -3.7l-6 -11.6l-4.5 -7l-2.1 -6l-.1 -8l2.2 -10l4 -10l4.6 -8l6.9 -8.4l6 -5.2z"/>
<path fill="#e5ff1a" fill-rule="evenodd" d="M573.7 698.8l7 -1.3l9.1 -.2l13 1.1l10 1.9l7 2.4l5 3.1l3.7 4.2l1.7 4l1.5 16l4.4 13l-1.1 8l-2.7 10l-5.9 13.9l-7.6 12l-8.5 9l-4.5 3.3l-4 1.9l-3 .3l-5 -.7l-10 -2.9l-13.1 -6l-19 -10.3l-3 -2.5l-2 -2.6l-8.4 -15.4l-2.1 -5l-.8 -8l1.5 -9l3.1 -9l4.9 -9l5.8 -7.6l7 -6.5l8 -5.1z"/>
<path fill="#faff05" fill-rule="evenodd" d="M578.7 700.0l8.1 -.5l12 .5l9 1.1l7 1.7l5 2.2l4.1 3l2.8 4l1.1 4l-.2 13l2 10l-2.8 15l-4.6 13l-6.8 11.9l-7.6 9l-8 5.9l-4 1.7l-4 .9l-7 -1.5l-9.1 -3.4l-15 -7.3l-10 -5.7l-3 -2.9l-4 -6.5l-4.6 -9.1l-2.1 -7l.1 -8l2 -9l3.9 -9l5.8 -9l6.9 -7.4l7 -5.1l8 -3.7z"/>
<path fill="#fff000" fill-rule="evenodd" d="M612.8 704.1l4.7 1.9l3.1 2l2 2l1.7 3l.9 5l-1.1 11l.7 7l-2.8 15l-3.2 10l-4.8 9.9l-6.4 9l-5 5l-5.8 4l-6 2.5l-5 .6l-8.1 -2.4l-8 -3.4l-14 -6.9l-6 -3.7l-4 -4.8l-5.5 -10.8l-1.8 -6l-.4 -6l1.2 -8l2.7 -8l4.2 -8l5.6 -7.4l5 -4.9l6 -4.3l6 -3l6 -1.7l8.1 -1l12 .1l10 .7z"/>
<path fill="#ffdb00" fill-rule="evenodd" d="M612.8 706.0l6 3.4l2 2.3l1.1 2.3l.5 5l-1.7 10l.2 5l-3.6 17l-2.9 9l-5.1 9.9l-6.5 8.4l-5 4.4l-5 3l-5 1.9l-5 .7l-8.1 -2.5l-9 -3.9l-12 -5.8l-5 -3.5l-4 -5.5l-3.8 -8.1l-1.5 -6l-.1 -7l1.6 -8l3.2 -8l4.1 -7l5.5 -6.8l5 -4.4l5 -3.3l6 -2.7l6 -1.5l8.1 -.7l15 .2l8 .8z"/>
<path fill="#ffc700" fill-rule="evenodd" d="M612.6 708.0l4.6 3l1.5 2l1 3l-.1 4l-1.9 8l-.5 6l-3.9 17l-2.8 8l-4.7 9l-6.6 7.9l-4.4 3.8l-4 2.4l-5 1.9l-5.1 .8l-8 -2.5l-15 -6.3l-5 -2.4l-4 -3l-4 -5.4l-2.8 -6.2l-1.5 -6l-.1 -7l1.7 -8l3.2 -8l4.3 -7l5.2 -6.1l5 -4.3l5 -3.1l5 -2.1l6 -1.4l7.1 -.5l18 .2l7 .9z"/>
<path fill="#ffb200" fill-rule="evenodd" d="M610.8 709.5l2.7 1.5l2.1 2l1.4 4l-.2 3l-2.4 9l-.4 4l-4.5 18l-2.5 7l-4.4 8l-5.8 7l-4 3.4l-4 2.4l-4 1.7l-5.1 1l-7 -1.9l-16 -6l-5 -2.5l-3 -2.4l-3.6 -4.7l-2.6 -6l-1.2 -6l.1 -7l1.9 -8l3 -7l4.4 -7l5 -5.6l4 -3.3l5 -3.1l5 -2.1l5 -1.1l7 -.5l19.1 .2l6 .8z"/>
<path fill="#ff9e00" fill-rule="evenodd" d="M608.8 711.0l3 1.9l1.6 2.1l.7 3l-.4 3l-2.5 8l-.5 4l-1.7 5l-2.5 11l-2 6l-4.7 8.9l-6 7l-4 3.1l-4 2.2l-4.1 1.4l-4 .7l-21 -6.5l-5 -2.5l-3 -2.4l-3.5 -4.9l-2.3 -6l-.8 -6l.4 -6l1.7 -7l3.1 -7l4.4 -6.7l4.9 -5.3l8.1 -5.7l5 -2l5 -1l25.1 .1l5 .5z"/>
<path fill="#ff8a00" fill-rule="evenodd" d="M606.8 713.0l3 2.4l1 3.6l-2.9 10l-4.5 19l-2.1 6l-2.4 5l-3.4 5l-3.7 4l-7 4.8l-5.1 1.9l-3 .4l-20 -5.1l-5 -2.4l-3 -2.5l-3 -4.4l-2.1 -5.7l-.7 -6l.6 -6l1.6 -6l3.2 -7l4 -6l4.4 -4.8l8 -5.6l5 -1.9l4 -.9l6 -.2l20.1 .9z"/>
<path fill="#ff7500" fill-rule="evenodd" d="M603.3 715.0l2.7 2l.8 3l-2.6 9l-.6 5l-3.3 13l-2.1 6l-2.4 4.7l-3 4.3l-4 4l-6 3.9l-6.1 2.1l-19 -3.3l-5 -2.1l-4 -3.3l-2.8 -4.3l-1.6 -5l-.5 -6l.7 -6l1.8 -6l2.9 -6l4.2 -6l4.3 -4.5l4 -3l4 -2.1l8 -2.2l6 0l18.1 1.6z"/>
<path fill="#ff6100" fill-rule="evenodd" d="M598.8 717.7l2 1.5l.8 2.8l-1.5 8l-.2 5l-4 15l-2.4 5l-2.7 4.1l-3.7 3.9l-5.8 4l-5.6 1.9l-17 -1.5l-5 -1.8l-4 -2.9l-2.7 -3.7l-1.8 -5l-.6 -5l.6 -6l1.6 -6l2.7 -6l3.3 -5l4.6 -5l4.3 -3.3l4 -2.2l8 -2l7.5 .5z"/>
<path fill="#ff4c00" fill-rule="evenodd" d="M593.9 721.0l1.4 2l.5 2l.3 12l-1.9 8l-2.3 6l-3.1 5.3l-4 4.4l-4.1 3l-4 2.2l-11 .6l-5 -.2l-5 -1.2l-3 -1.5l-3 -2.6l-2.5 -4l-1.3 -4l-.4 -5l.6 -6l1.9 -6l2.4 -5l3.3 -4.8l4 -4.3l4 -3.1l4 -2.1l4 -1.3l4 -.5l5 .3l5.1 1.2l6.8 2.6z"/>
<path fill="#ff3800" fill-rule="evenodd" d="M586.3 720.0l3.4 3l1.5 3l1.5 12l-2.8 10l-2 4l-2.8 4l-3.4 3.4l-4 3l-8 1.9l-6 .6l-5 -.4l-4 -1.2l-3 -1.9l-2.2 -2.4l-2.1 -4l-.9 -4l-.2 -5l.8 -5l1.7 -5l2.5 -5l3.4 -4.9l7 -6.2l4 -2.1l4 -1.3l4 -.4l4 .4l4.7 1.5z"/>
<path fill="#ff2400" fill-rule="evenodd" d="M581.7 719.8l3.1 2.2l2.3 3l1.4 4l.8 6l-.2 7l-2.1 6l-2.9 5l-6.4 6.5l-8 2.9l-5 .9l-5 0l-4 -.9l-3 -1.7l-2.7 -2.7l-1.6 -3l-1.1 -4l-.2 -4l.4 -4l1.3 -5l2.2 -5l2.4 -4l6.3 -6.7l7 -3.9l4 -.9l4 0l4 .9z"/>
<path fill="#ff0f00" fill-rule="evenodd" d="M578.7 720.1l2.9 1.9l2 2l1.6 3l1.1 4l.4 6l-.4 6l-3 7l-4.7 6l-3.9 2.4l-5 2.2l-5 1.3l-4 .2l-4 -.7l-3 -1.4l-2.3 -2l-2 -3l-1 -3l-.5 -4l.2 -4l1.1 -5l3.8 -8l5.7 -6.8l3 -2.3l4 -2l4 -1.1l3 -.2z"/>
<path fill="#fa0000" fill-rule="evenodd" d="M577.7 721.4l2.4 1.6l2.4 3l1.8 6l-.1 9l-1 4l-1.8 4l-2.1 3l-3 3l-7.6 4.3l-4 1.2l-4 .3l-3 -.4l-3 -1.2l-2 -1.5l-2.2 -2.7l-1.2 -3l-.6 -4l.9 -8l3.6 -8l5.5 -6.7l6 -4l4 -1.3l3 -.2l3 .4z"/>
<path fill="#e50000" fill-rule="evenodd" d="M576.7 722.5l2 1.5l2.3 3l1.6 6l-.4 8l-1.1 4l-2 4l-5.4 5.8l-7 3.8l-4 .9l-3 0l-5 -1.6l-2.2 -1.9l-1.8 -2.9l-1.3 -6.1l1 -7l3.3 -7.6l5 -6.1l6 -4l6 -1.3l3 .3z"/>
<path fill="#d10000" fill-rule="evenodd" d="M574.7 723.1l2 1.2l2 2.2l2.2 5.5l-.2 8l-2.4 7l-4.6 5.8l-6 4l-6 1.6l-3 -.2l-3 -1.1l-2 -1.4l-2 -2.7l-1.4 -5l.5 -7l2.8 -7l4.5 -6l5.6 -4.2l6 -1.7z"/>
<path fill="#bd0000" fill-rule="evenodd" d="M573.7 724.1l2 1.3l2 2.3l1.8 5.3l-.3 7l-2.6 7l-4 5l-5.9 3.9l-6 1.3l-3 -.5l-2 -.9l-2 -1.7l-1.4 -2.1l-1.3 -5l.7 -6.4l2.7 -6.6l4.3 -5.6l5 -3.6l5 -1.5z"/>
<path fill="#a80000" fill-rule="evenodd" d="M572.7 725.1l3.5 2.9l1.9 5l-.3 7l-2.2 6l-3.8 5l-5.1 3.5l-5 1.5l-5 -1l-3.3 -3l-1.5 -5l.4 -6l2.4 -6l3.6 -5l4.4 -3.7l5 -1.8z"/>
<path fill="#940000" fill-rule="evenodd" d="M571.7 726.2l3.4 2.8l1.6 4.1l0 5.9l-2 6l-4 5.3l-5 3.4l-5 1.1l-4 -1.1l-3 -3.5l-1 -4.2l.4 -5l2.4 -6l3.2 -4.4l4.7 -3.6l4.3 -1.4z"/>
<path fill="#800000" fill-rule="evenodd" d="M571.7 727.7l3 3.3l1 4l-.4 5l-2 5l-3.6 4.6l-4 2.8l-4 1.2l-4 -.8l-3 -2.8l-1.1 -4l.3 -5l1.9 -5l3.7 -5l4.2 -3.1l4 -1.1z"/>
<path fill="#800000" fill-rule="evenodd" d="M570.7 728.8l2.4 2.2l1.3 4l-.4 5l-2 5l-3.3 4l-4 2.6l-4 .7l-3 -.9l-2.2 -2.4l-1.1 -4l.4 -4l1.9 -5l3 -4.1l4 -2.9l4 -1z"/>
<path fill="#800000" fill-rule="evenodd" d="M569.7 729.9l2.3 2.1l1.2 4l-.4 4l-1.6 4l-2.5 3.4l-3.4 2.6l-3.6 1l-3 -.6l-2 -1.8l-1.3 -3.6l.3 -4l1.4 -4l2.6 -3.8l3 -2.5l4 -1.3z"/>
</g>
<g clip-path="url(#ct3)">
<rect x="701.0" y="671.0" width="200.4" height="194.9" fill="#004dff"/>
<path fill="#004dff" fill-rule="evenodd" d="M704.0 674.0l194.4 0l0 188.9l-194.4 0z"/>
<path fill="#00a8ff" fill-rule="evenodd" d="M704.0 674.0l194.4 0l0 188.9l-194.4 0z"/>
<path fill="#05fffa" fill-rule="evenodd" d="M704.0 674.0l194.4 0l0 188.9l-194.4 0z"/>
<path fill="#61ff9e" fill-rule="evenodd" d="M704.0 674.0l194.4 0l0 188.9l-194.4 0zM749.1 750.7l-2 1.3l-1.1 2l-1.1 4l-.3 5l.5 4.7l1 3.4l2 3.1l2 .9l2 -.6l2 -2.6l1.3 -3.9l.3 -5l-.8 -5l-1.6 -4l-2.2 -2.7zM782.1 769.9l-1.1 4l1.1 4l2.9 3l4.2 1.9l5 .4l4 -1l4 -2.7l2.1 -3.6l.3 -3l-1.4 -3.7l-2.1 -2.2l-3.9 -2l-4 -.6l-5 .8l-3.3 1.8z"/>
<path fill="#bdff42" fill-rule="evenodd" d="M704.0 674.0l194.4 0l0 188.9l-194.4 0zM744.1 745.5l-2.5 7.5l-.9 10l.9 8.9l2.6 8l1.9 3.1l3 2.6l10 3.2l9 7.1l4 2.4l5.1 2l6 1.1l6 -.1l5 -1.3l4 -2.3l11.7 -9.8l3 -3l2 -3l1.5 -4l.7 -5l-.3 -4.9l-1.1 -5l-1.9 -5l-3.1 -5l-2.7 -3l-3.8 -2.6l-7 -2.3l-17 -2.9l-6.1 .9l-9 4.6l-3 .9l-3 -.9l-6 -4.9l-3 -1.3l-3 .5z"/>
<path fill="#ffe500" fill-rule="evenodd" d="M704.0 674.0l194.4 0l0 188.9l-194.4 0zM746.1 730.4l-3.7 3.6l-2.9 6l-2.2 8l-1.4 11l0 9l1 8.9l2.5 9l2.9 6l2.8 3.7l4 3.5l14 9.3l8 3.8l8.1 2.1l7 .5l7 -1.1l5 -2.4l4 -3.1l3.1 -3.3l6.8 -10l8.8 -10l3.4 -6l1.9 -7l.2 -5.9l-1.5 -7l-3 -6l-5.1 -6l-7.6 -5.7l-6 -3.2l-10.9 -3.1l-6.1 -4.8l-3 -1.3l-4 -.4l-4.1 .4l-12 4.1l-3 .5l-3 -.5l-7 -3.2l-2 0z"/>
<path fill="#ff8a00" fill-rule="evenodd" d="M817.2 721.9l6 .8l7.1 3.1l6 4.2l5.9 6l4.8 7l3.2 7l2 7l1 8l-.3 7.9l-1.6 8l-2.7 7l-4 7l-5.3 6.3l-6 5l-6 3.2l-6.1 1.5l-3.3 -1l-.6 -1l.1 -2l4.8 -11.6l7.6 -15.4l1.7 -7l.3 -5.9l-1 -7l-2.1 -6l-3.6 -6l-8.6 -11l-3.6 -8l-.6 -3l.3 -2l1.6 -1.5z"/>
</g>
<g clip-path="url(#ct4)">
<rect x="895.4" y="671.0" width="202.0" height="194.9" fill="#004dff"/>
<path fill="#0024ff" fill-rule="evenodd" d="M898.4 674.0l196 0l0 188.9l-196 0z"/>
<path fill="#0038ff" fill-rule="evenodd" d="M898.4 674.0l196 0l0 188.9l-196 0z"/>
<path fill="#004dff" fill-rule="evenodd" d="M898.4 674.0l196 0l0 188.9l-196 0z"/>
<path fill="#0061ff" fill-rule="evenodd" d="M898.4 674.0l196 0l0 188.9l-196 0zM924.4 788.3l-1 1l.1 2.6l1 4l1.9 4.5l5 7.9l3 3l2 1l.6 -.4l.1 -1l-1.6 -4l-7.1 -13.4z"/>
<path fill="#0075ff" fill-rule="evenodd" d="M898.4 674.0l196 0l0 188.9l-196 0zM921.4 780.0l-.7 2.9l.7 8.2l1 3.8l3 7l3 5.1l4 5.1l4 3.7l4 1.8l1 -.7l0 -1l-2 -5l-17 -30.5z"/>
<path fill="#008aff" fill-rule="evenodd" d="M898.4 674.0l196 0l0 188.9l-196 0zM920.4 764.4l-1 .9l-1 4.6l0 10l1.5 10l2.6 8l4.9 9.5l6 7.8l6 5l3 1.2l2 -.2l.4 -2.3l-1.1 -3l-9.6 -16l-8.2 -16l-2.3 -6l-2.2 -10.9z"/>
<path fill="#009eff" fill-rule="evenodd" d="M898.4 674.0l196 0l0 188.9l-196 0zM921.4 752.3l-1 .6l-2 4.2l-1.2 5.9l-.5 6.9l.8 13l1.3 7l1.8 6l5.3 11l7.5 9.9l5 4.6l4 2.6l3 .9l2 -.3l.8 -1.7l-.8 -3l-12.9 -21l-8.6 -18l-2 -8l-1.5 -18.3z"/>
<path fill="#00b3ff" fill-rule="evenodd" d="M898.4 674.0l196 0l0 188.9l-196 0zM922.4 744.0l-2 2.5l-2.2 5.5l-1.7 7l-.9 7l-.2 6.9l.7 8l2.7 13l5.3 12l3.8 6l4.1 5l4.4 4.4l5 3.8l5 2.8l3 .2l1 -.4l1 -1.8l-1.2 -4l-14.8 -23l-7.5 -15l-1.7 -5l-1.3 -6l-.7 -7.9l.2 -19l-1 -2.2z"/>
<path fill="#00c7ff" fill-rule="evenodd" d="M898.4 674.0l196 0l0 188.9l-196 0zM924.4 737.5l-3 3.5l-3 6.1l-2.3 6.9l-1.5 8l-.5 6.9l.3 8l.8 7l2 9l2.6 7l2.9 6l4.5 7l4.2 5.2l5 4.9l6 4.5l6 3.1l4 1l1.2 -.7l1 -2l-.9 -4l-17.5 -26l-7.5 -15l-2 -6l-1.2 -7l-.5 -8.9l1.6 -21l-.9 -3z"/>
<path fill="#00dbff" fill-rule="evenodd" d="M898.4 674.0l196 0l0 188.9l-196 0zM926.4 732.6l-4 3.7l-3.5 5.7l-2.9 7l-2.3 9l-1 9l.1 8.9l1.1 9l2.1 9l3.1 8l3.7 7l4.8 7l5.3 6l6.5 5.6l6 3.8l7 2.9l5 .8l1 -3.1l-1.6 -5l-19.7 -28l-7.2 -14l-2.2 -6l-1.4 -8l-.5 -9.9l2.6 -24.4l-.4 -2.6l-.6 -1.1z"/>
<path fill="#00f0ff" fill-rule="evenodd" d="M898.4 674.0l196 0l0 188.9l-196 0zM928.4 728.3l-5 3.6l-4.6 6.1l-3.8 8l-2.9 10l-1.3 9l-.1 9.9l1.1 10l2.3 10l3.6 9l4.5 8l5.9 8l6.3 6.4l8 6.1l7 3.6l7 2.3l7.2 .6l.8 -1l-3.5 -8l-3.4 -5l-11.1 -13.8l-8 -11.4l-6.3 -11.8l-3.4 -8l-1.5 -7l-.7 -8.9l.7 -11l3 -19l-.3 -4l-.5 -1.3z"/>
<path fill="#05fffa" fill-rule="evenodd" d="M898.4 674.0l196 0l0 188.9l-196 0zM928.4 724.8l-3 1.7l-4.1 3.5l-6.3 8l-5.1 11l-2.9 10l-1.5 11.9l.4 13l1.9 13l3.2 9l6.1 11l6.9 9l8.4 8.2l10 7.1l11 5.2l9 2.3l10 .7l5 -.7l4 -1.4l3.9 -2.4l-10.9 -4l-3.1 -2l-2.9 -2.7l-19 -22.7l-7 -9.3l-5 -7.5l-6.9 -13.8l-2.5 -9l-.7 -12.9l.7 -9l3.5 -18l.6 -6l-.7 -3.4z"/>
<path fill="#1affe5" fill-rule="evenodd" d="M956.4 677.6l11 -3.6l38.6 0l12.4 4.5l10 5.5l10 4.6l5.1 3.4l-.9 1l.1 1l-1.8 2l.1 1l-1.9 2l0 1l-1.9 2l0 1l-.9 1l.1 1.4l10 7.4l7.3 7.2l6.7 8.7l5.2 9.3l2.8 7l2 7l1.8 14l-.9 13.9l-1.5 7l-2.3 7l-3.1 7l-3.4 6l-8.6 11.2l-5 4.8l-6 4.8l-6 3.9l-7 3.6l-7 2.8l-7 2l-14 2l-7 0l-7 -.8l-5 -1.2l-5 -2l-4 -2.5l-4 -3.5l-19 -20l-10.4 -14.1l-7.6 -14.6l-2.7 -9.4l-.7 -13.9l1.2 -11l4.4 -20l.5 -7l-.7 -1.2l-2 -.6l-7 .2l-1.2 -1.4l.1 -3l1.6 -5l3 -6l8.4 -12l9.1 -8.3z"/>
<path fill="#2effd1" fill-rule="evenodd" d="M971.4 678.7l8 -1.5l6 -.4l9 .4l9 1.4l7 2.2l7 2.9l23 12l.1 1.3l-1.7 2l0 1l-1.8 2l0 1l-.9 1l-.7 2.5l14 13.6l6.6 7.9l5.9 10l4.3 11l2.5 13l.3 6.9l-.4 7l-2.8 13l-2.6 7l-3 6l-7.8 11.3l-10 9.7l-6 4.3l-6 3.5l-13 5.2l-13 2.6l-13 .2l-10 -2l-5 -2.1l-4 -2.5l-7 -5.5l-8 -7.5l-6 -6.3l-6 -7.5l-8 -11.8l-5.4 -10.6l-2.1 -6l-1.3 -10.9l.4 -11l1.6 -9l4.9 -20l.9 -8l-3.6 -5l0 -3l1 -3l2.8 -5l3.6 -5l8.2 -7.6l10 -6.5z"/>
<path fill="#42ffbd" fill-rule="evenodd" d="M970.4 682.7l7 -1.5l7 -.9l9 .3l9 1.3l13 4.5l23 12.2l.1 1.4l-1.8 2l-.7 3l-1.2 2l5.3 6l14.3 18.4l4.9 8.6l3.5 9l2.6 13l0 12.9l-2.7 13l-5.1 12l-7.5 11l-9.1 9l-11.6 7.7l-12 4.9l-12 2.6l-13 .4l-11 -2l-9 -4.2l-12 -9.2l-11 -11.4l-10 -13.3l-6 -11.1l-2.5 -6.4l-1.6 -10.9l.4 -12l1.8 -10l6.9 -26l.6 -4l-.7 -5l.9 -4l4.2 -6.9l8 -7.3l8 -5.2z"/>
<path fill="#57ffa8" fill-rule="evenodd" d="M970.4 685.6l8 -1.8l6 -.7l9 .2l9 1.2l13 4.8l21.5 11.7l-1.1 4l-1.4 2.4l5.5 6.6l4 6l11.2 19l4.3 10l2.6 12l.2 11.9l-2 12l-4.8 12.2l-7 10.8l-8.9 9l-10.1 7l-12 5.3l-13 2.8l-13 .3l-11 -2.2l-10 -4.7l-7 -4.9l-6 -5.1l-12 -13.5l-6 -8.4l-6 -10.9l-2 -5.4l-1.5 -12.2l1.1 -14l2.8 -12l5.6 -18l4 -16l4.2 -6l6.8 -5.8l7 -4.4z"/>
<path fill="#6bff94" fill-rule="evenodd" d="M973.4 687.3l8 -1.6l5 -.4l8 .3l8 1.2l12 4.5l21.9 11.7l-.7 1l.1 1l-1.6 2l.3 1.2l5.5 6.8l4.8 8l7.1 15l4.8 13l2.2 11l.1 11.9l-2.4 12l-4.7 11l-6.8 10l-8.6 8.4l-10 6.6l-12 4.9l-12 2.2l-13 -.1l-11 -2.5l-10 -4.9l-6 -4.1l-6 -5.2l-14 -16l-8 -13.4l-2.6 -6.9l-1 -7l-.2 -6.9l1.6 -14l3.8 -14l10.4 -28.8l4.8 -6.2l7.2 -5.6l5 -2.8z"/>
<path fill="#80ff80" fill-rule="evenodd" d="M973.4 689.5l8 -1.7l5 -.4l8 .3l8 1.2l12 4.6l21 10.7l.1 .8l-1.6 2l.5 1.8l4.2 5.2l4.4 7l9 21l2.8 13l1 14.9l-1.4 11l-3.7 11l-5.9 10l-8.4 9.2l-10 7.1l-6 3l-6 2.2l-12 2.4l-12 0l-11 -2.2l-11 -4.9l-6 -4.1l-5 -4.2l-14 -15l-8 -12.6l-2.8 -6.9l-1.3 -12.9l1.4 -14l4.4 -16l8.4 -21l4.4 -8l5.5 -5.7l8 -5.4zM1000.4 751.7l-3 1.5l-2 2.2l-1.4 3.6l.1 3l1.2 3l2.1 2.1l3 1.3l4 0l3 -1.3l2.1 -2.1l1.3 -3l0 -4l-1.4 -3l-2 -2.1l-3 -1.3z"/>
<path fill="#94ff6b" fill-rule="evenodd" d="M973.4 691.4l7 -1.6l6 -.6l8 .3l8 1.2l12 4.3l20 10.2l.1 .8l-.8 1l.3 2l4.7 6l4.2 7l7.9 19l2.4 11l.3 12l-2.2 15.9l-3.8 11l-6 10l-8.1 8.5l-9.5 6.5l-10.5 4.5l-11 2.2l-12 0l-11 -2.3l-10 -4.3l-9.9 -7.1l-15.1 -14.7l-8 -11.6l-2.9 -6.7l-1.4 -12.9l1.3 -13.9l4.5 -16.1l7.1 -17l4.4 -8.2l6 -6.9l9 -6.3zM1000.4 747.6l-5 2.2l-3.1 3.2l-2 4l-.3 5l1.4 5l3 3.3l5 2.4l5 .2l5 -1.9l3.3 -3l2.4 -5l.2 -5l-1.9 -5l-4 -4l-4 -1.5z"/>
<path fill="#a8ff57" fill-rule="evenodd" d="M979.4 691.7l5 -.8l6 0l13 1.5l11 4l19 9.6l0 3l6.1 8l4.3 8l5.3 13l2.1 7l1.5 12l-1 11.9l-1.1 5l-4.5 12l-3.8 8l-6.8 9l-8 7l-9.1 5.2l-10 3.3l-10 1.3l-10 -.5l-10 -2.5l-9 -4.2l-6.6 -4.6l-7.5 -7l-9 -7l-8.9 -11.8l-3.2 -7.2l-1.3 -12.9l.4 -7l1.1 -7l4.6 -16l8.1 -18l5.4 -8l7.9 -6.8l7 -3.9zM1003.4 744.5l-6.7 1.5l-4.3 3l-3.8 5l-1.5 6l.8 7l2.4 3.9l5.1 3.9l6 1.5l6 -.7l3 -1.4l3 -2.1l3.8 -5.1l1.5 -6l-.8 -6l-1.3 -3l-2.2 -3.1l-5 -3.6zM1024.4 721.9l0 1.1l-1 1l1 .3l.7 -.3z"/>
<path fill="#bdff42" fill-rule="evenodd" d="M977.4 693.6l7 -1.3l11 .1l7 .9l11 3.9l20 10.1l0 2.3l5 6.5l4 7l7.7 19.9l1.7 10l-.1 10l-1.9 9.9l-3.9 8l-8.1 14l-7.4 8.5l-5 4.1l-5 3l-11 4.4l-9 1.5l-10 -.2l-9 -1.9l-10 -3.9l-6 -3.7l-18.2 -13.8l-3.4 -5l-5.8 -7l-2.8 -6l-1.4 -12.9l1.1 -13l4.1 -15l7 -16l5.4 -8.9l6 -6.1l8 -5.2zM1011.4 742.4l-3 -.5l-5 0l-7 1.7l-5 3.3l-3 3.1l-1.9 3l-1.8 7l.7 9.9l3 4.1l5 3.7l7 2l4 0l4 -.8l4 -1.8l3 -2.1l2.8 -3.1l1.9 -3l2 -6.9l0 -4l-.8 -4l-1.8 -4l-2.1 -3l-3 -2.8zM1025.4 720.9l-1.2 1.1l0 1l-1 1l0 1l-1.2 2l6.4 3.9l.5 -.9l-.4 -3z"/>
<path fill="#d1ff2e" fill-rule="evenodd" d="M978.4 694.5l6 -1.1l5 -.2l13 1.2l11 3.9l19.1 9.7l.6 2l5.3 7l4 7.3l7.3 19.7l1.5 10l-.2 9l-2.1 9.9l-3 6l-4.5 6.6l-8 10l-6 6.3l-9 6.2l-10.4 3.9l-8.6 1.4l-8 -.2l-11 -1.7l-9 -2.7l-5 -3.1l-18 -13l-3.5 -5.7l-6.1 -7l-2.5 -5l-1.6 -11.9l.8 -13l3.8 -15l6.6 -15l6.1 -10l6.4 -6.3l8 -5.2zM1015.4 737.7l-13 1.9l-7 2l-4.9 3.4l-5.5 6l-1.4 3l-1.2 5l0 8l-1.2 5.9l1.7 4l6.5 5.4l4 1.9l5 1.3l5 .3l5 -.8l5 -2.2l7.1 -4.9l4.2 -5l2.3 -4.9l1.1 -5l0 -5l-.9 -5l-2 -5l-2.6 -4l-3.2 -3.4zM1025.4 720.7l-1.4 1.3l-1 3l-1.9 2l-.7 2.8l10 7.5l1 -.3l0 -4l-1 -4.1l-3.8 -7.9z"/>
<path fill="#e5ff1a" fill-rule="evenodd" d="M993.4 694.2l8 .9l8 2.5l22.4 11.4l4.6 6.1l4 6.5l7 17l2 6.7l.9 5.7l.1 11l-2.3 10.9l-5.7 9.6l-6 6.7l-7 4.6l-8 6.9l-7 3.9l-8 2.6l-17 2.9l-8 0l-8 -1.8l-2.9 -1.4l-16.1 -10.8l-5.4 -4.2l-2.7 -5l-6.1 -7l-2.7 -5l-1.8 -10.9l.2 -11l2.6 -13l3.8 -11l6.7 -13l3.4 -5l3 -3.4l8 -6.2l8 -3.8l13 -3.2zM1026.4 719.2l-.2 .8l-2.4 2l-1 3l-2.1 2l-.1 1l-2.2 1.9l-10 5.4l-15 4.7l-6 5l-3.8 4l-2.2 4l-1.4 5l-.8 10l-2.4 3.9l-5.9 7l-.4 3l.5 3l1.4 3.5l1.3 1.5l6.7 4l5 .5l6 -.5l7 -2.3l7.9 -1.7l5.9 -3l6.2 -5.2l7 -3.8l3.6 -3l3.4 -3.8l2 -4.5l1 -4l.6 -5.6l-.3 -6l-3.6 -20l-2.3 -6z"/>
<path fill="#faff05" fill-rule="evenodd" d="M992.4 695.1l9 .9l9 3l17.3 9l5.7 4.5l4 5.5l3 5.2l7 17.7l2.2 10.1l-.1 12l-2.3 9.9l-5.8 9.3l-4.5 4.7l-8.5 5.7l-4 3.9l-4.6 3.4l-7.4 3.8l-7.2 2.2l-15.8 2.7l-10 -.1l-6 -1.3l-2.5 -1.3l-15.5 -10.1l-6 -4.8l-2.4 -5.1l-5.4 -6l-3.1 -6l-1.9 -10.9l.3 -11l2.5 -12.6l3.6 -10.4l6.2 -12l6.2 -8.2l8 -6.3l8 -3.9l12 -3.1zM1027.4 718.8l-1 -.3l-.6 1.5l-2.2 2l-1.1 3l-2.1 1.9l-20 8l-7 2.3l-4 2.9l-8.2 7.9l-2.3 4l-1.9 6l-.9 9l-7.4 12.9l1.1 6l2.7 5l6.9 4.2l5 .7l7 -.5l7 -2.1l7 -1.4l7 -3.3l7 -5.8l6.9 -3.8l3.6 -3l3.6 -4l1.7 -3l1.6 -5.9l.7 -6l-.3 -6l-4.2 -21l-2 -5z"/>
<path fill="#fff000" fill-rule="evenodd" d="M997.4 696.3l5 .8l8 2.8l14.4 8.1l3.4 3l1.2 3.9l1 -1.3l1 .4l5 5.6l5 9.2l6 16.1l1 5.4l.3 5.7l-.3 6.5l-1 5.6l-2 5.9l-6.4 8.9l-4.6 4.1l-7 4.3l-6.1 5.6l-6.5 4l-8.1 3l-15.9 3l-8.4 .3l-8 -1.2l-17.2 -10.1l-6.8 -4.9l-2.3 -5.1l-6.5 -8l-2.5 -6l-1.6 -9.9l.2 -9l1.7 -10.5l3 -10.2l4.7 -10.3l6.3 -9.8l5 -5l9 -6l9 -3.3l9 -1.9zM1029.2 716.0l-.8 -.4l-.7 1.4l-2.2 2l-.1 1l-2 2l0 .7l-3.7 2.3l-8.3 3.6l-6.4 1.4l-12.6 4.5l-11 9.1l-3.1 3.4l-2.3 4l-2.1 6l-1.2 5l-.3 6l-2.2 6.9l-2.8 6l1.4 6l2.6 5.2l7 4.4l6 .8l8 -.7l6 -1.8l7 -1.3l7 -3.1l4 -2.8l3.8 -3.7l6.2 -3.2l4 -3.2l4.2 -4.6l2.3 -4l1.7 -6.9l.5 -6l-.4 -7l-3.9 -19z"/>
<path fill="#ffdb00" fill-rule="evenodd" d="M1012.4 702.0l8.9 6l2.7 3l-.2 3l-3.1 6l-2.6 3l-5.7 3.3l-20 5l-4 2.7l-12 10.6l-3 4.9l-2.5 7.5l-.9 5l-.3 8.9l-1 5l-2.3 5l1.7 10l-.5 2l-2.2 2.5l-2 1.1l-3 -.4l-4 -2l-5 -3.6l-2.7 -5.6l-5.8 -7l-2.5 -5.4l-1.8 -9.5l0 -11l2.2 -12l3.6 -10.8l5 -9.8l5 -7.2l6 -5.6l8 -4.9l9 -3.2l9 -1.7l10 .2l7 1.3z"/>
<path fill="#ffc700" fill-rule="evenodd" d="M1011.9 703.0l5.1 4l2.3 4l-.5 3l-3.3 7l-2.1 2.3l-3 1.4l-19 4.7l-4 2.6l-11 9l-4.3 6l-3.2 10l-.8 5l0 8.9l-.6 5l-2.5 6l0 5l-.6 2l-3 2.7l-2 1l-3 -.5l-3.8 -2.2l-2.5 -5l-5.3 -6l-2.7 -5l-2 -7.9l-.7 -9l.7 -9l2.6 -12l4.5 -11l5.2 -8.9l6 -6.9l6 -4.3l7 -3.5l9 -2.8l7 -1l11 .5l7 1.8z"/>
<path fill="#ffb200" fill-rule="evenodd" d="M1009.2 703.0l3.8 3l1.7 3l-.1 3l-2.8 8l-1.8 2l-3.9 2l-15.7 4l-13.6 10l-2.4 2.4l-4.2 6.6l-3.1 10l-.7 5l.1 9.9l-.6 5l-4.5 8l-4.7 3l-2.3 .2l-8 -9.2l-2.8 -5l-2.2 -7.8l-.9 -8.1l.5 -9l2.3 -12l3.1 -8.5l5 -9.6l4.3 -5.9l6.7 -5.8l7 -4.1l9 -3.1l8 -1.5l9 .2l7 1.2z"/>
<path fill="#ff9e00" fill-rule="evenodd" d="M1006.1 703.0l3.3 3l1 3l-1.7 8l-1.3 3l-2.3 2l-4.2 2l-7.5 1.3l-4 1.5l-4.8 3.2l-11 9l-4.7 7l-3.3 10l-1.1 6l-.2 9.9l-.9 5.3l-2 2.2l-5 2.4l-2 .5l-3 -.9l-4 -4.5l-3 -5.9l-2 -8.3l-.5 -9.7l1.5 -12l2 -7.5l4 -9.4l5 -8.1l5 -5.5l5 -3.6l5.3 -2.9l8.8 -3l7.9 -1.5l7 .1l8 1.2z"/>
<path fill="#ff8a00" fill-rule="evenodd" d="M1003.7 704.0l1.6 2l.5 3l-1.2 8l-1.5 3l-2.7 2l-7 1.4l-5 2.2l-14 10.4l-4.4 5l-2.9 5l-4 11l-2.7 9.8l-1 1.8l-2 1.3l-5 1l-2 -.1l-2 -1.2l-3 -5.5l-1.2 -5.1l-.5 -7l.8 -9l1.7 -8l2.2 -6.1l3.9 -7.9l4 -6l4.1 -4.2l6 -4l6 -2.8l6.7 -2l7.3 -1.3l7 .3l8 1.4z"/>
<path fill="#ff7500" fill-rule="evenodd" d="M999.7 706.0l.8 1l.4 2l-.9 8l-2.5 2l-7.1 3l-3 1.9l-14.2 11.1l-6.5 7l-6.3 10.2l-2 1.3l-2 .2l-6 -1.2l-1.9 -1.5l-1.1 -3.2l-.3 -5.8l.7 -5l1.6 -6l2 -5.4l3 -5.8l2.5 -3.8l3.8 -4l9.7 -5.8l11.6 -3.2l4.4 -.5l5.6 .5l4 1z"/>
<path fill="#ff6100" fill-rule="evenodd" d="M984.4 707.1l1 .9l1 2l1.1 5l-.1 3l-2.7 4l-9.3 9.4l-9 5.9l-3 .9l-3 -.8l-6 -4.4l-.9 -2l-.2 -2l1.1 -4.8l3 -6.2l4 -4.9l7 -4l6 -2.1l6 -.7z"/>
<path fill="#ff4c00" fill-rule="evenodd" d="M963.4 714.7l3 -1.1l3 -.3l1.8 .7l1.2 1.3l3 5.4l.6 2.3l-.5 3l-2.1 3.3l-3 .5l-3 -.7l-6 -6.1l-.7 -2l.2 -2l1.3 -3z"/>
</g>
<path d="M121.5 674.0H1094.4V862.9H121.5zM315.2 674.0V862.9M509.6 674.0V862.9M704.0 674.0V862.9M898.4 674.0V862.9" fill="none" stroke="#222" stroke-width="4"/>
<path d="M218.3 674.0v6M218.3 862.9v-6M121.5 768.5h6M315.2 768.5h-6M331.4 674.0v6M331.4 862.9v-6M396.2 674.0v6M396.2 862.9v-6M461.0 674.0v6M461.0 862.9v-6M315.2 705.5h6M509.6 705.5h-6M315.2 768.5h6M509.6 768.5h-6M315.2 831.4h6M509.6 831.4h-6M606.8 674.0v6M606.8 862.9v-6M509.6 768.5h6M704.0 768.5h-6M720.2 674.0v6M720.2 862.9v-6M785.0 674.0v6M785.0 862.9v-6M849.8 674.0v6M849.8 862.9v-6M704.0 705.5h6M898.4 705.5h-6M704.0 768.5h6M898.4 768.5h-6M704.0 831.4h6M898.4 831.4h-6M996.4 674.0v6M996.4 862.9v-6M898.4 768.5h6M1094.4 768.5h-6" stroke="#222" stroke-width="3"/>
<text x="130.5" y="291.2" font-size="34" text-anchor="start" fill="#e8141c">A</text>
<text x="332.8" y="293.3" font-size="34" text-anchor="start" fill="#e8141c">B</text>
<text x="526.8" y="291.5" font-size="34" text-anchor="start" fill="#e8141c">C</text>
<text x="722.8" y="290.3" font-size="34" text-anchor="start" fill="#e8141c">D</text>
<text x="911.6" y="289.2" font-size="34" text-anchor="start" fill="#e8141c">E</text>
<text x="128.4" y="501.3" font-size="34" text-anchor="start" fill="#e8141c">A</text>
<text x="329.6" y="498.2" font-size="34" text-anchor="start" fill="#e8141c">B</text>
<text x="524.7" y="495.8" font-size="34" text-anchor="start" fill="#e8141c">C</text>
<text x="720.7" y="498.2" font-size="34" text-anchor="start" fill="#e8141c">D</text>
<text x="914.7" y="495.1" font-size="34" text-anchor="start" fill="#e8141c">E</text>
<text x="128.4" y="707.2" font-size="34" text-anchor="start" fill="#e8141c">A</text>
<text x="326.5" y="705.1" font-size="34" text-anchor="start" fill="#e8141c">B</text>
<text x="520.5" y="705.8" font-size="34" text-anchor="start" fill="#e8141c">C</text>
<text x="716.5" y="706.2" font-size="34" text-anchor="start" fill="#e8141c">D</text>
<text x="911.6" y="704.1" font-size="34" text-anchor="start" fill="#e8141c">E</text>
<text x="126.0" y="427.0" font-size="26" text-anchor="start" fill="#e8141c">I</text>
<text x="133.5" y="438.0" font-size="20" text-anchor="start" fill="#e8141c">DSXR</text>
<text x="126.0" y="636.0" font-size="26" text-anchor="start" fill="#e8141c">I</text>
<text x="133.5" y="648.0" font-size="20" text-anchor="start" fill="#e8141c">DSXR</text>
<text x="129.0" y="845.0" font-size="25" text-anchor="start" fill="#e8141c">T</text>
<text x="143.5" y="856.0" font-size="18" text-anchor="start" fill="#e8141c">e</text>
<text x="106.3" y="265.2" font-size="21.5" text-anchor="end" fill="#000">0.3</text>
<text x="94.0" y="359.8" font-size="21.5" text-anchor="end" fill="#000">0</text>
<text x="112.0" y="455.2" font-size="21.5" text-anchor="end" fill="#000">-0.3</text>
<text x="106.3" y="474.0" font-size="21.5" text-anchor="end" fill="#000">0.3</text>
<text x="94.0" y="569.1" font-size="21.5" text-anchor="end" fill="#000">0</text>
<text x="112.0" y="663.5" font-size="21.5" text-anchor="end" fill="#000">-0.3</text>
<text x="106.3" y="682.2" font-size="21.5" text-anchor="end" fill="#000">0.3</text>
<text x="94.0" y="777.5" font-size="21.5" text-anchor="end" fill="#000">0</text>
<text x="112.0" y="872.5" font-size="21.5" text-anchor="end" fill="#000">-0.3</text>
<text transform="translate(61 352.2) rotate(-90)" x="0" y="0" font-size="24.5" text-anchor="middle">Z (m)</text>
<text transform="translate(61 561.2) rotate(-90)" x="0" y="0" font-size="24.5" text-anchor="middle">Z (m)</text>
<text transform="translate(61 769.6) rotate(-90)" x="0" y="0" font-size="24.5" text-anchor="middle">Z (m)</text>
<text x="121.5" y="894.5" font-size="22" text-anchor="middle" fill="#000">1.35</text>
<text x="218.3" y="894.5" font-size="22" text-anchor="middle" fill="#000">1.65</text>
<text x="315.2" y="894.5" font-size="22" text-anchor="middle" fill="#000">1.95</text>
<text x="218.3" y="926.0" font-size="25" text-anchor="middle" fill="#000">R (m)</text>
<text x="509.6" y="894.5" font-size="22" text-anchor="middle" fill="#000">1.35</text>
<text x="606.8" y="894.5" font-size="22" text-anchor="middle" fill="#000">1.65</text>
<text x="704.0" y="894.5" font-size="22" text-anchor="middle" fill="#000">1.95</text>
<text x="606.8" y="926.0" font-size="25" text-anchor="middle" fill="#000">R (m)</text>
<text x="898.4" y="894.5" font-size="22" text-anchor="middle" fill="#000">1.35</text>
<text x="996.4" y="894.5" font-size="22" text-anchor="middle" fill="#000">1.65</text>
<text x="1094.4" y="894.5" font-size="22" text-anchor="middle" fill="#000">1.95</text>
<text x="996.4" y="926.0" font-size="25" text-anchor="middle" fill="#000">R (m)</text>
<rect x="1100.2" y="441.54" width="11.6" height="3.26" fill="#000087"/><rect x="1100.2" y="438.58" width="11.6" height="3.26" fill="#000097"/><rect x="1100.2" y="435.62" width="11.6" height="3.26" fill="#0000a7"/><rect x="1100.2" y="432.66" width="11.6" height="3.26" fill="#0000b7"/><rect x="1100.2" y="429.70" width="11.6" height="3.26" fill="#0000c7"/><rect x="1100.2" y="426.73" width="11.6" height="3.26" fill="#0000d7"/><rect x="1100.2" y="423.77" width="11.6" height="3.26" fill="#0000e7"/><rect x="1100.2" y="420.81" width="11.6" height="3.26" fill="#0000f7"/><rect x="1100.2" y="417.85" width="11.6" height="3.26" fill="#0008ff"/><rect x="1100.2" y="414.89" width="11.6" height="3.26" fill="#0018ff"/><rect x="1100.2" y="411.93" width="11.6" height="3.26" fill="#0028ff"/><rect x="1100.2" y="408.97" width="11.6" height="3.26" fill="#0038ff"/><rect x="1100.2" y="406.01" width="11.6" height="3.26" fill="#0048ff"/><rect x="1100.2" y="403.05" width="11.6" height="3.26" fill="#0058ff"/><rect x="1100.2" y="400.09" width="11.6" height="3.26" fill="#0068ff"/><rect x="1100.2" y="397.12" width="11.6" height="3.26" fill="#0078ff"/><rect x="1100.2" y="394.16" width="11.6" height="3.26" fill="#0087ff"/><rect x="1100.2" y="391.20" width="11.6" height="3.26" fill="#0097ff"/><rect x="1100.2" y="388.24" width="11.6" height="3.26" fill="#00a7ff"/><rect x="1100.2" y="385.28" width="11.6" height="3.26" fill="#00b7ff"/><rect x="1100.2" y="382.32" width="11.6" height="3.26" fill="#00c7ff"/><rect x="1100.2" y="379.36" width="11.6" height="3.26" fill="#00d7ff"/><rect x="1100.2" y="376.40" width="11.6" height="3.26" fill="#00e7ff"/><rect x="1100.2" y="373.44" width="11.6" height="3.26" fill="#00f7ff"/><rect x="1100.2" y="370.48" width="11.6" height="3.26" fill="#08fff7"/><rect x="1100.2" y="367.52" width="11.6" height="3.26" fill="#18ffe7"/><rect x="1100.2" y="364.55" width="11.6" height="3.26" fill="#28ffd7"/><rect x="1100.2" y="361.59" width="11.6" height="3.26" fill="#38ffc7"/><rect x="1100.2" y="358.63" width="11.6" height="3.26" fill="#48ffb7"/><rect x="1100.2" y="355.67" width="11.6" height="3.26" fill="#58ffa7"/><rect x="1100.2" y="352.71" width="11.6" height="3.26" fill="#68ff97"/><rect x="1100.2" y="349.75" width="11.6" height="3.26" fill="#78ff87"/><rect x="1100.2" y="346.79" width="11.6" height="3.26" fill="#87ff78"/><rect x="1100.2" y="343.83" width="11.6" height="3.26" fill="#97ff68"/><rect x="1100.2" y="340.87" width="11.6" height="3.26" fill="#a7ff58"/><rect x="1100.2" y="337.91" width="11.6" height="3.26" fill="#b7ff48"/><rect x="1100.2" y="334.95" width="11.6" height="3.26" fill="#c7ff38"/><rect x="1100.2" y="331.98" width="11.6" height="3.26" fill="#d7ff28"/><rect x="1100.2" y="329.02" width="11.6" height="3.26" fill="#e7ff18"/><rect x="1100.2" y="326.06" width="11.6" height="3.26" fill="#f7ff08"/><rect x="1100.2" y="323.10" width="11.6" height="3.26" fill="#fff700"/><rect x="1100.2" y="320.14" width="11.6" height="3.26" fill="#ffe700"/><rect x="1100.2" y="317.18" width="11.6" height="3.26" fill="#ffd700"/><rect x="1100.2" y="314.22" width="11.6" height="3.26" fill="#ffc700"/><rect x="1100.2" y="311.26" width="11.6" height="3.26" fill="#ffb700"/><rect x="1100.2" y="308.30" width="11.6" height="3.26" fill="#ffa700"/><rect x="1100.2" y="305.34" width="11.6" height="3.26" fill="#ff9700"/><rect x="1100.2" y="302.38" width="11.6" height="3.26" fill="#ff8700"/><rect x="1100.2" y="299.41" width="11.6" height="3.26" fill="#ff7800"/><rect x="1100.2" y="296.45" width="11.6" height="3.26" fill="#ff6800"/><rect x="1100.2" y="293.49" width="11.6" height="3.26" fill="#ff5800"/><rect x="1100.2" y="290.53" width="11.6" height="3.26" fill="#ff4800"/><rect x="1100.2" y="287.57" width="11.6" height="3.26" fill="#ff3800"/><rect x="1100.2" y="284.61" width="11.6" height="3.26" fill="#ff2800"/><rect x="1100.2" y="281.65" width="11.6" height="3.26" fill="#ff1800"/><rect x="1100.2" y="278.69" width="11.6" height="3.26" fill="#ff0800"/><rect x="1100.2" y="275.73" width="11.6" height="3.26" fill="#f70000"/><rect x="1100.2" y="272.77" width="11.6" height="3.26" fill="#e70000"/><rect x="1100.2" y="269.80" width="11.6" height="3.26" fill="#d70000"/><rect x="1100.2" y="266.84" width="11.6" height="3.26" fill="#c70000"/><rect x="1100.2" y="263.88" width="11.6" height="3.26" fill="#b70000"/><rect x="1100.2" y="260.92" width="11.6" height="3.26" fill="#a70000"/><rect x="1100.2" y="257.96" width="11.6" height="3.26" fill="#970000"/><rect x="1100.2" y="255.00" width="11.6" height="3.26" fill="#870000"/><rect x="1100.2" y="255.0" width="11.6" height="189.5" fill="none" stroke="#333" stroke-width="1"/>
<rect x="1099.2" y="651.34" width="11.6" height="3.26" fill="#000087"/><rect x="1099.2" y="648.38" width="11.6" height="3.26" fill="#000097"/><rect x="1099.2" y="645.43" width="11.6" height="3.26" fill="#0000a7"/><rect x="1099.2" y="642.47" width="11.6" height="3.26" fill="#0000b7"/><rect x="1099.2" y="639.51" width="11.6" height="3.26" fill="#0000c7"/><rect x="1099.2" y="636.55" width="11.6" height="3.26" fill="#0000d7"/><rect x="1099.2" y="633.60" width="11.6" height="3.26" fill="#0000e7"/><rect x="1099.2" y="630.64" width="11.6" height="3.26" fill="#0000f7"/><rect x="1099.2" y="627.68" width="11.6" height="3.26" fill="#0008ff"/><rect x="1099.2" y="624.72" width="11.6" height="3.26" fill="#0018ff"/><rect x="1099.2" y="621.76" width="11.6" height="3.26" fill="#0028ff"/><rect x="1099.2" y="618.81" width="11.6" height="3.26" fill="#0038ff"/><rect x="1099.2" y="615.85" width="11.6" height="3.26" fill="#0048ff"/><rect x="1099.2" y="612.89" width="11.6" height="3.26" fill="#0058ff"/><rect x="1099.2" y="609.93" width="11.6" height="3.26" fill="#0068ff"/><rect x="1099.2" y="606.97" width="11.6" height="3.26" fill="#0078ff"/><rect x="1099.2" y="604.02" width="11.6" height="3.26" fill="#0087ff"/><rect x="1099.2" y="601.06" width="11.6" height="3.26" fill="#0097ff"/><rect x="1099.2" y="598.10" width="11.6" height="3.26" fill="#00a7ff"/><rect x="1099.2" y="595.14" width="11.6" height="3.26" fill="#00b7ff"/><rect x="1099.2" y="592.19" width="11.6" height="3.26" fill="#00c7ff"/><rect x="1099.2" y="589.23" width="11.6" height="3.26" fill="#00d7ff"/><rect x="1099.2" y="586.27" width="11.6" height="3.26" fill="#00e7ff"/><rect x="1099.2" y="583.31" width="11.6" height="3.26" fill="#00f7ff"/><rect x="1099.2" y="580.35" width="11.6" height="3.26" fill="#08fff7"/><rect x="1099.2" y="577.40" width="11.6" height="3.26" fill="#18ffe7"/><rect x="1099.2" y="574.44" width="11.6" height="3.26" fill="#28ffd7"/><rect x="1099.2" y="571.48" width="11.6" height="3.26" fill="#38ffc7"/><rect x="1099.2" y="568.52" width="11.6" height="3.26" fill="#48ffb7"/><rect x="1099.2" y="565.57" width="11.6" height="3.26" fill="#58ffa7"/><rect x="1099.2" y="562.61" width="11.6" height="3.26" fill="#68ff97"/><rect x="1099.2" y="559.65" width="11.6" height="3.26" fill="#78ff87"/><rect x="1099.2" y="556.69" width="11.6" height="3.26" fill="#87ff78"/><rect x="1099.2" y="553.73" width="11.6" height="3.26" fill="#97ff68"/><rect x="1099.2" y="550.78" width="11.6" height="3.26" fill="#a7ff58"/><rect x="1099.2" y="547.82" width="11.6" height="3.26" fill="#b7ff48"/><rect x="1099.2" y="544.86" width="11.6" height="3.26" fill="#c7ff38"/><rect x="1099.2" y="541.90" width="11.6" height="3.26" fill="#d7ff28"/><rect x="1099.2" y="538.95" width="11.6" height="3.26" fill="#e7ff18"/><rect x="1099.2" y="535.99" width="11.6" height="3.26" fill="#f7ff08"/><rect x="1099.2" y="533.03" width="11.6" height="3.26" fill="#fff700"/><rect x="1099.2" y="530.07" width="11.6" height="3.26" fill="#ffe700"/><rect x="1099.2" y="527.11" width="11.6" height="3.26" fill="#ffd700"/><rect x="1099.2" y="524.16" width="11.6" height="3.26" fill="#ffc700"/><rect x="1099.2" y="521.20" width="11.6" height="3.26" fill="#ffb700"/><rect x="1099.2" y="518.24" width="11.6" height="3.26" fill="#ffa700"/><rect x="1099.2" y="515.28" width="11.6" height="3.26" fill="#ff9700"/><rect x="1099.2" y="512.33" width="11.6" height="3.26" fill="#ff8700"/><rect x="1099.2" y="509.37" width="11.6" height="3.26" fill="#ff7800"/><rect x="1099.2" y="506.41" width="11.6" height="3.26" fill="#ff6800"/><rect x="1099.2" y="503.45" width="11.6" height="3.26" fill="#ff5800"/><rect x="1099.2" y="500.49" width="11.6" height="3.26" fill="#ff4800"/><rect x="1099.2" y="497.54" width="11.6" height="3.26" fill="#ff3800"/><rect x="1099.2" y="494.58" width="11.6" height="3.26" fill="#ff2800"/><rect x="1099.2" y="491.62" width="11.6" height="3.26" fill="#ff1800"/><rect x="1099.2" y="488.66" width="11.6" height="3.26" fill="#ff0800"/><rect x="1099.2" y="485.70" width="11.6" height="3.26" fill="#f70000"/><rect x="1099.2" y="482.75" width="11.6" height="3.26" fill="#e70000"/><rect x="1099.2" y="479.79" width="11.6" height="3.26" fill="#d70000"/><rect x="1099.2" y="476.83" width="11.6" height="3.26" fill="#c70000"/><rect x="1099.2" y="473.87" width="11.6" height="3.26" fill="#b70000"/><rect x="1099.2" y="470.92" width="11.6" height="3.26" fill="#a70000"/><rect x="1099.2" y="467.96" width="11.6" height="3.26" fill="#970000"/><rect x="1099.2" y="465.00" width="11.6" height="3.26" fill="#870000"/><rect x="1099.2" y="465.0" width="11.6" height="189.3" fill="none" stroke="#333" stroke-width="1"/>
<rect x="1102.4" y="860.05" width="11.8" height="3.25" fill="#000087"/><rect x="1102.4" y="857.09" width="11.8" height="3.25" fill="#000097"/><rect x="1102.4" y="854.14" width="11.8" height="3.25" fill="#0000a7"/><rect x="1102.4" y="851.19" width="11.8" height="3.25" fill="#0000b7"/><rect x="1102.4" y="848.23" width="11.8" height="3.25" fill="#0000c7"/><rect x="1102.4" y="845.28" width="11.8" height="3.25" fill="#0000d7"/><rect x="1102.4" y="842.33" width="11.8" height="3.25" fill="#0000e7"/><rect x="1102.4" y="839.38" width="11.8" height="3.25" fill="#0000f7"/><rect x="1102.4" y="836.42" width="11.8" height="3.25" fill="#0008ff"/><rect x="1102.4" y="833.47" width="11.8" height="3.25" fill="#0018ff"/><rect x="1102.4" y="830.52" width="11.8" height="3.25" fill="#0028ff"/><rect x="1102.4" y="827.56" width="11.8" height="3.25" fill="#0038ff"/><rect x="1102.4" y="824.61" width="11.8" height="3.25" fill="#0048ff"/><rect x="1102.4" y="821.66" width="11.8" height="3.25" fill="#0058ff"/><rect x="1102.4" y="818.70" width="11.8" height="3.25" fill="#0068ff"/><rect x="1102.4" y="815.75" width="11.8" height="3.25" fill="#0078ff"/><rect x="1102.4" y="812.80" width="11.8" height="3.25" fill="#0087ff"/><rect x="1102.4" y="809.84" width="11.8" height="3.25" fill="#0097ff"/><rect x="1102.4" y="806.89" width="11.8" height="3.25" fill="#00a7ff"/><rect x="1102.4" y="803.94" width="11.8" height="3.25" fill="#00b7ff"/><rect x="1102.4" y="800.98" width="11.8" height="3.25" fill="#00c7ff"/><rect x="1102.4" y="798.03" width="11.8" height="3.25" fill="#00d7ff"/><rect x="1102.4" y="795.08" width="11.8" height="3.25" fill="#00e7ff"/><rect x="1102.4" y="792.12" width="11.8" height="3.25" fill="#00f7ff"/><rect x="1102.4" y="789.17" width="11.8" height="3.25" fill="#08fff7"/><rect x="1102.4" y="786.22" width="11.8" height="3.25" fill="#18ffe7"/><rect x="1102.4" y="783.27" width="11.8" height="3.25" fill="#28ffd7"/><rect x="1102.4" y="780.31" width="11.8" height="3.25" fill="#38ffc7"/><rect x="1102.4" y="777.36" width="11.8" height="3.25" fill="#48ffb7"/><rect x="1102.4" y="774.41" width="11.8" height="3.25" fill="#58ffa7"/><rect x="1102.4" y="771.45" width="11.8" height="3.25" fill="#68ff97"/><rect x="1102.4" y="768.50" width="11.8" height="3.25" fill="#78ff87"/><rect x="1102.4" y="765.55" width="11.8" height="3.25" fill="#87ff78"/><rect x="1102.4" y="762.59" width="11.8" height="3.25" fill="#97ff68"/><rect x="1102.4" y="759.64" width="11.8" height="3.25" fill="#a7ff58"/><rect x="1102.4" y="756.69" width="11.8" height="3.25" fill="#b7ff48"/><rect x="1102.4" y="753.73" width="11.8" height="3.25" fill="#c7ff38"/><rect x="1102.4" y="750.78" width="11.8" height="3.25" fill="#d7ff28"/><rect x="1102.4" y="747.83" width="11.8" height="3.25" fill="#e7ff18"/><rect x="1102.4" y="744.88" width="11.8" height="3.25" fill="#f7ff08"/><rect x="1102.4" y="741.92" width="11.8" height="3.25" fill="#fff700"/><rect x="1102.4" y="738.97" width="11.8" height="3.25" fill="#ffe700"/><rect x="1102.4" y="736.02" width="11.8" height="3.25" fill="#ffd700"/><rect x="1102.4" y="733.06" width="11.8" height="3.25" fill="#ffc700"/><rect x="1102.4" y="730.11" width="11.8" height="3.25" fill="#ffb700"/><rect x="1102.4" y="727.16" width="11.8" height="3.25" fill="#ffa700"/><rect x="1102.4" y="724.20" width="11.8" height="3.25" fill="#ff9700"/><rect x="1102.4" y="721.25" width="11.8" height="3.25" fill="#ff8700"/><rect x="1102.4" y="718.30" width="11.8" height="3.25" fill="#ff7800"/><rect x="1102.4" y="715.34" width="11.8" height="3.25" fill="#ff6800"/><rect x="1102.4" y="712.39" width="11.8" height="3.25" fill="#ff5800"/><rect x="1102.4" y="709.44" width="11.8" height="3.25" fill="#ff4800"/><rect x="1102.4" y="706.48" width="11.8" height="3.25" fill="#ff3800"/><rect x="1102.4" y="703.53" width="11.8" height="3.25" fill="#ff2800"/><rect x="1102.4" y="700.58" width="11.8" height="3.25" fill="#ff1800"/><rect x="1102.4" y="697.62" width="11.8" height="3.25" fill="#ff0800"/><rect x="1102.4" y="694.67" width="11.8" height="3.25" fill="#f70000"/><rect x="1102.4" y="691.72" width="11.8" height="3.25" fill="#e70000"/><rect x="1102.4" y="688.77" width="11.8" height="3.25" fill="#d70000"/><rect x="1102.4" y="685.81" width="11.8" height="3.25" fill="#c70000"/><rect x="1102.4" y="682.86" width="11.8" height="3.25" fill="#b70000"/><rect x="1102.4" y="679.91" width="11.8" height="3.25" fill="#a70000"/><rect x="1102.4" y="676.95" width="11.8" height="3.25" fill="#970000"/><rect x="1102.4" y="674.00" width="11.8" height="3.25" fill="#870000"/><rect x="1102.4" y="674.0" width="11.8" height="189.0" fill="none" stroke="#333" stroke-width="1"/>
<text x="1117" y="271.2" font-size="18">(W/m<tspan dy="-8.5" font-size="13">3</tspan><tspan dy="8.5" font-size="18">)</tspan></text>
<text x="1120.5" y="300.5" font-size="19.5" text-anchor="start" fill="#000">200</text>
<text x="1120.5" y="376.5" font-size="19.5" text-anchor="start" fill="#000">100</text>
<text x="1120.5" y="451.5" font-size="19.5" text-anchor="start" fill="#000">0</text>
<text x="1117" y="481.5" font-size="18">(W/m<tspan dy="-8.5" font-size="13">3</tspan><tspan dy="8.5" font-size="18">)</tspan></text>
<text x="1120.5" y="512.0" font-size="19.5" text-anchor="start" fill="#000">200</text>
<text x="1120.5" y="587.0" font-size="19.5" text-anchor="start" fill="#000">100</text>
<text x="1120.5" y="662.5" font-size="19.5" text-anchor="start" fill="#000">0</text>
<text x="1123.3" y="699.0" font-size="19.5" text-anchor="start" fill="#000">1</text>
<text x="1118.5" y="718.2" font-size="18.5" text-anchor="start" fill="#000">(keV)</text>
<text x="1123.3" y="785.0" font-size="19.5" text-anchor="start" fill="#000">0.5</text>
<text x="1123.3" y="871.5" font-size="19.5" text-anchor="start" fill="#000">0</text>
</svg></body></html>
